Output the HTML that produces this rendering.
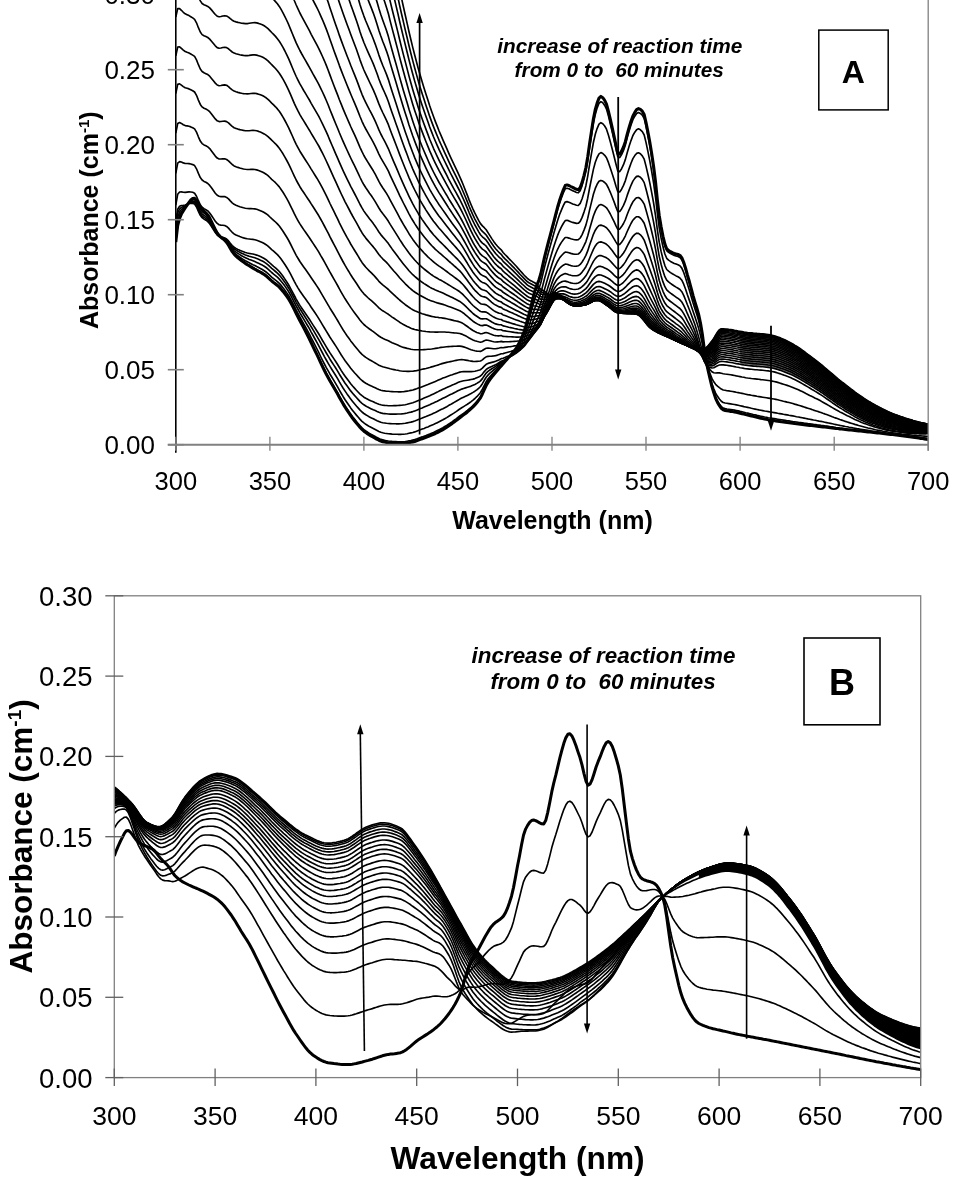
<!DOCTYPE html><html><head><meta charset="utf-8"><style>html,body{margin:0;padding:0;background:#fff;}svg{display:block;will-change:transform;}text{font-family:"Liberation Sans",sans-serif;}</style></head><body>
<svg width="966" height="1186" viewBox="0 0 966 1186">
<rect width="966" height="1186" fill="#fff"/>
<defs><clipPath id="ca"><rect x="175.8" y="-20" width="752.4000000000001" height="464.7"/></clipPath>
<clipPath id="cb"><rect x="114.3" y="595.8" width="806.4" height="481.79999999999995"/></clipPath></defs>
<g clip-path="url(#ca)"><polygon points="740.1,331.3 742.0,331.6 743.9,332.0 745.7,332.2 747.6,332.5 749.5,332.7 751.4,332.9 753.3,333.1 755.1,333.2 757.0,333.4 758.9,333.5 760.8,333.7 762.7,333.9 764.6,334.1 766.4,334.3 768.3,334.5 770.2,334.8 772.1,335.2 774.0,335.7 775.8,336.2 777.7,336.9 779.6,337.6 781.5,338.4 783.4,339.2 785.2,340.1 787.1,341.0 789.0,341.9 790.9,342.9 792.8,343.9 794.6,345.1 796.5,346.3 798.4,347.5 800.3,348.8 802.2,350.1 804.1,351.5 805.9,352.9 807.8,354.3 809.7,355.7 811.6,357.1 813.5,358.6 815.3,360.0 817.2,361.4 819.1,362.9 821.0,364.4 822.9,366.0 824.7,367.6 826.6,369.2 828.5,370.8 830.4,372.4 832.3,374.0 834.2,375.6 836.0,377.2 837.9,378.8 839.8,380.3 841.7,381.8 843.6,383.2 845.4,384.7 847.3,386.2 849.2,387.6 851.1,389.1 853.0,390.5 854.8,391.9 856.7,393.3 858.6,394.7 860.5,396.0 862.4,397.3 864.2,398.5 866.1,399.7 868.0,400.9 869.9,402.0 871.8,403.1 873.7,404.2 875.5,405.2 877.4,406.2 879.3,407.3 881.2,408.2 883.1,409.2 884.9,410.1 886.8,411.0 888.7,411.9 890.6,412.7 892.5,413.5 894.3,414.2 896.2,414.9 898.1,415.6 900.0,416.2 901.9,416.9 903.7,417.5 905.6,418.2 907.5,418.8 909.4,419.4 911.3,419.9 913.2,420.5 915.0,421.0 916.9,421.5 918.8,422.0 920.7,422.5 922.6,422.9 924.4,423.3 926.3,423.7 928.2,424.0 928.2,431.6 926.3,431.7 924.4,431.8 922.6,431.9 920.7,431.9 918.8,431.9 916.9,431.8 915.0,431.8 913.2,431.7 911.3,431.6 909.4,431.4 907.5,431.2 905.6,431.1 903.7,430.9 901.9,430.6 900.0,430.4 898.1,430.1 896.2,429.8 894.3,429.5 892.5,429.2 890.6,428.8 888.7,428.4 886.8,427.9 884.9,427.4 883.1,426.9 881.2,426.3 879.3,425.7 877.4,425.0 875.5,424.3 873.7,423.6 871.8,422.9 869.9,422.2 868.0,421.4 866.1,420.6 864.2,419.7 862.4,418.8 860.5,417.9 858.6,416.8 856.7,415.8 854.8,414.7 853.0,413.6 851.1,412.5 849.2,411.3 847.3,410.2 845.4,409.0 843.6,407.8 841.7,406.6 839.8,405.4 837.9,404.2 836.0,402.9 834.2,401.5 832.3,400.2 830.4,398.8 828.5,397.5 826.6,396.1 824.7,394.8 822.9,393.4 821.0,392.2 819.1,390.9 817.2,389.7 815.3,388.5 813.5,387.4 811.6,386.2 809.7,385.1 807.8,383.9 805.9,382.7 804.1,381.6 802.2,380.5 800.3,379.4 798.4,378.3 796.5,377.3 794.6,376.3 792.8,375.3 790.9,374.5 789.0,373.7 787.1,372.9 785.2,372.2 783.4,371.5 781.5,370.8 779.6,370.1 777.7,369.5 775.8,368.9 774.0,368.4 772.1,368.0 770.2,367.7 768.3,367.4 766.4,367.2 764.6,367.0 762.7,366.8 760.8,366.7 758.9,366.5 757.0,366.4 755.1,366.2 753.3,366.1 751.4,365.9 749.5,365.7 747.6,365.5 745.7,365.2 743.9,365.0 742.0,364.6 740.1,364.3" fill="#000" fill-opacity="0.55"/><polyline points="175.8,242.2 177.7,225.6 179.6,218.4 181.4,214.1 183.3,210.9 185.2,208.0 187.1,205.1 189.0,202.3 190.8,200.0 192.7,198.5 194.6,198.2 196.5,200.2 198.4,203.8 200.3,207.4 202.1,209.6 204.0,211.2 205.9,212.8 207.8,214.9 209.7,217.9 211.5,221.6 213.4,225.6 215.3,229.5 217.2,232.9 219.1,235.4 220.9,237.2 222.8,238.7 224.7,240.3 226.6,242.4 228.5,245.3 230.3,248.5 232.2,251.7 234.1,254.2 236.0,256.1 237.9,257.8 239.8,259.3 241.6,260.7 243.5,262.1 245.4,263.4 247.3,264.7 249.2,265.8 251.0,267.0 252.9,268.1 254.8,269.2 256.7,270.3 258.6,271.3 260.4,272.3 262.3,273.4 264.2,274.6 266.1,275.9 268.0,277.6 269.9,279.3 271.7,281.0 273.6,282.6 275.5,284.0 277.4,285.5 279.3,287.2 281.1,289.2 283.0,291.4 284.9,293.8 286.8,296.4 288.7,299.2 290.5,302.3 292.4,305.9 294.3,309.7 296.2,313.5 298.1,317.2 299.9,320.8 301.8,324.3 303.7,327.9 305.6,331.5 307.5,335.2 309.4,339.0 311.2,342.9 313.1,346.8 315.0,350.8 316.9,354.7 318.8,358.7 320.6,362.7 322.5,366.6 324.4,370.5 326.3,374.2 328.2,377.7 330.0,381.0 331.9,384.2 333.8,387.4 335.7,390.7 337.6,394.1 339.4,397.5 341.3,400.8 343.2,404.1 345.1,407.2 347.0,410.1 348.9,413.0 350.7,415.7 352.6,418.3 354.5,420.7 356.4,423.1 358.3,425.4 360.1,427.5 362.0,429.5 363.9,431.2 365.8,432.6 367.7,433.9 369.5,435.1 371.4,436.2 373.3,437.2 375.2,438.3 377.1,439.3 378.9,440.3 380.8,441.1 382.7,441.7 384.6,442.1 386.5,442.5 388.4,442.8 390.2,443.0 392.1,443.2 394.0,443.3 395.9,443.5 397.8,443.6 399.6,443.6 401.5,443.6 403.4,443.6 405.3,443.4 407.2,443.1 409.0,442.8 410.9,442.4 412.8,442.0 414.7,441.5 416.6,440.8 418.4,440.1 420.3,439.4 422.2,438.8 424.1,438.1 426.0,437.4 427.9,436.7 429.7,435.9 431.6,435.1 433.5,434.3 435.4,433.5 437.3,432.6 439.1,431.6 441.0,430.7 442.9,429.6 444.8,428.5 446.7,427.3 448.5,426.0 450.4,424.7 452.3,423.4 454.2,422.0 456.1,420.6 457.9,419.2 459.8,417.8 461.7,416.3 463.6,414.9 465.5,413.5 467.4,412.0 469.2,410.4 471.1,408.7 473.0,406.9 474.9,404.9 476.8,402.8 478.6,400.4 480.5,397.8 482.4,394.0 484.3,389.7 486.2,385.6 488.0,382.5 489.9,379.7 491.8,377.1 493.7,374.7 495.6,372.5 497.5,370.3 499.3,368.1 501.2,366.0 503.1,363.8 505.0,361.5 506.9,359.4 508.7,357.3 510.6,355.3 512.5,353.1 514.4,350.7 516.3,348.1 518.1,345.0 520.0,341.2 521.9,337.0 523.8,332.2 525.7,326.5 527.5,319.7 529.4,312.7 531.3,305.1 533.2,297.1 535.1,289.9 537.0,284.7 538.8,280.2 540.7,274.0 542.6,265.6 544.5,257.2 546.4,249.7 548.2,242.6 550.1,235.6 552.0,228.5 553.9,221.3 555.8,214.0 557.6,207.0 559.5,200.6 561.4,195.0 563.3,189.8 565.2,185.5 567.0,184.9 568.9,185.5 570.8,186.5 572.7,187.4 574.6,188.4 576.5,189.3 578.3,189.7 580.2,187.5 582.1,182.3 584.0,175.3 585.9,167.6 587.7,156.9 589.6,143.5 591.5,131.1 593.4,118.8 595.3,109.4 597.1,103.1 599.0,98.1 600.9,96.4 602.8,97.7 604.7,100.3 606.5,104.2 608.4,111.2 610.3,119.2 612.2,127.6 614.1,136.3 616.0,145.4 617.8,153.3 619.7,154.1 621.6,151.1 623.5,146.9 625.4,141.4 627.2,134.2 629.1,127.4 631.0,121.3 632.9,115.9 634.8,112.4 636.6,109.6 638.5,108.6 640.4,109.4 642.3,111.2 644.2,114.5 646.0,122.4 647.9,131.9 649.8,142.0 651.7,153.6 653.6,166.3 655.5,181.5 657.3,199.1 659.2,215.2 661.1,226.6 663.0,236.3 664.9,244.1 666.7,248.7 668.6,250.5 670.5,251.7 672.4,252.7 674.3,253.4 676.1,254.0 678.0,254.5 679.9,255.3 681.8,257.6 683.7,262.2 685.6,268.2 687.4,274.9 689.3,281.3 691.2,288.3 693.1,295.6 695.0,302.1 696.8,308.0 698.7,314.6 700.6,323.5 702.5,335.1 704.4,349.6 706.2,361.8 708.1,370.3 710.0,378.6 711.9,386.6 713.8,392.9 715.6,398.3 717.5,402.4 719.4,405.7 721.3,408.4 723.2,409.9 725.1,410.5 726.9,410.8 728.8,411.1 730.7,411.4 732.6,411.6 734.5,412.0 736.3,412.4 738.2,412.8 740.1,413.2 742.0,413.7 743.9,414.1 745.7,414.6 747.6,415.0 749.5,415.5 751.4,416.0 753.3,416.4 755.1,416.9 757.0,417.3 758.9,417.7 760.8,418.2 762.7,418.6 764.6,419.0 766.4,419.3 768.3,419.7 770.2,420.0 772.1,420.3 774.0,420.6 775.8,420.9 777.7,421.2 779.6,421.5 781.5,421.8 783.4,422.0 785.2,422.3 787.1,422.6 789.0,422.8 790.9,423.1 792.8,423.3 794.6,423.6 796.5,423.8 798.4,424.0 800.3,424.3 802.2,424.5 804.1,424.7 805.9,424.9 807.8,425.2 809.7,425.4 811.6,425.6 813.5,425.8 815.3,426.0 817.2,426.2 819.1,426.5 821.0,426.7 822.9,426.9 824.7,427.1 826.6,427.3 828.5,427.5 830.4,427.8 832.3,428.0 834.2,428.2 836.0,428.4 837.9,428.6 839.8,428.9 841.7,429.1 843.6,429.3 845.4,429.5 847.3,429.7 849.2,429.9 851.1,430.1 853.0,430.3 854.8,430.5 856.7,430.7 858.6,430.9 860.5,431.1 862.4,431.3 864.2,431.5 866.1,431.7 868.0,431.9 869.9,432.1 871.8,432.3 873.7,432.5 875.5,432.7 877.4,432.9 879.3,433.1 881.2,433.3 883.1,433.5 884.9,433.7 886.8,433.9 888.7,434.2 890.6,434.4 892.5,434.6 894.3,434.8 896.2,435.1 898.1,435.3 900.0,435.5 901.9,435.8 903.7,436.0 905.6,436.3 907.5,436.5 909.4,436.8 911.3,437.0 913.2,437.3 915.0,437.6 916.9,437.8 918.8,438.1 920.7,438.4 922.6,438.6 924.4,438.9 926.3,439.2 928.2,439.4" fill="none" stroke="#000" stroke-width="3.0" stroke-linejoin="round"/>
<polyline points="175.8,241.2 177.7,224.8 179.6,217.8 181.4,213.6 183.3,210.6 185.2,207.9 187.1,205.0 189.0,202.4 190.8,200.2 192.7,198.7 194.6,198.5 196.5,200.5 198.4,204.2 200.3,207.8 202.1,210.0 204.0,211.6 205.9,213.1 207.8,215.2 209.7,218.2 211.5,221.8 213.4,225.8 215.3,229.6 217.2,233.0 219.1,235.5 220.9,237.2 222.8,238.6 224.7,240.2 226.6,242.2 228.5,245.1 230.3,248.3 232.2,251.4 234.1,253.9 236.0,255.7 237.9,257.4 239.8,258.9 241.6,260.3 243.5,261.6 245.4,262.9 247.3,264.1 249.2,265.2 251.0,266.3 252.9,267.4 254.8,268.5 256.7,269.5 258.6,270.6 260.4,271.6 262.3,272.6 264.2,273.8 266.1,275.1 268.0,276.8 269.9,278.5 271.7,280.3 273.6,281.8 275.5,283.2 277.4,284.7 279.3,286.4 281.1,288.4 283.0,290.7 284.9,293.1 286.8,295.7 288.7,298.5 290.5,301.7 292.4,305.2 294.3,309.0 296.2,312.8 298.1,316.5 299.9,320.0 301.8,323.6 303.7,327.1 305.6,330.7 307.5,334.3 309.4,338.1 311.2,341.9 313.1,345.8 315.0,349.7 316.9,353.6 318.8,357.5 320.6,361.4 322.5,365.4 324.4,369.2 326.3,372.9 328.2,376.3 330.0,379.6 331.9,382.9 333.8,386.1 335.7,389.3 337.6,392.6 339.4,396.0 341.3,399.4 343.2,402.6 345.1,405.7 347.0,408.6 348.9,411.4 350.7,414.1 352.6,416.7 354.5,419.1 356.4,421.5 358.3,423.8 360.1,425.9 362.0,427.9 363.9,429.6 365.8,431.0 367.7,432.3 369.5,433.4 371.4,434.5 373.3,435.5 375.2,436.5 377.1,437.6 378.9,438.5 380.8,439.4 382.7,439.9 384.6,440.4 386.5,440.7 388.4,441.0 390.2,441.2 392.1,441.4 394.0,441.5 395.9,441.6 397.8,441.7 399.6,441.8 401.5,441.8 403.4,441.7 405.3,441.5 407.2,441.2 409.0,440.9 410.9,440.6 412.8,440.1 414.7,439.6 416.6,438.9 418.4,438.2 420.3,437.5 422.2,436.9 424.1,436.2 426.0,435.5 427.9,434.7 429.7,434.0 431.6,433.2 433.5,432.4 435.4,431.5 437.3,430.6 439.1,429.7 441.0,428.7 442.9,427.7 444.8,426.5 446.7,425.4 448.5,424.1 450.4,422.9 452.3,421.6 454.2,420.2 456.1,418.8 457.9,417.4 459.8,416.0 461.7,414.7 463.6,413.3 465.5,411.9 467.4,410.4 469.2,408.9 471.1,407.3 473.0,405.5 474.9,403.6 476.8,401.6 478.6,399.3 480.5,396.7 482.4,393.1 484.3,388.8 486.2,384.9 488.0,381.8 489.9,379.1 491.8,376.6 493.7,374.3 495.6,372.1 497.5,370.0 499.3,367.9 501.2,365.8 503.1,363.6 505.0,361.4 506.9,359.3 508.7,357.3 510.6,355.3 512.5,353.2 514.4,350.9 516.3,348.3 518.1,345.3 520.0,341.7 521.9,337.5 523.8,332.8 525.7,327.2 527.5,320.7 529.4,313.8 531.3,306.4 533.2,298.6 535.1,291.5 537.0,286.4 538.8,281.9 540.7,275.8 542.6,267.5 544.5,259.2 546.4,251.8 548.2,244.7 550.1,237.7 552.0,230.8 553.9,223.6 555.8,216.5 557.6,209.7 559.5,203.5 561.4,198.0 563.3,193.0 565.2,188.8 567.0,188.2 568.9,188.8 570.8,189.8 572.7,190.7 574.6,191.6 576.5,192.5 578.3,192.8 580.2,190.6 582.1,185.6 584.0,178.8 585.9,171.2 587.7,160.8 589.6,147.6 591.5,135.5 593.4,123.5 595.3,114.4 597.1,108.1 599.0,103.3 600.9,101.6 602.8,102.8 604.7,105.4 606.5,109.1 608.4,115.9 610.3,123.7 612.2,131.8 614.1,140.2 616.0,149.1 617.8,156.8 619.7,157.6 621.6,154.6 623.5,150.4 625.4,144.9 627.2,137.8 629.1,131.1 631.0,125.1 632.9,119.7 634.8,116.2 636.6,113.5 638.5,112.5 640.4,113.4 642.3,115.2 644.2,118.5 646.0,126.3 647.9,135.8 649.8,145.7 651.7,157.1 653.6,169.6 655.5,184.5 657.3,201.8 659.2,217.6 661.1,228.9 663.0,238.4 664.9,246.1 666.7,250.6 668.6,252.4 670.5,253.6 672.4,254.6 674.3,255.4 676.1,256.0 678.0,256.5 679.9,257.4 681.8,259.6 683.7,264.2 685.6,270.2 687.4,276.7 689.3,283.0 691.2,289.9 693.1,297.1 695.0,303.5 696.8,309.4 698.7,315.9 700.6,324.7 702.5,336.1 704.4,350.1 706.2,362.0 708.1,370.1 710.0,378.1 711.9,385.8 713.8,391.9 715.6,397.0 717.5,400.8 719.4,404.0 721.3,406.6 723.2,408.0 725.1,408.6 726.9,409.0 728.8,409.2 730.7,409.5 732.6,409.8 734.5,410.1 736.3,410.5 738.2,410.9 740.1,411.4 742.0,411.8 743.9,412.2 745.7,412.7 747.6,413.1 749.5,413.6 751.4,414.0 753.3,414.5 755.1,414.9 757.0,415.4 758.9,415.8 760.8,416.2 762.7,416.6 764.6,417.0 766.4,417.3 768.3,417.7 770.2,418.0 772.1,418.3 774.0,418.6 775.8,418.9 777.7,419.2 779.6,419.5 781.5,419.8 783.4,420.1 785.2,420.4 787.1,420.7 789.0,420.9 790.9,421.2 792.8,421.5 794.6,421.7 796.5,422.0 798.4,422.3 800.3,422.5 802.2,422.8 804.1,423.1 805.9,423.3 807.8,423.6 809.7,423.8 811.6,424.1 813.5,424.4 815.3,424.6 817.2,424.9 819.1,425.1 821.0,425.4 822.9,425.6 824.7,425.9 826.6,426.1 828.5,426.4 830.4,426.7 832.3,426.9 834.2,427.2 836.0,427.5 837.9,427.7 839.8,428.0 841.7,428.2 843.6,428.5 845.4,428.7 847.3,429.0 849.2,429.2 851.1,429.5 853.0,429.7 854.8,429.9 856.7,430.2 858.6,430.4 860.5,430.6 862.4,430.8 864.2,431.1 866.1,431.3 868.0,431.5 869.9,431.7 871.8,432.0 873.7,432.2 875.5,432.4 877.4,432.6 879.3,432.8 881.2,433.1 883.1,433.3 884.9,433.5 886.8,433.7 888.7,434.0 890.6,434.2 892.5,434.4 894.3,434.7 896.2,434.9 898.1,435.1 900.0,435.4 901.9,435.6 903.7,435.9 905.6,436.1 907.5,436.4 909.4,436.6 911.3,436.9 913.2,437.1 915.0,437.4 916.9,437.6 918.8,437.9 920.7,438.1 922.6,438.4 924.4,438.6 926.3,438.9 928.2,439.2" fill="none" stroke="#000" stroke-width="1.65" stroke-linejoin="round"/>
<polyline points="175.8,237.1 177.7,221.6 179.6,215.5 181.4,212.0 183.3,209.5 185.2,207.3 187.1,204.9 189.0,202.6 190.8,200.8 192.7,199.7 194.6,199.6 196.5,201.8 198.4,205.7 200.3,209.3 202.1,211.6 204.0,213.1 205.9,214.6 207.8,216.5 209.7,219.3 211.5,222.8 213.4,226.6 215.3,230.2 217.2,233.4 219.1,235.7 220.9,237.2 222.8,238.4 224.7,239.7 226.6,241.6 228.5,244.2 230.3,247.2 232.2,250.2 234.1,252.5 236.0,254.2 237.9,255.8 239.8,257.1 241.6,258.4 243.5,259.6 245.4,260.8 247.3,261.8 249.2,262.8 251.0,263.7 252.9,264.7 254.8,265.6 256.7,266.6 258.6,267.5 260.4,268.5 262.3,269.5 264.2,270.7 266.1,272.0 268.0,273.6 269.9,275.4 271.7,277.1 273.6,278.6 275.5,280.1 277.4,281.6 279.3,283.4 281.1,285.4 283.0,287.7 284.9,290.2 286.8,292.9 288.7,295.7 290.5,298.9 292.4,302.5 294.3,306.2 296.2,310.0 298.1,313.6 299.9,317.0 301.8,320.4 303.7,323.8 305.6,327.2 307.5,330.6 309.4,334.2 311.2,337.8 313.1,341.5 315.0,345.2 316.9,348.9 318.8,352.7 320.6,356.5 322.5,360.3 324.4,364.0 326.3,367.6 328.2,370.9 330.0,374.2 331.9,377.3 333.8,380.4 335.7,383.6 337.6,386.9 339.4,390.2 341.3,393.5 343.2,396.7 345.1,399.7 347.0,402.5 348.9,405.3 350.7,407.9 352.6,410.4 354.5,412.8 356.4,415.1 358.3,417.3 360.1,419.4 362.0,421.3 363.9,422.9 365.8,424.3 367.7,425.5 369.5,426.6 371.4,427.6 373.3,428.6 375.2,429.6 377.1,430.6 378.9,431.5 380.8,432.3 382.7,432.8 384.6,433.2 386.5,433.5 388.4,433.8 390.2,433.9 392.1,434.1 394.0,434.2 395.9,434.2 397.8,434.3 399.6,434.3 401.5,434.3 403.4,434.2 405.3,434.0 407.2,433.7 409.0,433.3 410.9,432.9 412.8,432.5 414.7,431.9 416.6,431.2 418.4,430.5 420.3,429.8 422.2,429.1 424.1,428.4 426.0,427.6 427.9,426.9 429.7,426.1 431.6,425.3 433.5,424.5 435.4,423.6 437.3,422.7 439.1,421.8 441.0,420.8 442.9,419.8 444.8,418.7 446.7,417.6 448.5,416.5 450.4,415.3 452.3,414.1 454.2,412.9 456.1,411.6 457.9,410.3 459.8,409.0 461.7,407.8 463.6,406.6 465.5,405.4 467.4,404.2 469.2,403.0 471.1,401.6 473.0,400.1 474.9,398.5 476.8,396.7 478.6,394.7 480.5,392.5 482.4,389.2 484.3,385.3 486.2,381.7 488.0,379.0 489.9,376.7 491.8,374.5 493.7,372.5 495.6,370.6 497.5,368.7 499.3,366.8 501.2,364.9 503.1,363.0 505.0,361.0 506.9,359.1 508.7,357.4 510.6,355.6 512.5,353.7 514.4,351.6 516.3,349.3 518.1,346.6 520.0,343.3 521.9,339.6 523.8,335.4 525.7,330.4 527.5,324.5 529.4,318.3 531.3,311.6 533.2,304.5 535.1,298.1 537.0,293.3 538.8,289.0 540.7,283.2 542.6,275.3 544.5,267.3 546.4,260.2 548.2,253.3 550.1,246.5 552.0,239.8 553.9,233.0 555.8,226.5 557.6,220.4 559.5,214.8 561.4,210.1 563.3,205.7 565.2,202.0 567.0,201.6 568.9,202.2 570.8,203.1 572.7,203.9 574.6,204.6 576.5,205.3 578.3,205.5 580.2,203.4 582.1,198.8 584.0,192.6 585.9,185.7 587.7,176.3 589.6,164.4 591.5,153.4 593.4,142.5 595.3,134.2 597.1,128.6 599.0,124.2 600.9,122.7 602.8,123.8 604.7,126.0 606.5,129.2 608.4,135.0 610.3,141.8 612.2,149.0 614.1,156.5 616.0,164.3 617.8,171.1 619.7,171.6 621.6,168.7 623.5,164.7 625.4,159.4 627.2,152.7 629.1,146.3 631.0,140.6 632.9,135.5 634.8,132.2 636.6,129.7 638.5,128.8 640.4,129.8 642.3,131.7 644.2,135.0 646.0,142.4 647.9,151.4 649.8,160.8 651.7,171.5 653.6,183.2 655.5,197.0 657.3,213.0 659.2,227.6 661.1,238.0 663.0,246.8 664.9,254.0 666.7,258.3 668.6,260.1 670.5,261.4 672.4,262.4 674.3,263.4 676.1,264.1 678.0,264.8 679.9,265.8 681.8,268.1 683.7,272.4 685.6,278.0 687.4,284.1 689.3,290.0 691.2,296.4 693.1,303.1 695.0,309.1 696.8,314.6 698.7,320.7 700.6,328.7 702.5,339.1 704.4,351.8 706.2,362.4 708.1,369.7 710.0,376.7 711.9,383.5 713.8,388.8 715.6,393.1 717.5,396.3 719.4,399.0 721.3,401.2 723.2,402.5 725.1,403.0 726.9,403.3 728.8,403.6 730.7,403.9 732.6,404.2 734.5,404.5 736.3,404.9 738.2,405.3 740.1,405.7 742.0,406.1 743.9,406.6 745.7,407.0 747.6,407.4 749.5,407.8 751.4,408.3 753.3,408.7 755.1,409.1 757.0,409.5 758.9,409.9 760.8,410.2 762.7,410.6 764.6,411.0 766.4,411.3 768.3,411.6 770.2,412.0 772.1,412.3 774.0,412.6 775.8,412.9 777.7,413.3 779.6,413.6 781.5,413.9 783.4,414.3 785.2,414.6 787.1,414.9 789.0,415.3 790.9,415.6 792.8,415.9 794.6,416.3 796.5,416.7 798.4,417.0 800.3,417.4 802.2,417.7 804.1,418.1 805.9,418.5 807.8,418.9 809.7,419.2 811.6,419.6 813.5,420.0 815.3,420.3 817.2,420.7 819.1,421.1 821.0,421.4 822.9,421.8 824.7,422.2 826.6,422.6 828.5,423.0 830.4,423.4 832.3,423.8 834.2,424.2 836.0,424.6 837.9,425.0 839.8,425.4 841.7,425.7 843.6,426.1 845.4,426.5 847.3,426.8 849.2,427.2 851.1,427.5 853.0,427.9 854.8,428.2 856.7,428.6 858.6,428.9 860.5,429.2 862.4,429.5 864.2,429.8 866.1,430.1 868.0,430.4 869.9,430.7 871.8,431.0 873.7,431.3 875.5,431.6 877.4,431.8 879.3,432.1 881.2,432.4 883.1,432.6 884.9,432.9 886.8,433.2 888.7,433.4 890.6,433.7 892.5,433.9 894.3,434.2 896.2,434.4 898.1,434.6 900.0,434.9 901.9,435.1 903.7,435.3 905.6,435.6 907.5,435.8 909.4,436.1 911.3,436.3 913.2,436.5 915.0,436.8 916.9,437.0 918.8,437.2 920.7,437.4 922.6,437.6 924.4,437.9 926.3,438.1 928.2,438.3" fill="none" stroke="#000" stroke-width="1.65" stroke-linejoin="round"/>
<polyline points="175.8,231.3 177.7,217.1 179.6,212.1 181.4,209.6 183.3,208.0 185.2,206.5 187.1,204.7 189.0,203.0 190.8,201.7 192.7,201.1 194.6,201.2 196.5,203.7 198.4,207.7 200.3,211.5 202.1,213.8 204.0,215.3 205.9,216.7 207.8,218.4 209.7,221.0 211.5,224.2 213.4,227.7 215.3,231.1 217.2,234.0 219.1,236.0 220.9,237.2 222.8,238.0 224.7,239.1 226.6,240.6 228.5,243.0 230.3,245.8 232.2,248.5 234.1,250.6 236.0,252.1 237.9,253.4 239.8,254.6 241.6,255.7 243.5,256.8 245.4,257.7 247.3,258.6 249.2,259.4 251.0,260.1 252.9,260.8 254.8,261.6 256.7,262.4 258.6,263.3 260.4,264.2 262.3,265.1 264.2,266.2 266.1,267.5 268.0,269.1 269.9,270.8 271.7,272.5 273.6,274.1 275.5,275.6 277.4,277.2 279.3,279.1 281.1,281.2 283.0,283.6 284.9,286.1 286.8,288.9 288.7,291.8 290.5,295.0 292.4,298.6 294.3,302.3 296.2,306.0 298.1,309.5 299.9,312.8 301.8,316.0 303.7,319.1 305.6,322.3 307.5,325.5 309.4,328.7 311.2,332.1 313.1,335.5 315.0,339.0 316.9,342.4 318.8,345.9 320.6,349.4 322.5,353.0 324.4,356.6 326.3,360.0 328.2,363.3 330.0,366.4 331.9,369.5 333.8,372.5 335.7,375.5 337.6,378.7 339.4,381.9 341.3,385.1 343.2,388.2 345.1,391.1 347.0,393.9 348.9,396.5 350.7,399.1 352.6,401.5 354.5,403.8 356.4,406.0 358.3,408.1 360.1,410.1 362.0,412.0 363.9,413.5 365.8,414.8 367.7,415.9 369.5,417.0 371.4,417.9 373.3,418.8 375.2,419.8 377.1,420.7 378.9,421.5 380.8,422.3 382.7,422.7 384.6,423.0 386.5,423.3 388.4,423.5 390.2,423.6 392.1,423.7 394.0,423.7 395.9,423.8 397.8,423.8 399.6,423.8 401.5,423.7 403.4,423.5 405.3,423.3 407.2,422.9 409.0,422.5 410.9,422.1 412.8,421.6 414.7,421.0 416.6,420.3 418.4,419.5 420.3,418.8 422.2,418.1 424.1,417.3 426.0,416.6 427.9,415.8 429.7,415.0 431.6,414.2 433.5,413.3 435.4,412.5 437.3,411.5 439.1,410.6 441.0,409.6 442.9,408.7 444.8,407.7 446.7,406.7 448.5,405.6 450.4,404.6 452.3,403.5 454.2,402.4 456.1,401.3 457.9,400.2 459.8,399.1 461.7,398.1 463.6,397.2 465.5,396.3 467.4,395.4 469.2,394.5 471.1,393.5 473.0,392.4 474.9,391.2 476.8,389.8 478.6,388.3 480.5,386.5 482.4,383.7 484.3,380.3 486.2,377.2 488.0,375.1 489.9,373.2 491.8,371.6 493.7,370.0 495.6,368.4 497.5,366.9 499.3,365.2 501.2,363.6 503.1,362.1 505.0,360.5 506.9,358.9 508.7,357.4 510.6,355.9 512.5,354.3 514.4,352.6 516.3,350.7 518.1,348.4 520.0,345.7 521.9,342.6 523.8,339.1 525.7,334.9 527.5,329.9 529.4,324.7 531.3,319.1 533.2,313.0 535.1,307.5 537.0,303.1 538.8,299.1 540.7,293.6 542.6,286.3 544.5,278.7 546.4,272.0 548.2,265.4 550.1,258.9 552.0,252.5 553.9,246.3 555.8,240.6 557.6,235.4 559.5,230.8 561.4,226.9 563.3,223.5 565.2,220.6 567.0,220.3 568.9,220.9 570.8,221.7 572.7,222.4 574.6,222.9 576.5,223.4 578.3,223.3 580.2,221.4 582.1,217.4 584.0,212.1 585.9,206.2 587.7,198.2 589.6,188.0 591.5,178.7 593.4,169.4 595.3,162.3 597.1,157.5 599.0,153.9 600.9,152.6 602.8,153.5 604.7,155.3 606.5,157.7 608.4,162.4 610.3,167.9 612.2,173.7 614.1,179.8 616.0,186.3 617.8,191.8 619.7,192.0 621.6,189.2 623.5,185.4 625.4,180.6 627.2,174.4 629.1,168.6 631.0,163.3 632.9,158.6 634.8,155.6 636.6,153.4 638.5,152.8 640.4,153.8 642.3,155.9 644.2,159.2 646.0,166.1 647.9,174.3 649.8,182.9 651.7,192.6 653.6,203.0 655.5,215.3 657.3,229.3 659.2,242.2 661.1,251.4 663.0,259.2 664.9,265.6 666.7,269.5 668.6,271.2 670.5,272.6 672.4,273.8 674.3,274.9 676.1,275.9 678.0,276.8 679.9,278.0 681.8,280.2 683.7,284.2 685.6,289.3 687.4,294.8 689.3,300.1 691.2,305.7 693.1,311.6 695.0,317.1 696.8,322.6 698.7,328.6 700.6,336.1 702.5,344.9 704.4,355.1 706.2,363.3 708.1,368.7 710.0,373.6 711.9,378.4 713.8,381.8 715.6,384.3 717.5,386.1 719.4,387.7 721.3,389.1 723.2,390.0 725.1,390.3 726.9,390.7 728.8,390.9 730.7,391.2 732.6,391.5 734.5,391.9 736.3,392.3 738.2,392.6 740.1,393.0 742.0,393.4 743.9,393.8 745.7,394.2 747.6,394.6 749.5,394.9 751.4,395.3 753.3,395.6 755.1,395.9 757.0,396.3 758.9,396.6 760.8,396.9 762.7,397.2 764.6,397.5 766.4,397.8 768.3,398.1 770.2,398.4 772.1,398.7 774.0,399.0 775.8,399.4 777.7,399.8 779.6,400.3 781.5,400.7 783.4,401.2 785.2,401.6 787.1,402.1 789.0,402.5 790.9,403.0 792.8,403.5 794.6,404.1 796.5,404.6 798.4,405.2 800.3,405.8 802.2,406.4 804.1,407.0 805.9,407.6 807.8,408.2 809.7,408.8 811.6,409.4 813.5,410.1 815.3,410.7 817.2,411.3 819.1,411.9 821.0,412.6 822.9,413.3 824.7,413.9 826.6,414.6 828.5,415.3 830.4,416.0 832.3,416.8 834.2,417.5 836.0,418.1 837.9,418.8 839.8,419.5 841.7,420.1 843.6,420.7 845.4,421.4 847.3,422.0 849.2,422.6 851.1,423.2 853.0,423.8 854.8,424.4 856.7,424.9 858.6,425.5 860.5,426.0 862.4,426.5 864.2,427.0 866.1,427.5 868.0,428.0 869.9,428.4 871.8,428.8 873.7,429.2 875.5,429.7 877.4,430.1 879.3,430.4 881.2,430.8 883.1,431.2 884.9,431.5 886.8,431.8 888.7,432.2 890.6,432.5 892.5,432.7 894.3,433.0 896.2,433.3 898.1,433.5 900.0,433.7 901.9,434.0 903.7,434.2 905.6,434.4 907.5,434.6 909.4,434.8 911.3,435.0 913.2,435.2 915.0,435.4 916.9,435.6 918.8,435.7 920.7,435.8 922.6,436.0 924.4,436.1 926.3,436.2 928.2,436.3" fill="none" stroke="#000" stroke-width="1.65" stroke-linejoin="round"/>
<polyline points="175.8,225.9 177.7,213.0 179.6,209.0 181.4,207.4 183.3,206.6 185.2,205.7 187.1,204.5 189.0,203.3 190.8,202.6 192.7,202.3 194.6,202.7 196.5,205.4 198.4,209.6 200.3,213.6 202.1,215.9 204.0,217.3 205.9,218.6 207.8,220.1 209.7,222.5 211.5,225.5 213.4,228.7 215.3,231.9 217.2,234.6 219.1,236.2 220.9,237.1 222.8,237.7 224.7,238.5 226.6,239.8 228.5,241.9 230.3,244.4 232.2,246.9 234.1,248.8 236.0,250.1 237.9,251.3 239.8,252.3 241.6,253.3 243.5,254.1 245.4,254.9 247.3,255.6 249.2,256.2 251.0,256.7 252.9,257.2 254.8,257.8 256.7,258.5 258.6,259.3 260.4,260.2 262.3,261.1 264.2,262.1 266.1,263.4 268.0,264.9 269.9,266.7 271.7,268.3 273.6,269.9 275.5,271.5 277.4,273.1 279.3,275.1 281.1,277.3 283.0,279.7 284.9,282.4 286.8,285.2 288.7,288.2 290.5,291.4 292.4,295.0 294.3,298.7 296.2,302.3 298.1,305.7 299.9,308.8 301.8,311.8 303.7,314.8 305.6,317.7 307.5,320.7 309.4,323.7 311.2,326.8 313.1,329.9 315.0,333.1 316.9,336.3 318.8,339.6 320.6,342.9 322.5,346.3 324.4,349.7 326.3,353.0 328.2,356.2 330.0,359.2 331.9,362.2 333.8,365.1 335.7,368.0 337.6,371.1 339.4,374.2 341.3,377.3 343.2,380.3 345.1,383.2 347.0,385.8 348.9,388.4 350.7,390.9 352.6,393.2 354.5,395.4 356.4,397.5 358.3,399.6 360.1,401.6 362.0,403.3 363.9,404.8 365.8,406.0 367.7,407.1 369.5,408.0 371.4,408.9 373.3,409.8 375.2,410.6 377.1,411.5 378.9,412.3 380.8,412.9 382.7,413.4 384.6,413.6 386.5,413.8 388.4,414.0 390.2,414.1 392.1,414.1 394.0,414.1 395.9,414.1 397.8,414.0 399.6,414.0 401.5,413.9 403.4,413.7 405.3,413.4 407.2,413.0 409.0,412.5 410.9,412.1 412.8,411.6 414.7,410.9 416.6,410.2 418.4,409.4 420.3,408.6 422.2,407.9 424.1,407.1 426.0,406.3 427.9,405.5 429.7,404.7 431.6,403.8 433.5,403.0 435.4,402.1 437.3,401.2 439.1,400.2 441.0,399.3 442.9,398.3 444.8,397.4 446.7,396.5 448.5,395.6 450.4,394.6 452.3,393.7 454.2,392.7 456.1,391.8 457.9,390.8 459.8,389.9 461.7,389.1 463.6,388.5 465.5,387.9 467.4,387.3 469.2,386.7 471.1,386.1 473.0,385.3 474.9,384.5 476.8,383.4 478.6,382.3 480.5,380.9 482.4,378.6 484.3,375.7 486.2,373.1 488.0,371.4 489.9,370.0 491.8,368.8 493.7,367.6 495.6,366.4 497.5,365.2 499.3,363.8 501.2,362.4 503.1,361.3 505.0,360.0 506.9,358.7 508.7,357.5 510.6,356.2 512.5,355.0 514.4,353.5 516.3,352.0 518.1,350.1 520.0,347.9 521.9,345.3 523.8,342.5 525.7,339.0 527.5,335.0 529.4,330.7 531.3,325.9 533.2,320.9 535.1,316.1 537.0,312.1 538.8,308.4 540.7,303.3 542.6,296.4 544.5,289.4 546.4,283.0 548.2,276.7 550.1,270.4 552.0,264.3 553.9,258.5 555.8,253.5 557.6,249.3 559.5,245.5 561.4,242.4 563.3,239.7 565.2,237.5 567.0,237.5 568.9,238.1 570.8,238.8 572.7,239.3 574.6,239.7 576.5,239.9 578.3,239.7 580.2,238.0 582.1,234.6 584.0,230.1 585.9,225.1 587.7,218.4 589.6,209.9 591.5,202.1 593.4,194.3 595.3,188.4 597.1,184.3 599.0,181.3 600.9,180.4 602.8,181.1 604.7,182.5 606.5,184.4 608.4,188.0 610.3,192.3 612.2,197.0 614.1,201.9 616.0,207.1 617.8,211.6 619.7,211.5 621.6,208.9 623.5,205.4 625.4,200.9 627.2,195.4 629.1,190.1 631.0,185.3 632.9,181.1 634.8,178.4 636.6,176.4 638.5,176.1 640.4,177.2 642.3,179.4 644.2,182.6 646.0,189.0 647.9,196.5 649.8,204.3 651.7,212.9 653.6,222.1 655.5,232.8 657.3,245.1 659.2,256.2 661.1,264.3 663.0,271.1 664.9,276.7 666.7,280.2 668.6,281.9 670.5,283.4 672.4,284.7 674.3,286.0 676.1,287.1 678.0,288.2 679.9,289.5 681.8,291.7 683.7,295.4 685.6,300.0 687.4,304.8 689.3,309.5 691.2,314.5 693.1,319.6 695.0,324.8 696.8,330.7 698.7,337.2 700.6,344.4 702.5,351.9 704.4,359.3 706.2,364.5 708.1,367.4 710.0,369.6 711.9,371.7 713.8,372.8 715.6,373.0 717.5,372.9 719.4,372.9 721.3,373.3 723.2,373.7 725.1,374.0 726.9,374.2 728.8,374.5 730.7,374.8 732.6,375.1 734.5,375.5 736.3,375.9 738.2,376.2 740.1,376.6 742.0,377.0 743.9,377.3 745.7,377.7 747.6,378.0 749.5,378.2 751.4,378.5 753.3,378.7 755.1,378.9 757.0,379.1 758.9,379.3 760.8,379.6 762.7,379.8 764.6,380.0 766.4,380.2 768.3,380.5 770.2,380.8 772.1,381.1 774.0,381.5 775.8,381.9 777.7,382.4 779.6,383.0 781.5,383.6 783.4,384.2 785.2,384.8 787.1,385.4 789.0,386.0 790.9,386.7 792.8,387.4 794.6,388.2 796.5,389.0 798.4,389.8 800.3,390.7 802.2,391.6 804.1,392.5 805.9,393.5 807.8,394.4 809.7,395.4 811.6,396.3 813.5,397.2 815.3,398.2 817.2,399.1 819.1,400.1 821.0,401.1 822.9,402.2 824.7,403.2 826.6,404.3 828.5,405.4 830.4,406.5 832.3,407.6 834.2,408.7 836.0,409.8 837.9,410.8 839.8,411.9 841.7,412.8 843.6,413.8 845.4,414.7 847.3,415.7 849.2,416.6 851.1,417.6 853.0,418.5 854.8,419.4 856.7,420.2 858.6,421.1 860.5,421.9 862.4,422.7 864.2,423.4 866.1,424.1 868.0,424.8 869.9,425.4 871.8,426.0 873.7,426.6 875.5,427.2 877.4,427.7 879.3,428.3 881.2,428.8 883.1,429.3 884.9,429.7 886.8,430.1 888.7,430.5 890.6,430.9 892.5,431.2 894.3,431.5 896.2,431.8 898.1,432.0 900.0,432.3 901.9,432.5 903.7,432.7 905.6,432.9 907.5,433.1 909.4,433.2 911.3,433.4 913.2,433.5 915.0,433.6 916.9,433.7 918.8,433.8 920.7,433.8 922.6,433.8 924.4,433.8 926.3,433.8 928.2,433.7" fill="none" stroke="#000" stroke-width="1.65" stroke-linejoin="round"/>
<polyline points="175.8,221.2 177.7,209.3 179.6,206.3 181.4,205.5 183.3,205.3 185.2,205.0 187.1,204.3 189.0,203.6 190.8,203.3 192.7,203.4 194.6,204.1 196.5,207.0 198.4,211.3 200.3,215.3 202.1,217.7 204.0,219.1 205.9,220.2 207.8,221.6 209.7,223.8 211.5,226.6 213.4,229.6 215.3,232.6 217.2,235.0 219.1,236.5 220.9,237.1 222.8,237.4 224.7,238.0 226.6,239.0 228.5,240.9 230.3,243.2 232.2,245.5 234.1,247.2 236.0,248.4 237.9,249.4 239.8,250.3 241.6,251.1 243.5,251.8 245.4,252.5 247.3,253.0 249.2,253.4 251.0,253.7 252.9,254.0 254.8,254.5 256.7,255.1 258.6,255.8 260.4,256.6 262.3,257.5 264.2,258.5 266.1,259.7 268.0,261.3 269.9,263.0 271.7,264.7 273.6,266.3 275.5,267.8 277.4,269.6 279.3,271.5 281.1,273.8 283.0,276.3 284.9,279.1 286.8,282.0 288.7,285.0 290.5,288.3 292.4,291.9 294.3,295.5 296.2,299.1 298.1,302.4 299.9,305.4 301.8,308.2 303.7,311.0 305.6,313.7 307.5,316.5 309.4,319.3 311.2,322.1 313.1,325.1 315.0,328.0 316.9,331.0 318.8,334.0 320.6,337.2 322.5,340.5 324.4,343.7 326.3,346.9 328.2,350.0 330.0,352.9 331.9,355.8 333.8,358.6 335.7,361.5 337.6,364.5 339.4,367.5 341.3,370.6 343.2,373.5 345.1,376.2 347.0,378.8 348.9,381.3 350.7,383.7 352.6,386.0 354.5,388.1 356.4,390.2 358.3,392.2 360.1,394.1 362.0,395.7 363.9,397.2 365.8,398.3 367.7,399.3 369.5,400.2 371.4,401.1 373.3,401.8 375.2,402.7 377.1,403.5 378.9,404.2 380.8,404.8 382.7,405.2 384.6,405.4 386.5,405.5 388.4,405.7 390.2,405.7 392.1,405.7 394.0,405.6 395.9,405.6 397.8,405.5 399.6,405.4 401.5,405.3 403.4,405.0 405.3,404.7 407.2,404.3 409.0,403.8 410.9,403.3 412.8,402.8 414.7,402.1 416.6,401.3 418.4,400.5 420.3,399.7 422.2,398.9 424.1,398.1 426.0,397.3 427.9,396.5 429.7,395.7 431.6,394.8 433.5,393.9 435.4,393.0 437.3,392.1 439.1,391.1 441.0,390.2 442.9,389.3 444.8,388.4 446.7,387.6 448.5,386.7 450.4,385.9 452.3,385.1 454.2,384.3 456.1,383.4 457.9,382.6 459.8,381.8 461.7,381.3 463.6,380.8 465.5,380.5 467.4,380.2 469.2,379.9 471.1,379.5 473.0,379.1 474.9,378.6 476.8,377.8 478.6,377.0 480.5,376.0 482.4,374.1 484.3,371.6 486.2,369.5 488.0,368.2 489.9,367.3 491.8,366.4 493.7,365.6 495.6,364.7 497.5,363.7 499.3,362.5 501.2,361.3 503.1,360.6 505.0,359.5 506.9,358.5 508.7,357.5 510.6,356.5 512.5,355.5 514.4,354.4 516.3,353.1 518.1,351.6 520.0,349.8 521.9,347.7 523.8,345.4 525.7,342.7 527.5,339.4 529.4,335.8 531.3,332.0 533.2,327.8 535.1,323.7 537.0,320.1 538.8,316.5 540.7,311.8 542.6,305.3 544.5,298.7 546.4,292.6 548.2,286.5 550.1,280.4 552.0,274.6 553.9,269.2 555.8,264.8 557.6,261.2 559.5,258.1 561.4,255.7 563.3,253.7 565.2,252.1 567.0,252.2 568.9,252.8 570.8,253.4 572.7,253.9 574.6,254.2 576.5,254.2 578.3,254.0 580.2,252.4 582.1,249.5 584.0,245.7 585.9,241.6 587.7,236.0 589.6,229.0 591.5,222.5 593.4,216.0 595.3,211.1 597.1,207.7 599.0,205.3 600.9,204.6 602.8,205.3 604.7,206.4 606.5,207.8 608.4,210.6 610.3,214.0 612.2,217.8 614.1,221.7 616.0,225.9 617.8,229.3 619.7,229.1 621.6,226.6 623.5,223.5 625.4,219.5 627.2,214.5 629.1,209.8 631.0,205.5 632.9,201.8 634.8,199.4 636.6,197.7 638.5,197.5 640.4,198.8 642.3,201.0 644.2,204.1 646.0,210.0 647.9,216.9 649.8,223.9 651.7,231.5 653.6,239.6 655.5,248.9 657.3,259.4 659.2,269.0 661.1,275.9 663.0,281.9 664.9,286.7 666.7,289.9 668.6,291.6 670.5,293.1 672.4,294.5 674.3,295.9 676.1,297.2 678.0,298.4 679.9,299.9 681.8,302.0 683.7,305.4 685.6,309.4 687.4,313.7 689.3,317.8 691.2,322.2 693.1,326.6 695.0,331.4 696.8,337.0 698.7,343.3 700.6,349.9 702.5,356.2 704.4,361.7 706.2,365.2 708.1,366.6 710.0,367.4 711.9,368.0 713.8,367.8 715.6,366.8 717.5,365.7 719.4,365.0 721.3,364.8 723.2,364.9 725.1,365.1 726.9,365.3 728.8,365.6 730.7,365.9 732.6,366.2 734.5,366.6 736.3,367.0 738.2,367.3 740.1,367.7 742.0,368.0 743.9,368.4 745.7,368.7 747.6,368.9 749.5,369.1 751.4,369.3 753.3,369.5 755.1,369.7 757.0,369.8 758.9,370.0 760.8,370.1 762.7,370.3 764.6,370.5 766.4,370.7 768.3,370.9 770.2,371.2 772.1,371.5 774.0,371.9 775.8,372.4 777.7,373.0 779.6,373.6 781.5,374.3 783.4,374.9 785.2,375.6 787.1,376.3 789.0,377.0 790.9,377.8 792.8,378.7 794.6,379.6 796.5,380.5 798.4,381.5 800.3,382.5 802.2,383.6 804.1,384.7 805.9,385.8 807.8,386.9 809.7,388.0 811.6,389.2 813.5,390.3 815.3,391.4 817.2,392.5 819.1,393.7 821.0,394.9 822.9,396.1 824.7,397.4 826.6,398.7 828.5,400.0 830.4,401.3 832.3,402.7 834.2,404.0 836.0,405.2 837.9,406.5 839.8,407.7 841.7,408.9 843.6,410.0 845.4,411.2 847.3,412.3 849.2,413.4 851.1,414.5 853.0,415.6 854.8,416.7 856.7,417.7 858.6,418.7 860.5,419.7 862.4,420.6 864.2,421.5 866.1,422.3 868.0,423.1 869.9,423.8 871.8,424.5 873.7,425.2 875.5,425.8 877.4,426.5 879.3,427.1 881.2,427.7 883.1,428.2 884.9,428.7 886.8,429.2 888.7,429.7 890.6,430.0 892.5,430.4 894.3,430.7 896.2,431.0 898.1,431.2 900.0,431.5 901.9,431.7 903.7,431.9 905.6,432.1 907.5,432.2 909.4,432.4 911.3,432.5 913.2,432.6 915.0,432.7 916.9,432.7 918.8,432.7 920.7,432.7 922.6,432.6 924.4,432.6 926.3,432.5 928.2,432.3" fill="none" stroke="#000" stroke-width="1.65" stroke-linejoin="round"/>
<polyline points="175.8,205.2 177.7,194.2 179.6,192.0 181.4,191.9 183.3,192.2 185.2,192.4 187.1,192.1 189.0,191.9 190.8,192.0 192.7,192.3 194.6,193.2 196.5,196.2 198.4,200.7 200.3,204.8 202.1,207.2 204.0,208.6 205.9,209.7 207.8,210.9 209.7,213.0 211.5,215.5 213.4,218.4 215.3,221.2 217.2,223.4 219.1,224.7 220.9,225.1 222.8,225.2 224.7,225.5 226.6,226.4 228.5,228.1 230.3,230.2 232.2,232.3 234.1,233.9 236.0,234.9 237.9,235.8 239.8,236.6 241.6,237.3 243.5,237.9 245.4,238.4 247.3,238.8 249.2,239.0 251.0,239.2 252.9,239.4 254.8,239.7 256.7,240.2 258.6,240.9 260.4,241.7 262.3,242.5 264.2,243.5 266.1,244.7 268.0,246.2 269.9,247.9 271.7,249.6 273.6,251.2 275.5,252.9 277.4,254.6 279.3,256.7 281.1,259.1 283.0,261.7 284.9,264.5 286.8,267.5 288.7,270.6 290.5,273.9 292.4,277.6 294.3,281.3 296.2,284.8 298.1,288.1 299.9,291.0 301.8,293.8 303.7,296.5 305.6,299.1 307.5,301.7 309.4,304.4 311.2,307.2 313.1,310.0 315.0,312.8 316.9,315.6 318.8,318.6 320.6,321.6 322.5,324.8 324.4,328.0 326.3,331.2 328.2,334.3 330.0,337.2 331.9,340.1 333.8,343.0 335.7,345.9 337.6,348.9 339.4,351.9 341.3,355.0 343.2,357.9 345.1,360.7 347.0,363.3 348.9,365.8 350.7,368.2 352.6,370.5 354.5,372.7 356.4,374.8 358.3,376.9 360.1,378.8 362.0,380.5 363.9,382.0 365.8,383.2 367.7,384.3 369.5,385.2 371.4,386.1 373.3,386.9 375.2,387.8 377.1,388.7 378.9,389.5 380.8,390.2 382.7,390.6 384.6,390.9 386.5,391.2 388.4,391.3 390.2,391.5 392.1,391.6 394.0,391.7 395.9,391.7 397.8,391.8 399.6,391.8 401.5,391.8 403.4,391.7 405.3,391.4 407.2,391.1 409.0,390.8 410.9,390.4 412.8,390.0 414.7,389.4 416.6,388.8 418.4,388.1 420.3,387.4 422.2,386.7 424.1,386.0 426.0,385.3 427.9,384.6 429.7,383.8 431.6,383.0 433.5,382.2 435.4,381.4 437.3,380.6 439.1,379.7 441.0,378.9 442.9,378.1 444.8,377.4 446.7,376.7 448.5,376.0 450.4,375.3 452.3,374.7 454.2,374.0 456.1,373.4 457.9,372.7 459.8,372.1 461.7,371.8 463.6,371.6 465.5,371.6 467.4,371.6 469.2,371.6 471.1,371.6 473.0,371.5 474.9,371.2 476.8,370.8 478.6,370.3 480.5,369.7 482.4,368.1 484.3,366.1 486.2,364.3 488.0,363.4 489.9,362.9 491.8,362.4 493.7,361.9 495.6,361.3 497.5,360.5 499.3,359.7 501.2,358.6 503.1,358.3 505.0,357.4 506.9,356.6 508.7,355.9 510.6,355.1 512.5,354.4 514.4,353.5 516.3,352.5 518.1,351.3 520.0,350.0 521.9,348.4 523.8,346.6 525.7,344.4 527.5,341.8 529.4,338.9 531.3,335.8 533.2,332.4 535.1,328.9 537.0,325.6 538.8,322.4 540.7,318.0 542.6,312.0 544.5,305.8 546.4,300.0 548.2,294.3 550.1,288.5 552.0,282.9 553.9,277.9 555.8,274.0 557.6,271.0 559.5,268.5 561.4,266.6 563.3,265.2 565.2,264.1 567.0,264.3 568.9,264.9 570.8,265.6 572.7,266.0 574.6,266.2 576.5,266.1 578.3,265.8 580.2,264.4 582.1,262.0 584.0,258.8 585.9,255.4 587.7,250.9 589.6,245.1 591.5,239.7 593.4,234.3 595.3,230.2 597.1,227.5 599.0,225.5 600.9,225.1 602.8,225.7 604.7,226.6 606.5,227.8 608.4,230.0 610.3,232.6 612.2,235.6 614.1,238.8 616.0,242.1 617.8,244.8 619.7,244.4 621.6,242.2 623.5,239.4 625.4,235.8 627.2,231.5 629.1,227.3 631.0,223.5 632.9,220.2 634.8,218.1 636.6,216.7 638.5,216.7 640.4,218.0 642.3,220.2 644.2,223.3 646.0,228.7 647.9,235.0 649.8,241.3 651.7,248.0 653.6,255.0 655.5,263.1 657.3,272.1 659.2,280.3 661.1,286.2 663.0,291.3 664.9,295.5 666.7,298.3 668.6,300.0 670.5,301.5 672.4,302.9 674.3,304.3 676.1,305.7 678.0,307.1 679.9,308.5 681.8,310.6 683.7,313.6 685.6,317.2 687.4,320.9 689.3,324.5 691.2,328.2 693.1,332.0 695.0,336.1 696.8,340.8 698.7,346.1 700.6,351.7 702.5,356.9 704.4,361.4 706.2,364.2 708.1,365.2 710.0,365.6 711.9,365.9 713.8,365.4 715.6,364.0 717.5,362.7 719.4,361.8 721.3,361.4 723.2,361.5 725.1,361.7 726.9,361.9 728.8,362.2 730.7,362.5 732.6,362.8 734.5,363.2 736.3,363.6 738.2,363.9 740.1,364.3 742.0,364.6 743.9,365.0 745.7,365.2 747.6,365.5 749.5,365.7 751.4,365.9 753.3,366.1 755.1,366.2 757.0,366.4 758.9,366.5 760.8,366.7 762.7,366.8 764.6,367.0 766.4,367.2 768.3,367.4 770.2,367.7 772.1,368.0 774.0,368.4 775.8,368.9 777.7,369.5 779.6,370.1 781.5,370.8 783.4,371.5 785.2,372.2 787.1,372.9 789.0,373.7 790.9,374.5 792.8,375.3 794.6,376.3 796.5,377.3 798.4,378.3 800.3,379.4 802.2,380.5 804.1,381.6 805.9,382.7 807.8,383.9 809.7,385.1 811.6,386.2 813.5,387.4 815.3,388.5 817.2,389.7 819.1,390.9 821.0,392.2 822.9,393.4 824.7,394.8 826.6,396.1 828.5,397.5 830.4,398.8 832.3,400.2 834.2,401.5 836.0,402.9 837.9,404.2 839.8,405.4 841.7,406.6 843.6,407.8 845.4,409.0 847.3,410.2 849.2,411.3 851.1,412.5 853.0,413.6 854.8,414.7 856.7,415.8 858.6,416.8 860.5,417.9 862.4,418.8 864.2,419.7 866.1,420.6 868.0,421.4 869.9,422.2 871.8,422.9 873.7,423.6 875.5,424.3 877.4,425.0 879.3,425.7 881.2,426.3 883.1,426.9 884.9,427.4 886.8,427.9 888.7,428.4 890.6,428.8 892.5,429.2 894.3,429.5 896.2,429.8 898.1,430.1 900.0,430.4 901.9,430.6 903.7,430.9 905.6,431.1 907.5,431.2 909.4,431.4 911.3,431.6 913.2,431.7 915.0,431.8 916.9,431.8 918.8,431.9 920.7,431.9 922.6,431.9 924.4,431.8 926.3,431.7 928.2,431.6" fill="none" stroke="#000" stroke-width="1.65" stroke-linejoin="round"/>
<polyline points="175.8,173.4 177.7,163.1 179.6,161.6 181.4,162.0 183.3,162.9 185.2,163.5 187.1,163.5 189.0,163.6 190.8,164.0 192.7,164.6 194.6,165.6 196.5,168.8 198.4,173.4 200.3,177.6 202.1,180.0 204.0,181.4 205.9,182.3 207.8,183.5 209.7,185.4 211.5,187.8 213.4,190.5 215.3,193.2 217.2,195.3 219.1,196.3 220.9,196.6 222.8,196.5 224.7,196.6 226.6,197.4 228.5,198.9 230.3,200.9 232.2,202.8 234.1,204.3 236.0,205.2 237.9,206.0 239.8,206.7 241.6,207.2 243.5,207.8 245.4,208.2 247.3,208.5 249.2,208.6 251.0,208.6 252.9,208.7 254.8,208.9 256.7,209.3 258.6,210.0 260.4,210.7 262.3,211.5 264.2,212.5 266.1,213.7 268.0,215.2 269.9,217.0 271.7,218.7 273.6,220.3 275.5,222.0 277.4,223.9 279.3,226.0 281.1,228.5 283.0,231.2 284.9,234.2 286.8,237.3 288.7,240.5 290.5,244.0 292.4,247.8 294.3,251.6 296.2,255.3 298.1,258.5 299.9,261.5 301.8,264.3 303.7,267.0 305.6,269.6 307.5,272.3 309.4,275.0 311.2,277.7 313.1,280.5 315.0,283.3 316.9,286.1 318.8,289.0 320.6,292.1 322.5,295.3 324.4,298.6 326.3,301.9 328.2,305.1 330.0,308.2 331.9,311.2 333.8,314.3 335.7,317.4 337.6,320.5 339.4,323.7 341.3,326.9 343.2,330.0 345.1,332.9 347.0,335.7 348.9,338.3 350.7,340.9 352.6,343.3 354.5,345.7 356.4,348.0 358.3,350.2 360.1,352.4 362.0,354.3 363.9,356.0 365.8,357.4 367.7,358.6 369.5,359.7 371.4,360.8 373.3,361.9 375.2,363.0 377.1,364.1 378.9,365.2 380.8,366.1 382.7,366.8 384.6,367.3 386.5,367.8 388.4,368.3 390.2,368.8 392.1,369.2 394.0,369.6 395.9,370.0 397.8,370.3 399.6,370.7 401.5,371.0 403.4,371.2 405.3,371.3 407.2,371.4 409.0,371.4 410.9,371.3 412.8,371.2 414.7,370.9 416.6,370.6 418.4,370.2 420.3,369.8 422.2,369.3 424.1,368.9 426.0,368.5 427.9,368.0 429.7,367.5 431.6,366.9 433.5,366.4 435.4,365.8 437.3,365.2 439.1,364.6 441.0,363.9 442.9,363.4 444.8,362.9 446.7,362.4 448.5,362.0 450.4,361.6 452.3,361.2 454.2,360.8 456.1,360.4 457.9,360.0 459.8,359.7 461.7,359.6 463.6,359.8 465.5,360.1 467.4,360.4 469.2,360.8 471.1,361.1 473.0,361.4 474.9,361.5 476.8,361.4 478.6,361.3 480.5,361.0 482.4,359.9 484.3,358.2 486.2,356.8 488.0,356.4 489.9,356.2 491.8,356.1 493.7,355.9 495.6,355.6 497.5,355.1 499.3,354.4 501.2,353.7 503.1,353.6 505.0,353.0 506.9,352.5 508.7,352.0 510.6,351.5 512.5,350.9 514.4,350.3 516.3,349.7 518.1,348.8 520.0,347.8 521.9,346.7 523.8,345.4 525.7,343.7 527.5,341.7 529.4,339.5 531.3,337.0 533.2,334.2 535.1,331.3 537.0,328.5 538.8,325.6 540.7,321.6 542.6,316.2 544.5,310.4 546.4,305.2 548.2,299.9 550.1,294.4 552.0,289.1 553.9,284.5 555.8,281.1 557.6,278.6 559.5,276.6 561.4,275.2 563.3,274.3 565.2,273.6 567.0,274.0 568.9,274.7 570.8,275.3 572.7,275.7 574.6,275.8 576.5,275.7 578.3,275.4 580.2,274.2 582.1,272.1 584.0,269.5 585.9,266.7 587.7,263.0 589.6,258.2 591.5,253.7 593.4,249.3 595.3,245.9 597.1,243.6 599.0,242.2 600.9,241.9 602.8,242.5 604.7,243.3 606.5,244.3 608.4,246.0 610.3,248.2 612.2,250.6 614.1,253.2 616.0,255.9 617.8,257.9 619.7,257.5 621.6,255.5 623.5,253.0 625.4,249.9 627.2,246.1 629.1,242.5 631.0,239.2 632.9,236.3 634.8,234.4 636.6,233.2 638.5,233.4 640.4,234.8 642.3,237.0 644.2,240.1 646.0,245.0 647.9,250.7 649.8,256.4 651.7,262.3 653.6,268.4 655.5,275.3 657.3,283.0 659.2,289.9 661.1,295.0 663.0,299.4 664.9,303.1 666.7,305.6 668.6,307.2 670.5,308.6 672.4,310.1 674.3,311.5 676.1,312.9 678.0,314.3 679.9,315.8 681.8,317.7 683.7,320.4 685.6,323.6 687.4,326.8 689.3,329.9 691.2,333.1 693.1,336.3 695.0,339.8 696.8,343.8 698.7,348.2 700.6,352.8 702.5,357.1 704.4,360.8 706.2,363.1 708.1,363.9 710.0,364.1 711.9,364.1 713.8,363.4 715.6,361.9 717.5,360.5 719.4,359.4 721.3,359.0 723.2,359.1 725.1,359.3 726.9,359.5 728.8,359.7 730.7,360.1 732.6,360.4 734.5,360.7 736.3,361.1 738.2,361.5 740.1,361.8 742.0,362.2 743.9,362.5 745.7,362.8 747.6,363.0 749.5,363.2 751.4,363.4 753.3,363.6 755.1,363.7 757.0,363.9 758.9,364.0 760.8,364.2 762.7,364.3 764.6,364.5 766.4,364.7 768.3,365.0 770.2,365.2 772.1,365.5 774.0,366.0 775.8,366.5 777.7,367.1 779.6,367.7 781.5,368.4 783.4,369.1 785.2,369.8 787.1,370.5 789.0,371.3 790.9,372.1 792.8,373.0 794.6,373.9 796.5,374.9 798.4,376.0 800.3,377.1 802.2,378.2 804.1,379.3 805.9,380.5 807.8,381.7 809.7,382.9 811.6,384.1 813.5,385.2 815.3,386.4 817.2,387.6 819.1,388.8 821.0,390.1 822.9,391.4 824.7,392.8 826.6,394.1 828.5,395.5 830.4,396.9 832.3,398.3 834.2,399.6 836.0,401.0 837.9,402.3 839.8,403.6 841.7,404.8 843.6,406.0 845.4,407.2 847.3,408.4 849.2,409.6 851.1,410.8 853.0,412.0 854.8,413.1 856.7,414.2 858.6,415.3 860.5,416.3 862.4,417.3 864.2,418.2 866.1,419.1 868.0,419.9 869.9,420.7 871.8,421.5 873.7,422.3 875.5,423.0 877.4,423.7 879.3,424.4 881.2,425.0 883.1,425.6 884.9,426.2 886.8,426.7 888.7,427.2 890.6,427.7 892.5,428.1 894.3,428.5 896.2,428.8 898.1,429.1 900.0,429.4 901.9,429.7 903.7,429.9 905.6,430.1 907.5,430.4 909.4,430.6 911.3,430.7 913.2,430.9 915.0,431.0 916.9,431.1 918.8,431.2 920.7,431.2 922.6,431.2 924.4,431.2 926.3,431.1 928.2,431.0" fill="none" stroke="#000" stroke-width="1.65" stroke-linejoin="round"/>
<polyline points="175.8,133.2 177.7,123.6 179.6,122.6 181.4,123.4 183.3,124.7 185.2,125.6 187.1,125.9 189.0,126.3 190.8,126.9 192.7,127.7 194.6,128.9 196.5,132.1 198.4,136.8 200.3,141.1 202.1,143.6 204.0,144.9 205.9,145.8 207.8,146.9 209.7,148.6 211.5,151.0 213.4,153.5 215.3,156.1 217.2,158.1 219.1,159.0 220.9,159.0 222.8,158.8 224.7,158.8 226.6,159.5 228.5,160.9 230.3,162.7 232.2,164.5 234.1,165.9 236.0,166.7 237.9,167.4 239.8,168.0 241.6,168.5 243.5,169.0 245.4,169.3 247.3,169.5 249.2,169.5 251.0,169.4 252.9,169.4 254.8,169.5 256.7,169.9 258.6,170.5 260.4,171.2 262.3,172.0 264.2,173.0 266.1,174.2 268.0,175.7 269.9,177.5 271.7,179.3 273.6,181.0 275.5,182.7 277.4,184.7 279.3,186.9 281.1,189.5 283.0,192.3 284.9,195.4 286.8,198.7 288.7,202.1 290.5,205.8 292.4,209.7 294.3,213.7 296.2,217.4 298.1,220.8 299.9,223.9 301.8,226.8 303.7,229.6 305.6,232.3 307.5,235.0 309.4,237.7 311.2,240.5 313.1,243.4 315.0,246.2 316.9,249.1 318.8,252.1 320.6,255.3 322.5,258.5 324.4,261.9 326.3,265.4 328.2,268.8 330.0,272.2 331.9,275.5 333.8,278.8 335.7,282.1 337.6,285.5 339.4,288.9 341.3,292.3 343.2,295.6 345.1,298.8 347.0,301.7 348.9,304.6 350.7,307.4 352.6,310.1 354.5,312.7 356.4,315.2 358.3,317.8 360.1,320.2 362.0,322.5 363.9,324.5 365.8,326.1 367.7,327.6 369.5,329.0 371.4,330.3 373.3,331.7 375.2,333.1 377.1,334.6 378.9,336.0 380.8,337.3 382.7,338.3 384.6,339.2 386.5,340.0 388.4,340.8 390.2,341.8 392.1,342.7 394.0,343.5 395.9,344.3 397.8,345.1 399.6,345.9 401.5,346.7 403.4,347.4 405.3,347.9 407.2,348.4 409.0,348.8 410.9,349.2 412.8,349.5 414.7,349.7 416.6,349.7 418.4,349.7 420.3,349.7 422.2,349.7 424.1,349.6 426.0,349.5 427.9,349.3 429.7,349.2 431.6,349.0 433.5,348.7 435.4,348.4 437.3,348.1 439.1,347.8 441.0,347.4 442.9,347.2 444.8,347.0 446.7,346.8 448.5,346.6 450.4,346.5 452.3,346.4 454.2,346.3 456.1,346.2 457.9,346.1 459.8,346.1 461.7,346.4 463.6,346.9 465.5,347.5 467.4,348.2 469.2,349.0 471.1,349.7 473.0,350.3 474.9,350.8 476.8,351.1 478.6,351.2 480.5,351.4 482.4,350.5 484.3,349.2 486.2,348.3 488.0,348.1 489.9,348.3 491.8,348.5 493.7,348.7 495.6,348.7 497.5,348.4 499.3,348.0 501.2,347.5 503.1,347.7 505.0,347.4 506.9,347.1 508.7,346.8 510.6,346.6 512.5,346.3 514.4,345.9 516.3,345.5 518.1,345.0 520.0,344.4 521.9,343.6 523.8,342.7 525.7,341.6 527.5,340.1 529.4,338.4 531.3,336.4 533.2,334.3 535.1,331.9 537.0,329.4 538.8,326.9 540.7,323.4 542.6,318.5 544.5,313.3 546.4,308.6 548.2,303.8 550.1,298.7 552.0,293.7 553.9,289.4 555.8,286.5 557.6,284.5 559.5,282.9 561.4,281.9 563.3,281.3 565.2,281.1 567.0,281.6 568.9,282.3 570.8,282.9 572.7,283.3 574.6,283.5 576.5,283.4 578.3,283.0 580.2,282.0 582.1,280.2 584.0,278.1 585.9,275.8 587.7,272.7 589.6,268.8 591.5,265.0 593.4,261.4 595.3,258.6 597.1,256.7 599.0,255.6 600.9,255.5 602.8,256.2 604.7,256.9 606.5,257.8 608.4,259.2 610.3,261.0 612.2,263.1 614.1,265.2 616.0,267.3 617.8,268.9 619.7,268.5 621.6,266.8 623.5,264.6 625.4,261.9 627.2,258.6 629.1,255.5 631.0,252.6 632.9,250.1 634.8,248.4 636.6,247.5 638.5,247.8 640.4,249.2 642.3,251.5 644.2,254.4 646.0,259.0 647.9,264.2 649.8,269.3 651.7,274.5 653.6,279.8 655.5,285.7 657.3,292.2 659.2,298.2 661.1,302.5 663.0,306.3 664.9,309.4 666.7,311.7 668.6,313.2 670.5,314.6 672.4,316.0 674.3,317.5 676.1,318.9 678.0,320.3 679.9,321.8 681.8,323.6 683.7,326.0 685.6,328.8 687.4,331.6 689.3,334.3 691.2,337.1 693.1,339.8 695.0,342.7 696.8,346.0 698.7,349.6 700.6,353.4 702.5,356.9 704.4,360.1 706.2,362.1 708.1,362.6 710.0,362.6 711.9,362.5 713.8,361.6 715.6,360.0 717.5,358.4 719.4,357.2 721.3,356.8 723.2,356.9 725.1,357.1 726.9,357.3 728.8,357.6 730.7,357.9 732.6,358.2 734.5,358.5 736.3,358.9 738.2,359.3 740.1,359.6 742.0,360.0 743.9,360.3 745.7,360.6 747.6,360.8 749.5,361.0 751.4,361.2 753.3,361.4 755.1,361.5 757.0,361.7 758.9,361.8 760.8,362.0 762.7,362.1 764.6,362.3 766.4,362.5 768.3,362.8 770.2,363.0 772.1,363.3 774.0,363.8 775.8,364.3 777.7,364.9 779.6,365.5 781.5,366.2 783.4,366.9 785.2,367.6 787.1,368.4 789.0,369.1 790.9,370.0 792.8,370.9 794.6,371.8 796.5,372.9 798.4,373.9 800.3,375.0 802.2,376.2 804.1,377.3 805.9,378.5 807.8,379.7 809.7,380.9 811.6,382.1 813.5,383.3 815.3,384.5 817.2,385.7 819.1,386.9 821.0,388.2 822.9,389.6 824.7,390.9 826.6,392.3 828.5,393.7 830.4,395.1 832.3,396.5 834.2,397.9 836.0,399.3 837.9,400.6 839.8,401.9 841.7,403.2 843.6,404.4 845.4,405.6 847.3,406.8 849.2,408.0 851.1,409.2 853.0,410.4 854.8,411.6 856.7,412.7 858.6,413.8 860.5,414.8 862.4,415.8 864.2,416.8 866.1,417.7 868.0,418.6 869.9,419.4 871.8,420.2 873.7,420.9 875.5,421.7 877.4,422.4 879.3,423.1 881.2,423.8 883.1,424.4 884.9,425.0 886.8,425.6 888.7,426.1 890.6,426.6 892.5,427.0 894.3,427.4 896.2,427.8 898.1,428.1 900.0,428.4 901.9,428.7 903.7,429.0 905.6,429.3 907.5,429.5 909.4,429.7 911.3,429.9 913.2,430.1 915.0,430.3 916.9,430.4 918.8,430.5 920.7,430.6 922.6,430.6 924.4,430.6 926.3,430.6 928.2,430.5" fill="none" stroke="#000" stroke-width="1.65" stroke-linejoin="round"/>
<polyline points="175.8,93.6 177.7,84.4 179.6,83.8 181.4,85.1 183.3,86.6 185.2,87.8 187.1,88.3 189.0,88.9 190.8,89.8 192.7,90.7 194.6,92.0 196.5,95.3 198.4,100.1 200.3,104.4 202.1,106.9 204.0,108.2 205.9,109.0 207.8,110.1 209.7,111.7 211.5,114.0 213.4,116.4 215.3,118.9 217.2,120.8 219.1,121.6 220.9,121.5 222.8,121.2 224.7,121.1 226.6,121.6 228.5,122.9 230.3,124.7 232.2,126.4 234.1,127.7 236.0,128.4 237.9,129.1 239.8,129.6 241.6,130.0 243.5,130.4 245.4,130.7 247.3,130.8 249.2,130.7 251.0,130.5 252.9,130.4 254.8,130.5 256.7,130.8 258.6,131.4 260.4,132.1 262.3,132.9 264.2,133.9 266.1,135.1 268.0,136.6 269.9,138.4 271.7,140.2 273.6,142.0 275.5,143.8 277.4,145.9 279.3,148.2 281.1,150.9 283.0,153.8 284.9,157.1 286.8,160.5 288.7,164.1 290.5,167.9 292.4,172.0 294.3,176.1 296.2,180.0 298.1,183.5 299.9,186.7 301.8,189.7 303.7,192.5 305.6,195.4 307.5,198.2 309.4,201.0 311.2,203.9 313.1,206.8 315.0,209.8 316.9,212.7 318.8,215.8 320.6,219.0 322.5,222.4 324.4,226.0 326.3,229.6 328.2,233.2 330.0,236.9 331.9,240.5 333.8,244.1 335.7,247.7 337.6,251.3 339.4,254.9 341.3,258.5 343.2,262.0 345.1,265.4 347.0,268.6 348.9,271.7 350.7,274.8 352.6,277.7 354.5,280.5 356.4,283.3 358.3,286.2 360.1,289.0 362.0,291.5 363.9,293.8 365.8,295.7 367.7,297.5 369.5,299.1 371.4,300.7 373.3,302.4 375.2,304.1 377.1,306.0 378.9,307.8 380.8,309.4 382.7,310.8 384.6,311.9 386.5,313.1 388.4,314.3 390.2,315.7 392.1,317.1 394.0,318.3 395.9,319.6 397.8,320.9 399.6,322.2 401.5,323.4 403.4,324.5 405.3,325.5 407.2,326.5 409.0,327.3 410.9,328.2 412.8,328.9 414.7,329.5 416.6,329.9 418.4,330.3 420.3,330.6 422.2,331.0 424.1,331.2 426.0,331.5 427.9,331.7 429.7,331.9 431.6,332.0 433.5,332.0 435.4,332.1 437.3,332.1 439.1,332.0 441.0,332.0 442.9,332.0 444.8,332.0 446.7,332.2 448.5,332.3 450.4,332.5 452.3,332.7 454.2,332.9 456.1,333.0 457.9,333.2 459.8,333.5 461.7,334.1 463.6,334.9 465.5,335.8 467.4,336.9 469.2,338.0 471.1,339.0 473.0,339.9 474.9,340.7 476.8,341.3 478.6,341.8 480.5,342.2 482.4,341.7 484.3,340.8 486.2,340.1 488.0,340.3 489.9,340.8 491.8,341.3 493.7,341.7 495.6,342.0 497.5,341.9 499.3,341.8 501.2,341.4 503.1,341.9 505.0,341.8 506.9,341.7 508.7,341.7 510.6,341.6 512.5,341.5 514.4,341.4 516.3,341.3 518.1,341.0 520.0,340.7 521.9,340.3 523.8,339.7 525.7,339.0 527.5,338.0 529.4,336.8 531.3,335.2 533.2,333.6 535.1,331.6 537.0,329.5 538.8,327.3 540.7,324.3 542.6,319.9 544.5,315.2 546.4,310.9 548.2,306.6 550.1,301.8 552.0,297.2 553.9,293.2 555.8,290.6 557.6,288.9 559.5,287.7 561.4,287.0 563.3,286.8 565.2,286.8 567.0,287.4 568.9,288.2 570.8,288.9 572.7,289.3 574.6,289.5 576.5,289.3 578.3,289.0 580.2,288.1 582.1,286.6 584.0,284.8 585.9,282.9 587.7,280.4 589.6,277.2 591.5,274.0 593.4,271.0 595.3,268.6 597.1,267.2 599.0,266.3 600.9,266.4 602.8,267.1 604.7,267.9 606.5,268.7 608.4,269.9 610.3,271.4 612.2,273.2 614.1,275.1 616.0,276.8 617.8,278.0 619.7,277.6 621.6,276.2 623.5,274.3 625.4,271.9 627.2,269.2 629.1,266.5 631.0,264.0 632.9,261.8 634.8,260.4 636.6,259.7 638.5,260.0 640.4,261.5 642.3,263.8 644.2,266.7 646.0,270.9 647.9,275.6 649.8,280.2 651.7,284.8 653.6,289.4 655.5,294.5 657.3,300.0 659.2,305.1 661.1,308.8 663.0,312.0 664.9,314.8 666.7,316.8 668.6,318.2 670.5,319.6 672.4,321.0 674.3,322.4 676.1,323.8 678.0,325.2 679.9,326.7 681.8,328.4 683.7,330.6 685.6,333.0 687.4,335.5 689.3,337.8 691.2,340.2 693.1,342.5 695.0,345.0 696.8,347.7 698.7,350.7 700.6,353.8 702.5,356.7 704.4,359.4 706.2,361.0 708.1,361.4 710.0,361.1 711.9,360.9 713.8,359.9 715.6,358.1 717.5,356.4 719.4,355.2 721.3,354.7 723.2,354.8 725.1,354.9 726.9,355.2 728.8,355.4 730.7,355.7 732.6,356.0 734.5,356.4 736.3,356.8 738.2,357.1 740.1,357.5 742.0,357.8 743.9,358.1 745.7,358.4 747.6,358.7 749.5,358.9 751.4,359.1 753.3,359.2 755.1,359.4 757.0,359.5 758.9,359.7 760.8,359.8 762.7,360.0 764.6,360.2 766.4,360.4 768.3,360.6 770.2,360.9 772.1,361.2 774.0,361.6 775.8,362.1 777.7,362.7 779.6,363.4 781.5,364.1 783.4,364.8 785.2,365.5 787.1,366.3 789.0,367.1 790.9,367.9 792.8,368.8 794.6,369.8 796.5,370.8 798.4,371.9 800.3,373.0 802.2,374.2 804.1,375.4 805.9,376.6 807.8,377.8 809.7,379.0 811.6,380.2 813.5,381.4 815.3,382.6 817.2,383.8 819.1,385.1 821.0,386.4 822.9,387.8 824.7,389.1 826.6,390.5 828.5,392.0 830.4,393.4 832.3,394.8 834.2,396.2 836.0,397.6 837.9,398.9 839.8,400.3 841.7,401.5 843.6,402.8 845.4,404.0 847.3,405.2 849.2,406.5 851.1,407.7 853.0,408.9 854.8,410.1 856.7,411.2 858.6,412.3 860.5,413.4 862.4,414.4 864.2,415.4 866.1,416.3 868.0,417.2 869.9,418.0 871.8,418.9 873.7,419.7 875.5,420.4 877.4,421.2 879.3,421.9 881.2,422.6 883.1,423.2 884.9,423.9 886.8,424.5 888.7,425.0 890.6,425.5 892.5,426.0 894.3,426.4 896.2,426.8 898.1,427.1 900.0,427.5 901.9,427.8 903.7,428.1 905.6,428.4 907.5,428.7 909.4,429.0 911.3,429.2 913.2,429.4 915.0,429.6 916.9,429.7 918.8,429.9 920.7,429.9 922.6,430.0 924.4,430.1 926.3,430.1 928.2,430.0" fill="none" stroke="#000" stroke-width="1.65" stroke-linejoin="round"/>
<polyline points="175.8,55.8 177.7,47.1 179.6,46.8 181.4,48.4 183.3,50.1 185.2,51.5 187.1,52.3 189.0,53.0 190.8,54.0 192.7,55.1 194.6,56.4 196.5,59.9 198.4,64.7 200.3,69.0 202.1,71.5 204.0,72.8 205.9,73.7 207.8,74.6 209.7,76.2 211.5,78.4 213.4,80.8 215.3,83.1 217.2,85.0 219.1,85.7 220.9,85.5 222.8,85.1 224.7,84.9 226.6,85.3 228.5,86.6 230.3,88.3 232.2,89.9 234.1,91.1 236.0,91.8 237.9,92.4 239.8,92.9 241.6,93.3 243.5,93.6 245.4,93.8 247.3,93.9 249.2,93.7 251.0,93.5 252.9,93.3 254.8,93.3 256.7,93.6 258.6,94.2 260.4,94.8 262.3,95.6 264.2,96.6 266.1,97.8 268.0,99.4 269.9,101.2 271.7,103.1 273.6,104.9 275.5,106.8 277.4,108.9 279.3,111.3 281.1,114.0 283.0,117.1 284.9,120.5 286.8,124.1 288.7,127.8 290.5,131.8 292.4,136.0 294.3,140.3 296.2,144.3 298.1,147.9 299.9,151.2 301.8,154.3 303.7,157.3 305.6,160.2 307.5,163.1 309.4,166.1 311.2,169.1 313.1,172.1 315.0,175.2 316.9,178.2 318.8,181.4 320.6,184.7 322.5,188.2 324.4,191.9 326.3,195.7 328.2,199.6 330.0,203.5 331.9,207.3 333.8,211.2 335.7,215.1 337.6,218.9 339.4,222.8 341.3,226.6 343.2,230.3 345.1,233.9 347.0,237.4 348.9,240.7 350.7,244.0 352.6,247.1 354.5,250.2 356.4,253.3 358.3,256.4 360.1,259.5 362.0,262.4 363.9,264.9 365.8,267.2 367.7,269.2 369.5,271.1 371.4,272.9 373.3,274.8 375.2,276.9 377.1,279.1 378.9,281.3 380.8,283.2 382.7,284.9 384.6,286.4 386.5,287.9 388.4,289.5 390.2,291.4 392.1,293.1 394.0,294.8 395.9,296.6 397.8,298.3 399.6,300.0 401.5,301.6 403.4,303.2 405.3,304.7 407.2,306.0 409.0,307.3 410.9,308.6 412.8,309.7 414.7,310.7 416.6,311.5 418.4,312.3 420.3,313.0 422.2,313.7 424.1,314.3 426.0,314.9 427.9,315.4 429.7,315.9 431.6,316.4 433.5,316.7 435.4,317.1 437.3,317.3 439.1,317.6 441.0,317.8 442.9,318.1 444.8,318.4 446.7,318.8 448.5,319.2 450.4,319.6 452.3,320.1 454.2,320.6 456.1,321.0 457.9,321.4 459.8,322.0 461.7,322.8 463.6,323.9 465.5,325.2 467.4,326.5 469.2,327.9 471.1,329.2 473.0,330.5 474.9,331.5 476.8,332.4 478.6,333.1 480.5,333.8 482.4,333.6 484.3,332.9 486.2,332.5 488.0,333.0 489.9,333.8 491.8,334.5 493.7,335.2 495.6,335.6 497.5,335.8 499.3,335.8 501.2,335.6 503.1,336.4 505.0,336.5 506.9,336.6 508.7,336.7 510.6,336.8 512.5,336.9 514.4,337.0 516.3,337.1 518.1,337.1 520.0,337.0 521.9,336.9 523.8,336.6 525.7,336.3 527.5,335.6 529.4,334.8 531.3,333.6 533.2,332.3 535.1,330.7 537.0,328.9 538.8,327.1 540.7,324.5 542.6,320.5 544.5,316.2 546.4,312.4 548.2,308.5 550.1,304.1 552.0,299.7 553.9,296.0 555.8,293.6 557.6,292.3 559.5,291.3 561.4,290.9 563.3,290.9 565.2,291.2 567.0,291.9 568.9,292.7 570.8,293.5 572.7,293.9 574.6,294.1 576.5,294.0 578.3,293.6 580.2,292.9 582.1,291.6 584.0,290.1 585.9,288.6 587.7,286.5 589.6,283.8 591.5,281.1 593.4,278.6 595.3,276.6 597.1,275.4 599.0,274.8 600.9,275.0 602.8,275.7 604.7,276.5 606.5,277.4 608.4,278.5 610.3,279.8 612.2,281.4 614.1,283.1 616.0,284.5 617.8,285.5 619.7,285.1 621.6,283.9 623.5,282.3 625.4,280.3 627.2,278.0 629.1,275.7 631.0,273.5 632.9,271.7 634.8,270.5 636.6,269.9 638.5,270.4 640.4,271.9 642.3,274.1 644.2,277.0 646.0,280.9 647.9,285.2 649.8,289.4 651.7,293.5 653.6,297.5 655.5,301.8 657.3,306.5 659.2,310.8 661.1,314.0 663.0,316.8 664.9,319.2 666.7,321.0 668.6,322.3 670.5,323.7 672.4,325.0 674.3,326.5 676.1,327.8 678.0,329.2 679.9,330.6 681.8,332.2 683.7,334.2 685.6,336.3 687.4,338.5 689.3,340.5 691.2,342.5 693.1,344.5 695.0,346.6 696.8,348.9 698.7,351.4 700.6,354.0 702.5,356.4 704.4,358.6 706.2,360.0 708.1,360.1 710.0,359.7 711.9,359.3 713.8,358.2 715.6,356.3 717.5,354.5 719.4,353.1 721.3,352.6 723.2,352.7 725.1,352.9 726.9,353.1 728.8,353.3 730.7,353.6 732.6,353.9 734.5,354.3 736.3,354.7 738.2,355.0 740.1,355.4 742.0,355.7 743.9,356.0 745.7,356.3 747.6,356.6 749.5,356.8 751.4,357.0 753.3,357.1 755.1,357.3 757.0,357.4 758.9,357.6 760.8,357.7 762.7,357.9 764.6,358.1 766.4,358.3 768.3,358.5 770.2,358.8 772.1,359.1 774.0,359.5 775.8,360.1 777.7,360.7 779.6,361.3 781.5,362.0 783.4,362.7 785.2,363.5 787.1,364.2 789.0,365.0 790.9,365.9 792.8,366.8 794.6,367.8 796.5,368.8 798.4,369.9 800.3,371.1 802.2,372.2 804.1,373.4 805.9,374.6 807.8,375.9 809.7,377.1 811.6,378.3 813.5,379.6 815.3,380.8 817.2,382.0 819.1,383.3 821.0,384.6 822.9,386.0 824.7,387.4 826.6,388.8 828.5,390.2 830.4,391.7 832.3,393.1 834.2,394.5 836.0,395.9 837.9,397.3 839.8,398.6 841.7,399.9 843.6,401.2 845.4,402.4 847.3,403.7 849.2,404.9 851.1,406.2 853.0,407.4 854.8,408.6 856.7,409.7 858.6,410.9 860.5,412.0 862.4,413.0 864.2,414.0 866.1,415.0 868.0,415.9 869.9,416.7 871.8,417.6 873.7,418.4 875.5,419.2 877.4,420.0 879.3,420.7 881.2,421.4 883.1,422.1 884.9,422.8 886.8,423.4 888.7,423.9 890.6,424.5 892.5,425.0 894.3,425.4 896.2,425.8 898.1,426.2 900.0,426.6 901.9,426.9 903.7,427.3 905.6,427.6 907.5,427.9 909.4,428.2 911.3,428.4 913.2,428.7 915.0,428.9 916.9,429.1 918.8,429.2 920.7,429.3 922.6,429.4 924.4,429.5 926.3,429.5 928.2,429.5" fill="none" stroke="#000" stroke-width="1.65" stroke-linejoin="round"/>
<polyline points="175.8,17.0 177.7,8.5 179.6,8.6 181.4,10.3 183.3,12.3 185.2,13.8 187.1,14.7 189.0,15.6 190.8,16.7 192.7,17.9 194.6,19.3 196.5,22.8 198.4,27.7 200.3,32.0 202.1,34.6 204.0,35.8 205.9,36.6 207.8,37.5 209.7,39.1 211.5,41.2 213.4,43.5 215.3,45.8 217.2,47.6 219.1,48.2 220.9,48.0 222.8,47.5 224.7,47.3 226.6,47.6 228.5,48.8 230.3,50.4 232.2,52.0 234.1,53.1 236.0,53.8 237.9,54.3 239.8,54.8 241.6,55.1 243.5,55.4 245.4,55.6 247.3,55.6 249.2,55.4 251.0,55.1 252.9,54.9 254.8,54.9 256.7,55.1 258.6,55.7 260.4,56.3 262.3,57.1 264.2,58.1 266.1,59.3 268.0,60.9 269.9,62.8 271.7,64.7 273.6,66.6 275.5,68.5 277.4,70.7 279.3,73.2 281.1,76.0 283.0,79.2 284.9,82.7 286.8,86.4 288.7,90.3 290.5,94.4 292.4,98.9 294.3,103.3 296.2,107.4 298.1,111.2 299.9,114.6 301.8,117.8 303.7,120.9 305.6,124.0 307.5,127.1 309.4,130.2 311.2,133.3 313.1,136.5 315.0,139.6 316.9,142.8 318.8,146.0 320.6,149.5 322.5,153.2 324.4,157.0 326.3,161.0 328.2,165.1 330.0,169.2 331.9,173.4 333.8,177.6 335.7,181.7 337.6,185.8 339.4,189.9 341.3,194.0 343.2,197.9 345.1,201.8 347.0,205.4 348.9,209.0 350.7,212.5 352.6,216.0 354.5,219.3 356.4,222.7 358.3,226.1 360.1,229.5 362.0,232.7 363.9,235.6 365.8,238.1 367.7,240.4 369.5,242.5 371.4,244.7 373.3,246.9 375.2,249.3 377.1,251.9 378.9,254.4 380.8,256.8 382.7,258.8 384.6,260.6 386.5,262.4 388.4,264.5 390.2,266.7 392.1,269.0 394.0,271.2 395.9,273.3 397.8,275.5 399.6,277.7 401.5,279.8 403.4,281.8 405.3,283.8 407.2,285.6 409.0,287.3 410.9,289.0 412.8,290.6 414.7,292.0 416.6,293.2 418.4,294.4 420.3,295.5 422.2,296.5 424.1,297.5 426.0,298.5 427.9,299.4 429.7,300.2 431.6,300.9 433.5,301.6 435.4,302.3 437.3,302.9 439.1,303.4 441.0,303.9 442.9,304.4 444.8,305.0 446.7,305.7 448.5,306.4 450.4,307.1 452.3,307.8 454.2,308.5 456.1,309.2 457.9,309.9 459.8,310.7 461.7,311.9 463.6,313.2 465.5,314.8 467.4,316.4 469.2,318.0 471.1,319.6 473.0,321.2 474.9,322.5 476.8,323.6 478.6,324.6 480.5,325.5 482.4,325.6 484.3,325.1 486.2,325.0 488.0,325.7 489.9,326.7 491.8,327.7 493.7,328.6 495.6,329.2 497.5,329.6 499.3,329.8 501.2,329.7 503.1,330.7 505.0,330.9 506.9,331.2 508.7,331.5 510.6,331.8 512.5,332.1 514.4,332.4 516.3,332.6 518.1,332.9 520.0,333.0 521.9,333.1 523.8,333.2 525.7,333.1 527.5,332.8 529.4,332.2 531.3,331.4 533.2,330.4 535.1,329.1 537.0,327.6 538.8,326.1 540.7,323.9 542.6,320.3 544.5,316.5 546.4,313.1 548.2,309.5 550.1,305.5 552.0,301.4 553.9,297.9 555.8,295.8 557.6,294.7 559.5,293.9 561.4,293.7 563.3,293.9 565.2,294.4 567.0,295.3 568.9,296.2 570.8,296.9 572.7,297.4 574.6,297.6 576.5,297.5 578.3,297.2 580.2,296.5 582.1,295.5 584.0,294.2 585.9,292.9 587.7,291.1 589.6,288.9 591.5,286.6 593.4,284.4 595.3,282.8 597.1,281.8 599.0,281.4 600.9,281.7 602.8,282.5 604.7,283.3 606.5,284.2 608.4,285.2 610.3,286.5 612.2,288.0 614.1,289.5 616.0,290.8 617.8,291.6 619.7,291.3 621.6,290.2 623.5,288.9 625.4,287.2 627.2,285.2 629.1,283.3 631.0,281.5 632.9,280.0 634.8,279.0 636.6,278.5 638.5,279.1 640.4,280.6 642.3,282.8 644.2,285.6 646.0,289.3 647.9,293.2 649.8,297.0 651.7,300.7 653.6,304.1 655.5,307.9 657.3,311.9 659.2,315.5 661.1,318.3 663.0,320.7 664.9,322.8 666.7,324.4 668.6,325.7 670.5,327.0 672.4,328.3 674.3,329.7 676.1,331.0 678.0,332.4 679.9,333.7 681.8,335.3 683.7,337.0 685.6,338.9 687.4,340.8 689.3,342.5 691.2,344.3 693.1,346.0 695.0,347.8 696.8,349.7 698.7,351.8 700.6,353.9 702.5,355.9 704.4,357.9 706.2,358.9 708.1,358.9 710.0,358.3 711.9,357.7 713.8,356.5 715.6,354.5 717.5,352.6 719.4,351.1 721.3,350.6 723.2,350.7 725.1,350.8 726.9,351.0 728.8,351.3 730.7,351.6 732.6,351.9 734.5,352.2 736.3,352.6 738.2,353.0 740.1,353.3 742.0,353.7 743.9,354.0 745.7,354.3 747.6,354.5 749.5,354.7 751.4,354.9 753.3,355.1 755.1,355.2 757.0,355.4 758.9,355.5 760.8,355.7 762.7,355.8 764.6,356.0 766.4,356.2 768.3,356.5 770.2,356.7 772.1,357.1 774.0,357.5 775.8,358.0 777.7,358.6 779.6,359.3 781.5,360.0 783.4,360.7 785.2,361.5 787.1,362.2 789.0,363.0 790.9,363.9 792.8,364.9 794.6,365.9 796.5,366.9 798.4,368.0 800.3,369.2 802.2,370.3 804.1,371.5 805.9,372.8 807.8,374.0 809.7,375.3 811.6,376.5 813.5,377.8 815.3,379.0 817.2,380.3 819.1,381.6 821.0,382.9 822.9,384.3 824.7,385.7 826.6,387.1 828.5,388.6 830.4,390.0 832.3,391.5 834.2,392.9 836.0,394.3 837.9,395.7 839.8,397.1 841.7,398.4 843.6,399.6 845.4,400.9 847.3,402.2 849.2,403.5 851.1,404.7 853.0,405.9 854.8,407.2 856.7,408.3 858.6,409.5 860.5,410.6 862.4,411.7 864.2,412.7 866.1,413.7 868.0,414.6 869.9,415.5 871.8,416.3 873.7,417.2 875.5,418.0 877.4,418.8 879.3,419.6 881.2,420.3 883.1,421.0 884.9,421.7 886.8,422.3 888.7,422.9 890.6,423.5 892.5,424.0 894.3,424.4 896.2,424.9 898.1,425.3 900.0,425.7 901.9,426.1 903.7,426.4 905.6,426.8 907.5,427.1 909.4,427.4 911.3,427.7 913.2,428.0 915.0,428.2 916.9,428.4 918.8,428.6 920.7,428.7 922.6,428.9 924.4,429.0 926.3,429.0 928.2,429.1" fill="none" stroke="#000" stroke-width="1.65" stroke-linejoin="round"/>
<polyline points="175.8,-15.5 177.7,-23.8 179.6,-23.5 181.4,-21.6 183.3,-19.5 185.2,-17.8 187.1,-16.8 189.0,-15.8 190.8,-14.6 192.7,-13.3 194.6,-11.9 196.5,-8.4 198.4,-3.5 200.3,0.9 202.1,3.5 204.0,4.7 205.9,5.5 207.8,6.4 209.7,7.9 211.5,9.9 213.4,12.2 215.3,14.5 217.2,16.2 219.1,16.8 220.9,16.5 222.8,16.0 224.7,15.7 226.6,16.0 228.5,17.1 230.3,18.7 232.2,20.2 234.1,21.3 236.0,21.9 237.9,22.4 239.8,22.8 241.6,23.2 243.5,23.4 245.4,23.6 247.3,23.6 249.2,23.3 251.0,23.0 252.9,22.7 254.8,22.6 256.7,22.9 258.6,23.4 260.4,24.1 262.3,24.8 264.2,25.8 266.1,27.1 268.0,28.7 269.9,30.6 271.7,32.5 273.6,34.4 275.5,36.4 277.4,38.7 279.3,41.2 281.1,44.1 283.0,47.4 284.9,51.0 286.8,54.9 288.7,58.9 290.5,63.1 292.4,67.7 294.3,72.2 296.2,76.5 298.1,80.4 299.9,83.9 301.8,87.2 303.7,90.5 305.6,93.6 307.5,96.8 309.4,100.0 311.2,103.3 313.1,106.6 315.0,109.8 316.9,113.1 318.8,116.4 320.6,120.0 322.5,123.8 324.4,127.8 326.3,131.9 328.2,136.2 330.0,140.6 331.9,145.0 333.8,149.4 335.7,153.8 337.6,158.1 339.4,162.4 341.3,166.7 343.2,170.8 345.1,174.9 347.0,178.8 348.9,182.6 350.7,186.3 352.6,189.9 354.5,193.5 356.4,197.1 358.3,200.8 360.1,204.5 362.0,207.9 363.9,211.1 365.8,213.8 367.7,216.3 369.5,218.7 371.4,221.1 373.3,223.6 375.2,226.3 377.1,229.1 378.9,232.0 380.8,234.6 382.7,236.9 384.6,239.0 386.5,241.2 388.4,243.6 390.2,246.2 392.1,248.9 394.0,251.4 395.9,254.0 397.8,256.5 399.6,259.1 401.5,261.6 403.4,264.0 405.3,266.3 407.2,268.5 409.0,270.7 410.9,272.7 412.8,274.7 414.7,276.4 416.6,278.0 418.4,279.5 420.3,280.9 422.2,282.3 424.1,283.6 426.0,284.8 427.9,286.0 429.7,287.1 431.6,288.2 433.5,289.1 435.4,290.0 437.3,290.8 439.1,291.6 441.0,292.3 442.9,293.1 444.8,294.0 446.7,294.9 448.5,295.8 450.4,296.7 452.3,297.6 454.2,298.6 456.1,299.5 457.9,300.4 459.8,301.4 461.7,302.8 463.6,304.4 465.5,306.1 467.4,308.0 469.2,309.9 471.1,311.7 473.0,313.5 474.9,315.0 476.8,316.3 478.6,317.5 480.5,318.7 482.4,318.9 484.3,318.7 486.2,318.7 488.0,319.6 489.9,320.8 491.8,322.0 493.7,323.0 495.6,323.9 497.5,324.4 499.3,324.7 501.2,324.8 503.1,325.9 505.0,326.3 506.9,326.7 508.7,327.2 510.6,327.6 512.5,328.0 514.4,328.5 516.3,328.9 518.1,329.3 520.0,329.6 521.9,329.9 523.8,330.2 525.7,330.3 527.5,330.3 529.4,329.9 531.3,329.4 533.2,328.7 535.1,327.7 537.0,326.4 538.8,325.2 540.7,323.2 542.6,320.0 544.5,316.5 546.4,313.5 548.2,310.3 550.1,306.5 552.0,302.6 553.9,299.3 555.8,297.4 557.6,296.5 559.5,295.9 561.4,295.8 563.3,296.2 565.2,296.9 567.0,297.8 568.9,298.7 570.8,299.5 572.7,300.0 574.6,300.3 576.5,300.2 578.3,299.9 580.2,299.3 582.1,298.4 584.0,297.4 585.9,296.3 587.7,294.8 589.6,292.8 591.5,290.9 593.4,289.0 595.3,287.6 597.1,286.7 599.0,286.5 600.9,286.9 602.8,287.7 604.7,288.7 606.5,289.6 608.4,290.5 610.3,291.7 612.2,293.2 614.1,294.6 616.0,295.8 617.8,296.4 619.7,296.2 621.6,295.4 623.5,294.3 625.4,292.9 627.2,291.3 629.1,289.6 631.0,288.1 632.9,286.8 634.8,286.0 636.6,285.7 638.5,286.3 640.4,287.8 642.3,290.0 644.2,292.7 646.0,296.2 647.9,299.8 649.8,303.3 651.7,306.6 653.6,309.6 655.5,312.9 657.3,316.3 659.2,319.4 661.1,321.8 663.0,323.9 664.9,325.7 666.7,327.2 668.6,328.4 670.5,329.7 672.4,331.0 674.3,332.3 676.1,333.6 678.0,334.9 679.9,336.2 681.8,337.6 683.7,339.2 685.6,340.9 687.4,342.5 689.3,344.1 691.2,345.6 693.1,347.1 695.0,348.6 696.8,350.3 698.7,352.0 700.6,353.8 702.5,355.5 704.4,357.1 706.2,358.0 708.1,357.7 710.0,357.0 711.9,356.2 713.8,354.9 715.6,352.8 717.5,350.7 719.4,349.2 721.3,348.6 723.2,348.7 725.1,348.8 726.9,349.0 728.8,349.3 730.7,349.6 732.6,349.9 734.5,350.3 736.3,350.6 738.2,351.0 740.1,351.3 742.0,351.7 743.9,352.0 745.7,352.3 747.6,352.5 749.5,352.7 751.4,352.9 753.3,353.1 755.1,353.2 757.0,353.4 758.9,353.5 760.8,353.7 762.7,353.8 764.6,354.0 766.4,354.2 768.3,354.5 770.2,354.7 772.1,355.1 774.0,355.5 775.8,356.0 777.7,356.6 779.6,357.3 781.5,358.0 783.4,358.8 785.2,359.5 787.1,360.3 789.0,361.1 790.9,362.0 792.8,363.0 794.6,364.0 796.5,365.0 798.4,366.1 800.3,367.3 802.2,368.5 804.1,369.7 805.9,371.0 807.8,372.2 809.7,373.5 811.6,374.8 813.5,376.0 815.3,377.3 817.2,378.5 819.1,379.9 821.0,381.2 822.9,382.6 824.7,384.0 826.6,385.5 828.5,387.0 830.4,388.4 832.3,389.9 834.2,391.3 836.0,392.8 837.9,394.2 839.8,395.5 841.7,396.9 843.6,398.1 845.4,399.4 847.3,400.7 849.2,402.0 851.1,403.3 853.0,404.5 854.8,405.8 856.7,407.0 858.6,408.1 860.5,409.3 862.4,410.4 864.2,411.4 866.1,412.4 868.0,413.3 869.9,414.2 871.8,415.1 873.7,416.0 875.5,416.8 877.4,417.6 879.3,418.4 881.2,419.2 883.1,419.9 884.9,420.6 886.8,421.3 888.7,421.9 890.6,422.5 892.5,423.0 894.3,423.5 896.2,424.0 898.1,424.4 900.0,424.8 901.9,425.2 903.7,425.6 905.6,426.0 907.5,426.3 909.4,426.7 911.3,427.0 913.2,427.3 915.0,427.5 916.9,427.8 918.8,428.0 920.7,428.2 922.6,428.3 924.4,428.4 926.3,428.5 928.2,428.6" fill="none" stroke="#000" stroke-width="1.65" stroke-linejoin="round"/>
<polyline points="175.8,-50.8 177.7,-58.9 179.6,-58.5 181.4,-56.4 183.3,-54.2 185.2,-52.4 187.1,-51.3 189.0,-50.3 190.8,-49.0 192.7,-47.6 194.6,-46.2 196.5,-42.6 198.4,-37.7 200.3,-33.3 202.1,-30.7 204.0,-29.5 205.9,-28.7 207.8,-27.9 209.7,-26.4 211.5,-24.4 213.4,-22.1 215.3,-19.9 217.2,-18.2 219.1,-17.7 220.9,-18.0 222.8,-18.6 224.7,-18.9 226.6,-18.7 228.5,-17.6 230.3,-16.0 232.2,-14.5 234.1,-13.5 236.0,-12.9 237.9,-12.4 239.8,-12.0 241.6,-11.7 243.5,-11.5 245.4,-11.3 247.3,-11.4 249.2,-11.7 251.0,-12.0 252.9,-12.3 254.8,-12.4 256.7,-12.2 258.6,-11.7 260.4,-11.0 262.3,-10.3 264.2,-9.3 266.1,-8.0 268.0,-6.3 269.9,-4.4 271.7,-2.5 273.6,-0.5 275.5,1.6 277.4,3.8 279.3,6.4 281.1,9.4 283.0,12.8 284.9,16.6 286.8,20.5 288.7,24.7 290.5,29.1 292.4,33.8 294.3,38.4 296.2,42.9 298.1,46.8 299.9,50.5 301.8,54.0 303.7,57.3 305.6,60.7 307.5,64.0 309.4,67.4 311.2,70.7 313.1,74.2 315.0,77.5 316.9,80.9 318.8,84.4 320.6,88.1 322.5,92.0 324.4,96.2 326.3,100.5 328.2,105.0 330.0,109.7 331.9,114.4 333.8,119.1 335.7,123.7 337.6,128.2 339.4,132.8 341.3,137.3 343.2,141.7 345.1,145.9 347.0,150.0 348.9,154.1 350.7,158.0 352.6,161.9 354.5,165.7 356.4,169.6 358.3,173.6 360.1,177.5 362.0,181.3 363.9,184.8 365.8,187.8 367.7,190.5 369.5,193.2 371.4,195.8 373.3,198.6 375.2,201.6 377.1,204.8 378.9,208.0 380.8,211.0 382.7,213.6 384.6,216.0 386.5,218.5 388.4,221.3 390.2,224.4 392.1,227.4 394.0,230.4 395.9,233.4 397.8,236.4 399.6,239.4 401.5,242.3 403.4,245.2 405.3,247.9 407.2,250.5 409.0,253.0 410.9,255.5 412.8,257.8 414.7,260.0 416.6,262.0 418.4,263.8 420.3,265.6 422.2,267.3 424.1,269.0 426.0,270.5 427.9,272.0 429.7,273.4 431.6,274.8 433.5,276.1 435.4,277.2 437.3,278.3 439.1,279.4 441.0,280.3 442.9,281.4 444.8,282.5 446.7,283.6 448.5,284.8 450.4,285.9 452.3,287.1 454.2,288.3 456.1,289.4 457.9,290.5 459.8,291.8 461.7,293.4 463.6,295.2 465.5,297.2 467.4,299.3 469.2,301.4 471.1,303.5 473.0,305.5 474.9,307.2 476.8,308.7 478.6,310.1 480.5,311.5 482.4,311.9 484.3,311.9 486.2,312.1 488.0,313.2 489.9,314.6 491.8,315.9 493.7,317.1 495.6,318.1 497.5,318.8 499.3,319.2 501.2,319.5 503.1,320.7 505.0,321.3 506.9,321.9 508.7,322.4 510.6,323.0 512.5,323.6 514.4,324.1 516.3,324.7 518.1,325.2 520.0,325.8 521.9,326.2 523.8,326.7 525.7,327.1 527.5,327.2 529.4,327.1 531.3,326.7 533.2,326.3 535.1,325.5 537.0,324.5 538.8,323.5 540.7,321.9 542.6,319.1 544.5,315.9 546.4,313.2 548.2,310.4 550.1,306.9 552.0,303.2 553.9,300.1 555.8,298.4 557.6,297.7 559.5,297.2 561.4,297.3 563.3,297.8 565.2,298.6 567.0,299.6 568.9,300.6 570.8,301.4 572.7,302.0 574.6,302.2 576.5,302.1 578.3,301.9 580.2,301.4 582.1,300.6 584.0,299.7 585.9,298.8 587.7,297.5 589.6,295.8 591.5,294.1 593.4,292.4 595.3,291.2 597.1,290.5 599.0,290.4 600.9,290.9 602.8,291.8 604.7,292.7 606.5,293.7 608.4,294.7 610.3,295.9 612.2,297.3 614.1,298.7 616.0,299.8 617.8,300.3 619.7,300.2 621.6,299.5 623.5,298.6 625.4,297.5 627.2,296.1 629.1,294.8 631.0,293.6 632.9,292.5 634.8,291.8 636.6,291.6 638.5,292.2 640.4,293.8 642.3,295.9 644.2,298.6 646.0,301.8 647.9,305.3 649.8,308.5 651.7,311.4 653.6,314.1 655.5,316.9 657.3,319.9 659.2,322.5 661.1,324.6 663.0,326.4 664.9,328.0 666.7,329.4 668.6,330.6 670.5,331.8 672.4,333.0 674.3,334.3 676.1,335.6 678.0,336.9 679.9,338.1 681.8,339.4 683.7,340.9 685.6,342.4 687.4,343.8 689.3,345.2 691.2,346.5 693.1,347.8 695.0,349.2 696.8,350.6 698.7,352.0 700.6,353.5 702.5,354.9 704.4,356.3 706.2,357.0 708.1,356.6 710.0,355.7 711.9,354.8 713.8,353.3 715.6,351.1 717.5,348.9 719.4,347.3 721.3,346.7 723.2,346.8 725.1,346.9 726.9,347.1 728.8,347.4 730.7,347.7 732.6,348.0 734.5,348.3 736.3,348.7 738.2,349.0 740.1,349.4 742.0,349.7 743.9,350.0 745.7,350.3 747.6,350.6 749.5,350.8 751.4,351.0 753.3,351.1 755.1,351.3 757.0,351.4 758.9,351.6 760.8,351.7 762.7,351.9 764.6,352.1 766.4,352.3 768.3,352.5 770.2,352.8 772.1,353.1 774.0,353.6 775.8,354.1 777.7,354.7 779.6,355.4 781.5,356.1 783.4,356.9 785.2,357.6 787.1,358.4 789.0,359.2 790.9,360.1 792.8,361.1 794.6,362.1 796.5,363.2 798.4,364.3 800.3,365.5 802.2,366.7 804.1,367.9 805.9,369.2 807.8,370.5 809.7,371.8 811.6,373.0 813.5,374.3 815.3,375.6 817.2,376.9 819.1,378.2 821.0,379.6 822.9,381.0 824.7,382.4 826.6,383.9 828.5,385.4 830.4,386.9 832.3,388.3 834.2,389.8 836.0,391.2 837.9,392.7 839.8,394.0 841.7,395.4 843.6,396.7 845.4,398.0 847.3,399.3 849.2,400.6 851.1,401.9 853.0,403.2 854.8,404.4 856.7,405.6 858.6,406.8 860.5,408.0 862.4,409.1 864.2,410.1 866.1,411.2 868.0,412.1 869.9,413.0 871.8,413.9 873.7,414.8 875.5,415.7 877.4,416.5 879.3,417.3 881.2,418.1 883.1,418.9 884.9,419.6 886.8,420.3 888.7,420.9 890.6,421.5 892.5,422.1 894.3,422.6 896.2,423.1 898.1,423.5 900.0,424.0 901.9,424.4 903.7,424.8 905.6,425.2 907.5,425.6 909.4,426.0 911.3,426.3 913.2,426.6 915.0,426.9 916.9,427.2 918.8,427.4 920.7,427.6 922.6,427.8 924.4,427.9 926.3,428.1 928.2,428.1" fill="none" stroke="#000" stroke-width="1.65" stroke-linejoin="round"/>
<polyline points="175.8,-90.4 177.7,-98.4 179.6,-97.9 181.4,-95.7 183.3,-93.4 185.2,-91.5 187.1,-90.4 189.0,-89.2 190.8,-87.9 192.7,-86.5 194.6,-85.0 196.5,-81.4 198.4,-76.5 200.3,-72.0 202.1,-69.5 204.0,-68.2 205.9,-67.5 207.8,-66.7 209.7,-65.2 211.5,-63.2 213.4,-61.0 215.3,-58.8 217.2,-57.2 219.1,-56.6 220.9,-57.0 222.8,-57.6 224.7,-58.0 226.6,-57.8 228.5,-56.7 230.3,-55.2 232.2,-53.7 234.1,-52.7 236.0,-52.1 237.9,-51.6 239.8,-51.3 241.6,-51.0 243.5,-50.8 245.4,-50.6 247.3,-50.7 249.2,-51.0 251.0,-51.4 252.9,-51.8 254.8,-51.8 256.7,-51.6 258.6,-51.1 260.4,-50.5 262.3,-49.7 264.2,-48.7 266.1,-47.4 268.0,-45.7 269.9,-43.8 271.7,-41.8 273.6,-39.8 275.5,-37.6 277.4,-35.3 279.3,-32.6 281.1,-29.5 283.0,-26.0 284.9,-22.2 286.8,-18.1 288.7,-13.8 290.5,-9.2 292.4,-4.4 294.3,0.5 296.2,5.0 298.1,9.2 299.9,13.0 301.8,16.6 303.7,20.2 305.6,23.7 307.5,27.2 309.4,30.7 311.2,34.3 313.1,37.8 315.0,41.4 316.9,44.9 318.8,48.6 320.6,52.4 322.5,56.5 324.4,60.8 326.3,65.4 328.2,70.2 330.0,75.1 331.9,80.2 333.8,85.2 335.7,90.1 337.6,94.9 339.4,99.7 341.3,104.4 343.2,109.1 345.1,113.6 347.0,118.0 348.9,122.3 350.7,126.5 352.6,130.6 354.5,134.7 356.4,138.9 358.3,143.3 360.1,147.6 362.0,151.7 363.9,155.5 365.8,158.8 367.7,161.9 369.5,164.8 371.4,167.8 373.3,170.8 375.2,174.2 377.1,177.8 378.9,181.4 380.8,184.8 382.7,187.8 384.6,190.5 386.5,193.4 388.4,196.6 390.2,200.1 392.1,203.7 394.0,207.2 395.9,210.6 397.8,214.1 399.6,217.6 401.5,221.0 403.4,224.3 405.3,227.5 407.2,230.6 409.0,233.7 410.9,236.6 412.8,239.4 414.7,242.0 416.6,244.4 418.4,246.7 420.3,248.8 422.2,250.9 424.1,253.0 426.0,254.9 427.9,256.8 429.7,258.5 431.6,260.2 433.5,261.8 435.4,263.4 437.3,264.8 439.1,266.1 441.0,267.4 442.9,268.7 444.8,270.1 446.7,271.5 448.5,272.9 450.4,274.3 452.3,275.7 454.2,277.1 456.1,278.5 457.9,279.9 459.8,281.4 461.7,283.3 463.6,285.3 465.5,287.6 467.4,289.9 469.2,292.3 471.1,294.6 473.0,296.8 474.9,298.8 476.8,300.5 478.6,302.1 480.5,303.7 482.4,304.3 484.3,304.4 486.2,304.9 488.0,306.1 489.9,307.7 491.8,309.2 493.7,310.6 495.6,311.7 497.5,312.6 499.3,313.2 501.2,313.5 503.1,314.9 505.0,315.6 506.9,316.3 508.7,317.0 510.6,317.7 512.5,318.4 514.4,319.2 516.3,319.9 518.1,320.6 520.0,321.3 521.9,321.9 523.8,322.6 525.7,323.1 527.5,323.5 529.4,323.6 531.3,323.4 533.2,323.2 535.1,322.6 537.0,321.8 538.8,321.2 540.7,319.9 542.6,317.4 544.5,314.6 546.4,312.3 548.2,309.9 550.1,306.7 552.0,303.3 553.9,300.3 555.8,298.8 557.6,298.3 559.5,298.0 561.4,298.2 563.3,298.8 565.2,299.7 567.0,300.8 568.9,301.8 570.8,302.7 572.7,303.3 574.6,303.6 576.5,303.5 578.3,303.3 580.2,302.9 582.1,302.2 584.0,301.4 585.9,300.6 587.7,299.5 589.6,298.0 591.5,296.5 593.4,295.0 595.3,293.9 597.1,293.3 599.0,293.3 600.9,293.9 602.8,294.8 604.7,295.8 606.5,296.8 608.4,297.8 610.3,299.0 612.2,300.5 614.1,301.9 616.0,302.9 617.8,303.4 619.7,303.3 621.6,302.8 623.5,302.1 625.4,301.2 627.2,300.1 629.1,299.0 631.0,298.0 632.9,297.1 634.8,296.6 636.6,296.4 638.5,297.1 640.4,298.6 642.3,300.8 644.2,303.3 646.0,306.4 647.9,309.6 649.8,312.6 651.7,315.3 653.6,317.7 655.5,320.2 657.3,322.7 659.2,325.0 661.1,326.8 663.0,328.5 664.9,329.9 666.7,331.1 668.6,332.3 670.5,333.4 672.4,334.6 674.3,335.9 676.1,337.1 678.0,338.3 679.9,339.5 681.8,340.8 683.7,342.1 685.6,343.4 687.4,344.7 689.3,345.9 691.2,347.1 693.1,348.3 695.0,349.4 696.8,350.6 698.7,351.9 700.6,353.2 702.5,354.4 704.4,355.5 706.2,356.0 708.1,355.5 710.0,354.4 711.9,353.3 713.8,351.7 715.6,349.4 717.5,347.2 719.4,345.5 721.3,344.8 723.2,344.9 725.1,345.0 726.9,345.2 728.8,345.5 730.7,345.8 732.6,346.1 734.5,346.4 736.3,346.8 738.2,347.1 740.1,347.5 742.0,347.8 743.9,348.1 745.7,348.4 747.6,348.7 749.5,348.9 751.4,349.1 753.3,349.2 755.1,349.4 757.0,349.5 758.9,349.7 760.8,349.8 762.7,350.0 764.6,350.2 766.4,350.4 768.3,350.6 770.2,350.9 772.1,351.2 774.0,351.7 775.8,352.2 777.7,352.8 779.6,353.5 781.5,354.3 783.4,355.0 785.2,355.8 787.1,356.6 789.0,357.4 790.9,358.3 792.8,359.3 794.6,360.3 796.5,361.4 798.4,362.6 800.3,363.7 802.2,365.0 804.1,366.2 805.9,367.5 807.8,368.8 809.7,370.1 811.6,371.4 813.5,372.7 815.3,373.9 817.2,375.2 819.1,376.6 821.0,378.0 822.9,379.4 824.7,380.9 826.6,382.3 828.5,383.8 830.4,385.3 832.3,386.8 834.2,388.3 836.0,389.8 837.9,391.2 839.8,392.6 841.7,393.9 843.6,395.3 845.4,396.6 847.3,397.9 849.2,399.2 851.1,400.5 853.0,401.8 854.8,403.1 856.7,404.3 858.6,405.5 860.5,406.7 862.4,407.8 864.2,408.9 866.1,410.0 868.0,410.9 869.9,411.9 871.8,412.8 873.7,413.7 875.5,414.6 877.4,415.4 879.3,416.3 881.2,417.1 883.1,417.8 884.9,418.6 886.8,419.3 888.7,419.9 890.6,420.6 892.5,421.2 894.3,421.7 896.2,422.2 898.1,422.7 900.0,423.2 901.9,423.6 903.7,424.1 905.6,424.5 907.5,424.9 909.4,425.3 911.3,425.6 913.2,426.0 915.0,426.3 916.9,426.6 918.8,426.8 920.7,427.1 922.6,427.3 924.4,427.4 926.3,427.6 928.2,427.7" fill="none" stroke="#000" stroke-width="1.65" stroke-linejoin="round"/>
<polyline points="175.8,-131.4 177.7,-139.2 179.6,-138.6 181.4,-136.4 183.3,-134.0 185.2,-132.1 187.1,-130.9 189.0,-129.7 190.8,-128.3 192.7,-126.9 194.6,-125.4 196.5,-121.8 198.4,-116.8 200.3,-112.3 202.1,-109.8 204.0,-108.6 205.9,-107.8 207.8,-107.0 209.7,-105.6 211.5,-103.6 213.4,-101.4 215.3,-99.2 217.2,-97.6 219.1,-97.1 220.9,-97.5 222.8,-98.1 224.7,-98.6 226.6,-98.3 228.5,-97.3 230.3,-95.8 232.2,-94.3 234.1,-93.3 236.0,-92.8 237.9,-92.3 239.8,-92.0 241.6,-91.7 243.5,-91.5 245.4,-91.4 247.3,-91.5 249.2,-91.8 251.0,-92.2 252.9,-92.6 254.8,-92.7 256.7,-92.5 258.6,-92.0 260.4,-91.3 262.3,-90.6 264.2,-89.6 266.1,-88.3 268.0,-86.5 269.9,-84.5 271.7,-82.5 273.6,-80.4 275.5,-78.2 277.4,-75.8 279.3,-73.1 281.1,-69.9 283.0,-66.3 284.9,-62.3 286.8,-58.1 288.7,-53.6 290.5,-48.9 292.4,-43.9 294.3,-38.9 296.2,-34.1 298.1,-29.8 299.9,-25.9 301.8,-22.1 303.7,-18.3 305.6,-14.6 307.5,-11.0 309.4,-7.2 311.2,-3.5 313.1,0.3 315.0,4.0 316.9,7.7 318.8,11.5 320.6,15.6 322.5,19.8 324.4,24.4 326.3,29.1 328.2,34.2 330.0,39.5 331.9,44.8 333.8,50.2 335.7,55.4 337.6,60.5 339.4,65.6 341.3,70.6 343.2,75.5 345.1,80.3 347.0,85.0 348.9,89.6 350.7,94.0 352.6,98.5 354.5,102.9 356.4,107.4 358.3,112.1 360.1,116.8 362.0,121.3 363.9,125.4 365.8,129.0 367.7,132.4 369.5,135.6 371.4,138.9 373.3,142.3 375.2,146.1 377.1,150.1 378.9,154.1 380.8,157.9 382.7,161.2 384.6,164.4 386.5,167.6 388.4,171.2 390.2,175.3 392.1,179.4 394.0,183.3 395.9,187.3 397.8,191.3 399.6,195.3 401.5,199.2 403.4,203.0 405.3,206.7 407.2,210.3 409.0,213.8 410.9,217.3 412.8,220.5 414.7,223.6 416.6,226.5 418.4,229.2 420.3,231.8 422.2,234.3 424.1,236.7 426.0,239.0 427.9,241.3 429.7,243.4 431.6,245.5 433.5,247.4 435.4,249.3 437.3,251.0 439.1,252.6 441.0,254.2 442.9,255.8 444.8,257.5 446.7,259.2 448.5,260.9 450.4,262.5 452.3,264.2 454.2,265.9 456.1,267.5 457.9,269.2 459.8,270.9 461.7,273.0 463.6,275.4 465.5,277.9 467.4,280.5 469.2,283.1 471.1,285.6 473.0,288.1 474.9,290.3 476.8,292.2 478.6,294.0 480.5,295.7 482.4,296.5 484.3,296.9 486.2,297.5 488.0,298.9 489.9,300.6 491.8,302.3 493.7,303.9 495.6,305.1 497.5,306.1 499.3,306.9 501.2,307.4 503.1,308.9 505.0,309.8 506.9,310.6 508.7,311.4 510.6,312.3 512.5,313.1 514.4,314.0 516.3,314.8 518.1,315.7 520.0,316.6 521.9,317.4 523.8,318.2 525.7,318.9 527.5,319.5 529.4,319.8 531.3,319.7 533.2,319.7 535.1,319.3 537.0,318.7 538.8,318.4 540.7,317.5 542.6,315.4 544.5,313.0 546.4,311.0 548.2,309.0 550.1,306.2 552.0,303.0 553.9,300.2 555.8,298.9 557.6,298.6 559.5,298.4 561.4,298.7 563.3,299.4 565.2,300.4 567.0,301.6 568.9,302.7 570.8,303.6 572.7,304.2 574.6,304.5 576.5,304.5 578.3,304.3 580.2,303.9 582.1,303.4 584.0,302.7 585.9,302.0 587.7,301.0 589.6,299.6 591.5,298.2 593.4,296.9 595.3,295.9 597.1,295.4 599.0,295.5 600.9,296.1 602.8,297.1 604.7,298.1 606.5,299.2 608.4,300.2 610.3,301.4 612.2,302.9 614.1,304.3 616.0,305.3 617.8,305.8 619.7,305.7 621.6,305.4 623.5,304.8 625.4,304.1 627.2,303.2 629.1,302.3 631.0,301.5 632.9,300.8 634.8,300.4 636.6,300.3 638.5,301.0 640.4,302.6 642.3,304.7 644.2,307.2 646.0,310.2 647.9,313.2 649.8,316.0 651.7,318.4 653.6,320.6 655.5,322.8 657.3,325.0 659.2,327.0 661.1,328.6 663.0,330.1 664.9,331.4 666.7,332.5 668.6,333.6 670.5,334.7 672.4,335.9 674.3,337.1 676.1,338.3 678.0,339.4 679.9,340.6 681.8,341.7 683.7,342.9 685.6,344.1 687.4,345.3 689.3,346.4 691.2,347.5 693.1,348.5 695.0,349.5 696.8,350.6 698.7,351.6 700.6,352.7 702.5,353.8 704.4,354.8 706.2,355.1 708.1,354.4 710.0,353.2 711.9,351.9 713.8,350.2 715.6,347.8 717.5,345.4 719.4,343.7 721.3,343.0 723.2,343.1 725.1,343.2 726.9,343.4 728.8,343.7 730.7,343.9 732.6,344.3 734.5,344.6 736.3,344.9 738.2,345.3 740.1,345.6 742.0,346.0 743.9,346.3 745.7,346.6 747.6,346.8 749.5,347.0 751.4,347.2 753.3,347.4 755.1,347.5 757.0,347.7 758.9,347.8 760.8,348.0 762.7,348.2 764.6,348.3 766.4,348.6 768.3,348.8 770.2,349.1 772.1,349.4 774.0,349.9 775.8,350.4 777.7,351.0 779.6,351.7 781.5,352.5 783.4,353.2 785.2,354.0 787.1,354.8 789.0,355.6 790.9,356.6 792.8,357.5 794.6,358.6 796.5,359.7 798.4,360.8 800.3,362.0 802.2,363.3 804.1,364.5 805.9,365.8 807.8,367.1 809.7,368.4 811.6,369.7 813.5,371.0 815.3,372.3 817.2,373.7 819.1,375.0 821.0,376.4 822.9,377.9 824.7,379.3 826.6,380.8 828.5,382.3 830.4,383.9 832.3,385.4 834.2,386.9 836.0,388.3 837.9,389.8 839.8,391.2 841.7,392.6 843.6,393.9 845.4,395.2 847.3,396.6 849.2,397.9 851.1,399.2 853.0,400.5 854.8,401.8 856.7,403.1 858.6,404.3 860.5,405.5 862.4,406.6 864.2,407.7 866.1,408.8 868.0,409.8 869.9,410.7 871.8,411.7 873.7,412.6 875.5,413.5 877.4,414.4 879.3,415.2 881.2,416.1 883.1,416.9 884.9,417.6 886.8,418.3 888.7,419.0 890.6,419.7 892.5,420.3 894.3,420.8 896.2,421.4 898.1,421.9 900.0,422.4 901.9,422.8 903.7,423.3 905.6,423.8 907.5,424.2 909.4,424.6 911.3,425.0 913.2,425.3 915.0,425.7 916.9,426.0 918.8,426.3 920.7,426.5 922.6,426.8 924.4,427.0 926.3,427.1 928.2,427.3" fill="none" stroke="#000" stroke-width="1.65" stroke-linejoin="round"/>
<polyline points="175.8,-167.8 177.7,-175.5 179.6,-174.8 181.4,-172.5 183.3,-170.1 185.2,-168.2 187.1,-166.9 189.0,-165.7 190.8,-164.2 192.7,-162.8 194.6,-161.3 196.5,-157.6 198.4,-152.7 200.3,-148.2 202.1,-145.7 204.0,-144.4 205.9,-143.7 207.8,-142.9 209.7,-141.5 211.5,-139.5 213.4,-137.3 215.3,-135.2 217.2,-133.6 219.1,-133.1 220.9,-133.5 222.8,-134.2 224.7,-134.6 226.6,-134.4 228.5,-133.4 230.3,-131.9 232.2,-130.4 234.1,-129.5 236.0,-128.9 237.9,-128.5 239.8,-128.1 241.6,-127.9 243.5,-127.7 245.4,-127.6 247.3,-127.7 249.2,-128.0 251.0,-128.5 252.9,-128.8 254.8,-128.9 256.7,-128.7 258.6,-128.2 260.4,-127.6 262.3,-126.8 264.2,-125.8 266.1,-124.5 268.0,-122.7 269.9,-120.7 271.7,-118.6 273.6,-116.5 275.5,-114.2 277.4,-111.8 279.3,-109.0 281.1,-105.7 283.0,-102.0 284.9,-98.0 286.8,-93.6 288.7,-89.0 290.5,-84.1 292.4,-79.0 294.3,-73.8 296.2,-68.9 298.1,-64.5 299.9,-60.4 301.8,-56.4 303.7,-52.5 305.6,-48.6 307.5,-44.8 309.4,-40.9 311.2,-36.9 313.1,-33.0 315.0,-29.1 316.9,-25.3 318.8,-21.3 320.6,-17.1 322.5,-12.7 324.4,-8.0 326.3,-3.0 328.2,2.3 330.0,7.9 331.9,13.5 333.8,19.2 335.7,24.7 337.6,30.0 339.4,35.4 341.3,40.6 343.2,45.8 345.1,50.8 347.0,55.7 348.9,60.5 350.7,65.3 352.6,70.0 354.5,74.6 356.4,79.4 358.3,84.4 360.1,89.4 362.0,94.3 363.9,98.7 365.8,102.6 367.7,106.3 369.5,109.8 371.4,113.3 373.3,117.1 375.2,121.1 377.1,125.5 378.9,129.9 380.8,134.0 382.7,137.7 384.6,141.2 386.5,144.8 388.4,148.8 390.2,153.3 392.1,157.9 394.0,162.3 395.9,166.7 397.8,171.1 399.6,175.5 401.5,179.9 403.4,184.2 405.3,188.4 407.2,192.4 409.0,196.3 410.9,200.2 412.8,203.9 414.7,207.4 416.6,210.6 418.4,213.7 420.3,216.7 422.2,219.6 424.1,222.3 426.0,225.0 427.9,227.6 429.7,230.1 431.6,232.4 433.5,234.7 435.4,236.8 437.3,238.9 439.1,240.8 441.0,242.6 442.9,244.5 444.8,246.4 446.7,248.3 448.5,250.3 450.4,252.2 452.3,254.1 454.2,256.0 456.1,257.9 457.9,259.7 459.8,261.7 461.7,264.0 463.6,266.6 465.5,269.3 467.4,272.1 469.2,275.0 471.1,277.7 473.0,280.4 474.9,282.8 476.8,284.9 478.6,286.8 480.5,288.7 482.4,289.7 484.3,290.2 486.2,290.9 488.0,292.5 489.9,294.4 491.8,296.2 493.7,297.9 495.6,299.3 497.5,300.4 499.3,301.3 501.2,301.9 503.1,303.6 505.0,304.6 506.9,305.5 508.7,306.5 510.6,307.4 512.5,308.4 514.4,309.4 516.3,310.4 518.1,311.3 520.0,312.3 521.9,313.3 523.8,314.3 525.7,315.1 527.5,315.9 529.4,316.3 531.3,316.4 533.2,316.5 535.1,316.3 537.0,315.9 538.8,315.9 540.7,315.3 542.6,313.5 544.5,311.4 546.4,309.8 548.2,308.1 550.1,305.5 552.0,302.6 553.9,300.0 555.8,298.8 557.6,298.6 559.5,298.6 561.4,299.0 563.3,299.8 565.2,300.9 567.0,302.1 568.9,303.3 570.8,304.2 572.7,304.9 574.6,305.2 576.5,305.2 578.3,305.0 580.2,304.7 582.1,304.2 584.0,303.6 585.9,302.9 587.7,302.1 589.6,300.8 591.5,299.5 593.4,298.3 595.3,297.4 597.1,297.0 599.0,297.1 600.9,297.8 602.8,298.7 604.7,299.9 606.5,301.0 608.4,302.0 610.3,303.3 612.2,304.8 614.1,306.2 616.0,307.2 617.8,307.6 619.7,307.7 621.6,307.4 623.5,307.0 625.4,306.4 627.2,305.7 629.1,305.1 631.0,304.4 632.9,303.8 634.8,303.5 636.6,303.5 638.5,304.2 640.4,305.8 642.3,307.9 644.2,310.3 646.0,313.2 647.9,316.1 649.8,318.7 651.7,321.0 653.6,322.9 655.5,324.9 657.3,326.8 659.2,328.6 661.1,330.0 663.0,331.3 664.9,332.5 666.7,333.6 668.6,334.6 670.5,335.7 672.4,336.8 674.3,338.0 676.1,339.1 678.0,340.2 679.9,341.3 681.8,342.4 683.7,343.6 685.6,344.6 687.4,345.7 689.3,346.7 691.2,347.7 693.1,348.6 695.0,349.5 696.8,350.4 698.7,351.3 700.6,352.3 702.5,353.2 704.4,354.0 706.2,354.2 708.1,353.3 710.0,352.0 711.9,350.6 713.8,348.8 715.6,346.2 717.5,343.8 719.4,342.0 721.3,341.2 723.2,341.3 725.1,341.5 726.9,341.7 728.8,341.9 730.7,342.2 732.6,342.5 734.5,342.8 736.3,343.2 738.2,343.5 740.1,343.9 742.0,344.2 743.9,344.5 745.7,344.8 747.6,345.1 749.5,345.3 751.4,345.4 753.3,345.6 755.1,345.8 757.0,345.9 758.9,346.1 760.8,346.2 762.7,346.4 764.6,346.6 766.4,346.8 768.3,347.0 770.2,347.3 772.1,347.7 774.0,348.1 775.8,348.7 777.7,349.3 779.6,350.0 781.5,350.7 783.4,351.5 785.2,352.3 787.1,353.1 789.0,353.9 790.9,354.9 792.8,355.9 794.6,356.9 796.5,358.0 798.4,359.2 800.3,360.4 802.2,361.6 804.1,362.9 805.9,364.2 807.8,365.5 809.7,366.9 811.6,368.2 813.5,369.5 815.3,370.8 817.2,372.1 819.1,373.5 821.0,374.9 822.9,376.4 824.7,377.9 826.6,379.4 828.5,380.9 830.4,382.4 832.3,384.0 834.2,385.5 836.0,387.0 837.9,388.4 839.8,389.8 841.7,391.2 843.6,392.6 845.4,393.9 847.3,395.3 849.2,396.6 851.1,398.0 853.0,399.3 854.8,400.6 856.7,401.9 858.6,403.1 860.5,404.3 862.4,405.5 864.2,406.6 866.1,407.7 868.0,408.7 869.9,409.7 871.8,410.6 873.7,411.6 875.5,412.5 877.4,413.4 879.3,414.2 881.2,415.1 883.1,415.9 884.9,416.7 886.8,417.4 888.7,418.1 890.6,418.8 892.5,419.4 894.3,420.0 896.2,420.6 898.1,421.1 900.0,421.6 901.9,422.1 903.7,422.6 905.6,423.1 907.5,423.5 909.4,423.9 911.3,424.3 913.2,424.7 915.0,425.1 916.9,425.4 918.8,425.7 920.7,426.0 922.6,426.3 924.4,426.5 926.3,426.7 928.2,426.9" fill="none" stroke="#000" stroke-width="1.65" stroke-linejoin="round"/>
<polyline points="175.8,-207.0 177.7,-214.7 179.6,-214.0 181.4,-211.6 183.3,-209.2 185.2,-207.2 187.1,-205.9 189.0,-204.6 190.8,-203.2 192.7,-201.7 194.6,-200.2 196.5,-196.6 198.4,-191.6 200.3,-187.1 202.1,-184.6 204.0,-183.3 205.9,-182.6 207.8,-181.8 209.7,-180.4 211.5,-178.5 213.4,-176.3 215.3,-174.1 217.2,-172.5 219.1,-172.1 220.9,-172.5 222.8,-173.2 224.7,-173.6 226.6,-173.4 228.5,-172.4 230.3,-171.0 232.2,-169.5 234.1,-168.5 236.0,-168.0 237.9,-167.6 239.8,-167.2 241.6,-167.0 243.5,-166.8 245.4,-166.7 247.3,-166.8 249.2,-167.2 251.0,-167.6 252.9,-168.0 254.8,-168.1 256.7,-167.9 258.6,-167.4 260.4,-166.8 262.3,-166.0 264.2,-165.0 266.1,-163.6 268.0,-161.9 269.9,-159.8 271.7,-157.6 273.6,-155.5 275.5,-153.2 277.4,-150.6 279.3,-147.8 281.1,-144.5 283.0,-140.7 284.9,-136.5 286.8,-132.0 288.7,-127.2 290.5,-122.2 292.4,-116.9 294.3,-111.6 296.2,-106.5 298.1,-101.9 299.9,-97.6 301.8,-93.5 303.7,-89.4 305.6,-85.4 307.5,-81.3 309.4,-77.2 311.2,-73.1 313.1,-69.0 315.0,-64.9 316.9,-60.9 318.8,-56.8 320.6,-52.4 322.5,-47.8 324.4,-42.9 326.3,-37.7 328.2,-32.1 330.0,-26.2 331.9,-20.2 333.8,-14.3 335.7,-8.5 337.6,-2.8 339.4,2.8 341.3,8.3 343.2,13.7 345.1,19.0 347.0,24.2 348.9,29.3 350.7,34.3 352.6,39.3 354.5,44.2 356.4,49.3 358.3,54.7 360.1,60.1 362.0,65.2 363.9,70.0 365.8,74.2 367.7,78.2 369.5,82.0 371.4,85.8 373.3,89.9 375.2,94.3 377.1,99.1 378.9,103.9 380.8,108.4 382.7,112.5 384.6,116.3 386.5,120.3 388.4,124.7 390.2,129.7 392.1,134.8 394.0,139.6 395.9,144.5 397.8,149.5 399.6,154.4 401.5,159.3 403.4,164.0 405.3,168.7 407.2,173.2 409.0,177.6 410.9,181.9 412.8,186.1 414.7,190.0 416.6,193.7 418.4,197.2 420.3,200.6 422.2,203.8 424.1,207.0 426.0,210.1 427.9,213.0 429.7,215.8 431.6,218.6 433.5,221.2 435.4,223.6 437.3,226.0 439.1,228.2 441.0,230.3 442.9,232.5 444.8,234.7 446.7,236.9 448.5,239.0 450.4,241.2 452.3,243.4 454.2,245.5 456.1,247.6 457.9,249.7 459.8,251.9 461.7,254.5 463.6,257.3 465.5,260.3 467.4,263.3 469.2,266.4 471.1,269.3 473.0,272.2 474.9,274.8 476.8,277.0 478.6,279.2 480.5,281.3 482.4,282.4 484.3,283.1 486.2,284.0 488.0,285.7 489.9,287.7 491.8,289.7 493.7,291.5 495.6,293.1 497.5,294.3 499.3,295.3 501.2,296.1 503.1,297.8 505.0,298.9 506.9,300.0 508.7,301.1 510.6,302.1 512.5,303.2 514.4,304.3 516.3,305.5 518.1,306.6 520.0,307.7 521.9,308.8 523.8,309.9 525.7,311.0 527.5,311.8 529.4,312.4 531.3,312.6 533.2,312.9 535.1,312.8 537.0,312.7 538.8,312.9 540.7,312.6 542.6,311.2 544.5,309.4 546.4,308.2 548.2,306.8 550.1,304.6 552.0,301.9 553.9,299.5 555.8,298.5 557.6,298.4 559.5,298.5 561.4,299.0 563.3,299.9 565.2,301.1 567.0,302.4 568.9,303.6 570.8,304.6 572.7,305.3 574.6,305.6 576.5,305.6 578.3,305.5 580.2,305.2 582.1,304.7 584.0,304.2 585.9,303.6 587.7,302.8 589.6,301.7 591.5,300.5 593.4,299.3 595.3,298.5 597.1,298.1 599.0,298.3 600.9,299.0 602.8,300.0 604.7,301.1 606.5,302.3 608.4,303.4 610.3,304.7 612.2,306.2 614.1,307.6 616.0,308.6 617.8,309.0 619.7,309.1 621.6,309.0 623.5,308.7 625.4,308.3 627.2,307.7 629.1,307.2 631.0,306.7 632.9,306.2 634.8,306.0 636.6,306.0 638.5,306.8 640.4,308.3 642.3,310.4 644.2,312.8 646.0,315.6 647.9,318.3 649.8,320.8 651.7,322.9 653.6,324.7 655.5,326.5 657.3,328.2 659.2,329.8 661.1,331.1 663.0,332.3 664.9,333.4 666.7,334.4 668.6,335.4 670.5,336.5 672.4,337.6 674.3,338.7 676.1,339.7 678.0,340.8 679.9,341.9 681.8,342.9 683.7,343.9 685.6,344.9 687.4,345.9 689.3,346.8 691.2,347.7 693.1,348.5 695.0,349.3 696.8,350.1 698.7,351.0 700.6,351.8 702.5,352.6 704.4,353.3 706.2,353.3 708.1,352.3 710.0,350.8 711.9,349.3 713.8,347.4 715.6,344.7 717.5,342.2 719.4,340.3 721.3,339.6 723.2,339.6 725.1,339.8 726.9,340.0 728.8,340.2 730.7,340.5 732.6,340.8 734.5,341.1 736.3,341.5 738.2,341.8 740.1,342.2 742.0,342.5 743.9,342.8 745.7,343.1 747.6,343.3 749.5,343.6 751.4,343.7 753.3,343.9 755.1,344.1 757.0,344.2 758.9,344.4 760.8,344.5 762.7,344.7 764.6,344.9 766.4,345.1 768.3,345.3 770.2,345.6 772.1,346.0 774.0,346.4 775.8,347.0 777.7,347.6 779.6,348.3 781.5,349.0 783.4,349.8 785.2,350.6 787.1,351.4 789.0,352.3 790.9,353.2 792.8,354.2 794.6,355.3 796.5,356.4 798.4,357.6 800.3,358.8 802.2,360.1 804.1,361.4 805.9,362.7 807.8,364.0 809.7,365.3 811.6,366.7 813.5,368.0 815.3,369.3 817.2,370.7 819.1,372.1 821.0,373.5 822.9,375.0 824.7,376.5 826.6,378.0 828.5,379.5 830.4,381.1 832.3,382.6 834.2,384.1 836.0,385.6 837.9,387.1 839.8,388.5 841.7,389.9 843.6,391.3 845.4,392.7 847.3,394.0 849.2,395.4 851.1,396.8 853.0,398.1 854.8,399.4 856.7,400.7 858.6,401.9 860.5,403.2 862.4,404.3 864.2,405.5 866.1,406.6 868.0,407.6 869.9,408.6 871.8,409.6 873.7,410.5 875.5,411.5 877.4,412.4 879.3,413.3 881.2,414.1 883.1,415.0 884.9,415.8 886.8,416.5 888.7,417.3 890.6,418.0 892.5,418.6 894.3,419.2 896.2,419.8 898.1,420.3 900.0,420.9 901.9,421.4 903.7,421.9 905.6,422.4 907.5,422.9 909.4,423.3 911.3,423.7 913.2,424.2 915.0,424.5 916.9,424.9 918.8,425.2 920.7,425.5 922.6,425.8 924.4,426.1 926.3,426.3 928.2,426.5" fill="none" stroke="#000" stroke-width="1.65" stroke-linejoin="round"/>
<polyline points="175.8,-244.7 177.7,-252.4 179.6,-251.6 181.4,-249.2 183.3,-246.7 185.2,-244.7 187.1,-243.4 189.0,-242.1 190.8,-240.7 192.7,-239.2 194.6,-237.6 196.5,-234.0 198.4,-229.0 200.3,-224.5 202.1,-222.0 204.0,-220.7 205.9,-220.0 207.8,-219.3 209.7,-217.8 211.5,-215.9 213.4,-213.8 215.3,-211.6 217.2,-210.0 219.1,-209.6 220.9,-210.0 222.8,-210.7 224.7,-211.1 226.6,-211.0 228.5,-210.0 230.3,-208.5 232.2,-207.1 234.1,-206.1 236.0,-205.6 237.9,-205.2 239.8,-204.8 241.6,-204.6 243.5,-204.4 245.4,-204.3 247.3,-204.4 249.2,-204.8 251.0,-205.2 252.9,-205.6 254.8,-205.8 256.7,-205.6 258.6,-205.1 260.4,-204.4 262.3,-203.7 264.2,-202.6 266.1,-201.3 268.0,-199.4 269.9,-197.3 271.7,-195.1 273.6,-192.9 275.5,-190.6 277.4,-188.0 279.3,-185.1 281.1,-181.7 283.0,-177.8 284.9,-173.5 286.8,-168.8 288.7,-164.0 290.5,-158.8 292.4,-153.3 294.3,-147.8 296.2,-142.6 298.1,-137.9 299.9,-133.4 301.8,-129.1 303.7,-124.9 305.6,-120.6 307.5,-116.4 309.4,-112.1 311.2,-107.8 313.1,-103.5 315.0,-99.3 316.9,-95.1 318.8,-90.8 320.6,-86.3 322.5,-81.5 324.4,-76.4 326.3,-70.9 328.2,-65.1 330.0,-58.9 331.9,-52.6 333.8,-46.3 335.7,-40.2 337.6,-34.3 339.4,-28.5 341.3,-22.7 343.2,-17.0 345.1,-11.5 347.0,-6.0 348.9,-0.7 350.7,4.6 352.6,9.8 354.5,15.1 356.4,20.5 358.3,26.2 360.1,31.9 362.0,37.4 363.9,42.5 365.8,47.0 367.7,51.3 369.5,55.3 371.4,59.5 373.3,63.9 375.2,68.7 377.1,73.8 378.9,79.0 380.8,83.9 382.7,88.3 384.6,92.5 386.5,96.8 388.4,101.7 390.2,107.2 392.1,112.7 394.0,118.0 395.9,123.4 397.8,128.8 399.6,134.1 401.5,139.5 403.4,144.8 405.3,149.9 407.2,154.8 409.0,159.7 410.9,164.5 412.8,169.1 414.7,173.4 416.6,177.5 418.4,181.5 420.3,185.2 422.2,188.8 424.1,192.4 426.0,195.8 427.9,199.1 429.7,202.3 431.6,205.3 433.5,208.2 435.4,211.0 437.3,213.7 439.1,216.2 441.0,218.6 442.9,221.0 444.8,223.5 446.7,225.9 448.5,228.3 450.4,230.8 452.3,233.2 454.2,235.5 456.1,237.9 457.9,240.2 459.8,242.6 461.7,245.4 463.6,248.4 465.5,251.6 467.4,254.9 469.2,258.2 471.1,261.3 473.0,264.4 474.9,267.2 476.8,269.6 478.6,271.9 480.5,274.2 482.4,275.4 484.3,276.2 486.2,277.3 488.0,279.2 489.9,281.3 491.8,283.4 493.7,285.4 495.6,287.1 497.5,288.4 499.3,289.5 501.2,290.4 503.1,292.3 505.0,293.5 506.9,294.7 508.7,295.9 510.6,297.1 512.5,298.3 514.4,299.5 516.3,300.7 518.1,302.0 520.0,303.2 521.9,304.5 523.8,305.7 525.7,306.9 527.5,307.9 529.4,308.5 531.3,308.9 533.2,309.3 535.1,309.4 537.0,309.4 538.8,309.9 540.7,310.0 542.6,308.8 544.5,307.4 546.4,306.5 548.2,305.5 550.1,303.6 552.0,301.1 553.9,298.9 555.8,298.0 557.6,298.1 559.5,298.3 561.4,298.8 563.3,299.9 565.2,301.1 567.0,302.5 568.9,303.7 570.8,304.8 572.7,305.5 574.6,305.8 576.5,305.9 578.3,305.8 580.2,305.5 582.1,305.1 584.0,304.6 585.9,304.1 587.7,303.3 589.6,302.3 591.5,301.1 593.4,300.0 595.3,299.2 597.1,298.9 599.0,299.1 600.9,299.8 602.8,300.9 604.7,302.0 606.5,303.2 608.4,304.4 610.3,305.7 612.2,307.2 614.1,308.7 616.0,309.7 617.8,310.1 619.7,310.3 621.6,310.2 623.5,310.0 625.4,309.7 627.2,309.3 629.1,308.9 631.0,308.5 632.9,308.1 634.8,308.0 636.6,308.1 638.5,308.9 640.4,310.4 642.3,312.4 644.2,314.8 646.0,317.5 647.9,320.2 649.8,322.5 651.7,324.5 653.6,326.2 655.5,327.8 657.3,329.3 659.2,330.8 661.1,332.0 663.0,333.1 664.9,334.1 666.7,335.1 668.6,336.0 670.5,337.0 672.4,338.1 674.3,339.1 676.1,340.2 678.0,341.2 679.9,342.2 681.8,343.2 683.7,344.2 685.6,345.1 687.4,346.0 689.3,346.8 691.2,347.6 693.1,348.4 695.0,349.1 696.8,349.8 698.7,350.6 700.6,351.3 702.5,352.0 704.4,352.6 706.2,352.5 708.1,351.4 710.0,349.7 711.9,348.1 713.8,346.0 715.6,343.3 717.5,340.7 719.4,338.7 721.3,337.9 723.2,338.0 725.1,338.1 726.9,338.3 728.8,338.6 730.7,338.9 732.6,339.2 734.5,339.5 736.3,339.8 738.2,340.2 740.1,340.5 742.0,340.9 743.9,341.2 745.7,341.5 747.6,341.7 749.5,341.9 751.4,342.1 753.3,342.3 755.1,342.4 757.0,342.6 758.9,342.7 760.8,342.9 762.7,343.1 764.6,343.3 766.4,343.5 768.3,343.7 770.2,344.0 772.1,344.3 774.0,344.8 775.8,345.3 777.7,346.0 779.6,346.7 781.5,347.4 783.4,348.2 785.2,349.0 787.1,349.9 789.0,350.7 790.9,351.7 792.8,352.7 794.6,353.8 796.5,354.9 798.4,356.1 800.3,357.3 802.2,358.6 804.1,359.9 805.9,361.2 807.8,362.5 809.7,363.9 811.6,365.2 813.5,366.6 815.3,367.9 817.2,369.3 819.1,370.7 821.0,372.1 822.9,373.6 824.7,375.1 826.6,376.7 828.5,378.2 830.4,379.8 832.3,381.3 834.2,382.8 836.0,384.4 837.9,385.8 839.8,387.3 841.7,388.7 843.6,390.1 845.4,391.5 847.3,392.8 849.2,394.2 851.1,395.6 853.0,396.9 854.8,398.3 856.7,399.6 858.6,400.8 860.5,402.1 862.4,403.3 864.2,404.4 866.1,405.5 868.0,406.6 869.9,407.6 871.8,408.6 873.7,409.6 875.5,410.5 877.4,411.5 879.3,412.4 881.2,413.3 883.1,414.1 884.9,414.9 886.8,415.7 888.7,416.5 890.6,417.2 892.5,417.8 894.3,418.5 896.2,419.0 898.1,419.6 900.0,420.2 901.9,420.7 903.7,421.2 905.6,421.7 907.5,422.2 909.4,422.7 911.3,423.2 913.2,423.6 915.0,424.0 916.9,424.4 918.8,424.7 920.7,425.1 922.6,425.4 924.4,425.6 926.3,425.9 928.2,426.1" fill="none" stroke="#000" stroke-width="1.65" stroke-linejoin="round"/>
<polyline points="175.8,-280.9 177.7,-288.5 179.6,-287.7 181.4,-285.3 183.3,-282.8 185.2,-280.7 187.1,-279.4 189.0,-278.1 190.8,-276.6 192.7,-275.1 194.6,-273.6 196.5,-269.9 198.4,-265.0 200.3,-260.5 202.1,-257.9 204.0,-256.7 205.9,-256.0 207.8,-255.2 209.7,-253.8 211.5,-251.9 213.4,-249.7 215.3,-247.6 217.2,-246.0 219.1,-245.6 220.9,-246.0 222.8,-246.7 224.7,-247.2 226.6,-247.0 228.5,-246.0 230.3,-244.6 232.2,-243.1 234.1,-242.2 236.0,-241.6 237.9,-241.2 239.8,-240.9 241.6,-240.6 243.5,-240.5 245.4,-240.4 247.3,-240.5 249.2,-240.9 251.0,-241.3 252.9,-241.7 254.8,-241.9 256.7,-241.7 258.6,-241.2 260.4,-240.6 262.3,-239.8 264.2,-238.7 266.1,-237.3 268.0,-235.5 269.9,-233.3 271.7,-231.1 273.6,-228.8 275.5,-226.4 277.4,-223.8 279.3,-220.8 281.1,-217.3 283.0,-213.4 284.9,-208.9 286.8,-204.2 288.7,-199.2 290.5,-193.9 292.4,-188.2 294.3,-182.6 296.2,-177.2 298.1,-172.3 299.9,-167.8 301.8,-163.3 303.7,-158.9 305.6,-154.4 307.5,-150.0 309.4,-145.5 311.2,-141.1 313.1,-136.6 315.0,-132.2 316.9,-127.9 318.8,-123.4 320.6,-118.7 322.5,-113.7 324.4,-108.4 326.3,-102.8 328.2,-96.7 330.0,-90.3 331.9,-83.7 333.8,-77.1 335.7,-70.7 337.6,-64.5 339.4,-58.4 341.3,-52.4 343.2,-46.5 345.1,-40.7 347.0,-35.0 348.9,-29.4 350.7,-23.8 352.6,-18.3 354.5,-12.8 356.4,-7.1 358.3,-1.2 360.1,4.9 362.0,10.7 363.9,16.1 365.8,21.0 367.7,25.5 369.5,29.9 371.4,34.3 373.3,39.0 375.2,44.1 377.1,49.6 378.9,55.1 380.8,60.4 382.7,65.2 384.6,69.7 386.5,74.4 388.4,79.6 390.2,85.5 392.1,91.5 394.0,97.3 395.9,103.1 397.8,109.0 399.6,114.8 401.5,120.6 403.4,126.3 405.3,131.9 407.2,137.3 409.0,142.6 410.9,147.8 412.8,152.8 414.7,157.6 416.6,162.1 418.4,166.4 420.3,170.5 422.2,174.5 424.1,178.4 426.0,182.2 427.9,185.8 429.7,189.3 431.6,192.7 433.5,195.9 435.4,199.0 437.3,201.9 439.1,204.7 441.0,207.4 442.9,210.1 444.8,212.8 446.7,215.5 448.5,218.1 450.4,220.8 452.3,223.4 454.2,226.0 456.1,228.6 457.9,231.1 459.8,233.8 461.7,236.8 463.6,240.0 465.5,243.4 467.4,246.9 469.2,250.3 471.1,253.7 473.0,256.9 474.9,259.9 476.8,262.5 478.6,265.0 480.5,267.4 482.4,268.8 484.3,269.7 486.2,270.9 488.0,273.0 489.9,275.2 491.8,277.4 493.7,279.5 495.6,281.3 497.5,282.8 499.3,284.0 501.2,285.0 503.1,287.0 505.0,288.3 506.9,289.6 508.7,290.9 510.6,292.2 512.5,293.5 514.4,294.8 516.3,296.2 518.1,297.6 520.0,298.9 521.9,300.3 523.8,301.6 525.7,302.9 527.5,304.1 529.4,304.8 531.3,305.3 533.2,305.8 535.1,306.0 537.0,306.3 538.8,307.0 540.7,307.4 542.6,306.5 544.5,305.4 546.4,304.9 548.2,304.2 550.1,302.6 552.0,300.3 553.9,298.2 555.8,297.5 557.6,297.7 559.5,298.0 561.4,298.6 563.3,299.7 565.2,301.1 567.0,302.5 568.9,303.8 570.8,304.8 572.7,305.6 574.6,306.0 576.5,306.0 578.3,305.9 580.2,305.7 582.1,305.3 584.0,304.8 585.9,304.4 587.7,303.7 589.6,302.6 591.5,301.5 593.4,300.5 595.3,299.8 597.1,299.5 599.0,299.7 600.9,300.4 602.8,301.5 604.7,302.7 606.5,303.9 608.4,305.1 610.3,306.4 612.2,308.0 614.1,309.5 616.0,310.5 617.8,310.9 619.7,311.1 621.6,311.1 623.5,311.0 625.4,310.8 627.2,310.5 629.1,310.2 631.0,309.9 632.9,309.7 634.8,309.6 636.6,309.7 638.5,310.5 640.4,312.0 642.3,314.0 644.2,316.4 646.0,319.0 647.9,321.6 649.8,323.9 651.7,325.8 653.6,327.3 655.5,328.8 657.3,330.2 659.2,331.5 661.1,332.6 663.0,333.7 664.9,334.6 666.7,335.5 668.6,336.5 670.5,337.5 672.4,338.5 674.3,339.5 676.1,340.5 678.0,341.5 679.9,342.4 681.8,343.4 683.7,344.3 685.6,345.1 687.4,345.9 689.3,346.7 691.2,347.5 693.1,348.1 695.0,348.8 696.8,349.5 698.7,350.1 700.6,350.8 702.5,351.4 704.4,351.9 706.2,351.7 708.1,350.4 710.0,348.6 711.9,346.9 713.8,344.7 715.6,342.0 717.5,339.2 719.4,337.2 721.3,336.4 723.2,336.5 725.1,336.6 726.9,336.8 728.8,337.0 730.7,337.3 732.6,337.6 734.5,337.9 736.3,338.3 738.2,338.6 740.1,339.0 742.0,339.3 743.9,339.6 745.7,339.9 747.6,340.2 749.5,340.4 751.4,340.6 753.3,340.7 755.1,340.9 757.0,341.0 758.9,341.2 760.8,341.3 762.7,341.5 764.6,341.7 766.4,341.9 768.3,342.2 770.2,342.4 772.1,342.8 774.0,343.2 775.8,343.8 777.7,344.5 779.6,345.2 781.5,345.9 783.4,346.7 785.2,347.5 787.1,348.4 789.0,349.2 790.9,350.2 792.8,351.2 794.6,352.3 796.5,353.4 798.4,354.6 800.3,355.9 802.2,357.2 804.1,358.5 805.9,359.8 807.8,361.1 809.7,362.5 811.6,363.9 813.5,365.2 815.3,366.6 817.2,367.9 819.1,369.4 821.0,370.8 822.9,372.3 824.7,373.8 826.6,375.4 828.5,376.9 830.4,378.5 832.3,380.1 834.2,381.6 836.0,383.2 837.9,384.6 839.8,386.1 841.7,387.5 843.6,388.9 845.4,390.3 847.3,391.7 849.2,393.1 851.1,394.5 853.0,395.8 854.8,397.2 856.7,398.5 858.6,399.8 860.5,401.1 862.4,402.3 864.2,403.4 866.1,404.6 868.0,405.6 869.9,406.6 871.8,407.7 873.7,408.7 875.5,409.6 877.4,410.6 879.3,411.5 881.2,412.4 883.1,413.3 884.9,414.1 886.8,414.9 888.7,415.7 890.6,416.4 892.5,417.1 894.3,417.7 896.2,418.3 898.1,418.9 900.0,419.5 901.9,420.1 903.7,420.6 905.6,421.1 907.5,421.7 909.4,422.1 911.3,422.6 913.2,423.1 915.0,423.5 916.9,423.9 918.8,424.3 920.7,424.6 922.6,425.0 924.4,425.2 926.3,425.5 928.2,425.7" fill="none" stroke="#000" stroke-width="1.65" stroke-linejoin="round"/>
<polyline points="175.8,-318.5 177.7,-326.1 179.6,-325.2 181.4,-322.8 183.3,-320.3 185.2,-318.3 187.1,-316.9 189.0,-315.6 190.8,-314.1 192.7,-312.6 194.6,-311.1 196.5,-307.4 198.4,-302.4 200.3,-297.9 202.1,-295.4 204.0,-294.1 205.9,-293.4 207.8,-292.7 209.7,-291.3 211.5,-289.4 213.4,-287.2 215.3,-285.1 217.2,-283.5 219.1,-283.1 220.9,-283.5 222.8,-284.2 224.7,-284.7 226.6,-284.5 228.5,-283.5 230.3,-282.1 232.2,-280.7 234.1,-279.7 236.0,-279.2 237.9,-278.8 239.8,-278.4 241.6,-278.2 243.5,-278.0 245.4,-277.9 247.3,-278.1 249.2,-278.5 251.0,-278.9 252.9,-279.3 254.8,-279.4 256.7,-279.3 258.6,-278.7 260.4,-278.1 262.3,-277.4 264.2,-276.3 266.1,-274.9 268.0,-273.0 269.9,-270.8 271.7,-268.5 273.6,-266.2 275.5,-263.7 277.4,-261.1 279.3,-258.0 281.1,-254.5 283.0,-250.4 284.9,-245.9 286.8,-241.0 288.7,-235.9 290.5,-230.4 292.4,-224.6 294.3,-218.8 296.2,-213.3 298.1,-208.2 299.9,-203.5 301.8,-198.8 303.7,-194.2 305.6,-189.6 307.5,-185.0 309.4,-180.3 311.2,-175.7 313.1,-171.0 315.0,-166.4 316.9,-161.9 318.8,-157.3 320.6,-152.4 322.5,-147.3 324.4,-141.8 326.3,-136.0 328.2,-129.6 330.0,-122.9 331.9,-115.9 333.8,-109.0 335.7,-102.3 337.6,-95.9 339.4,-89.5 341.3,-83.3 343.2,-77.1 345.1,-71.0 347.0,-65.0 348.9,-59.2 350.7,-53.4 352.6,-47.6 354.5,-41.8 356.4,-35.8 358.3,-29.5 360.1,-23.1 362.0,-17.0 363.9,-11.2 365.8,-6.1 367.7,-1.3 369.5,3.4 371.4,8.1 373.3,13.1 375.2,18.6 377.1,24.4 378.9,30.4 380.8,36.0 382.7,41.2 384.6,46.0 386.5,51.1 388.4,56.7 390.2,63.1 392.1,69.6 394.0,75.8 395.9,82.1 397.8,88.4 399.6,94.7 401.5,101.0 403.4,107.2 405.3,113.2 407.2,119.1 409.0,124.9 410.9,130.5 412.8,136.0 414.7,141.1 416.6,146.1 418.4,150.8 420.3,155.3 422.2,159.7 424.1,163.9 426.0,168.1 427.9,172.1 429.7,175.9 431.6,179.6 433.5,183.2 435.4,186.6 437.3,189.8 439.1,192.9 441.0,195.8 442.9,198.8 444.8,201.8 446.7,204.7 448.5,207.6 450.4,210.5 452.3,213.4 454.2,216.2 456.1,219.0 457.9,221.7 459.8,224.6 461.7,227.8 463.6,231.3 465.5,234.9 467.4,238.6 469.2,242.3 471.1,245.9 473.0,249.3 474.9,252.4 476.8,255.2 478.6,257.8 480.5,260.4 482.4,261.9 484.3,263.0 486.2,264.3 488.0,266.5 489.9,268.9 491.8,271.2 493.7,273.4 495.6,275.4 497.5,277.0 499.3,278.3 501.2,279.4 503.1,281.5 505.0,282.9 506.9,284.3 508.7,285.7 510.6,287.1 512.5,288.5 514.4,290.0 516.3,291.5 518.1,292.9 520.0,294.4 521.9,295.9 523.8,297.4 525.7,298.8 527.5,300.1 529.4,300.9 531.3,301.5 533.2,302.1 535.1,302.4 537.0,302.9 538.8,303.9 540.7,304.6 542.6,304.0 544.5,303.2 546.4,303.0 548.2,302.7 550.1,301.4 552.0,299.3 553.9,297.4 555.8,296.8 557.6,297.2 559.5,297.5 561.4,298.3 563.3,299.5 565.2,300.9 567.0,302.3 568.9,303.7 570.8,304.8 572.7,305.5 574.6,306.0 576.5,306.1 578.3,306.0 580.2,305.8 582.1,305.4 584.0,305.0 585.9,304.5 587.7,303.8 589.6,302.9 591.5,301.8 593.4,300.8 595.3,300.1 597.1,299.8 599.0,300.1 600.9,300.8 602.8,301.9 604.7,303.1 606.5,304.4 608.4,305.6 610.3,306.9 612.2,308.5 614.1,310.1 616.0,311.1 617.8,311.5 619.7,311.7 621.6,311.8 623.5,311.8 625.4,311.6 627.2,311.5 629.1,311.2 631.0,311.0 632.9,310.8 634.8,310.8 636.6,310.9 638.5,311.8 640.4,313.3 642.3,315.3 644.2,317.6 646.0,320.2 647.9,322.7 649.8,324.9 651.7,326.7 653.6,328.2 655.5,329.5 657.3,330.8 659.2,332.0 661.1,333.1 663.0,334.1 664.9,335.0 666.7,335.9 668.6,336.8 670.5,337.7 672.4,338.7 674.3,339.7 676.1,340.7 678.0,341.6 679.9,342.5 681.8,343.4 683.7,344.3 685.6,345.1 687.4,345.8 689.3,346.6 691.2,347.2 693.1,347.9 695.0,348.5 696.8,349.1 698.7,349.7 700.6,350.3 702.5,350.8 704.4,351.3 706.2,350.9 708.1,349.5 710.0,347.6 711.9,345.8 713.8,343.5 715.6,340.7 717.5,337.9 719.4,335.8 721.3,334.9 723.2,335.0 725.1,335.1 726.9,335.3 728.8,335.6 730.7,335.8 732.6,336.1 734.5,336.5 736.3,336.8 738.2,337.2 740.1,337.5 742.0,337.8 743.9,338.2 745.7,338.4 747.6,338.7 749.5,338.9 751.4,339.1 753.3,339.2 755.1,339.4 757.0,339.6 758.9,339.7 760.8,339.9 762.7,340.0 764.6,340.2 766.4,340.4 768.3,340.7 770.2,341.0 772.1,341.3 774.0,341.8 775.8,342.4 777.7,343.0 779.6,343.7 781.5,344.5 783.4,345.3 785.2,346.1 787.1,346.9 789.0,347.8 790.9,348.8 792.8,349.8 794.6,350.9 796.5,352.1 798.4,353.3 800.3,354.5 802.2,355.8 804.1,357.1 805.9,358.5 807.8,359.8 809.7,361.2 811.6,362.6 813.5,363.9 815.3,365.3 817.2,366.7 819.1,368.1 821.0,369.6 822.9,371.1 824.7,372.6 826.6,374.2 828.5,375.8 830.4,377.3 832.3,378.9 834.2,380.5 836.0,382.0 837.9,383.5 839.8,385.0 841.7,386.4 843.6,387.8 845.4,389.2 847.3,390.6 849.2,392.0 851.1,393.4 853.0,394.8 854.8,396.2 856.7,397.5 858.6,398.8 860.5,400.1 862.4,401.3 864.2,402.5 866.1,403.6 868.0,404.7 869.9,405.7 871.8,406.8 873.7,407.8 875.5,408.8 877.4,409.7 879.3,410.7 881.2,411.6 883.1,412.5 884.9,413.3 886.8,414.2 888.7,414.9 890.6,415.7 892.5,416.4 894.3,417.0 896.2,417.7 898.1,418.3 900.0,418.9 901.9,419.5 903.7,420.0 905.6,420.6 907.5,421.1 909.4,421.6 911.3,422.1 913.2,422.6 915.0,423.0 916.9,423.4 918.8,423.8 920.7,424.2 922.6,424.6 924.4,424.9 926.3,425.2 928.2,425.4" fill="none" stroke="#000" stroke-width="1.65" stroke-linejoin="round"/>
<polyline points="175.8,-351.6 177.7,-359.1 179.6,-358.3 181.4,-355.8 183.3,-353.3 185.2,-351.3 187.1,-349.9 189.0,-348.6 190.8,-347.1 192.7,-345.6 194.6,-344.0 196.5,-340.4 198.4,-335.4 200.3,-330.9 202.1,-328.4 204.0,-327.1 205.9,-326.4 207.8,-325.6 209.7,-324.2 211.5,-322.3 213.4,-320.2 215.3,-318.1 217.2,-316.5 219.1,-316.1 220.9,-316.5 222.8,-317.2 224.7,-317.7 226.6,-317.5 228.5,-316.5 230.3,-315.1 232.2,-313.7 234.1,-312.7 236.0,-312.2 237.9,-311.8 239.8,-311.5 241.6,-311.2 243.5,-311.1 245.4,-311.0 247.3,-311.1 249.2,-311.5 251.0,-312.0 252.9,-312.3 254.8,-312.5 256.7,-312.3 258.6,-311.8 260.4,-311.2 262.3,-310.4 264.2,-309.3 266.1,-307.9 268.0,-306.0 269.9,-303.8 271.7,-301.4 273.6,-299.1 275.5,-296.6 277.4,-293.8 279.3,-290.7 281.1,-287.2 283.0,-283.0 284.9,-278.4 286.8,-273.4 288.7,-268.1 290.5,-262.5 292.4,-256.6 294.3,-250.7 296.2,-245.0 298.1,-239.8 299.9,-234.9 301.8,-230.1 303.7,-225.3 305.6,-220.6 307.5,-215.8 309.4,-211.0 311.2,-206.1 313.1,-201.3 315.0,-196.6 316.9,-191.9 318.8,-187.1 320.6,-182.1 322.5,-176.8 324.4,-171.1 326.3,-165.1 328.2,-158.5 330.0,-151.5 331.9,-144.3 333.8,-137.1 335.7,-130.2 337.6,-123.5 339.4,-116.9 341.3,-110.4 343.2,-104.0 345.1,-97.7 347.0,-91.5 348.9,-85.4 350.7,-79.4 352.6,-73.4 354.5,-67.3 356.4,-61.1 358.3,-54.5 360.1,-47.8 362.0,-41.3 363.9,-35.3 365.8,-29.9 367.7,-24.8 369.5,-19.9 371.4,-14.9 373.3,-9.7 375.2,-3.9 377.1,2.3 378.9,8.6 380.8,14.6 382.7,20.0 384.6,25.2 386.5,30.6 388.4,36.6 390.2,43.4 392.1,50.3 394.0,56.9 395.9,63.6 397.8,70.4 399.6,77.1 401.5,83.8 403.4,90.4 405.3,96.8 407.2,103.1 409.0,109.3 410.9,115.3 412.8,121.2 414.7,126.7 416.6,132.0 418.4,137.1 420.3,142.0 422.2,146.7 424.1,151.3 426.0,155.7 427.9,160.0 429.7,164.2 431.6,168.2 433.5,172.0 435.4,175.7 437.3,179.2 439.1,182.5 441.0,185.7 442.9,188.9 444.8,192.1 446.7,195.2 448.5,198.4 450.4,201.5 452.3,204.5 454.2,207.6 456.1,210.5 457.9,213.5 459.8,216.6 461.7,220.0 463.6,223.6 465.5,227.5 467.4,231.3 469.2,235.2 471.1,238.9 473.0,242.5 474.9,245.8 476.8,248.8 478.6,251.5 480.5,254.2 482.4,255.9 484.3,257.1 486.2,258.5 488.0,260.8 489.9,263.3 491.8,265.8 493.7,268.1 495.6,270.1 497.5,271.8 499.3,273.3 501.2,274.4 503.1,276.7 505.0,278.2 506.9,279.7 508.7,281.2 510.6,282.7 512.5,284.2 514.4,285.7 516.3,287.3 518.1,288.9 520.0,290.5 521.9,292.1 523.8,293.6 525.7,295.1 527.5,296.5 529.4,297.5 531.3,298.1 533.2,298.8 535.1,299.3 537.0,299.9 538.8,301.2 540.7,302.1 542.6,301.8 544.5,301.3 546.4,301.4 548.2,301.3 550.1,300.3 552.0,298.4 553.9,296.7 555.8,296.2 557.6,296.7 559.5,297.1 561.4,298.0 563.3,299.2 565.2,300.7 567.0,302.2 568.9,303.6 570.8,304.7 572.7,305.5 574.6,305.9 576.5,306.0 578.3,306.0 580.2,305.8 582.1,305.4 584.0,305.0 585.9,304.6 587.7,304.0 589.6,303.0 591.5,302.0 593.4,301.0 595.3,300.3 597.1,300.1 599.0,300.3 600.9,301.1 602.8,302.2 604.7,303.4 606.5,304.7 608.4,305.9 610.3,307.3 612.2,308.9 614.1,310.5 616.0,311.5 617.8,312.0 619.7,312.2 621.6,312.3 623.5,312.3 625.4,312.3 627.2,312.2 629.1,312.0 631.0,311.9 632.9,311.8 634.8,311.8 636.6,311.9 638.5,312.8 640.4,314.3 642.3,316.3 644.2,318.6 646.0,321.1 647.9,323.6 649.8,325.7 651.7,327.4 653.6,328.8 655.5,330.1 657.3,331.3 659.2,332.5 661.1,333.5 663.0,334.4 664.9,335.3 666.7,336.2 668.6,337.0 670.5,337.9 672.4,338.9 674.3,339.8 676.1,340.8 678.0,341.7 679.9,342.6 681.8,343.4 683.7,344.2 685.6,345.0 687.4,345.7 689.3,346.4 691.2,347.0 693.1,347.6 695.0,348.2 696.8,348.7 698.7,349.3 700.6,349.8 702.5,350.3 704.4,350.7 706.2,350.2 708.1,348.7 710.0,346.7 711.9,344.7 713.8,342.4 715.6,339.5 717.5,336.6 719.4,334.4 721.3,333.6 723.2,333.6 725.1,333.8 726.9,334.0 728.8,334.2 730.7,334.5 732.6,334.8 734.5,335.1 736.3,335.4 738.2,335.8 740.1,336.1 742.0,336.5 743.9,336.8 745.7,337.1 747.6,337.3 749.5,337.5 751.4,337.7 753.3,337.9 755.1,338.0 757.0,338.2 758.9,338.3 760.8,338.5 762.7,338.7 764.6,338.9 766.4,339.1 768.3,339.3 770.2,339.6 772.1,340.0 774.0,340.4 775.8,341.0 777.7,341.6 779.6,342.4 781.5,343.1 783.4,343.9 785.2,344.8 787.1,345.6 789.0,346.5 790.9,347.5 792.8,348.5 794.6,349.6 796.5,350.8 798.4,352.0 800.3,353.2 802.2,354.5 804.1,355.9 805.9,357.2 807.8,358.6 809.7,360.0 811.6,361.4 813.5,362.7 815.3,364.1 817.2,365.5 819.1,366.9 821.0,368.4 822.9,369.9 824.7,371.5 826.6,373.1 828.5,374.6 830.4,376.2 832.3,377.8 834.2,379.4 836.0,380.9 837.9,382.5 839.8,383.9 841.7,385.4 843.6,386.8 845.4,388.2 847.3,389.6 849.2,391.1 851.1,392.5 853.0,393.9 854.8,395.2 856.7,396.6 858.6,397.9 860.5,399.2 862.4,400.4 864.2,401.6 866.1,402.8 868.0,403.8 869.9,404.9 871.8,405.9 873.7,407.0 875.5,408.0 877.4,409.0 879.3,409.9 881.2,410.8 883.1,411.7 884.9,412.6 886.8,413.4 888.7,414.2 890.6,415.0 892.5,415.7 894.3,416.4 896.2,417.0 898.1,417.7 900.0,418.3 901.9,418.9 903.7,419.5 905.6,420.0 907.5,420.6 909.4,421.1 911.3,421.6 913.2,422.1 915.0,422.6 916.9,423.0 918.8,423.4 920.7,423.8 922.6,424.2 924.4,424.5 926.3,424.8 928.2,425.1" fill="none" stroke="#000" stroke-width="1.65" stroke-linejoin="round"/>
<polyline points="175.8,-389.1 177.7,-396.7 179.6,-395.8 181.4,-393.4 183.3,-390.8 185.2,-388.8 187.1,-387.4 189.0,-386.1 190.8,-384.6 192.7,-383.1 194.6,-381.5 196.5,-377.9 198.4,-372.9 200.3,-368.4 202.1,-365.8 204.0,-364.6 205.9,-363.9 207.8,-363.1 209.7,-361.7 211.5,-359.8 213.4,-357.7 215.3,-355.5 217.2,-354.0 219.1,-353.6 220.9,-354.0 222.8,-354.7 224.7,-355.2 226.6,-355.0 228.5,-354.1 230.3,-352.6 232.2,-351.2 234.1,-350.2 236.0,-349.7 237.9,-349.3 239.8,-349.0 241.6,-348.8 243.5,-348.6 245.4,-348.5 247.3,-348.7 249.2,-349.0 251.0,-349.5 252.9,-349.9 254.8,-350.0 256.7,-349.9 258.6,-349.4 260.4,-348.7 262.3,-348.0 264.2,-346.9 266.1,-345.4 268.0,-343.5 269.9,-341.2 271.7,-338.8 273.6,-336.4 275.5,-333.9 277.4,-331.1 279.3,-327.9 281.1,-324.2 283.0,-320.0 284.9,-315.3 286.8,-310.1 288.7,-304.7 290.5,-299.0 292.4,-292.9 294.3,-286.8 296.2,-281.0 298.1,-275.7 299.9,-270.6 301.8,-265.6 303.7,-260.7 305.6,-255.7 307.5,-250.7 309.4,-245.7 311.2,-240.7 313.1,-235.7 315.0,-230.8 316.9,-225.9 318.8,-221.0 320.6,-215.8 322.5,-210.3 324.4,-204.4 326.3,-198.2 328.2,-191.4 330.0,-184.0 331.9,-176.5 333.8,-169.0 335.7,-161.7 337.6,-154.8 339.4,-148.0 341.3,-141.2 343.2,-134.5 345.1,-128.0 347.0,-121.5 348.9,-115.2 350.7,-108.9 352.6,-102.6 354.5,-96.3 356.4,-89.7 358.3,-82.8 360.1,-75.7 362.0,-68.9 363.9,-62.6 365.8,-56.9 367.7,-51.5 369.5,-46.3 371.4,-41.0 373.3,-35.4 375.2,-29.3 377.1,-22.7 378.9,-16.1 380.8,-9.7 382.7,-3.9 384.6,1.6 386.5,7.4 388.4,13.8 390.2,21.1 392.1,28.4 394.0,35.5 395.9,42.7 397.8,49.9 399.6,57.1 401.5,64.3 403.4,71.3 405.3,78.2 407.2,85.0 409.0,91.6 410.9,98.1 412.8,104.4 414.7,110.4 416.6,116.1 418.4,121.6 420.3,126.9 422.2,131.9 424.1,136.9 426.0,141.7 427.9,146.4 429.7,150.9 431.6,155.2 433.5,159.4 435.4,163.3 437.3,167.1 439.1,170.7 441.0,174.2 442.9,177.7 444.8,181.1 446.7,184.6 448.5,187.9 450.4,191.3 452.3,194.6 454.2,197.8 456.1,201.0 457.9,204.2 459.8,207.5 461.7,211.1 463.6,215.0 465.5,219.0 467.4,223.1 469.2,227.2 471.1,231.1 473.0,234.9 474.9,238.4 476.8,241.5 478.6,244.4 480.5,247.2 482.4,249.1 484.3,250.4 486.2,252.0 488.0,254.4 489.9,257.0 491.8,259.6 493.7,262.0 495.6,264.2 497.5,266.0 499.3,267.5 501.2,268.8 503.1,271.2 505.0,272.8 506.9,274.4 508.7,276.0 510.6,277.6 512.5,279.2 514.4,280.8 516.3,282.5 518.1,284.2 520.0,285.9 521.9,287.7 523.8,289.3 525.7,291.0 527.5,292.4 529.4,293.5 531.3,294.2 533.2,295.0 535.1,295.6 537.0,296.4 538.8,298.0 540.7,299.2 542.6,299.2 544.5,299.0 546.4,299.5 548.2,299.7 550.1,299.0 552.0,297.3 553.9,295.7 555.8,295.5 557.6,296.0 559.5,296.6 561.4,297.5 563.3,298.9 565.2,300.4 567.0,302.0 568.9,303.4 570.8,304.5 572.7,305.3 574.6,305.8 576.5,305.9 578.3,305.9 580.2,305.7 582.1,305.4 584.0,305.0 585.9,304.6 587.7,304.0 589.6,303.1 591.5,302.0 593.4,301.1 595.3,300.4 597.1,300.2 599.0,300.5 600.9,301.2 602.8,302.3 604.7,303.6 606.5,304.9 608.4,306.1 610.3,307.5 612.2,309.2 614.1,310.7 616.0,311.8 617.8,312.3 619.7,312.5 621.6,312.7 623.5,312.7 625.4,312.7 627.2,312.7 629.1,312.6 631.0,312.5 632.9,312.5 634.8,312.5 636.6,312.7 638.5,313.5 640.4,315.0 642.3,317.0 644.2,319.4 646.0,321.8 647.9,324.2 649.8,326.3 651.7,328.0 653.6,329.3 655.5,330.5 657.3,331.7 659.2,332.8 661.1,333.7 663.0,334.6 664.9,335.5 666.7,336.3 668.6,337.2 670.5,338.1 672.4,339.0 674.3,339.9 676.1,340.8 678.0,341.7 679.9,342.5 681.8,343.3 683.7,344.1 685.6,344.8 687.4,345.5 689.3,346.2 691.2,346.8 693.1,347.3 695.0,347.8 696.8,348.4 698.7,348.9 700.6,349.4 702.5,349.8 704.4,350.1 706.2,349.6 708.1,348.0 710.0,345.8 711.9,343.7 713.8,341.3 715.6,338.3 717.5,335.4 719.4,333.2 721.3,332.3 723.2,332.4 725.1,332.5 726.9,332.7 728.8,332.9 730.7,333.2 732.6,333.5 734.5,333.8 736.3,334.2 738.2,334.5 740.1,334.9 742.0,335.2 743.9,335.5 745.7,335.8 747.6,336.0 749.5,336.2 751.4,336.4 753.3,336.6 755.1,336.8 757.0,336.9 758.9,337.1 760.8,337.2 762.7,337.4 764.6,337.6 766.4,337.8 768.3,338.0 770.2,338.3 772.1,338.7 774.0,339.2 775.8,339.7 777.7,340.4 779.6,341.1 781.5,341.9 783.4,342.7 785.2,343.5 787.1,344.4 789.0,345.3 790.9,346.2 792.8,347.3 794.6,348.4 796.5,349.6 798.4,350.8 800.3,352.1 802.2,353.4 804.1,354.7 805.9,356.1 807.8,357.5 809.7,358.8 811.6,360.2 813.5,361.6 815.3,363.0 817.2,364.4 819.1,365.9 821.0,367.4 822.9,368.9 824.7,370.4 826.6,372.0 828.5,373.6 830.4,375.2 832.3,376.8 834.2,378.4 836.0,379.9 837.9,381.5 839.8,383.0 841.7,384.4 843.6,385.9 845.4,387.3 847.3,388.7 849.2,390.1 851.1,391.6 853.0,393.0 854.8,394.3 856.7,395.7 858.6,397.0 860.5,398.3 862.4,399.6 864.2,400.8 866.1,401.9 868.0,403.1 869.9,404.1 871.8,405.2 873.7,406.2 875.5,407.2 877.4,408.2 879.3,409.2 881.2,410.1 883.1,411.1 884.9,411.9 886.8,412.8 888.7,413.6 890.6,414.4 892.5,415.1 894.3,415.8 896.2,416.5 898.1,417.1 900.0,417.7 901.9,418.3 903.7,418.9 905.6,419.5 907.5,420.1 909.4,420.6 911.3,421.2 913.2,421.7 915.0,422.2 916.9,422.6 918.8,423.1 920.7,423.5 922.6,423.8 924.4,424.2 926.3,424.5 928.2,424.8" fill="none" stroke="#000" stroke-width="1.65" stroke-linejoin="round"/>
<polyline points="175.8,-422.2 177.7,-429.7 179.6,-428.9 181.4,-426.4 183.3,-423.8 185.2,-421.8 187.1,-420.4 189.0,-419.1 190.8,-417.6 192.7,-416.1 194.6,-414.5 196.5,-410.8 198.4,-405.9 200.3,-401.4 202.1,-398.8 204.0,-397.6 205.9,-396.9 207.8,-396.1 209.7,-394.7 211.5,-392.8 213.4,-390.7 215.3,-388.5 217.2,-387.0 219.1,-386.6 220.9,-387.0 222.8,-387.7 224.7,-388.2 226.6,-388.0 228.5,-387.1 230.3,-385.6 232.2,-384.2 234.1,-383.3 236.0,-382.7 237.9,-382.3 239.8,-382.0 241.6,-381.8 243.5,-381.6 245.4,-381.5 247.3,-381.7 249.2,-382.1 251.0,-382.5 252.9,-382.9 254.8,-383.1 256.7,-382.9 258.6,-382.4 260.4,-381.8 262.3,-381.0 264.2,-379.9 266.1,-378.4 268.0,-376.4 269.9,-374.1 271.7,-371.7 273.6,-369.3 275.5,-366.7 277.4,-363.8 279.3,-360.6 281.1,-356.9 283.0,-352.6 284.9,-347.7 286.8,-342.5 288.7,-337.0 290.5,-331.1 292.4,-324.9 294.3,-318.6 296.2,-312.7 298.1,-307.2 299.9,-302.0 301.8,-296.9 303.7,-291.8 305.6,-286.6 307.5,-281.5 309.4,-276.3 311.2,-271.1 313.1,-265.9 315.0,-260.9 316.9,-255.9 318.8,-250.8 320.6,-245.4 322.5,-239.8 324.4,-233.7 326.3,-227.3 328.2,-220.2 330.0,-212.6 331.9,-204.8 333.8,-197.0 335.7,-189.5 337.6,-182.3 339.4,-175.3 341.3,-168.3 343.2,-161.4 345.1,-154.6 347.0,-147.9 348.9,-141.3 350.7,-134.8 352.6,-128.3 354.5,-121.7 356.4,-114.9 358.3,-107.7 360.1,-100.3 362.0,-93.2 363.9,-86.6 365.8,-80.6 367.7,-75.0 369.5,-69.5 371.4,-64.0 373.3,-58.1 375.2,-51.7 377.1,-44.8 378.9,-37.8 380.8,-31.1 382.7,-24.9 384.6,-19.1 386.5,-13.0 388.4,-6.3 390.2,1.4 392.1,9.2 394.0,16.7 395.9,24.3 397.8,31.9 399.6,39.5 401.5,47.1 403.4,54.6 405.3,61.9 407.2,69.1 409.0,76.1 410.9,83.0 412.8,89.7 414.7,96.0 416.6,102.1 418.4,108.0 420.3,113.6 422.2,119.0 424.1,124.3 426.0,129.4 427.9,134.4 429.7,139.2 431.6,143.8 433.5,148.3 435.4,152.5 437.3,156.6 439.1,160.4 441.0,164.2 442.9,167.9 444.8,171.5 446.7,175.2 448.5,178.8 450.4,182.3 452.3,185.8 454.2,189.3 456.1,192.7 457.9,196.0 459.8,199.5 461.7,203.4 463.6,207.4 465.5,211.6 467.4,215.9 469.2,220.2 471.1,224.3 473.0,228.2 474.9,231.8 476.8,235.1 478.6,238.2 480.5,241.1 482.4,243.1 484.3,244.5 486.2,246.2 488.0,248.7 489.9,251.5 491.8,254.1 493.7,256.7 495.6,258.9 497.5,260.9 499.3,262.5 501.2,263.9 503.1,266.3 505.0,268.0 506.9,269.7 508.7,271.4 510.6,273.1 512.5,274.8 514.4,276.6 516.3,278.3 518.1,280.1 520.0,282.0 521.9,283.8 523.8,285.5 525.7,287.3 527.5,288.8 529.4,290.0 531.3,290.8 533.2,291.7 535.1,292.4 537.0,293.4 538.8,295.2 540.7,296.7 542.6,296.9 544.5,297.0 546.4,297.7 548.2,298.3 550.1,297.8 552.0,296.4 553.9,294.9 555.8,294.8 557.6,295.5 559.5,296.1 561.4,297.1 563.3,298.5 565.2,300.1 567.0,301.7 568.9,303.2 570.8,304.4 572.7,305.2 574.6,305.7 576.5,305.8 578.3,305.8 580.2,305.6 582.1,305.3 584.0,305.0 585.9,304.6 587.7,304.0 589.6,303.1 591.5,302.1 593.4,301.1 595.3,300.5 597.1,300.2 599.0,300.5 600.9,301.3 602.8,302.4 604.7,303.7 606.5,305.0 608.4,306.3 610.3,307.7 612.2,309.4 614.1,310.9 616.0,312.0 617.8,312.5 619.7,312.8 621.6,312.9 623.5,313.0 625.4,313.1 627.2,313.1 629.1,313.1 631.0,313.0 632.9,313.0 634.8,313.1 636.6,313.3 638.5,314.1 640.4,315.6 642.3,317.6 644.2,319.9 646.0,322.4 647.9,324.7 649.8,326.8 651.7,328.4 653.6,329.7 655.5,330.9 657.3,332.0 659.2,333.0 661.1,333.9 663.0,334.8 664.9,335.6 666.7,336.4 668.6,337.3 670.5,338.1 672.4,339.0 674.3,339.9 676.1,340.8 678.0,341.6 679.9,342.5 681.8,343.2 683.7,344.0 685.6,344.7 687.4,345.3 689.3,345.9 691.2,346.5 693.1,347.0 695.0,347.5 696.8,348.0 698.7,348.5 700.6,349.0 702.5,349.3 704.4,349.6 706.2,349.0 708.1,347.3 710.0,345.0 711.9,342.9 713.8,340.4 715.6,337.3 717.5,334.3 719.4,332.1 721.3,331.2 723.2,331.2 725.1,331.3 726.9,331.5 728.8,331.8 730.7,332.0 732.6,332.3 734.5,332.7 736.3,333.0 738.2,333.4 740.1,333.7 742.0,334.0 743.9,334.3 745.7,334.6 747.6,334.9 749.5,335.1 751.4,335.3 753.3,335.4 755.1,335.6 757.0,335.8 758.9,335.9 760.8,336.1 762.7,336.2 764.6,336.4 766.4,336.6 768.3,336.9 770.2,337.2 772.1,337.5 774.0,338.0 775.8,338.6 777.7,339.2 779.6,340.0 781.5,340.7 783.4,341.6 785.2,342.4 787.1,343.3 789.0,344.2 790.9,345.1 792.8,346.2 794.6,347.3 796.5,348.5 798.4,349.7 800.3,351.0 802.2,352.3 804.1,353.7 805.9,355.0 807.8,356.4 809.7,357.8 811.6,359.2 813.5,360.6 815.3,362.0 817.2,363.4 819.1,364.9 821.0,366.4 822.9,367.9 824.7,369.5 826.6,371.1 828.5,372.7 830.4,374.3 832.3,375.9 834.2,377.5 836.0,379.1 837.9,380.6 839.8,382.1 841.7,383.6 843.6,385.0 845.4,386.4 847.3,387.9 849.2,389.3 851.1,390.7 853.0,392.2 854.8,393.5 856.7,394.9 858.6,396.3 860.5,397.6 862.4,398.8 864.2,400.0 866.1,401.2 868.0,402.3 869.9,403.4 871.8,404.5 873.7,405.5 875.5,406.6 877.4,407.6 879.3,408.6 881.2,409.5 883.1,410.4 884.9,411.3 886.8,412.2 888.7,413.0 890.6,413.8 892.5,414.6 894.3,415.3 896.2,415.9 898.1,416.6 900.0,417.2 901.9,417.9 903.7,418.5 905.6,419.1 907.5,419.7 909.4,420.2 911.3,420.8 913.2,421.3 915.0,421.8 916.9,422.3 918.8,422.7 920.7,423.1 922.6,423.5 924.4,423.9 926.3,424.2 928.2,424.5" fill="none" stroke="#000" stroke-width="1.65" stroke-linejoin="round"/>
<polyline points="175.8,-456.7 177.7,-464.2 179.6,-463.4 181.4,-460.9 183.3,-458.4 185.2,-456.3 187.1,-454.9 189.0,-453.6 190.8,-452.1 192.7,-450.6 194.6,-449.0 196.5,-445.3 198.4,-440.3 200.3,-435.9 202.1,-433.3 204.0,-432.1 205.9,-431.4 207.8,-430.6 209.7,-429.2 211.5,-427.3 213.4,-425.2 215.3,-423.0 217.2,-421.5 219.1,-421.1 220.9,-421.5 222.8,-422.2 224.7,-422.7 226.6,-422.5 228.5,-421.6 230.3,-420.1 232.2,-418.7 234.1,-417.8 236.0,-417.3 237.9,-416.9 239.8,-416.5 241.6,-416.3 243.5,-416.1 245.4,-416.1 247.3,-416.2 249.2,-416.6 251.0,-417.1 252.9,-417.4 254.8,-417.6 256.7,-417.4 258.6,-416.9 260.4,-416.3 262.3,-415.5 264.2,-414.4 266.1,-412.9 268.0,-410.9 269.9,-408.6 271.7,-406.1 273.6,-403.6 275.5,-401.0 277.4,-398.0 279.3,-394.8 281.1,-391.0 283.0,-386.6 284.9,-381.7 286.8,-376.3 288.7,-370.7 290.5,-364.6 292.4,-358.3 294.3,-351.9 296.2,-345.8 298.1,-340.2 299.9,-334.8 301.8,-329.6 303.7,-324.3 305.6,-319.0 307.5,-313.6 309.4,-308.2 311.2,-302.9 313.1,-297.5 315.0,-292.3 316.9,-287.1 318.8,-281.9 320.6,-276.4 322.5,-270.6 324.4,-264.3 326.3,-257.7 328.2,-250.4 330.0,-242.5 331.9,-234.4 333.8,-226.3 335.7,-218.6 337.6,-211.1 339.4,-203.8 341.3,-196.6 343.2,-189.5 345.1,-182.4 347.0,-175.5 348.9,-168.7 350.7,-161.9 352.6,-155.1 354.5,-148.3 356.4,-141.2 358.3,-133.7 360.1,-126.0 362.0,-118.6 363.9,-111.6 365.8,-105.4 367.7,-99.5 369.5,-93.8 371.4,-88.0 373.3,-81.8 375.2,-75.0 377.1,-67.8 378.9,-60.4 380.8,-53.4 382.7,-46.9 384.6,-40.8 386.5,-34.4 388.4,-27.2 390.2,-19.1 392.1,-10.8 394.0,-2.9 395.9,5.1 397.8,13.1 399.6,21.2 401.5,29.2 403.4,37.1 405.3,44.9 407.2,52.5 409.0,59.9 410.9,67.2 412.8,74.3 414.7,81.1 416.6,87.5 418.4,93.8 420.3,99.7 422.2,105.5 424.1,111.1 426.0,116.6 427.9,121.8 429.7,127.0 431.6,131.9 433.5,136.7 435.4,141.2 437.3,145.6 439.1,149.7 441.0,153.7 442.9,157.6 444.8,161.5 446.7,165.4 448.5,169.2 450.4,173.0 452.3,176.7 454.2,180.4 456.1,184.0 457.9,187.5 459.8,191.2 461.7,195.3 463.6,199.5 465.5,203.9 467.4,208.4 469.2,212.8 471.1,217.1 473.0,221.2 474.9,225.0 476.8,228.4 478.6,231.6 480.5,234.7 482.4,236.8 484.3,238.4 486.2,240.2 488.0,242.8 489.9,245.7 491.8,248.5 493.7,251.1 495.6,253.5 497.5,255.5 499.3,257.3 501.2,258.8 503.1,261.3 505.0,263.1 506.9,264.9 508.7,266.6 510.6,268.4 512.5,270.2 514.4,272.1 516.3,274.0 518.1,275.9 520.0,277.8 521.9,279.7 523.8,281.6 525.7,283.4 527.5,285.1 529.4,286.3 531.3,287.2 533.2,288.2 535.1,289.0 537.0,290.2 538.8,292.2 540.7,294.0 542.6,294.5 544.5,294.8 546.4,295.9 548.2,296.8 550.1,296.6 552.0,295.3 553.9,294.0 555.8,294.0 557.6,294.8 559.5,295.6 561.4,296.7 563.3,298.1 565.2,299.8 567.0,301.4 568.9,303.0 570.8,304.2 572.7,305.0 574.6,305.5 576.5,305.7 578.3,305.7 580.2,305.5 582.1,305.2 584.0,304.9 585.9,304.5 587.7,303.9 589.6,303.0 591.5,302.0 593.4,301.1 595.3,300.5 597.1,300.2 599.0,300.5 600.9,301.3 602.8,302.4 604.7,303.7 606.5,305.1 608.4,306.3 610.3,307.8 612.2,309.4 614.1,311.0 616.0,312.1 617.8,312.6 619.7,312.9 621.6,313.1 623.5,313.2 625.4,313.3 627.2,313.4 629.1,313.4 631.0,313.4 632.9,313.4 634.8,313.5 636.6,313.7 638.5,314.6 640.4,316.1 642.3,318.1 644.2,320.3 646.0,322.8 647.9,325.1 649.8,327.1 651.7,328.7 653.6,330.0 655.5,331.1 657.3,332.2 659.2,333.1 661.1,334.0 663.0,334.9 664.9,335.7 666.7,336.5 668.6,337.3 670.5,338.2 672.4,339.0 674.3,339.9 676.1,340.8 678.0,341.6 679.9,342.4 681.8,343.1 683.7,343.8 685.6,344.5 687.4,345.1 689.3,345.7 691.2,346.3 693.1,346.8 695.0,347.2 696.8,347.7 698.7,348.2 700.6,348.6 702.5,348.9 704.4,349.1 706.2,348.4 708.1,346.6 710.0,344.3 711.9,342.1 713.8,339.5 715.6,336.4 717.5,333.4 719.4,331.1 721.3,330.2 723.2,330.2 725.1,330.3 726.9,330.5 728.8,330.7 730.7,331.0 732.6,331.3 734.5,331.6 736.3,332.0 738.2,332.3 740.1,332.7 742.0,333.0 743.9,333.3 745.7,333.6 747.6,333.9 749.5,334.1 751.4,334.2 753.3,334.4 755.1,334.6 757.0,334.7 758.9,334.9 760.8,335.0 762.7,335.2 764.6,335.4 766.4,335.6 768.3,335.9 770.2,336.2 772.1,336.5 774.0,337.0 775.8,337.6 777.7,338.2 779.6,339.0 781.5,339.7 783.4,340.6 785.2,341.4 787.1,342.3 789.0,343.2 790.9,344.2 792.8,345.2 794.6,346.3 796.5,347.5 798.4,348.8 800.3,350.1 802.2,351.4 804.1,352.7 805.9,354.1 807.8,355.5 809.7,356.9 811.6,358.3 813.5,359.7 815.3,361.1 817.2,362.5 819.1,364.0 821.0,365.5 822.9,367.1 824.7,368.7 826.6,370.3 828.5,371.9 830.4,373.5 832.3,375.1 834.2,376.7 836.0,378.3 837.9,379.8 839.8,381.3 841.7,382.8 843.6,384.2 845.4,385.7 847.3,387.1 849.2,388.6 851.1,390.0 853.0,391.4 854.8,392.8 856.7,394.2 858.6,395.6 860.5,396.9 862.4,398.2 864.2,399.4 866.1,400.6 868.0,401.7 869.9,402.8 871.8,403.9 873.7,404.9 875.5,406.0 877.4,407.0 879.3,408.0 881.2,409.0 883.1,409.9 884.9,410.8 886.8,411.7 888.7,412.5 890.6,413.3 892.5,414.1 894.3,414.8 896.2,415.5 898.1,416.2 900.0,416.8 901.9,417.5 903.7,418.1 905.6,418.7 907.5,419.3 909.4,419.9 911.3,420.4 913.2,420.9 915.0,421.5 916.9,421.9 918.8,422.4 920.7,422.8 922.6,423.3 924.4,423.6 926.3,424.0 928.2,424.3" fill="none" stroke="#000" stroke-width="1.65" stroke-linejoin="round"/>
<polyline points="175.8,-486.7 177.7,-494.3 179.6,-493.4 181.4,-490.9 183.3,-488.4 185.2,-486.3 187.1,-484.9 189.0,-483.6 190.8,-482.1 192.7,-480.6 194.6,-479.0 196.5,-475.3 198.4,-470.3 200.3,-465.8 202.1,-463.3 204.0,-462.1 205.9,-461.4 207.8,-460.6 209.7,-459.2 211.5,-457.3 213.4,-455.2 215.3,-453.0 217.2,-451.5 219.1,-451.0 220.9,-451.5 222.8,-452.2 224.7,-452.7 226.6,-452.5 228.5,-451.6 230.3,-450.2 232.2,-448.7 234.1,-447.8 236.0,-447.3 237.9,-446.9 239.8,-446.5 241.6,-446.3 243.5,-446.1 245.4,-446.1 247.3,-446.2 249.2,-446.6 251.0,-447.1 252.9,-447.4 254.8,-447.6 256.7,-447.4 258.6,-446.9 260.4,-446.3 262.3,-445.5 264.2,-444.4 266.1,-442.9 268.0,-440.8 269.9,-438.5 271.7,-436.0 273.6,-433.5 275.5,-430.8 277.4,-427.8 279.3,-424.5 281.1,-420.7 283.0,-416.2 284.9,-411.1 286.8,-405.7 288.7,-399.9 290.5,-393.8 292.4,-387.3 294.3,-380.8 296.2,-374.6 298.1,-368.8 299.9,-363.4 301.8,-357.9 303.7,-352.5 305.6,-347.1 307.5,-341.6 309.4,-336.0 311.2,-330.5 313.1,-325.0 315.0,-319.6 316.9,-314.3 318.8,-309.0 320.6,-303.3 322.5,-297.3 324.4,-290.9 326.3,-284.1 328.2,-276.6 330.0,-268.5 331.9,-260.1 333.8,-251.8 335.7,-243.8 337.6,-236.1 339.4,-228.6 341.3,-221.2 343.2,-213.9 345.1,-206.6 347.0,-199.5 348.9,-192.4 350.7,-185.4 352.6,-178.5 354.5,-171.4 356.4,-164.0 358.3,-156.3 360.1,-148.3 362.0,-140.6 363.9,-133.4 365.8,-126.9 367.7,-120.8 369.5,-114.9 371.4,-108.8 373.3,-102.4 375.2,-95.3 377.1,-87.8 378.9,-80.1 380.8,-72.8 382.7,-66.0 384.6,-59.6 386.5,-52.9 388.4,-45.4 390.2,-36.9 392.1,-28.3 394.0,-20.0 395.9,-11.6 397.8,-3.2 399.6,5.3 401.5,13.7 403.4,21.9 405.3,30.1 407.2,38.0 409.0,45.8 410.9,53.5 412.8,60.9 414.7,68.0 416.6,74.9 418.4,81.4 420.3,87.7 422.2,93.7 424.1,99.6 426.0,105.4 427.9,111.0 429.7,116.4 431.6,121.6 433.5,126.6 435.4,131.4 437.3,136.0 439.1,140.3 441.0,144.5 442.9,148.7 444.8,152.8 446.7,156.9 448.5,160.9 450.4,164.9 452.3,168.8 454.2,172.6 456.1,176.4 457.9,180.1 459.8,184.0 461.7,188.2 463.6,192.7 465.5,197.2 467.4,201.9 469.2,206.5 471.1,210.9 473.0,215.2 474.9,219.1 476.8,222.6 478.6,226.0 480.5,229.2 482.4,231.4 484.3,233.1 486.2,235.0 488.0,237.7 489.9,240.6 491.8,243.5 493.7,246.3 495.6,248.7 497.5,250.8 499.3,252.7 501.2,254.3 503.1,256.9 505.0,258.8 506.9,260.6 508.7,262.5 510.6,264.4 512.5,266.3 514.4,268.2 516.3,270.2 518.1,272.1 520.0,274.2 521.9,276.2 523.8,278.1 525.7,280.1 527.5,281.8 529.4,283.1 531.3,284.1 533.2,285.1 535.1,286.0 537.0,287.3 538.8,289.6 540.7,291.6 542.6,292.4 544.5,293.0 546.4,294.3 548.2,295.5 550.1,295.5 552.0,294.4 553.9,293.3 555.8,293.4 557.6,294.3 559.5,295.1 561.4,296.3 563.3,297.8 565.2,299.5 567.0,301.2 568.9,302.7 570.8,304.0 572.7,304.8 574.6,305.3 576.5,305.5 578.3,305.5 580.2,305.4 582.1,305.1 584.0,304.8 585.9,304.4 587.7,303.8 589.6,302.9 591.5,302.0 593.4,301.1 595.3,300.4 597.1,300.2 599.0,300.5 600.9,301.3 602.8,302.4 604.7,303.7 606.5,305.1 608.4,306.4 610.3,307.8 612.2,309.5 614.1,311.1 616.0,312.2 617.8,312.7 619.7,313.0 621.6,313.2 623.5,313.4 625.4,313.5 627.2,313.6 629.1,313.7 631.0,313.7 632.9,313.7 634.8,313.8 636.6,314.1 638.5,314.9 640.4,316.4 642.3,318.4 644.2,320.7 646.0,323.1 647.9,325.4 649.8,327.4 651.7,328.9 653.6,330.2 655.5,331.3 657.3,332.3 659.2,333.2 661.1,334.1 663.0,334.9 664.9,335.7 666.7,336.5 668.6,337.3 670.5,338.2 672.4,339.0 674.3,339.9 676.1,340.7 678.0,341.5 679.9,342.3 681.8,343.0 683.7,343.7 685.6,344.3 687.4,344.9 689.3,345.5 691.2,346.1 693.1,346.5 695.0,347.0 696.8,347.4 698.7,347.9 700.6,348.3 702.5,348.6 704.4,348.7 706.2,348.0 708.1,346.1 710.0,343.7 711.9,341.4 713.8,338.8 715.6,335.7 717.5,332.6 719.4,330.2 721.3,329.3 723.2,329.4 725.1,329.5 726.9,329.7 728.8,329.9 730.7,330.2 732.6,330.5 734.5,330.8 736.3,331.2 738.2,331.5 740.1,331.8 742.0,332.2 743.9,332.5 745.7,332.8 747.6,333.0 749.5,333.2 751.4,333.4 753.3,333.6 755.1,333.7 757.0,333.9 758.9,334.1 760.8,334.2 762.7,334.4 764.6,334.6 766.4,334.8 768.3,335.1 770.2,335.3 772.1,335.7 774.0,336.2 775.8,336.8 777.7,337.4 779.6,338.1 781.5,338.9 783.4,339.8 785.2,340.6 787.1,341.5 789.0,342.4 790.9,343.4 792.8,344.4 794.6,345.6 796.5,346.8 798.4,348.0 800.3,349.3 802.2,350.6 804.1,352.0 805.9,353.4 807.8,354.8 809.7,356.2 811.6,357.6 813.5,359.0 815.3,360.4 817.2,361.8 819.1,363.3 821.0,364.8 822.9,366.4 824.7,368.0 826.6,369.6 828.5,371.2 830.4,372.8 832.3,374.4 834.2,376.0 836.0,377.6 837.9,379.2 839.8,380.7 841.7,382.2 843.6,383.6 845.4,385.1 847.3,386.5 849.2,388.0 851.1,389.4 853.0,390.9 854.8,392.3 856.7,393.7 858.6,395.0 860.5,396.3 862.4,397.6 864.2,398.9 866.1,400.1 868.0,401.2 869.9,402.3 871.8,403.4 873.7,404.5 875.5,405.5 877.4,406.5 879.3,407.5 881.2,408.5 883.1,409.5 884.9,410.4 886.8,411.3 888.7,412.1 890.6,412.9 892.5,413.7 894.3,414.4 896.2,415.1 898.1,415.8 900.0,416.5 901.9,417.1 903.7,417.7 905.6,418.4 907.5,419.0 909.4,419.6 911.3,420.1 913.2,420.7 915.0,421.2 916.9,421.7 918.8,422.2 920.7,422.6 922.6,423.0 924.4,423.4 926.3,423.8 928.2,424.1" fill="none" stroke="#000" stroke-width="1.65" stroke-linejoin="round"/>
<polyline points="175.8,-516.8 177.7,-524.3 179.6,-523.4 181.4,-520.9 183.3,-518.4 185.2,-516.3 187.1,-514.9 189.0,-513.6 190.8,-512.1 192.7,-510.6 194.6,-509.0 196.5,-505.3 198.4,-500.3 200.3,-495.8 202.1,-493.3 204.0,-492.0 205.9,-491.4 207.8,-490.6 209.7,-489.2 211.5,-487.3 213.4,-485.2 215.3,-483.0 217.2,-481.5 219.1,-481.0 220.9,-481.5 222.8,-482.2 224.7,-482.7 226.6,-482.5 228.5,-481.6 230.3,-480.2 232.2,-478.7 234.1,-477.8 236.0,-477.3 237.9,-476.9 239.8,-476.6 241.6,-476.3 243.5,-476.2 245.4,-476.1 247.3,-476.2 249.2,-476.6 251.0,-477.1 252.9,-477.5 254.8,-477.6 256.7,-477.5 258.6,-476.9 260.4,-476.3 262.3,-475.5 264.2,-474.4 266.1,-472.8 268.0,-470.8 269.9,-468.4 271.7,-465.9 273.6,-463.3 275.5,-460.6 277.4,-457.6 279.3,-454.2 281.1,-450.3 283.0,-445.8 284.9,-440.6 286.8,-435.1 288.7,-429.2 290.5,-423.0 292.4,-416.4 294.3,-409.7 296.2,-403.4 298.1,-397.5 299.9,-391.9 301.8,-386.3 303.7,-380.8 305.6,-375.1 307.5,-369.5 309.4,-363.8 311.2,-358.1 313.1,-352.5 315.0,-346.9 316.9,-341.5 318.8,-336.0 320.6,-330.2 322.5,-324.1 324.4,-317.5 326.3,-310.5 328.2,-302.8 330.0,-294.5 331.9,-285.9 333.8,-277.3 335.7,-269.0 337.6,-261.1 339.4,-253.4 341.3,-245.8 343.2,-238.2 345.1,-230.8 347.0,-223.4 348.9,-216.2 350.7,-209.0 352.6,-201.8 354.5,-194.5 356.4,-186.9 358.3,-178.9 360.1,-170.7 362.0,-162.7 363.9,-155.2 365.8,-148.5 367.7,-142.1 369.5,-136.0 371.4,-129.7 373.3,-123.0 375.2,-115.6 377.1,-107.8 378.9,-99.8 380.8,-92.1 382.7,-85.1 384.6,-78.4 386.5,-71.4 388.4,-63.6 390.2,-54.7 392.1,-45.7 394.0,-37.0 395.9,-28.3 397.8,-19.5 399.6,-10.7 401.5,-1.9 403.4,6.8 405.3,15.3 407.2,23.6 409.0,31.8 410.9,39.8 412.8,47.6 414.7,55.0 416.6,62.2 418.4,69.1 420.3,75.6 422.2,82.0 424.1,88.2 426.0,94.3 427.9,100.1 429.7,105.8 431.6,111.3 433.5,116.5 435.4,121.6 437.3,126.4 439.1,131.0 441.0,135.4 442.9,139.8 444.8,144.1 446.7,148.4 448.5,152.6 450.4,156.8 452.3,160.8 454.2,164.9 456.1,168.8 457.9,172.7 459.8,176.8 461.7,181.2 463.6,185.8 465.5,190.6 467.4,195.4 469.2,200.1 471.1,204.7 473.0,209.1 474.9,213.2 476.8,216.9 478.6,220.3 480.5,223.6 482.4,225.9 484.3,227.7 486.2,229.8 488.0,232.6 489.9,235.6 491.8,238.6 493.7,241.4 495.6,244.0 497.5,246.2 499.3,248.1 501.2,249.8 503.1,252.5 505.0,254.5 506.9,256.4 508.7,258.4 510.6,260.3 512.5,262.3 514.4,264.3 516.3,266.3 518.1,268.4 520.0,270.5 521.9,272.6 523.8,274.7 525.7,276.7 527.5,278.5 529.4,279.9 531.3,280.9 533.2,282.0 535.1,283.0 537.0,284.5 538.8,287.0 540.7,289.2 542.6,290.3 544.5,291.1 546.4,292.7 548.2,294.1 550.1,294.4 552.0,293.5 553.9,292.5 555.8,292.7 557.6,293.7 559.5,294.6 561.4,295.8 563.3,297.4 565.2,299.2 567.0,300.9 568.9,302.5 570.8,303.8 572.7,304.6 574.6,305.2 576.5,305.4 578.3,305.4 580.2,305.2 582.1,305.0 584.0,304.7 585.9,304.3 587.7,303.7 589.6,302.9 591.5,301.9 593.4,301.0 595.3,300.4 597.1,300.1 599.0,300.5 600.9,301.3 602.8,302.4 604.7,303.7 606.5,305.1 608.4,306.3 610.3,307.8 612.2,309.5 614.1,311.1 616.0,312.2 617.8,312.7 619.7,313.0 621.6,313.3 623.5,313.5 625.4,313.6 627.2,313.7 629.1,313.8 631.0,313.9 632.9,313.9 634.8,314.1 636.6,314.3 638.5,315.2 640.4,316.7 642.3,318.6 644.2,320.9 646.0,323.3 647.9,325.6 649.8,327.6 651.7,329.1 653.6,330.3 655.5,331.4 657.3,332.4 659.2,333.3 661.1,334.1 663.0,335.0 664.9,335.8 666.7,336.5 668.6,337.3 670.5,338.2 672.4,339.0 674.3,339.8 676.1,340.7 678.0,341.5 679.9,342.2 681.8,342.9 683.7,343.6 685.6,344.2 687.4,344.8 689.3,345.4 691.2,345.9 693.1,346.4 695.0,346.8 696.8,347.2 698.7,347.7 700.6,348.1 702.5,348.3 704.4,348.4 706.2,347.7 708.1,345.8 710.0,343.4 711.9,341.0 713.8,338.4 715.6,335.2 717.5,332.1 719.4,329.7 721.3,328.8 723.2,328.8 725.1,329.0 726.9,329.1 728.8,329.4 730.7,329.6 732.6,329.9 734.5,330.3 736.3,330.6 738.2,331.0 740.1,331.3 742.0,331.6 743.9,332.0 745.7,332.2 747.6,332.5 749.5,332.7 751.4,332.9 753.3,333.1 755.1,333.2 757.0,333.4 758.9,333.5 760.8,333.7 762.7,333.9 764.6,334.1 766.4,334.3 768.3,334.5 770.2,334.8 772.1,335.2 774.0,335.7 775.8,336.2 777.7,336.9 779.6,337.6 781.5,338.4 783.4,339.2 785.2,340.1 787.1,341.0 789.0,341.9 790.9,342.9 792.8,343.9 794.6,345.1 796.5,346.3 798.4,347.5 800.3,348.8 802.2,350.1 804.1,351.5 805.9,352.9 807.8,354.3 809.7,355.7 811.6,357.1 813.5,358.6 815.3,360.0 817.2,361.4 819.1,362.9 821.0,364.4 822.9,366.0 824.7,367.6 826.6,369.2 828.5,370.8 830.4,372.4 832.3,374.0 834.2,375.6 836.0,377.2 837.9,378.8 839.8,380.3 841.7,381.8 843.6,383.2 845.4,384.7 847.3,386.2 849.2,387.6 851.1,389.1 853.0,390.5 854.8,391.9 856.7,393.3 858.6,394.7 860.5,396.0 862.4,397.3 864.2,398.5 866.1,399.7 868.0,400.9 869.9,402.0 871.8,403.1 873.7,404.2 875.5,405.2 877.4,406.2 879.3,407.3 881.2,408.2 883.1,409.2 884.9,410.1 886.8,411.0 888.7,411.9 890.6,412.7 892.5,413.5 894.3,414.2 896.2,414.9 898.1,415.6 900.0,416.2 901.9,416.9 903.7,417.5 905.6,418.2 907.5,418.8 909.4,419.4 911.3,419.9 913.2,420.5 915.0,421.0 916.9,421.5 918.8,422.0 920.7,422.5 922.6,422.9 924.4,423.3 926.3,423.7 928.2,424.0" fill="none" stroke="#000" stroke-width="1.65" stroke-linejoin="round"/></g>
<line x1="175.8" y1="0" x2="175.8" y2="452.7" stroke="#000" stroke-width="1.6"/>
<line x1="167.8" y1="444.7" x2="928.2" y2="444.7" stroke="#808080" stroke-width="2"/>
<line x1="928.2" y1="0" x2="928.2" y2="450.7" stroke="#808080" stroke-width="1.3"/>
<line x1="167.8" y1="444.7" x2="183.8" y2="444.7" stroke="#808080" stroke-width="1.6"/>
<text x="155" y="454.2" font-size="26" text-anchor="end">0.00</text>
<line x1="167.8" y1="369.7" x2="183.8" y2="369.7" stroke="#808080" stroke-width="1.6"/>
<text x="155" y="379.2" font-size="26" text-anchor="end">0.05</text>
<line x1="167.8" y1="294.7" x2="183.8" y2="294.7" stroke="#808080" stroke-width="1.6"/>
<text x="155" y="304.2" font-size="26" text-anchor="end">0.10</text>
<line x1="167.8" y1="219.7" x2="183.8" y2="219.7" stroke="#808080" stroke-width="1.6"/>
<text x="155" y="229.2" font-size="26" text-anchor="end">0.15</text>
<line x1="167.8" y1="144.7" x2="183.8" y2="144.7" stroke="#808080" stroke-width="1.6"/>
<text x="155" y="154.2" font-size="26" text-anchor="end">0.20</text>
<line x1="167.8" y1="69.7" x2="183.8" y2="69.7" stroke="#808080" stroke-width="1.6"/>
<text x="155" y="79.2" font-size="26" text-anchor="end">0.25</text>
<line x1="167.8" y1="-5.3" x2="183.8" y2="-5.3" stroke="#808080" stroke-width="1.6"/>
<text x="155" y="4.2" font-size="26" text-anchor="end">0.30</text>
<line x1="175.8" y1="436.7" x2="175.8" y2="450.7" stroke="#808080" stroke-width="1.3"/>
<text x="175.8" y="490" font-size="25.5" text-anchor="middle">300</text>
<line x1="269.9" y1="436.7" x2="269.9" y2="450.7" stroke="#808080" stroke-width="1.3"/>
<text x="269.9" y="490" font-size="25.5" text-anchor="middle">350</text>
<line x1="363.9" y1="436.7" x2="363.9" y2="450.7" stroke="#808080" stroke-width="1.3"/>
<text x="363.9" y="490" font-size="25.5" text-anchor="middle">400</text>
<line x1="457.9" y1="436.7" x2="457.9" y2="450.7" stroke="#808080" stroke-width="1.3"/>
<text x="457.9" y="490" font-size="25.5" text-anchor="middle">450</text>
<line x1="552.0" y1="436.7" x2="552.0" y2="450.7" stroke="#808080" stroke-width="1.3"/>
<text x="552.0" y="490" font-size="25.5" text-anchor="middle">500</text>
<line x1="646.0" y1="436.7" x2="646.0" y2="450.7" stroke="#808080" stroke-width="1.3"/>
<text x="646.0" y="490" font-size="25.5" text-anchor="middle">550</text>
<line x1="740.1" y1="436.7" x2="740.1" y2="450.7" stroke="#808080" stroke-width="1.3"/>
<text x="740.1" y="490" font-size="25.5" text-anchor="middle">600</text>
<line x1="834.2" y1="436.7" x2="834.2" y2="450.7" stroke="#808080" stroke-width="1.3"/>
<text x="834.2" y="490" font-size="25.5" text-anchor="middle">650</text>
<line x1="928.2" y1="436.7" x2="928.2" y2="450.7" stroke="#808080" stroke-width="1.3"/>
<text x="928.2" y="490" font-size="25.5" text-anchor="middle">700</text>
<text x="552.5" y="529.3" font-size="25" font-weight="bold" text-anchor="middle">Wavelength (nm)</text>
<text transform="translate(97.5,329) rotate(-90)" font-size="25" font-weight="bold">Absorbance (cm<tspan dy="-9" font-size="15">-1</tspan><tspan dy="9">)</tspan></text>
<text x="619.8" y="52.6" font-size="20.8" font-weight="bold" font-style="italic" text-anchor="middle">increase of reaction time</text>
<text x="619.2" y="76.5" font-size="20.8" font-weight="bold" font-style="italic" text-anchor="middle" xml:space="preserve">from 0 to  60 minutes</text>
<rect x="818.8" y="30.1" width="69.4" height="79.8" fill="none" stroke="#000" stroke-width="1.5"/>
<text x="853.3" y="83" font-size="32" font-weight="bold" text-anchor="middle">A</text>
<line x1="419.6" y1="434.4" x2="419.6" y2="22" stroke="#000" stroke-width="1.7"/><polygon points="416.40000000000003,23 422.8,23 419.6,13" fill="#000"/>
<line x1="618.2" y1="97" x2="618.2" y2="370.5" stroke="#000" stroke-width="1.8"/><polygon points="615.0,369.5 621.4000000000001,369.5 618.2,379.5" fill="#000"/>
<line x1="771" y1="325.8" x2="771" y2="421.7" stroke="#000" stroke-width="1.8"/><polygon points="767.8,420.7 774.2,420.7 771,430.7" fill="#000"/>
<g clip-path="url(#cb)"><polygon points="698.9,871.7 701.0,870.8 703.0,869.9 705.0,869.1 707.0,868.4 709.0,867.7 711.0,867.0 713.1,866.3 715.1,865.6 717.1,865.0 719.1,864.4 721.1,863.9 723.1,863.5 725.1,863.2 727.2,863.1 729.2,863.1 731.2,863.1 733.2,863.3 735.2,863.5 737.2,863.7 739.3,864.0 741.3,864.3 743.3,864.7 745.3,865.1 747.3,865.5 749.3,865.9 751.4,866.5 753.4,867.3 755.4,868.1 757.4,869.1 759.4,870.2 761.4,871.3 763.5,872.5 765.5,873.8 767.5,875.2 769.5,876.6 771.5,878.2 773.5,880.0 775.5,881.9 777.6,884.0 779.6,886.2 781.6,888.6 783.6,891.0 785.6,893.5 787.6,896.1 789.7,898.6 791.7,901.2 793.7,903.8 795.7,906.5 797.7,909.3 799.7,912.2 801.8,915.2 803.8,918.3 805.8,921.4 807.8,924.6 809.8,927.8 811.8,931.1 813.9,934.4 815.9,937.8 817.9,941.5 819.9,945.2 821.9,949.0 823.9,952.7 825.9,956.4 828.0,960.0 830.0,963.4 832.0,966.6 834.0,969.5 836.0,972.3 838.0,975.1 840.1,977.8 842.1,980.4 844.1,983.0 846.1,985.5 848.1,987.8 850.1,990.1 852.2,992.3 854.2,994.3 856.2,996.3 858.2,998.1 860.2,999.9 862.2,1001.6 864.3,1003.2 866.3,1004.8 868.3,1006.4 870.3,1007.9 872.3,1009.3 874.3,1010.6 876.3,1011.9 878.4,1013.1 880.4,1014.2 882.4,1015.2 884.4,1016.1 886.4,1017.0 888.4,1017.9 890.5,1018.8 892.5,1019.7 894.5,1020.5 896.5,1021.3 898.5,1022.1 900.5,1022.9 902.6,1023.6 904.6,1024.3 906.6,1024.9 908.6,1025.5 910.6,1026.1 912.6,1026.6 914.7,1027.0 916.7,1027.4 918.7,1027.7 920.7,1028.0 920.7,1048.5 918.7,1048.0 916.7,1047.4 914.7,1046.7 912.6,1046.0 910.6,1045.2 908.6,1044.4 906.6,1043.5 904.6,1042.6 902.6,1041.7 900.5,1040.7 898.5,1039.7 896.5,1038.7 894.5,1037.6 892.5,1036.5 890.5,1035.4 888.4,1034.3 886.4,1033.2 884.4,1032.1 882.4,1030.9 880.4,1029.7 878.4,1028.5 876.3,1027.1 874.3,1025.7 872.3,1024.2 870.3,1022.6 868.3,1021.0 866.3,1019.3 864.3,1017.5 862.2,1015.8 860.2,1013.9 858.2,1012.0 856.2,1010.1 854.2,1008.0 852.2,1005.8 850.1,1003.6 848.1,1001.2 846.1,998.7 844.1,996.2 842.1,993.5 840.1,990.8 838.0,988.0 836.0,985.2 834.0,982.3 832.0,979.3 830.0,976.1 828.0,972.6 825.9,969.0 823.9,965.2 821.9,961.4 819.9,957.5 817.9,953.8 815.9,950.1 813.9,946.5 811.8,943.2 809.8,939.8 807.8,936.5 805.8,933.2 803.8,930.0 801.8,926.8 799.7,923.7 797.7,920.7 795.7,917.8 793.7,915.0 791.7,912.2 789.7,909.5 787.6,906.9 785.6,904.2 783.6,901.6 781.6,899.1 779.6,896.6 777.6,894.3 775.5,892.1 773.5,890.0 771.5,888.1 769.5,886.4 767.5,884.9 765.5,883.5 763.5,882.1 761.4,880.8 759.4,879.5 757.4,878.4 755.4,877.3 753.4,876.4 751.4,875.6 749.3,874.9 747.3,874.4 745.3,873.9 743.3,873.4 741.3,873.0 739.3,872.6 737.2,872.2 735.2,871.9 733.2,871.6 731.2,871.4 729.2,871.3 727.2,871.2 725.1,871.2 723.1,871.4 721.1,871.7 719.1,872.1 717.1,872.6 715.1,873.2 713.1,873.7 711.0,874.3 709.0,874.9 707.0,875.4 705.0,876.0 703.0,876.7 701.0,877.4 698.9,878.1" fill="#000" fill-opacity="1"/><polyline points="114.3,856.0 116.3,850.6 118.3,845.8 120.3,841.5 122.4,837.3 124.4,833.3 126.4,830.7 128.4,830.5 130.4,832.1 132.4,834.6 134.5,837.6 136.5,840.3 138.5,842.3 140.5,843.6 142.5,844.6 144.5,845.5 146.6,846.3 148.6,847.1 150.6,848.1 152.6,849.3 154.6,851.0 156.6,853.4 158.7,856.1 160.7,858.5 162.7,860.6 164.7,862.5 166.7,864.4 168.7,866.8 170.7,869.7 172.8,872.8 174.8,875.5 176.8,877.4 178.8,879.1 180.8,880.6 182.8,881.9 184.9,883.0 186.9,884.0 188.9,885.0 190.9,885.9 192.9,886.8 194.9,887.7 197.0,888.5 199.0,889.4 201.0,890.3 203.0,891.2 205.0,892.2 207.0,893.2 209.1,894.3 211.1,895.4 213.1,896.5 215.1,897.8 217.1,899.2 219.1,900.8 221.1,902.6 223.2,904.8 225.2,907.1 227.2,909.6 229.2,912.3 231.2,915.0 233.2,918.1 235.3,921.3 237.3,924.7 239.3,928.1 241.3,931.5 243.3,934.6 245.3,937.7 247.4,940.9 249.4,944.3 251.4,947.9 253.4,951.8 255.4,955.8 257.4,959.9 259.5,964.1 261.5,968.3 263.5,972.4 265.5,976.5 267.5,980.6 269.5,984.6 271.5,988.7 273.6,992.8 275.6,996.9 277.6,1000.9 279.6,1004.8 281.6,1008.5 283.6,1012.3 285.7,1016.1 287.7,1019.8 289.7,1023.5 291.7,1027.0 293.7,1030.4 295.7,1033.5 297.8,1036.5 299.8,1039.5 301.8,1042.4 303.8,1045.2 305.8,1047.8 307.8,1050.2 309.9,1052.4 311.9,1054.2 313.9,1055.7 315.9,1057.1 317.9,1058.4 319.9,1059.6 321.9,1060.6 324.0,1061.5 326.0,1062.2 328.0,1062.7 330.0,1063.0 332.0,1063.3 334.0,1063.6 336.1,1063.8 338.1,1064.1 340.1,1064.3 342.1,1064.4 344.1,1064.5 346.1,1064.6 348.2,1064.6 350.2,1064.5 352.2,1064.3 354.2,1063.9 356.2,1063.5 358.2,1063.0 360.3,1062.5 362.3,1062.0 364.3,1061.4 366.3,1060.9 368.3,1060.4 370.3,1059.8 372.3,1059.2 374.4,1058.5 376.4,1057.8 378.4,1057.1 380.4,1056.5 382.4,1055.8 384.4,1055.3 386.5,1054.8 388.5,1054.4 390.5,1054.1 392.5,1053.9 394.5,1053.7 396.5,1053.4 398.6,1053.1 400.6,1052.7 402.6,1051.9 404.6,1050.7 406.6,1049.4 408.6,1047.8 410.7,1046.1 412.7,1044.4 414.7,1042.7 416.7,1041.0 418.7,1039.6 420.7,1038.2 422.7,1036.9 424.8,1035.6 426.8,1034.4 428.8,1033.1 430.8,1031.7 432.8,1030.3 434.8,1028.7 436.9,1027.0 438.9,1025.2 440.9,1023.2 442.9,1021.0 444.9,1018.7 446.9,1016.2 449.0,1013.5 451.0,1010.6 453.0,1007.6 455.0,1004.2 457.0,1000.5 459.0,996.3 461.1,991.6 463.1,985.2 465.1,978.0 467.1,971.3 469.1,966.1 471.1,961.9 473.1,958.3 475.2,954.9 477.2,951.4 479.2,947.8 481.2,944.0 483.2,940.2 485.2,936.5 487.3,932.9 489.3,929.6 491.3,926.7 493.3,924.4 495.3,922.6 497.3,921.2 499.4,919.8 501.4,918.2 503.4,916.1 505.4,912.9 507.4,908.4 509.4,902.7 511.5,896.2 513.5,887.6 515.5,877.1 517.5,866.1 519.5,856.0 521.5,845.1 523.5,835.2 525.6,829.1 527.6,825.4 529.6,822.4 531.6,820.5 533.6,820.0 535.6,820.6 537.7,821.7 539.7,822.9 541.7,823.8 543.7,824.1 545.7,820.6 547.7,812.6 549.8,802.3 551.8,791.7 553.8,782.9 555.8,775.2 557.8,766.7 559.8,758.2 561.9,750.2 563.9,743.1 565.9,737.6 567.9,734.3 569.9,733.7 571.9,735.9 573.9,740.2 576.0,745.8 578.0,751.9 580.0,757.6 582.0,764.9 584.0,773.6 586.0,781.2 588.1,785.2 590.1,784.0 592.1,779.6 594.1,773.5 596.1,767.0 598.1,761.7 600.2,756.7 602.2,751.3 604.2,746.4 606.2,742.8 608.2,741.5 610.2,742.8 612.3,746.6 614.3,752.1 616.3,758.7 618.3,765.9 620.3,775.0 622.3,789.0 624.3,805.7 626.4,823.0 628.4,838.9 630.4,851.2 632.4,858.6 634.4,864.7 636.4,869.9 638.5,874.2 640.5,877.3 642.5,879.0 644.5,880.0 646.5,880.7 648.5,881.3 650.6,881.8 652.6,882.5 654.6,883.6 656.6,885.4 658.6,888.3 660.6,892.1 662.7,896.8 664.7,904.8 666.7,917.1 668.7,931.5 670.7,945.8 672.7,957.8 674.7,967.4 676.8,976.7 678.8,985.3 680.8,992.8 682.8,998.7 684.8,1003.3 686.8,1007.4 688.9,1011.2 690.9,1014.7 692.9,1017.6 694.9,1020.1 696.9,1022.1 698.9,1023.5 701.0,1024.5 703.0,1025.4 705.0,1026.2 707.0,1026.9 709.0,1027.6 711.0,1028.1 713.1,1028.7 715.1,1029.1 717.1,1029.6 719.1,1030.0 721.1,1030.5 723.1,1031.0 725.1,1031.4 727.2,1031.9 729.2,1032.4 731.2,1032.9 733.2,1033.3 735.2,1033.8 737.2,1034.2 739.3,1034.6 741.3,1035.0 743.3,1035.4 745.3,1035.8 747.3,1036.2 749.3,1036.6 751.4,1036.9 753.4,1037.3 755.4,1037.7 757.4,1038.1 759.4,1038.4 761.4,1038.8 763.5,1039.2 765.5,1039.5 767.5,1039.9 769.5,1040.3 771.5,1040.7 773.5,1041.1 775.5,1041.5 777.6,1041.9 779.6,1042.3 781.6,1042.7 783.6,1043.1 785.6,1043.5 787.6,1043.9 789.7,1044.3 791.7,1044.7 793.7,1045.1 795.7,1045.5 797.7,1045.9 799.7,1046.3 801.8,1046.7 803.8,1047.1 805.8,1047.5 807.8,1047.9 809.8,1048.3 811.8,1048.7 813.9,1049.1 815.9,1049.5 817.9,1049.9 819.9,1050.3 821.9,1050.7 823.9,1051.1 825.9,1051.5 828.0,1051.9 830.0,1052.3 832.0,1052.7 834.0,1053.1 836.0,1053.5 838.0,1053.9 840.1,1054.3 842.1,1054.7 844.1,1055.1 846.1,1055.6 848.1,1056.0 850.1,1056.4 852.2,1056.8 854.2,1057.2 856.2,1057.6 858.2,1058.0 860.2,1058.5 862.2,1058.9 864.3,1059.3 866.3,1059.7 868.3,1060.1 870.3,1060.5 872.3,1060.9 874.3,1061.3 876.3,1061.7 878.4,1062.0 880.4,1062.4 882.4,1062.8 884.4,1063.2 886.4,1063.5 888.4,1063.9 890.5,1064.3 892.5,1064.7 894.5,1065.0 896.5,1065.4 898.5,1065.7 900.5,1066.1 902.6,1066.5 904.6,1066.8 906.6,1067.2 908.6,1067.5 910.6,1067.9 912.6,1068.2 914.7,1068.6 916.7,1068.9 918.7,1069.2 920.7,1069.6" fill="none" stroke="#000" stroke-width="3.0" stroke-linejoin="round"/>
<polyline points="114.3,828.2 116.3,824.8 118.3,822.1 120.3,820.2 122.4,818.6 124.4,817.2 126.4,817.1 128.4,819.4 130.4,823.7 132.4,829.2 134.5,835.2 136.5,840.9 138.5,845.6 140.5,849.3 142.5,852.8 144.5,856.2 146.6,859.3 148.6,862.3 150.6,865.2 152.6,868.0 154.6,870.8 156.6,873.9 158.7,876.8 160.7,878.9 162.7,880.1 164.7,880.6 166.7,880.8 168.7,880.9 170.7,881.3 172.8,881.6 174.8,881.3 176.8,880.4 178.8,879.3 180.8,878.2 182.8,877.1 184.9,876.0 186.9,874.8 188.9,873.4 190.9,872.1 192.9,870.8 194.9,869.6 197.0,868.5 199.0,867.7 201.0,867.2 203.0,867.1 205.0,867.5 207.0,868.1 209.1,868.7 211.1,869.3 213.1,870.1 215.1,871.0 217.1,872.1 219.1,873.3 221.1,874.8 223.2,876.5 225.2,878.5 227.2,880.6 229.2,882.8 231.2,885.1 233.2,887.6 235.3,890.3 237.3,893.2 239.3,896.1 241.3,899.0 243.3,901.8 245.3,904.6 247.4,907.5 249.4,910.5 251.4,913.7 253.4,917.1 255.4,920.7 257.4,924.3 259.5,927.9 261.5,931.6 263.5,935.3 265.5,938.9 267.5,942.5 269.5,946.1 271.5,949.7 273.6,953.4 275.6,956.9 277.6,960.5 279.6,963.9 281.6,967.2 283.6,970.6 285.7,973.9 287.7,977.2 289.7,980.4 291.7,983.5 293.7,986.5 295.7,989.3 297.8,992.0 299.8,994.6 301.8,997.1 303.8,999.6 305.8,1001.9 307.8,1004.0 309.9,1005.9 311.9,1007.5 313.9,1008.9 315.9,1010.2 317.9,1011.4 319.9,1012.5 321.9,1013.5 324.0,1014.2 326.0,1014.9 328.0,1015.2 330.0,1015.5 332.0,1015.7 334.0,1015.9 336.1,1016.0 338.1,1016.1 340.1,1016.1 342.1,1016.1 344.1,1016.1 346.1,1016.0 348.2,1015.8 350.2,1015.5 352.2,1015.0 354.2,1014.4 356.2,1013.8 358.2,1013.1 360.3,1012.4 362.3,1011.7 364.3,1011.0 366.3,1010.4 368.3,1009.8 370.3,1009.2 372.3,1008.6 374.4,1007.9 376.4,1007.3 378.4,1006.6 380.4,1006.0 382.4,1005.5 384.4,1005.0 386.5,1004.7 388.5,1004.5 390.5,1004.4 392.5,1004.4 394.5,1004.3 396.5,1004.3 398.6,1004.3 400.6,1004.1 402.6,1003.8 404.6,1003.3 406.6,1002.8 408.6,1002.1 410.7,1001.4 412.7,1000.7 414.7,1000.0 416.7,999.3 418.7,998.8 420.7,998.4 422.7,998.0 424.8,997.7 426.8,997.4 428.8,997.1 430.8,996.7 432.8,996.3 434.8,996.1 436.9,996.1 438.9,996.2 440.9,996.5 442.9,996.7 444.9,996.8 446.9,996.7 449.0,996.2 451.0,995.6 453.0,994.8 455.0,993.8 457.0,992.4 459.0,990.6 461.1,988.0 463.1,984.1 465.1,979.5 467.1,975.2 469.1,972.0 471.1,969.6 473.1,967.5 475.2,965.6 477.2,963.6 479.2,961.3 481.2,958.9 483.2,956.5 485.2,954.1 487.3,951.9 489.3,949.8 491.3,948.0 493.3,946.6 495.3,945.6 497.3,944.9 499.4,944.2 501.4,943.4 503.4,942.1 505.4,940.0 507.4,936.8 509.4,932.7 511.5,927.9 513.5,921.4 515.5,913.4 517.5,905.2 519.5,897.5 521.5,889.3 523.5,881.8 525.6,877.2 527.6,874.5 529.6,872.2 531.6,870.8 533.6,870.4 535.6,870.8 537.7,871.5 539.7,872.4 541.7,873.0 543.7,873.1 545.7,870.2 547.7,863.9 549.8,855.9 551.8,847.6 553.8,840.7 555.8,834.6 557.8,828.0 559.8,821.3 561.9,814.9 563.9,809.3 565.9,804.8 567.9,802.0 569.9,801.2 571.9,802.5 573.9,805.4 576.0,809.3 578.0,813.5 580.0,817.5 582.0,822.7 584.0,828.9 586.0,834.3 588.1,836.9 590.1,835.7 592.1,832.0 594.1,826.9 596.1,821.6 598.1,817.1 600.2,812.9 602.2,808.3 604.2,804.1 606.2,800.9 608.2,799.4 610.2,799.8 612.3,802.0 614.3,805.5 616.3,809.7 618.3,814.3 620.3,820.4 622.3,830.1 624.3,841.9 626.4,854.2 628.4,865.4 630.4,873.9 632.4,878.8 634.4,882.7 636.4,885.9 638.5,888.5 640.5,890.1 642.5,890.7 644.5,890.8 646.5,890.6 648.5,890.2 650.6,889.8 652.6,889.5 654.6,889.5 656.6,890.0 658.6,891.4 660.6,893.7 662.7,896.8 664.7,902.4 666.7,911.3 668.7,921.9 670.7,932.3 672.7,941.1 674.7,948.0 676.8,954.7 678.8,960.9 680.8,966.3 682.8,970.5 684.8,973.7 686.8,976.6 688.9,979.2 690.9,981.5 692.9,983.5 694.9,985.2 696.9,986.4 698.9,987.3 701.0,987.9 703.0,988.4 705.0,988.8 707.0,989.2 709.0,989.5 711.0,989.8 713.1,990.1 715.1,990.3 717.1,990.5 719.1,990.7 721.1,990.9 723.1,991.2 725.1,991.5 727.2,991.9 729.2,992.2 731.2,992.6 733.2,993.0 735.2,993.4 737.2,993.8 739.3,994.2 741.3,994.6 743.3,995.0 745.3,995.4 747.3,995.8 749.3,996.2 751.4,996.7 753.4,997.2 755.4,997.7 757.4,998.2 759.4,998.8 761.4,999.4 763.5,1000.0 765.5,1000.6 767.5,1001.2 769.5,1001.9 771.5,1002.6 773.5,1003.3 775.5,1004.1 777.6,1005.0 779.6,1005.8 781.6,1006.8 783.6,1007.7 785.6,1008.6 787.6,1009.6 789.7,1010.5 791.7,1011.5 793.7,1012.5 795.7,1013.4 797.7,1014.5 799.7,1015.5 801.8,1016.6 803.8,1017.7 805.8,1018.8 807.8,1019.9 809.8,1021.0 811.8,1022.1 813.9,1023.2 815.9,1024.4 817.9,1025.6 819.9,1026.9 821.9,1028.1 823.9,1029.4 825.9,1030.6 828.0,1031.8 830.0,1032.9 832.0,1034.0 834.0,1035.1 836.0,1036.1 838.0,1037.1 840.1,1038.1 842.1,1039.1 844.1,1040.1 846.1,1041.0 848.1,1041.9 850.1,1042.8 852.2,1043.7 854.2,1044.5 856.2,1045.4 858.2,1046.1 860.2,1046.9 862.2,1047.7 864.3,1048.4 866.3,1049.1 868.3,1049.9 870.3,1050.6 872.3,1051.2 874.3,1051.9 876.3,1052.5 878.4,1053.2 880.4,1053.7 882.4,1054.3 884.4,1054.9 886.4,1055.4 888.4,1056.0 890.5,1056.5 892.5,1057.1 894.5,1057.6 896.5,1058.1 898.5,1058.6 900.5,1059.1 902.6,1059.6 904.6,1060.1 906.6,1060.6 908.6,1061.1 910.6,1061.5 912.6,1062.0 914.7,1062.4 916.7,1062.8 918.7,1063.2 920.7,1063.6" fill="none" stroke="#000" stroke-width="1.65" stroke-linejoin="round"/>
<polyline points="114.3,813.4 116.3,811.4 118.3,810.1 120.3,809.5 122.4,809.1 124.4,809.1 126.4,810.0 128.4,812.9 130.4,817.6 132.4,823.4 134.5,829.6 136.5,835.6 138.5,840.7 140.5,845.0 142.5,849.1 144.5,852.9 146.6,856.5 148.6,859.7 150.6,862.7 152.6,865.6 154.6,868.4 156.6,871.2 158.7,873.7 160.7,875.3 162.7,875.9 164.7,875.7 166.7,875.1 168.7,874.3 170.7,873.6 172.8,872.6 174.8,871.1 176.8,869.0 178.8,866.8 180.8,864.5 182.8,862.4 184.9,860.3 186.9,858.2 188.9,856.1 190.9,853.9 192.9,851.9 194.9,849.9 197.0,848.2 199.0,846.7 201.0,845.7 203.0,845.2 205.0,845.1 207.0,845.2 209.1,845.4 211.1,845.7 213.1,846.1 215.1,846.7 217.1,847.4 219.1,848.3 221.1,849.5 223.2,850.9 225.2,852.5 227.2,854.2 229.2,856.0 231.2,857.9 233.2,860.0 235.3,862.2 237.3,864.6 239.3,867.1 241.3,869.6 243.3,872.1 245.3,874.6 247.4,877.1 249.4,879.9 251.4,882.7 253.4,885.7 255.4,888.8 257.4,891.9 259.5,895.1 261.5,898.3 263.5,901.5 265.5,904.7 267.5,907.9 269.5,911.1 271.5,914.3 273.6,917.5 275.6,920.7 277.6,923.8 279.6,926.8 281.6,929.7 283.6,932.7 285.7,935.6 287.7,938.5 289.7,941.3 291.7,944.1 293.7,946.7 295.7,949.2 297.8,951.6 299.8,953.9 301.8,956.1 303.8,958.2 305.8,960.2 307.8,962.0 309.9,963.7 311.9,965.2 313.9,966.4 315.9,967.6 317.9,968.8 319.9,969.8 321.9,970.6 324.0,971.4 326.0,971.9 328.0,972.2 330.0,972.4 332.0,972.5 334.0,972.6 336.1,972.6 338.1,972.5 340.1,972.4 342.1,972.3 344.1,972.2 346.1,971.9 348.2,971.5 350.2,971.0 352.2,970.3 354.2,969.5 356.2,968.7 358.2,967.8 360.3,966.9 362.3,966.0 364.3,965.2 366.3,964.5 368.3,963.9 370.3,963.3 372.3,962.7 374.4,962.0 376.4,961.4 378.4,960.8 380.4,960.2 382.4,959.8 384.4,959.5 386.5,959.3 388.5,959.2 390.5,959.3 392.5,959.4 394.5,959.6 396.5,959.7 398.6,959.9 400.6,960.0 402.6,960.2 404.6,960.3 406.6,960.5 408.6,960.7 410.7,960.9 412.7,961.1 414.7,961.2 416.7,961.4 418.7,961.7 420.7,962.2 422.7,962.7 424.8,963.3 426.8,963.8 428.8,964.4 430.8,965.0 432.8,965.6 434.8,966.3 436.9,967.4 438.9,968.8 440.9,970.6 442.9,972.6 444.9,974.9 446.9,977.1 449.0,979.1 451.0,981.0 453.0,983.2 455.0,985.6 457.0,987.7 459.0,989.3 461.1,990.0 463.1,989.5 465.1,988.5 467.1,987.5 469.1,987.1 471.1,987.1 473.1,987.2 475.2,987.2 477.2,987.0 479.2,986.6 481.2,986.1 483.2,985.6 485.2,985.0 487.3,984.5 489.3,984.0 491.3,983.7 493.3,983.5 495.3,983.7 497.3,983.9 499.4,984.2 501.4,984.4 503.4,984.3 505.4,983.6 507.4,982.2 509.4,980.2 511.5,977.7 513.5,974.1 515.5,969.7 517.5,965.1 519.5,960.9 521.5,956.3 523.5,952.1 525.6,949.6 527.6,948.1 529.6,946.8 531.6,946.0 533.6,945.8 535.6,946.0 537.7,946.3 539.7,946.6 541.7,946.7 543.7,946.4 545.7,944.4 547.7,940.5 549.8,935.6 551.8,930.5 553.8,926.1 555.8,922.3 557.8,918.1 559.8,913.9 561.9,909.7 563.9,906.0 565.9,902.9 567.9,900.6 569.9,899.5 571.9,899.5 573.9,900.5 576.0,901.9 578.0,903.6 580.0,905.1 582.0,907.3 584.0,910.1 586.0,912.5 588.1,913.2 590.1,911.8 592.1,908.9 594.1,905.3 596.1,901.5 598.1,898.2 600.2,894.9 602.2,891.5 604.2,888.2 606.2,885.5 608.2,883.6 610.2,882.7 612.3,882.6 614.3,883.1 616.3,883.9 618.3,884.7 620.3,886.4 622.3,890.0 624.3,894.8 626.4,900.0 628.4,904.5 630.4,907.6 632.4,908.8 634.4,909.5 636.4,909.9 638.5,909.8 640.5,909.3 642.5,908.3 644.5,906.8 646.5,905.3 648.5,903.5 650.6,901.6 652.6,899.7 654.6,897.9 656.6,896.6 658.6,896.0 660.6,896.0 662.7,896.8 664.7,899.2 666.7,903.5 668.7,908.7 670.7,913.9 672.7,918.1 674.7,921.4 676.8,924.5 678.8,927.4 680.8,929.8 682.8,931.7 684.8,933.0 686.8,934.1 688.9,935.2 690.9,936.0 692.9,936.7 694.9,937.2 696.9,937.6 698.9,937.7 701.0,937.6 703.0,937.6 705.0,937.5 707.0,937.5 709.0,937.4 711.0,937.3 713.1,937.2 715.1,937.0 717.1,936.9 719.1,936.8 721.1,936.8 723.1,936.8 725.1,936.9 727.2,937.0 729.2,937.3 731.2,937.6 733.2,937.9 735.2,938.2 737.2,938.6 739.3,939.0 741.3,939.4 743.3,939.8 745.3,940.2 747.3,940.7 749.3,941.2 751.4,941.7 753.4,942.3 755.4,943.0 757.4,943.8 759.4,944.7 761.4,945.5 763.5,946.5 765.5,947.4 767.5,948.4 769.5,949.5 771.5,950.7 773.5,951.9 775.5,953.3 777.6,954.8 779.6,956.3 781.6,958.0 783.6,959.6 785.6,961.3 787.6,963.1 789.7,964.8 791.7,966.6 793.7,968.3 795.7,970.2 797.7,972.1 799.7,974.0 801.8,976.0 803.8,978.1 805.8,980.1 807.8,982.3 809.8,984.4 811.8,986.5 813.9,988.7 815.9,990.9 817.9,993.3 819.9,995.7 821.9,998.1 823.9,1000.5 825.9,1002.9 828.0,1005.2 830.0,1007.5 832.0,1009.5 834.0,1011.5 836.0,1013.4 838.0,1015.2 840.1,1017.0 842.1,1018.8 844.1,1020.6 846.1,1022.2 848.1,1023.9 850.1,1025.4 852.2,1027.0 854.2,1028.4 856.2,1029.8 858.2,1031.1 860.2,1032.4 862.2,1033.7 864.3,1034.9 866.3,1036.1 868.3,1037.3 870.3,1038.4 872.3,1039.5 874.3,1040.5 876.3,1041.5 878.4,1042.5 880.4,1043.4 882.4,1044.3 884.4,1045.1 886.4,1045.9 888.4,1046.8 890.5,1047.6 892.5,1048.4 894.5,1049.2 896.5,1049.9 898.5,1050.7 900.5,1051.5 902.6,1052.2 904.6,1052.9 906.6,1053.6 908.6,1054.2 910.6,1054.9 912.6,1055.5 914.7,1056.1 916.7,1056.6 918.7,1057.1 920.7,1057.6" fill="none" stroke="#000" stroke-width="1.65" stroke-linejoin="round"/>
<polyline points="114.3,808.6 116.3,807.2 118.3,806.4 120.3,806.2 122.4,806.2 124.4,806.6 126.4,807.8 128.4,810.7 130.4,815.2 132.4,820.6 134.5,826.5 136.5,832.2 138.5,837.1 140.5,841.3 142.5,845.4 144.5,849.1 146.6,852.5 148.6,855.5 150.6,858.4 152.6,861.1 154.6,863.7 156.6,866.2 158.7,868.4 160.7,869.7 162.7,870.1 164.7,869.7 166.7,868.8 168.7,867.8 170.7,866.8 172.8,865.6 174.8,863.8 176.8,861.4 178.8,858.8 180.8,856.3 182.8,853.9 184.9,851.6 186.9,849.3 188.9,847.1 190.9,844.8 192.9,842.6 194.9,840.5 197.0,838.6 199.0,837.1 201.0,835.9 203.0,835.3 205.0,835.0 207.0,835.0 209.1,835.0 211.1,835.1 213.1,835.4 215.1,835.8 217.1,836.3 219.1,837.1 221.1,838.1 223.2,839.4 225.2,840.8 227.2,842.3 229.2,844.0 231.2,845.7 233.2,847.6 235.3,849.6 237.3,851.8 239.3,854.1 241.3,856.4 243.3,858.7 245.3,861.1 247.4,863.5 249.4,866.1 251.4,868.8 253.4,871.6 255.4,874.5 257.4,877.4 259.5,880.4 261.5,883.4 263.5,886.4 265.5,889.4 267.5,892.4 269.5,895.4 271.5,898.4 273.6,901.4 275.6,904.4 277.6,907.3 279.6,910.2 281.6,912.9 283.6,915.7 285.7,918.4 287.7,921.1 289.7,923.8 291.7,926.4 293.7,928.8 295.7,931.2 297.8,933.4 299.8,935.6 301.8,937.7 303.8,939.6 305.8,941.4 307.8,943.2 309.9,944.7 311.9,946.1 313.9,947.4 315.9,948.5 317.9,949.6 319.9,950.6 321.9,951.4 324.0,952.1 326.0,952.6 328.0,952.9 330.0,953.0 332.0,953.1 334.0,953.1 336.1,953.1 338.1,953.0 340.1,952.8 342.1,952.6 344.1,952.4 346.1,952.1 348.2,951.6 350.2,951.0 352.2,950.2 354.2,949.4 356.2,948.4 358.2,947.5 360.3,946.5 362.3,945.6 364.3,944.7 366.3,944.0 368.3,943.3 370.3,942.7 372.3,942.1 374.4,941.4 376.4,940.8 378.4,940.2 380.4,939.7 382.4,939.3 384.4,939.0 386.5,938.9 388.5,938.9 390.5,939.0 392.5,939.2 394.5,939.4 396.5,939.7 398.6,940.0 400.6,940.3 402.6,940.6 404.6,941.0 406.6,941.5 408.6,942.1 410.7,942.7 412.7,943.3 414.7,943.8 416.7,944.4 418.7,945.1 420.7,945.9 422.7,946.8 424.8,947.8 426.8,948.8 428.8,949.8 430.8,950.8 432.8,951.7 434.8,952.5 436.9,953.1 438.9,953.8 440.9,954.9 442.9,956.6 444.9,959.1 446.9,962.0 449.0,965.2 451.0,968.7 453.0,973.1 455.0,978.2 457.0,983.4 459.0,988.2 461.1,991.9 463.1,994.7 465.1,997.0 467.1,999.1 469.1,1001.2 471.1,1003.4 473.1,1005.3 475.2,1007.1 477.2,1008.6 479.2,1010.0 481.2,1011.2 483.2,1012.4 485.2,1013.5 487.3,1014.5 489.3,1015.5 491.3,1016.4 493.3,1017.4 495.3,1018.6 497.3,1019.8 499.4,1020.9 501.4,1022.0 503.4,1022.9 505.4,1023.5 507.4,1023.8 509.4,1023.7 511.5,1023.3 513.5,1022.3 515.5,1021.1 517.5,1019.9 519.5,1018.8 521.5,1017.5 523.5,1016.4 525.6,1015.7 527.6,1015.3 529.6,1015.0 531.6,1014.8 533.6,1014.7 535.6,1014.7 537.7,1014.6 539.7,1014.4 541.7,1014.0 543.7,1013.4 545.7,1012.3 547.7,1010.5 549.8,1008.3 551.8,1006.1 553.8,1004.1 555.8,1002.2 557.8,1000.2 559.8,998.2 561.9,996.2 563.9,994.2 565.9,992.2 567.9,990.5 569.9,989.1 571.9,988.0 573.9,987.1 576.0,986.4 578.0,985.7 580.0,984.9 582.0,984.4 584.0,984.2 586.0,983.7 588.1,982.8 590.1,981.2 592.1,979.1 594.1,976.8 596.1,974.4 598.1,972.1 600.2,969.8 602.2,967.3 604.2,964.9 606.2,962.5 608.2,960.4 610.2,958.3 612.3,956.1 614.3,953.9 616.3,951.5 618.3,948.9 620.3,946.5 622.3,944.6 624.3,943.1 626.4,941.7 628.4,940.2 630.4,938.3 632.4,936.1 634.4,933.9 636.4,931.7 638.5,929.4 640.5,926.9 642.5,924.3 644.5,921.5 646.5,918.7 648.5,915.7 650.6,912.4 652.6,909.0 654.6,905.7 656.6,902.6 658.6,900.1 660.6,898.1 662.7,896.8 664.7,896.3 666.7,896.3 668.7,896.7 670.7,897.1 672.7,897.2 674.7,897.1 676.8,897.0 678.8,896.9 680.8,896.7 682.8,896.5 684.8,896.0 686.8,895.6 688.9,895.2 690.9,894.7 692.9,894.2 694.9,893.7 696.9,893.1 698.9,892.5 701.0,892.0 703.0,891.4 705.0,890.9 707.0,890.4 709.0,890.0 711.0,889.6 713.1,889.1 715.1,888.7 717.1,888.2 719.1,887.8 721.1,887.5 723.1,887.3 725.1,887.2 727.2,887.2 729.2,887.3 731.2,887.5 733.2,887.8 735.2,888.1 737.2,888.4 739.3,888.8 741.3,889.2 743.3,889.6 745.3,890.1 747.3,890.6 749.3,891.1 751.4,891.7 753.4,892.5 755.4,893.4 757.4,894.4 759.4,895.5 761.4,896.6 763.5,897.9 765.5,899.1 767.5,900.5 769.5,901.9 771.5,903.5 773.5,905.2 775.5,907.2 777.6,909.2 779.6,911.4 781.6,913.6 783.6,916.0 785.6,918.4 787.6,920.8 789.7,923.3 791.7,925.8 793.7,928.3 795.7,930.9 797.7,933.5 799.7,936.3 801.8,939.2 803.8,942.1 805.8,945.1 807.8,948.1 809.8,951.2 811.8,954.2 813.9,957.3 815.9,960.6 817.9,963.9 819.9,967.4 821.9,970.9 823.9,974.4 825.9,977.8 828.0,981.2 830.0,984.4 832.0,987.3 834.0,990.1 836.0,992.8 838.0,995.4 840.1,997.9 842.1,1000.4 844.1,1002.9 846.1,1005.2 848.1,1007.5 850.1,1009.7 852.2,1011.8 854.2,1013.8 856.2,1015.7 858.2,1017.6 860.2,1019.3 862.2,1021.0 864.3,1022.7 866.3,1024.3 868.3,1025.9 870.3,1027.4 872.3,1028.9 874.3,1030.3 876.3,1031.6 878.4,1032.9 880.4,1034.1 882.4,1035.3 884.4,1036.3 886.4,1037.4 888.4,1038.5 890.5,1039.5 892.5,1040.6 894.5,1041.6 896.5,1042.6 898.5,1043.6 900.5,1044.6 902.6,1045.5 904.6,1046.4 906.6,1047.3 908.6,1048.1 910.6,1048.9 912.6,1049.7 914.7,1050.4 916.7,1051.0 918.7,1051.7 920.7,1052.2" fill="none" stroke="#000" stroke-width="1.65" stroke-linejoin="round"/>
<polyline points="114.3,806.1 116.3,805.1 118.3,804.6 120.3,804.6 122.4,804.9 124.4,805.4 126.4,806.6 128.4,809.3 130.4,813.3 132.4,818.1 134.5,823.3 136.5,828.5 138.5,833.0 140.5,836.9 142.5,840.6 144.5,844.1 146.6,847.1 148.6,849.7 150.6,852.2 152.6,854.6 154.6,856.8 156.6,859.0 158.7,860.8 160.7,861.9 162.7,862.1 164.7,861.6 166.7,860.7 168.7,859.6 170.7,858.5 172.8,857.2 174.8,855.4 176.8,853.0 178.8,850.4 180.8,847.7 182.8,845.3 184.9,842.9 186.9,840.7 188.9,838.5 190.9,836.3 192.9,834.1 194.9,832.1 197.0,830.3 199.0,828.8 201.0,827.6 203.0,826.9 205.0,826.5 207.0,826.4 209.1,826.2 211.1,826.2 213.1,826.3 215.1,826.6 217.1,827.0 219.1,827.7 221.1,828.6 223.2,829.7 225.2,831.0 227.2,832.4 229.2,833.9 231.2,835.4 233.2,837.1 235.3,839.0 237.3,841.0 239.3,843.1 241.3,845.3 243.3,847.5 245.3,849.8 247.4,852.1 249.4,854.5 251.4,857.1 253.4,859.8 255.4,862.5 257.4,865.2 259.5,868.0 261.5,870.8 263.5,873.6 265.5,876.5 267.5,879.3 269.5,882.2 271.5,885.1 273.6,887.9 275.6,890.7 277.6,893.5 279.6,896.2 281.6,898.8 283.6,901.3 285.7,903.9 287.7,906.5 289.7,909.0 291.7,911.5 293.7,913.8 295.7,916.1 297.8,918.2 299.8,920.2 301.8,922.2 303.8,924.0 305.8,925.7 307.8,927.3 309.9,928.8 311.9,930.2 313.9,931.4 315.9,932.5 317.9,933.5 319.9,934.5 321.9,935.3 324.0,935.9 326.0,936.4 328.0,936.6 330.0,936.8 332.0,936.8 334.0,936.8 336.1,936.7 338.1,936.5 340.1,936.3 342.1,936.1 344.1,935.8 346.1,935.5 348.2,934.9 350.2,934.2 352.2,933.4 354.2,932.4 356.2,931.4 358.2,930.4 360.3,929.3 362.3,928.3 364.3,927.4 366.3,926.7 368.3,926.0 370.3,925.4 372.3,924.7 374.4,924.1 376.4,923.4 378.4,922.9 380.4,922.4 382.4,922.0 384.4,921.8 386.5,921.7 388.5,921.8 390.5,921.9 392.5,922.2 394.5,922.5 396.5,922.9 398.6,923.3 400.6,923.6 402.6,924.1 404.6,924.8 406.6,925.6 408.6,926.4 410.7,927.4 412.7,928.3 414.7,929.2 416.7,930.1 418.7,931.1 420.7,932.3 422.7,933.5 424.8,934.8 426.8,936.1 428.8,937.5 430.8,938.8 432.8,940.1 434.8,941.2 436.9,942.0 438.9,942.8 440.9,944.1 442.9,946.0 444.9,948.7 446.9,952.0 449.0,955.5 451.0,959.6 453.0,964.6 455.0,970.3 457.0,976.3 459.0,981.8 461.1,986.4 463.1,990.1 465.1,993.5 467.1,996.5 469.1,999.5 471.1,1002.3 473.1,1005.0 475.2,1007.3 477.2,1009.4 479.2,1011.3 481.2,1013.1 483.2,1014.9 485.2,1016.5 487.3,1018.1 489.3,1019.6 491.3,1021.0 493.3,1022.4 495.3,1023.9 497.3,1025.3 499.4,1026.8 501.4,1028.2 503.4,1029.5 505.4,1030.5 507.4,1031.3 509.4,1031.9 511.5,1032.1 513.5,1032.0 515.5,1031.9 517.5,1031.7 519.5,1031.5 521.5,1031.3 523.5,1031.2 525.6,1031.1 527.6,1031.1 529.6,1031.0 531.6,1031.0 533.6,1031.0 535.6,1030.9 537.7,1030.7 539.7,1030.3 541.7,1029.8 543.7,1029.2 545.7,1028.3 547.7,1027.2 549.8,1026.0 551.8,1024.7 553.8,1023.5 555.8,1022.3 557.8,1021.1 559.8,1019.8 561.9,1018.4 563.9,1017.0 565.9,1015.5 567.9,1014.0 569.9,1012.5 571.9,1011.1 573.9,1009.7 576.0,1008.3 578.0,1006.9 580.0,1005.5 582.0,1004.2 584.0,1003.0 586.0,1001.7 588.1,1000.3 590.1,998.7 592.1,996.9 594.1,995.0 596.1,993.1 598.1,991.1 600.2,989.1 602.2,987.1 604.2,984.9 606.2,982.8 608.2,980.6 610.2,978.2 612.3,975.5 614.3,972.5 616.3,969.3 618.3,965.9 620.3,962.4 622.3,959.0 624.3,955.6 626.4,952.3 628.4,949.1 630.4,945.9 632.4,942.8 634.4,939.8 636.4,936.9 638.5,934.0 640.5,931.0 642.5,928.0 644.5,925.0 646.5,921.9 648.5,918.6 650.6,915.0 652.6,911.3 654.6,907.7 656.6,904.3 658.6,901.2 660.6,898.7 662.7,896.8 664.7,895.3 666.7,894.1 668.7,892.9 670.7,891.8 672.7,890.6 674.7,889.4 676.8,888.3 678.8,887.2 680.8,886.2 682.8,885.2 684.8,884.3 686.8,883.3 688.9,882.4 690.9,881.5 692.9,880.6 694.9,879.8 696.9,878.9 698.9,878.1 701.0,877.4 703.0,876.7 705.0,876.0 707.0,875.4 709.0,874.9 711.0,874.3 713.1,873.7 715.1,873.2 717.1,872.6 719.1,872.1 721.1,871.7 723.1,871.4 725.1,871.2 727.2,871.2 729.2,871.3 731.2,871.4 733.2,871.6 735.2,871.9 737.2,872.2 739.3,872.6 741.3,873.0 743.3,873.4 745.3,873.9 747.3,874.4 749.3,874.9 751.4,875.6 753.4,876.4 755.4,877.3 757.4,878.4 759.4,879.5 761.4,880.8 763.5,882.1 765.5,883.5 767.5,884.9 769.5,886.4 771.5,888.1 773.5,890.0 775.5,892.1 777.6,894.3 779.6,896.6 781.6,899.1 783.6,901.6 785.6,904.2 787.6,906.9 789.7,909.5 791.7,912.2 793.7,915.0 795.7,917.8 797.7,920.7 799.7,923.7 801.8,926.8 803.8,930.0 805.8,933.2 807.8,936.5 809.8,939.8 811.8,943.2 813.9,946.5 815.9,950.1 817.9,953.8 819.9,957.5 821.9,961.4 823.9,965.2 825.9,969.0 828.0,972.6 830.0,976.1 832.0,979.3 834.0,982.3 836.0,985.2 838.0,988.0 840.1,990.8 842.1,993.5 844.1,996.2 846.1,998.7 848.1,1001.2 850.1,1003.6 852.2,1005.8 854.2,1008.0 856.2,1010.1 858.2,1012.0 860.2,1013.9 862.2,1015.8 864.3,1017.5 866.3,1019.3 868.3,1021.0 870.3,1022.6 872.3,1024.2 874.3,1025.7 876.3,1027.1 878.4,1028.5 880.4,1029.7 882.4,1030.9 884.4,1032.1 886.4,1033.2 888.4,1034.3 890.5,1035.4 892.5,1036.5 894.5,1037.6 896.5,1038.7 898.5,1039.7 900.5,1040.7 902.6,1041.7 904.6,1042.6 906.6,1043.5 908.6,1044.4 910.6,1045.2 912.6,1046.0 914.7,1046.7 916.7,1047.4 918.7,1048.0 920.7,1048.5" fill="none" stroke="#000" stroke-width="1.65" stroke-linejoin="round"/>
<polyline points="114.3,804.3 116.3,803.7 118.3,803.5 120.3,803.7 122.4,804.1 124.4,804.7 126.4,805.9 128.4,808.3 130.4,811.8 132.4,815.9 134.5,820.6 136.5,825.2 138.5,829.2 140.5,832.8 142.5,836.2 144.5,839.3 146.6,841.9 148.6,844.2 150.6,846.3 152.6,848.3 154.6,850.2 156.6,852.0 158.7,853.5 160.7,854.4 162.7,854.5 164.7,853.9 166.7,853.0 168.7,851.9 170.7,850.8 172.8,849.6 174.8,847.7 176.8,845.3 178.8,842.7 180.8,840.1 182.8,837.6 184.9,835.3 186.9,833.1 188.9,831.0 190.9,828.9 192.9,826.9 194.9,825.0 197.0,823.2 199.0,821.8 201.0,820.6 203.0,819.9 205.0,819.5 207.0,819.1 209.1,818.9 211.1,818.8 213.1,818.7 215.1,818.9 217.1,819.2 219.1,819.8 221.1,820.6 223.2,821.6 225.2,822.7 227.2,824.0 229.2,825.4 231.2,826.8 233.2,828.4 235.3,830.1 237.3,831.9 239.3,833.9 241.3,836.0 243.3,838.1 245.3,840.3 247.4,842.5 249.4,844.8 251.4,847.3 253.4,849.8 255.4,852.4 257.4,855.0 259.5,857.6 261.5,860.3 263.5,863.0 265.5,865.7 267.5,868.4 269.5,871.1 271.5,873.9 273.6,876.6 275.6,879.3 277.6,881.9 279.6,884.4 281.6,886.9 283.6,889.4 285.7,891.8 287.7,894.3 289.7,896.7 291.7,899.0 293.7,901.2 295.7,903.4 297.8,905.4 299.8,907.3 301.8,909.2 303.8,910.9 305.8,912.5 307.8,914.0 309.9,915.5 311.9,916.8 313.9,917.9 315.9,919.0 317.9,920.0 319.9,920.9 321.9,921.7 324.0,922.3 326.0,922.8 328.0,923.0 330.0,923.1 332.0,923.1 334.0,923.1 336.1,922.9 338.1,922.7 340.1,922.5 342.1,922.2 344.1,921.9 346.1,921.5 348.2,920.9 350.2,920.1 352.2,919.2 354.2,918.2 356.2,917.1 358.2,916.0 360.3,914.9 362.3,913.9 364.3,913.0 366.3,912.2 368.3,911.5 370.3,910.9 372.3,910.2 374.4,909.5 376.4,908.9 378.4,908.4 380.4,907.9 382.4,907.6 384.4,907.4 386.5,907.3 388.5,907.4 390.5,907.7 392.5,908.0 394.5,908.4 396.5,908.8 398.6,909.2 400.6,909.7 402.6,910.3 404.6,911.2 406.6,912.2 408.6,913.3 410.7,914.6 412.7,915.8 414.7,917.0 416.7,918.1 418.7,919.4 420.7,920.8 422.7,922.3 424.8,923.9 426.8,925.5 428.8,927.1 430.8,928.7 432.8,930.4 434.8,931.8 436.9,933.0 438.9,934.2 440.9,935.8 442.9,938.0 444.9,940.9 446.9,944.4 449.0,948.0 451.0,952.1 453.0,957.2 455.0,962.9 457.0,968.8 459.0,974.3 461.1,978.9 463.1,982.8 465.1,986.5 467.1,989.8 469.1,993.0 471.1,996.1 473.1,998.9 475.2,1001.5 477.2,1003.8 479.2,1005.9 481.2,1007.9 483.2,1009.8 485.2,1011.6 487.3,1013.4 489.3,1015.0 491.3,1016.5 493.3,1018.1 495.3,1019.7 497.3,1021.3 499.4,1022.8 501.4,1024.3 503.4,1025.7 505.4,1026.9 507.4,1027.9 509.4,1028.6 511.5,1029.1 513.5,1029.2 515.5,1029.3 517.5,1029.4 519.5,1029.5 521.5,1029.6 523.5,1029.7 525.6,1029.8 527.6,1029.8 529.6,1029.9 531.6,1029.9 533.6,1029.9 535.6,1029.8 537.7,1029.6 539.7,1029.2 541.7,1028.6 543.7,1028.0 545.7,1027.3 547.7,1026.4 549.8,1025.4 551.8,1024.5 553.8,1023.5 555.8,1022.5 557.8,1021.5 559.8,1020.5 561.9,1019.4 563.9,1018.1 565.9,1016.8 567.9,1015.4 569.9,1013.9 571.9,1012.5 573.9,1011.0 576.0,1009.4 578.0,1007.9 580.0,1006.4 582.0,1004.9 584.0,1003.5 586.0,1002.0 588.1,1000.5 590.1,998.9 592.1,997.2 594.1,995.5 596.1,993.7 598.1,991.9 600.2,990.1 602.2,988.1 604.2,986.1 606.2,984.0 608.2,981.9 610.2,979.5 612.3,976.8 614.3,973.8 616.3,970.5 618.3,967.1 620.3,963.5 622.3,959.9 624.3,956.3 626.4,952.7 628.4,949.2 630.4,945.9 632.4,942.7 634.4,939.6 636.4,936.6 638.5,933.7 640.5,930.7 642.5,927.7 644.5,924.7 646.5,921.7 648.5,918.4 650.6,915.0 652.6,911.4 654.6,907.9 656.6,904.5 658.6,901.4 660.6,898.8 662.7,896.8 664.7,895.1 666.7,893.5 668.7,891.9 670.7,890.4 672.7,888.9 674.7,887.4 676.8,886.0 678.8,884.7 680.8,883.4 682.8,882.2 684.8,881.1 686.8,880.0 688.9,879.0 690.9,878.0 692.9,877.0 694.9,876.0 696.9,875.1 698.9,874.2 701.0,873.4 703.0,872.6 705.0,871.9 707.0,871.3 709.0,870.7 711.0,870.1 713.1,869.5 715.1,868.9 717.1,868.3 719.1,867.8 721.1,867.4 723.1,867.0 725.1,866.8 727.2,866.7 729.2,866.8 731.2,866.9 733.2,867.2 735.2,867.4 737.2,867.7 739.3,868.1 741.3,868.5 743.3,868.9 745.3,869.4 747.3,869.8 749.3,870.4 751.4,871.0 753.4,871.8 755.4,872.8 757.4,873.8 759.4,875.0 761.4,876.2 763.5,877.6 765.5,878.9 767.5,880.4 769.5,881.9 771.5,883.6 773.5,885.5 775.5,887.6 777.6,889.9 779.6,892.2 781.6,894.7 783.6,897.3 785.6,899.9 787.6,902.6 789.7,905.3 791.7,908.1 793.7,910.8 795.7,913.7 797.7,916.6 799.7,919.7 801.8,922.8 803.8,926.1 805.8,929.4 807.8,932.7 809.8,936.1 811.8,939.5 813.9,942.9 815.9,946.5 817.9,950.2 819.9,954.1 821.9,958.0 823.9,961.9 825.9,965.7 828.0,969.4 830.0,972.9 832.0,976.2 834.0,979.3 836.0,982.2 838.0,985.1 840.1,987.9 842.1,990.7 844.1,993.3 846.1,995.9 848.1,998.4 850.1,1000.8 852.2,1003.2 854.2,1005.3 856.2,1007.4 858.2,1009.4 860.2,1011.3 862.2,1013.2 864.3,1015.0 866.3,1016.7 868.3,1018.4 870.3,1020.1 872.3,1021.6 874.3,1023.1 876.3,1024.6 878.4,1025.9 880.4,1027.2 882.4,1028.4 884.4,1029.5 886.4,1030.6 888.4,1031.8 890.5,1032.9 892.5,1033.9 894.5,1035.0 896.5,1036.0 898.5,1037.1 900.5,1038.1 902.6,1039.0 904.6,1039.9 906.6,1040.8 908.6,1041.7 910.6,1042.5 912.6,1043.2 914.7,1043.9 916.7,1044.6 918.7,1045.1 920.7,1045.7" fill="none" stroke="#000" stroke-width="1.65" stroke-linejoin="round"/>
<polyline points="114.3,803.7 116.3,803.2 118.3,803.2 120.3,803.5 122.4,803.9 124.4,804.5 126.4,805.6 128.4,807.7 130.4,810.7 132.4,814.3 134.5,818.2 136.5,822.3 138.5,825.9 140.5,829.2 142.5,832.2 144.5,834.9 146.6,837.1 148.6,839.0 150.6,840.7 152.6,842.4 154.6,843.9 156.6,845.5 158.7,846.7 160.7,847.5 162.7,847.4 164.7,846.9 166.7,845.9 168.7,844.9 170.7,843.9 172.8,842.7 174.8,841.0 176.8,838.7 178.8,836.2 180.8,833.6 182.8,831.2 184.9,828.9 186.9,826.9 188.9,824.9 190.9,823.0 192.9,821.1 194.9,819.3 197.0,817.7 199.0,816.4 201.0,815.3 203.0,814.6 205.0,814.1 207.0,813.7 209.1,813.3 211.1,813.1 213.1,813.0 215.1,813.0 217.1,813.3 219.1,813.8 221.1,814.5 223.2,815.4 225.2,816.5 227.2,817.7 229.2,819.0 231.2,820.3 233.2,821.8 235.3,823.3 237.3,825.1 239.3,827.0 241.3,828.9 243.3,831.0 245.3,833.0 247.4,835.2 249.4,837.5 251.4,839.8 253.4,842.3 255.4,844.8 257.4,847.2 259.5,849.7 261.5,852.3 263.5,854.9 265.5,857.5 267.5,860.1 269.5,862.7 271.5,865.4 273.6,868.0 275.6,870.6 277.6,873.1 279.6,875.6 281.6,877.9 283.6,880.3 285.7,882.6 287.7,885.0 289.7,887.3 291.7,889.5 293.7,891.7 295.7,893.7 297.8,895.7 299.8,897.5 301.8,899.3 303.8,901.0 305.8,902.5 307.8,904.0 309.9,905.4 311.9,906.6 313.9,907.7 315.9,908.8 317.9,909.8 319.9,910.7 321.9,911.5 324.0,912.1 326.0,912.5 328.0,912.7 330.0,912.8 332.0,912.8 334.0,912.7 336.1,912.5 338.1,912.3 340.1,912.0 342.1,911.7 344.1,911.4 346.1,910.9 348.2,910.3 350.2,909.5 352.2,908.5 354.2,907.4 356.2,906.3 358.2,905.2 360.3,904.0 362.3,903.0 364.3,902.0 366.3,901.2 368.3,900.5 370.3,899.9 372.3,899.2 374.4,898.5 376.4,897.9 378.4,897.4 380.4,896.9 382.4,896.6 384.4,896.5 386.5,896.5 388.5,896.6 390.5,896.8 392.5,897.2 394.5,897.6 396.5,898.1 398.6,898.6 400.6,899.1 402.6,899.9 404.6,900.9 406.6,902.1 408.6,903.4 410.7,904.8 412.7,906.3 414.7,907.7 416.7,909.1 418.7,910.6 420.7,912.2 422.7,913.9 424.8,915.7 426.8,917.5 428.8,919.3 430.8,921.1 432.8,923.0 434.8,924.7 436.9,926.1 438.9,927.6 440.9,929.3 442.9,931.7 444.9,934.6 446.9,938.1 449.0,941.7 451.0,945.8 453.0,950.7 455.0,956.2 457.0,961.8 459.0,967.2 461.1,971.7 463.1,975.6 465.1,979.3 467.1,982.8 469.1,986.1 471.1,989.2 473.1,992.2 475.2,994.8 477.2,997.2 479.2,999.4 481.2,1001.5 483.2,1003.4 485.2,1005.4 487.3,1007.2 489.3,1008.9 491.3,1010.5 493.3,1012.1 495.3,1013.7 497.3,1015.4 499.4,1017.0 501.4,1018.5 503.4,1020.0 505.4,1021.2 507.4,1022.3 509.4,1023.1 511.5,1023.6 513.5,1023.8 515.5,1024.0 517.5,1024.2 519.5,1024.4 521.5,1024.5 523.5,1024.7 525.6,1024.8 527.6,1024.9 529.6,1024.9 531.6,1025.0 533.6,1025.0 535.6,1024.9 537.7,1024.6 539.7,1024.3 541.7,1023.8 543.7,1023.2 545.7,1022.5 547.7,1021.7 549.8,1020.9 551.8,1020.0 553.8,1019.1 555.8,1018.2 557.8,1017.3 559.8,1016.4 561.9,1015.4 563.9,1014.2 565.9,1013.0 567.9,1011.6 569.9,1010.2 571.9,1008.8 573.9,1007.3 576.0,1005.8 578.0,1004.3 580.0,1002.7 582.0,1001.2 584.0,999.8 586.0,998.3 588.1,996.8 590.1,995.2 592.1,993.6 594.1,992.0 596.1,990.3 598.1,988.5 600.2,986.7 602.2,984.8 604.2,982.9 606.2,980.9 608.2,978.8 610.2,976.6 612.3,973.9 614.3,971.0 616.3,967.9 618.3,964.6 620.3,961.2 622.3,957.7 624.3,954.2 626.4,950.7 628.4,947.4 630.4,944.1 632.4,941.0 634.4,938.1 636.4,935.2 638.5,932.3 640.5,929.4 642.5,926.5 644.5,923.7 646.5,920.7 648.5,917.6 650.6,914.3 652.6,910.9 654.6,907.6 656.6,904.3 658.6,901.4 660.6,898.8 662.7,896.8 664.7,895.0 666.7,893.3 668.7,891.6 670.7,890.0 672.7,888.4 674.7,886.8 676.8,885.3 678.8,883.9 680.8,882.6 682.8,881.4 684.8,880.2 686.8,879.1 688.9,878.0 690.9,876.9 692.9,875.9 694.9,874.9 696.9,873.9 698.9,873.0 701.0,872.2 703.0,871.4 705.0,870.7 707.0,870.0 709.0,869.4 711.0,868.8 713.1,868.2 715.1,867.5 717.1,867.0 719.1,866.4 721.1,866.0 723.1,865.6 725.1,865.4 727.2,865.3 729.2,865.4 731.2,865.5 733.2,865.7 735.2,865.9 737.2,866.2 739.3,866.6 741.3,867.0 743.3,867.4 745.3,867.8 747.3,868.3 749.3,868.8 751.4,869.5 753.4,870.3 755.4,871.2 757.4,872.3 759.4,873.4 761.4,874.7 763.5,876.0 765.5,877.4 767.5,878.8 769.5,880.3 771.5,882.0 773.5,883.9 775.5,886.0 777.6,888.2 779.6,890.6 781.6,893.1 783.6,895.6 785.6,898.3 787.6,901.0 789.7,903.7 791.7,906.4 793.7,909.1 795.7,912.0 797.7,914.9 799.7,918.0 801.8,921.1 803.8,924.4 805.8,927.6 807.8,931.0 809.8,934.4 811.8,937.8 813.9,941.2 815.9,944.8 817.9,948.5 819.9,952.4 821.9,956.3 823.9,960.2 825.9,964.0 828.0,967.7 830.0,971.2 832.0,974.5 834.0,977.6 836.0,980.5 838.0,983.4 840.1,986.2 842.1,989.0 844.1,991.6 846.1,994.2 848.1,996.7 850.1,999.1 852.2,1001.4 854.2,1003.6 856.2,1005.7 858.2,1007.7 860.2,1009.5 862.2,1011.4 864.3,1013.2 866.3,1014.9 868.3,1016.6 870.3,1018.2 872.3,1019.8 874.3,1021.3 876.3,1022.7 878.4,1024.0 880.4,1025.3 882.4,1026.5 884.4,1027.6 886.4,1028.7 888.4,1029.8 890.5,1030.8 892.5,1031.9 894.5,1032.9 896.5,1034.0 898.5,1035.0 900.5,1035.9 902.6,1036.9 904.6,1037.7 906.6,1038.6 908.6,1039.4 910.6,1040.2 912.6,1040.9 914.7,1041.6 916.7,1042.2 918.7,1042.7 920.7,1043.2" fill="none" stroke="#000" stroke-width="1.65" stroke-linejoin="round"/>
<polyline points="114.3,802.2 116.3,802.0 118.3,802.1 120.3,802.5 122.4,803.1 124.4,803.8 126.4,804.9 128.4,807.0 130.4,809.7 132.4,812.9 134.5,816.6 136.5,820.3 138.5,823.8 140.5,826.9 142.5,829.8 144.5,832.3 146.6,834.4 148.6,836.0 150.6,837.5 152.6,839.0 154.6,840.4 156.6,841.7 158.7,842.9 160.7,843.5 162.7,843.3 164.7,842.7 166.7,841.7 168.7,840.6 170.7,839.6 172.8,838.4 174.8,836.6 176.8,834.3 178.8,831.7 180.8,829.1 182.8,826.6 184.9,824.3 186.9,822.3 188.9,820.4 190.9,818.4 192.9,816.6 194.9,814.8 197.0,813.3 199.0,811.9 201.0,810.8 203.0,810.1 205.0,809.5 207.0,809.0 209.1,808.6 211.1,808.3 213.1,808.1 215.1,808.1 217.1,808.3 219.1,808.7 221.1,809.4 223.2,810.2 225.2,811.2 227.2,812.3 229.2,813.5 231.2,814.8 233.2,816.1 235.3,817.6 237.3,819.2 239.3,821.0 241.3,822.9 243.3,824.9 245.3,826.9 247.4,829.0 249.4,831.2 251.4,833.5 253.4,835.9 255.4,838.3 257.4,840.6 259.5,843.0 261.5,845.5 263.5,848.0 265.5,850.5 267.5,853.0 269.5,855.6 271.5,858.2 273.6,860.7 275.6,863.2 277.6,865.6 279.6,868.0 281.6,870.3 283.6,872.5 285.7,874.8 287.7,877.1 289.7,879.3 291.7,881.5 293.7,883.6 295.7,885.6 297.8,887.4 299.8,889.2 301.8,890.9 303.8,892.5 305.8,894.0 307.8,895.4 309.9,896.7 311.9,898.0 313.9,899.1 315.9,900.1 317.9,901.1 319.9,902.0 321.9,902.7 324.0,903.3 326.0,903.7 328.0,903.9 330.0,904.0 332.0,904.0 334.0,903.8 336.1,903.6 338.1,903.4 340.1,903.1 342.1,902.8 344.1,902.4 346.1,901.9 348.2,901.3 350.2,900.4 352.2,899.4 354.2,898.3 356.2,897.1 358.2,895.9 360.3,894.7 362.3,893.6 364.3,892.7 366.3,891.8 368.3,891.1 370.3,890.5 372.3,889.8 374.4,889.2 376.4,888.6 378.4,888.0 380.4,887.6 382.4,887.3 384.4,887.2 386.5,887.2 388.5,887.3 390.5,887.6 392.5,888.0 394.5,888.5 396.5,889.0 398.6,889.6 400.6,890.1 402.6,891.0 404.6,892.1 406.6,893.4 408.6,895.0 410.7,896.6 412.7,898.2 414.7,899.8 416.7,901.3 418.7,903.0 420.7,904.8 422.7,906.7 424.8,908.6 426.8,910.6 428.8,912.6 430.8,914.7 432.8,916.7 434.8,918.6 436.9,920.3 438.9,921.9 440.9,923.9 442.9,926.3 444.9,929.2 446.9,932.6 449.0,936.3 451.0,940.3 453.0,945.0 455.0,950.2 457.0,955.6 459.0,960.7 461.1,965.2 463.1,969.1 465.1,972.8 467.1,976.3 469.1,979.7 471.1,982.9 473.1,985.9 475.2,988.6 477.2,991.0 479.2,993.2 481.2,995.4 483.2,997.4 485.2,999.4 487.3,1001.3 489.3,1003.0 491.3,1004.6 493.3,1006.3 495.3,1008.0 497.3,1009.7 499.4,1011.3 501.4,1012.9 503.4,1014.4 505.4,1015.7 507.4,1016.8 509.4,1017.6 511.5,1018.2 513.5,1018.4 515.5,1018.6 517.5,1018.9 519.5,1019.1 521.5,1019.3 523.5,1019.4 525.6,1019.6 527.6,1019.7 529.6,1019.8 531.6,1019.8 533.6,1019.8 535.6,1019.7 537.7,1019.5 539.7,1019.1 541.7,1018.6 543.7,1018.1 545.7,1017.4 547.7,1016.7 549.8,1015.9 551.8,1015.1 553.8,1014.3 555.8,1013.5 557.8,1012.7 559.8,1011.8 561.9,1010.8 563.9,1009.7 565.9,1008.5 567.9,1007.3 569.9,1005.9 571.9,1004.5 573.9,1003.1 576.0,1001.6 578.0,1000.1 580.0,998.6 582.0,997.1 584.0,995.6 586.0,994.2 588.1,992.7 590.1,991.1 592.1,989.6 594.1,988.0 596.1,986.3 598.1,984.6 600.2,982.9 602.2,981.1 604.2,979.2 606.2,977.3 608.2,975.3 610.2,973.1 612.3,970.6 614.3,967.8 616.3,964.8 618.3,961.7 620.3,958.5 622.3,955.1 624.3,951.8 626.4,948.5 628.4,945.3 630.4,942.2 632.4,939.2 634.4,936.4 636.4,933.6 638.5,930.8 640.5,928.1 642.5,925.3 644.5,922.5 646.5,919.7 648.5,916.8 650.6,913.6 652.6,910.4 654.6,907.2 656.6,904.1 658.6,901.3 660.6,898.8 662.7,896.8 664.7,895.0 666.7,893.2 668.7,891.5 670.7,889.8 672.7,888.2 674.7,886.6 676.8,885.0 678.8,883.6 680.8,882.2 682.8,881.0 684.8,879.8 686.8,878.6 688.9,877.5 690.9,876.4 692.9,875.4 694.9,874.3 696.9,873.4 698.9,872.5 701.0,871.6 703.0,870.8 705.0,870.1 707.0,869.4 709.0,868.8 711.0,868.1 713.1,867.5 715.1,866.9 717.1,866.3 719.1,865.7 721.1,865.3 723.1,864.9 725.1,864.7 727.2,864.6 729.2,864.6 731.2,864.7 733.2,864.9 735.2,865.2 737.2,865.5 739.3,865.8 741.3,866.2 743.3,866.6 745.3,867.0 747.3,867.5 749.3,868.0 751.4,868.7 753.4,869.4 755.4,870.4 757.4,871.4 759.4,872.6 761.4,873.8 763.5,875.1 765.5,876.5 767.5,877.9 769.5,879.4 771.5,881.1 773.5,883.0 775.5,885.0 777.6,887.3 779.6,889.6 781.6,892.1 783.6,894.6 785.6,897.2 787.6,899.9 789.7,902.6 791.7,905.3 793.7,908.1 795.7,910.9 797.7,913.8 799.7,916.9 801.8,920.0 803.8,923.2 805.8,926.5 807.8,929.8 809.8,933.2 811.8,936.6 813.9,940.0 815.9,943.6 817.9,947.3 819.9,951.1 821.9,955.0 823.9,958.9 825.9,962.7 828.0,966.4 830.0,970.0 832.0,973.2 834.0,976.3 836.0,979.2 838.0,982.1 840.1,984.9 842.1,987.6 844.1,990.3 846.1,992.9 848.1,995.4 850.1,997.8 852.2,1000.0 854.2,1002.2 856.2,1004.3 858.2,1006.2 860.2,1008.1 862.2,1009.9 864.3,1011.7 866.3,1013.4 868.3,1015.1 870.3,1016.7 872.3,1018.3 874.3,1019.7 876.3,1021.1 878.4,1022.5 880.4,1023.7 882.4,1024.9 884.4,1025.9 886.4,1027.0 888.4,1028.1 890.5,1029.1 892.5,1030.2 894.5,1031.2 896.5,1032.2 898.5,1033.1 900.5,1034.1 902.6,1035.0 904.6,1035.8 906.6,1036.7 908.6,1037.5 910.6,1038.2 912.6,1038.9 914.7,1039.5 916.7,1040.1 918.7,1040.6 920.7,1041.1" fill="none" stroke="#000" stroke-width="1.65" stroke-linejoin="round"/>
<polyline points="114.3,801.1 116.3,801.1 118.3,801.4 120.3,801.9 122.4,802.5 124.4,803.3 126.4,804.5 128.4,806.4 130.4,808.9 132.4,811.8 134.5,815.1 136.5,818.5 138.5,821.8 140.5,824.8 142.5,827.5 144.5,829.8 146.6,831.7 148.6,833.1 150.6,834.5 152.6,835.8 154.6,837.0 156.6,838.2 158.7,839.2 160.7,839.6 162.7,839.4 164.7,838.7 166.7,837.7 168.7,836.6 170.7,835.6 172.8,834.4 174.8,832.6 176.8,830.2 178.8,827.7 180.8,825.1 182.8,822.6 184.9,820.3 186.9,818.2 188.9,816.3 190.9,814.5 192.9,812.7 194.9,810.9 197.0,809.4 199.0,808.1 201.0,807.0 203.0,806.2 205.0,805.6 207.0,805.1 209.1,804.6 211.1,804.2 213.1,803.9 215.1,803.9 217.1,804.0 219.1,804.4 221.1,805.0 223.2,805.8 225.2,806.7 227.2,807.7 229.2,808.9 231.2,810.0 233.2,811.3 235.3,812.7 237.3,814.3 239.3,816.0 241.3,817.8 243.3,819.7 245.3,821.7 247.4,823.8 249.4,825.9 251.4,828.1 253.4,830.4 255.4,832.7 257.4,835.0 259.5,837.3 261.5,839.7 263.5,842.2 265.5,844.6 267.5,847.1 269.5,849.5 271.5,852.0 273.6,854.5 275.6,856.9 277.6,859.3 279.6,861.6 281.6,863.8 283.6,866.0 285.7,868.2 287.7,870.4 289.7,872.5 291.7,874.6 293.7,876.7 295.7,878.6 297.8,880.4 299.8,882.2 301.8,883.8 303.8,885.4 305.8,886.8 307.8,888.1 309.9,889.4 311.9,890.6 313.9,891.7 315.9,892.8 317.9,893.7 319.9,894.6 321.9,895.3 324.0,895.9 326.0,896.3 328.0,896.5 330.0,896.5 332.0,896.5 334.0,896.3 336.1,896.1 338.1,895.8 340.1,895.5 342.1,895.2 344.1,894.8 346.1,894.3 348.2,893.6 350.2,892.7 352.2,891.6 354.2,890.5 356.2,889.3 358.2,888.1 360.3,886.9 362.3,885.7 364.3,884.7 366.3,883.9 368.3,883.2 370.3,882.5 372.3,881.9 374.4,881.2 376.4,880.6 378.4,880.1 380.4,879.7 382.4,879.4 384.4,879.3 386.5,879.3 388.5,879.5 390.5,879.8 392.5,880.2 394.5,880.7 396.5,881.3 398.6,881.9 400.6,882.5 402.6,883.4 404.6,884.6 406.6,886.1 408.6,887.8 410.7,889.5 412.7,891.3 414.7,893.1 416.7,894.8 418.7,896.6 420.7,898.5 422.7,900.6 424.8,902.7 426.8,904.8 428.8,907.0 430.8,909.2 432.8,911.4 434.8,913.5 436.9,915.3 438.9,917.1 440.9,919.2 442.9,921.6 444.9,924.6 446.9,927.9 449.0,931.5 451.0,935.4 453.0,939.9 455.0,944.9 457.0,950.1 459.0,955.0 461.1,959.3 463.1,963.2 465.1,966.9 467.1,970.4 469.1,973.8 471.1,977.0 473.1,980.1 475.2,982.8 477.2,985.3 479.2,987.6 481.2,989.7 483.2,991.8 485.2,993.8 487.3,995.7 489.3,997.5 491.3,999.1 493.3,1000.8 495.3,1002.5 497.3,1004.2 499.4,1005.9 501.4,1007.5 503.4,1009.0 505.4,1010.4 507.4,1011.5 509.4,1012.3 511.5,1012.9 513.5,1013.1 515.5,1013.4 517.5,1013.6 519.5,1013.8 521.5,1014.0 523.5,1014.2 525.6,1014.3 527.6,1014.4 529.6,1014.5 531.6,1014.5 533.6,1014.6 535.6,1014.5 537.7,1014.2 539.7,1013.9 541.7,1013.4 543.7,1012.9 545.7,1012.3 547.7,1011.6 549.8,1010.9 551.8,1010.1 553.8,1009.3 555.8,1008.5 557.8,1007.8 559.8,1006.9 561.9,1006.0 563.9,1004.9 565.9,1003.8 567.9,1002.5 569.9,1001.2 571.9,999.9 573.9,998.5 576.0,997.0 578.0,995.6 580.0,994.1 582.0,992.7 584.0,991.3 586.0,989.8 588.1,988.4 590.1,986.9 592.1,985.3 594.1,983.8 596.1,982.1 598.1,980.5 600.2,978.8 602.2,977.0 604.2,975.2 606.2,973.3 608.2,971.4 610.2,969.2 612.3,966.9 614.3,964.2 616.3,961.4 618.3,958.5 620.3,955.5 622.3,952.4 624.3,949.2 626.4,946.1 628.4,943.1 630.4,940.1 632.4,937.3 634.4,934.6 636.4,932.0 638.5,929.3 640.5,926.7 642.5,924.1 644.5,921.4 646.5,918.7 648.5,915.9 650.6,912.9 652.6,909.9 654.6,906.8 656.6,903.9 658.6,901.2 660.6,898.8 662.7,896.8 664.7,895.0 666.7,893.2 668.7,891.5 670.7,889.8 672.7,888.1 674.7,886.5 676.8,885.0 678.8,883.6 680.8,882.2 682.8,880.9 684.8,879.7 686.8,878.6 688.9,877.4 690.9,876.3 692.9,875.3 694.9,874.2 696.9,873.3 698.9,872.4 701.0,871.5 703.0,870.7 705.0,869.9 707.0,869.2 709.0,868.6 711.0,868.0 713.1,867.3 715.1,866.7 717.1,866.1 719.1,865.5 721.1,865.1 723.1,864.7 725.1,864.5 727.2,864.4 729.2,864.4 731.2,864.5 733.2,864.7 735.2,864.9 737.2,865.2 739.3,865.6 741.3,865.9 743.3,866.3 745.3,866.8 747.3,867.2 749.3,867.7 751.4,868.4 753.4,869.1 755.4,870.1 757.4,871.1 759.4,872.2 761.4,873.4 763.5,874.7 765.5,876.1 767.5,877.5 769.5,879.0 771.5,880.7 773.5,882.6 775.5,884.6 777.6,886.8 779.6,889.1 781.6,891.6 783.6,894.1 785.6,896.7 787.6,899.4 789.7,902.1 791.7,904.8 793.7,907.5 795.7,910.3 797.7,913.2 799.7,916.2 801.8,919.3 803.8,922.5 805.8,925.8 807.8,929.1 809.8,932.4 811.8,935.8 813.9,939.2 815.9,942.7 817.9,946.5 819.9,950.3 821.9,954.2 823.9,958.0 825.9,961.8 828.0,965.5 830.0,969.0 832.0,972.3 834.0,975.3 836.0,978.2 838.0,981.1 840.1,983.9 842.1,986.6 844.1,989.3 846.1,991.8 848.1,994.3 850.1,996.7 852.2,998.9 854.2,1001.1 856.2,1003.2 858.2,1005.1 860.2,1006.9 862.2,1008.7 864.3,1010.5 866.3,1012.2 868.3,1013.9 870.3,1015.5 872.3,1017.0 874.3,1018.4 876.3,1019.8 878.4,1021.1 880.4,1022.3 882.4,1023.5 884.4,1024.5 886.4,1025.6 888.4,1026.6 890.5,1027.7 892.5,1028.7 894.5,1029.7 896.5,1030.6 898.5,1031.6 900.5,1032.5 902.6,1033.4 904.6,1034.2 906.6,1035.0 908.6,1035.8 910.6,1036.5 912.6,1037.1 914.7,1037.8 916.7,1038.3 918.7,1038.8 920.7,1039.2" fill="none" stroke="#000" stroke-width="1.65" stroke-linejoin="round"/>
<polyline points="114.3,800.3 116.3,800.4 118.3,800.8 120.3,801.4 122.4,802.1 124.4,802.9 126.4,804.1 128.4,805.9 130.4,808.2 132.4,810.8 134.5,813.9 136.5,817.1 138.5,820.2 140.5,823.1 142.5,825.7 144.5,827.9 146.6,829.6 148.6,830.9 150.6,832.1 152.6,833.2 154.6,834.3 156.6,835.4 158.7,836.2 160.7,836.6 162.7,836.3 164.7,835.6 166.7,834.6 168.7,833.5 170.7,832.4 172.8,831.2 174.8,829.3 176.8,827.0 178.8,824.5 180.8,821.9 182.8,819.3 184.9,817.0 186.9,815.0 188.9,813.1 190.9,811.3 192.9,809.5 194.9,807.9 197.0,806.3 199.0,805.0 201.0,804.0 203.0,803.2 205.0,802.5 207.0,801.9 209.1,801.4 211.1,800.9 213.1,800.6 215.1,800.5 217.1,800.6 219.1,801.0 221.1,801.5 223.2,802.2 225.2,803.1 227.2,804.1 229.2,805.2 231.2,806.3 233.2,807.5 235.3,808.8 237.3,810.3 239.3,812.0 241.3,813.8 243.3,815.6 245.3,817.6 247.4,819.6 249.4,821.7 251.4,823.9 253.4,826.1 255.4,828.3 257.4,830.6 259.5,832.8 261.5,835.1 263.5,837.5 265.5,839.9 267.5,842.3 269.5,844.7 271.5,847.1 273.6,849.5 275.6,851.9 277.6,854.2 279.6,856.5 281.6,858.6 283.6,860.7 285.7,862.9 287.7,865.0 289.7,867.1 291.7,869.2 293.7,871.2 295.7,873.1 297.8,874.9 299.8,876.6 301.8,878.2 303.8,879.6 305.8,881.0 307.8,882.3 309.9,883.6 311.9,884.8 313.9,885.9 315.9,886.9 317.9,887.8 319.9,888.7 321.9,889.4 324.0,890.0 326.0,890.3 328.0,890.5 330.0,890.6 332.0,890.5 334.0,890.4 336.1,890.1 338.1,889.8 340.1,889.5 342.1,889.1 344.1,888.8 346.1,888.2 348.2,887.5 350.2,886.6 352.2,885.5 354.2,884.3 356.2,883.1 358.2,881.8 360.3,880.6 362.3,879.4 364.3,878.4 366.3,877.5 368.3,876.9 370.3,876.2 372.3,875.5 374.4,874.9 376.4,874.3 378.4,873.8 380.4,873.4 382.4,873.1 384.4,873.0 386.5,873.0 388.5,873.2 390.5,873.6 392.5,874.0 394.5,874.5 396.5,875.1 398.6,875.8 400.6,876.4 402.6,877.4 404.6,878.7 406.6,880.3 408.6,882.1 410.7,883.9 412.7,885.9 414.7,887.7 416.7,889.5 418.7,891.5 420.7,893.5 422.7,895.7 424.8,897.9 426.8,900.2 428.8,902.5 430.8,904.8 432.8,907.1 434.8,909.4 436.9,911.3 438.9,913.2 440.9,915.3 442.9,917.7 444.9,920.6 446.9,923.9 449.0,927.3 451.0,931.1 453.0,935.5 455.0,940.3 457.0,945.2 459.0,949.9 461.1,954.1 463.1,958.0 465.1,961.7 467.1,965.2 469.1,968.6 471.1,971.9 473.1,974.9 475.2,977.7 477.2,980.2 479.2,982.5 481.2,984.7 483.2,986.9 485.2,988.9 487.3,990.8 489.3,992.6 491.3,994.3 493.3,995.9 495.3,997.7 497.3,999.4 499.4,1001.2 501.4,1002.8 503.4,1004.3 505.4,1005.7 507.4,1006.8 509.4,1007.7 511.5,1008.2 513.5,1008.5 515.5,1008.7 517.5,1009.0 519.5,1009.2 521.5,1009.4 523.5,1009.5 525.6,1009.7 527.6,1009.8 529.6,1009.9 531.6,1009.9 533.6,1009.9 535.6,1009.8 537.7,1009.6 539.7,1009.3 541.7,1008.9 543.7,1008.3 545.7,1007.7 547.7,1007.1 549.8,1006.4 551.8,1005.7 553.8,1004.9 555.8,1004.2 557.8,1003.4 559.8,1002.6 561.9,1001.7 563.9,1000.7 565.9,999.6 567.9,998.4 569.9,997.1 571.9,995.8 573.9,994.4 576.0,993.0 578.0,991.6 580.0,990.2 582.0,988.8 584.0,987.4 586.0,986.0 588.1,984.6 590.1,983.1 592.1,981.6 594.1,980.1 596.1,978.5 598.1,976.8 600.2,975.2 602.2,973.4 604.2,971.6 606.2,969.8 608.2,967.9 610.2,965.9 612.3,963.6 614.3,961.1 616.3,958.5 618.3,955.7 620.3,952.8 622.3,949.9 624.3,947.0 626.4,944.0 628.4,941.1 630.4,938.4 632.4,935.7 634.4,933.1 636.4,930.6 638.5,928.0 640.5,925.5 642.5,922.9 644.5,920.4 646.5,917.8 648.5,915.1 650.6,912.3 652.6,909.4 654.6,906.5 656.6,903.7 658.6,901.1 660.6,898.7 662.7,896.8 664.7,895.0 666.7,893.2 668.7,891.5 670.7,889.8 672.7,888.1 674.7,886.5 676.8,885.0 678.8,883.5 680.8,882.2 682.8,880.9 684.8,879.7 686.8,878.5 688.9,877.4 690.9,876.3 692.9,875.2 694.9,874.2 696.9,873.2 698.9,872.3 701.0,871.4 703.0,870.6 705.0,869.8 707.0,869.1 709.0,868.5 711.0,867.8 713.1,867.2 715.1,866.5 717.1,865.9 719.1,865.4 721.1,864.9 723.1,864.5 725.1,864.3 727.2,864.2 729.2,864.2 731.2,864.3 733.2,864.5 735.2,864.7 737.2,865.0 739.3,865.3 741.3,865.7 743.3,866.1 745.3,866.5 747.3,867.0 749.3,867.4 751.4,868.1 753.4,868.9 755.4,869.8 757.4,870.8 759.4,871.9 761.4,873.1 763.5,874.4 765.5,875.8 767.5,877.1 769.5,878.6 771.5,880.3 773.5,882.2 775.5,884.2 777.6,886.4 779.6,888.7 781.6,891.1 783.6,893.7 785.6,896.2 787.6,898.9 789.7,901.6 791.7,904.2 793.7,906.9 795.7,909.7 797.7,912.6 799.7,915.6 801.8,918.7 803.8,921.9 805.8,925.1 807.8,928.4 809.8,931.8 811.8,935.1 813.9,938.5 815.9,942.0 817.9,945.7 819.9,949.6 821.9,953.4 823.9,957.3 825.9,961.1 828.0,964.7 830.0,968.2 832.0,971.5 834.0,974.5 836.0,977.4 838.0,980.2 840.1,983.0 842.1,985.7 844.1,988.3 846.1,990.9 848.1,993.3 850.1,995.7 852.2,998.0 854.2,1000.1 856.2,1002.1 858.2,1004.1 860.2,1005.9 862.2,1007.7 864.3,1009.4 866.3,1011.1 868.3,1012.8 870.3,1014.4 872.3,1015.9 874.3,1017.3 876.3,1018.7 878.4,1019.9 880.4,1021.1 882.4,1022.3 884.4,1023.3 886.4,1024.3 888.4,1025.4 890.5,1026.4 892.5,1027.4 894.5,1028.3 896.5,1029.3 898.5,1030.2 900.5,1031.1 902.6,1031.9 904.6,1032.8 906.6,1033.5 908.6,1034.3 910.6,1035.0 912.6,1035.6 914.7,1036.2 916.7,1036.7 918.7,1037.2 920.7,1037.6" fill="none" stroke="#000" stroke-width="1.65" stroke-linejoin="round"/>
<polyline points="114.3,799.1 116.3,799.4 118.3,799.9 120.3,800.6 122.4,801.4 124.4,802.3 126.4,803.5 128.4,805.3 130.4,807.5 132.4,810.0 134.5,812.9 136.5,816.0 138.5,818.9 140.5,821.7 142.5,824.2 144.5,826.4 146.6,828.0 148.6,829.2 150.6,830.3 152.6,831.4 154.6,832.4 156.6,833.3 158.7,834.0 160.7,834.3 162.7,834.0 164.7,833.2 166.7,832.2 168.7,831.0 170.7,829.9 172.8,828.6 174.8,826.7 176.8,824.4 178.8,821.8 180.8,819.1 182.8,816.5 184.9,814.1 186.9,812.1 188.9,810.2 190.9,808.4 192.9,806.6 194.9,804.9 197.0,803.4 199.0,802.0 201.0,801.0 203.0,800.2 205.0,799.4 207.0,798.8 209.1,798.2 211.1,797.7 213.1,797.3 215.1,797.2 217.1,797.2 219.1,797.5 221.1,798.0 223.2,798.7 225.2,799.5 227.2,800.5 229.2,801.5 231.2,802.6 233.2,803.7 235.3,805.0 237.3,806.4 239.3,808.0 241.3,809.7 243.3,811.5 245.3,813.4 247.4,815.4 249.4,817.5 251.4,819.6 253.4,821.8 255.4,824.0 257.4,826.1 259.5,828.3 261.5,830.6 263.5,832.9 265.5,835.2 267.5,837.5 269.5,839.9 271.5,842.3 273.6,844.6 275.6,846.9 277.6,849.2 279.6,851.3 281.6,853.4 283.6,855.5 285.7,857.6 287.7,859.7 289.7,861.8 291.7,863.8 293.7,865.7 295.7,867.5 297.8,869.3 299.8,870.9 301.8,872.5 303.8,873.9 305.8,875.3 307.8,876.6 309.9,877.8 311.9,879.0 313.9,880.0 315.9,881.0 317.9,882.0 319.9,882.8 321.9,883.5 324.0,884.1 326.0,884.4 328.0,884.6 330.0,884.6 332.0,884.6 334.0,884.4 336.1,884.1 338.1,883.8 340.1,883.5 342.1,883.1 344.1,882.7 346.1,882.2 348.2,881.4 350.2,880.4 352.2,879.3 354.2,878.1 356.2,876.9 358.2,875.6 360.3,874.3 362.3,873.2 364.3,872.1 366.3,871.2 368.3,870.5 370.3,869.9 372.3,869.2 374.4,868.6 376.4,868.0 378.4,867.5 380.4,867.1 382.4,866.8 384.4,866.7 386.5,866.8 388.5,867.0 390.5,867.4 392.5,867.8 394.5,868.4 396.5,869.0 398.6,869.7 400.6,870.3 402.6,871.4 404.6,872.8 406.6,874.5 408.6,876.3 410.7,878.4 412.7,880.4 414.7,882.4 416.7,884.3 418.7,886.4 420.7,888.6 422.7,890.8 424.8,893.2 426.8,895.6 428.8,898.0 430.8,900.4 432.8,902.9 434.8,905.3 436.9,907.3 438.9,909.4 440.9,911.6 442.9,914.1 444.9,917.0 446.9,920.2 449.0,923.6 451.0,927.3 453.0,931.6 455.0,936.2 457.0,940.9 459.0,945.4 461.1,949.5 463.1,953.4 465.1,957.1 467.1,960.6 469.1,964.1 471.1,967.3 473.1,970.4 475.2,973.2 477.2,975.7 479.2,978.1 481.2,980.3 483.2,982.5 485.2,984.5 487.3,986.4 489.3,988.3 491.3,990.0 493.3,991.7 495.3,993.4 497.3,995.2 499.4,997.0 501.4,998.6 503.4,1000.1 505.4,1001.5 507.4,1002.7 509.4,1003.5 511.5,1004.1 513.5,1004.4 515.5,1004.6 517.5,1004.9 519.5,1005.1 521.5,1005.3 523.5,1005.4 525.6,1005.6 527.6,1005.7 529.6,1005.8 531.6,1005.8 533.6,1005.8 535.6,1005.7 537.7,1005.5 539.7,1005.2 541.7,1004.8 543.7,1004.3 545.7,1003.7 547.7,1003.1 549.8,1002.5 551.8,1001.7 553.8,1001.0 555.8,1000.3 557.8,999.6 559.8,998.8 561.9,997.9 563.9,996.9 565.9,995.9 567.9,994.7 569.9,993.5 571.9,992.2 573.9,990.9 576.0,989.5 578.0,988.1 580.0,986.7 582.0,985.4 584.0,984.0 586.0,982.6 588.1,981.2 590.1,979.8 592.1,978.3 594.1,976.8 596.1,975.2 598.1,973.6 600.2,972.0 602.2,970.3 604.2,968.5 606.2,966.7 608.2,964.9 610.2,962.9 612.3,960.7 614.3,958.3 616.3,955.8 618.3,953.2 620.3,950.5 622.3,947.7 624.3,944.9 626.4,942.2 628.4,939.4 630.4,936.8 632.4,934.2 634.4,931.8 636.4,929.3 638.5,926.9 640.5,924.4 642.5,922.0 644.5,919.5 646.5,917.0 648.5,914.4 650.6,911.7 652.6,909.0 654.6,906.2 656.6,903.5 658.6,901.0 660.6,898.7 662.7,896.8 664.7,895.0 666.7,893.2 668.7,891.5 670.7,889.8 672.7,888.1 674.7,886.5 676.8,885.0 678.8,883.5 680.8,882.1 682.8,880.9 684.8,879.6 686.8,878.5 688.9,877.3 690.9,876.2 692.9,875.1 694.9,874.1 696.9,873.1 698.9,872.2 701.0,871.3 703.0,870.5 705.0,869.7 707.0,869.0 709.0,868.4 711.0,867.7 713.1,867.0 715.1,866.4 717.1,865.8 719.1,865.2 721.1,864.7 723.1,864.4 725.1,864.1 727.2,864.0 729.2,864.0 731.2,864.1 733.2,864.3 735.2,864.5 737.2,864.8 739.3,865.1 741.3,865.5 743.3,865.9 745.3,866.3 747.3,866.7 749.3,867.2 751.4,867.9 753.4,868.6 755.4,869.5 757.4,870.5 759.4,871.6 761.4,872.8 763.5,874.1 765.5,875.5 767.5,876.8 769.5,878.3 771.5,880.0 773.5,881.8 775.5,883.9 777.6,886.0 779.6,888.3 781.6,890.8 783.6,893.3 785.6,895.8 787.6,898.5 789.7,901.1 791.7,903.8 793.7,906.5 795.7,909.2 797.7,912.1 799.7,915.1 801.8,918.2 803.8,921.3 805.8,924.6 807.8,927.8 809.8,931.2 811.8,934.5 813.9,937.9 815.9,941.4 817.9,945.1 819.9,948.9 821.9,952.7 823.9,956.6 825.9,960.4 828.0,964.0 830.0,967.5 832.0,970.7 834.0,973.7 836.0,976.6 838.0,979.5 840.1,982.2 842.1,984.9 844.1,987.5 846.1,990.1 848.1,992.5 850.1,994.9 852.2,997.1 854.2,999.2 856.2,1001.3 858.2,1003.2 860.2,1005.0 862.2,1006.8 864.3,1008.5 866.3,1010.2 868.3,1011.8 870.3,1013.4 872.3,1014.9 874.3,1016.3 876.3,1017.6 878.4,1018.9 880.4,1020.1 882.4,1021.2 884.4,1022.2 886.4,1023.2 888.4,1024.2 890.5,1025.2 892.5,1026.2 894.5,1027.1 896.5,1028.1 898.5,1029.0 900.5,1029.8 902.6,1030.7 904.6,1031.5 906.6,1032.2 908.6,1032.9 910.6,1033.6 912.6,1034.2 914.7,1034.8 916.7,1035.3 918.7,1035.7 920.7,1036.1" fill="none" stroke="#000" stroke-width="1.65" stroke-linejoin="round"/>
<polyline points="114.3,797.6 116.3,798.1 118.3,798.7 120.3,799.6 122.4,800.5 124.4,801.5 126.4,802.8 128.4,804.6 130.4,806.7 132.4,809.1 134.5,811.9 136.5,814.9 138.5,817.9 140.5,820.6 142.5,823.1 144.5,825.2 146.6,826.8 148.6,828.0 150.6,829.0 152.6,830.0 154.6,830.9 156.6,831.8 158.7,832.4 160.7,832.7 162.7,832.3 164.7,831.4 166.7,830.3 168.7,829.0 170.7,827.9 172.8,826.5 174.8,824.5 176.8,822.0 178.8,819.3 180.8,816.6 182.8,813.9 184.9,811.5 186.9,809.4 188.9,807.4 190.9,805.5 192.9,803.7 194.9,802.0 197.0,800.4 199.0,799.1 201.0,798.0 203.0,797.1 205.0,796.3 207.0,795.6 209.1,795.0 211.1,794.4 213.1,794.0 215.1,793.8 217.1,793.8 219.1,794.1 221.1,794.5 223.2,795.2 225.2,795.9 227.2,796.8 229.2,797.8 231.2,798.8 233.2,799.9 235.3,801.1 237.3,802.5 239.3,804.0 241.3,805.7 243.3,807.4 245.3,809.3 247.4,811.2 249.4,813.2 251.4,815.3 253.4,817.4 255.4,819.6 257.4,821.7 259.5,823.8 261.5,826.0 263.5,828.2 265.5,830.5 267.5,832.8 269.5,835.1 271.5,837.4 273.6,839.7 275.6,841.9 277.6,844.1 279.6,846.2 281.6,848.3 283.6,850.3 285.7,852.3 287.7,854.4 289.7,856.4 291.7,858.3 293.7,860.2 295.7,862.0 297.8,863.7 299.8,865.3 301.8,866.9 303.8,868.2 305.8,869.5 307.8,870.8 309.9,872.0 311.9,873.1 313.9,874.2 315.9,875.2 317.9,876.1 319.9,876.9 321.9,877.6 324.0,878.1 326.0,878.5 328.0,878.7 330.0,878.7 332.0,878.6 334.0,878.4 336.1,878.2 338.1,877.8 340.1,877.5 342.1,877.1 344.1,876.7 346.1,876.1 348.2,875.3 350.2,874.3 352.2,873.2 354.2,871.9 356.2,870.6 358.2,869.3 360.3,868.1 362.3,866.9 364.3,865.8 366.3,864.9 368.3,864.2 370.3,863.6 372.3,862.9 374.4,862.2 376.4,861.6 378.4,861.1 380.4,860.7 382.4,860.5 384.4,860.4 386.5,860.5 388.5,860.8 390.5,861.1 392.5,861.6 394.5,862.2 396.5,862.9 398.6,863.5 400.6,864.3 402.6,865.4 404.6,866.8 406.6,868.6 408.6,870.6 410.7,872.8 412.7,874.9 414.7,877.0 416.7,879.1 418.7,881.3 420.7,883.6 422.7,886.0 424.8,888.4 426.8,890.9 428.8,893.5 430.8,896.0 432.8,898.7 434.8,901.2 436.9,903.5 438.9,905.7 440.9,908.0 442.9,910.7 444.9,913.6 446.9,916.8 449.0,920.3 451.0,924.0 453.0,928.1 455.0,932.5 457.0,937.1 459.0,941.5 461.1,945.5 463.1,949.3 465.1,953.0 467.1,956.6 469.1,960.0 471.1,963.3 473.1,966.4 475.2,969.3 477.2,971.8 479.2,974.2 481.2,976.5 483.2,978.6 485.2,980.7 487.3,982.6 489.3,984.4 491.3,986.2 493.3,987.9 495.3,989.7 497.3,991.5 499.4,993.2 501.4,994.9 503.4,996.5 505.4,997.8 507.4,999.0 509.4,999.9 511.5,1000.5 513.5,1000.8 515.5,1001.0 517.5,1001.2 519.5,1001.5 521.5,1001.7 523.5,1001.8 525.6,1002.0 527.6,1002.1 529.6,1002.2 531.6,1002.2 533.6,1002.2 535.6,1002.1 537.7,1001.9 539.7,1001.6 541.7,1001.2 543.7,1000.8 545.7,1000.2 547.7,999.6 549.8,999.0 551.8,998.3 553.8,997.6 555.8,996.9 557.8,996.2 559.8,995.5 561.9,994.6 563.9,993.6 565.9,992.6 567.9,991.5 569.9,990.3 571.9,989.0 573.9,987.7 576.0,986.4 578.0,985.0 580.0,983.7 582.0,982.3 584.0,981.0 586.0,979.7 588.1,978.3 590.1,976.8 592.1,975.4 594.1,973.9 596.1,972.3 598.1,970.8 600.2,969.1 602.2,967.5 604.2,965.8 606.2,964.0 608.2,962.2 610.2,960.3 612.3,958.2 614.3,955.9 616.3,953.5 618.3,951.0 620.3,948.4 622.3,945.8 624.3,943.2 626.4,940.5 628.4,937.9 630.4,935.4 632.4,932.9 634.4,930.6 636.4,928.2 638.5,925.8 640.5,923.5 642.5,921.1 644.5,918.7 646.5,916.3 648.5,913.8 650.6,911.2 652.6,908.6 654.6,905.9 656.6,903.4 658.6,900.9 660.6,898.7 662.7,896.8 664.7,895.0 666.7,893.2 668.7,891.5 670.7,889.8 672.7,888.1 674.7,886.5 676.8,885.0 678.8,883.5 680.8,882.1 682.8,880.8 684.8,879.6 686.8,878.4 688.9,877.3 690.9,876.2 692.9,875.1 694.9,874.0 696.9,873.0 698.9,872.1 701.0,871.2 703.0,870.4 705.0,869.6 707.0,868.9 709.0,868.3 711.0,867.6 713.1,866.9 715.1,866.3 717.1,865.7 719.1,865.1 721.1,864.6 723.1,864.2 725.1,864.0 727.2,863.8 729.2,863.9 731.2,864.0 733.2,864.1 735.2,864.4 737.2,864.6 739.3,865.0 741.3,865.3 743.3,865.7 745.3,866.1 747.3,866.5 749.3,867.0 751.4,867.6 753.4,868.4 755.4,869.3 757.4,870.3 759.4,871.4 761.4,872.6 763.5,873.9 765.5,875.2 767.5,876.6 769.5,878.0 771.5,879.7 773.5,881.5 775.5,883.6 777.6,885.7 779.6,888.0 781.6,890.4 783.6,892.9 785.6,895.5 787.6,898.1 789.7,900.7 791.7,903.4 793.7,906.0 795.7,908.8 797.7,911.7 799.7,914.6 801.8,917.7 803.8,920.9 805.8,924.1 807.8,927.3 809.8,930.6 811.8,934.0 813.9,937.3 815.9,940.8 817.9,944.5 819.9,948.3 821.9,952.1 823.9,956.0 825.9,959.7 828.0,963.4 830.0,966.8 832.0,970.1 834.0,973.1 836.0,975.9 838.0,978.8 840.1,981.5 842.1,984.2 844.1,986.8 846.1,989.3 848.1,991.8 850.1,994.1 852.2,996.3 854.2,998.5 856.2,1000.5 858.2,1002.4 860.2,1004.2 862.2,1006.0 864.3,1007.7 866.3,1009.3 868.3,1011.0 870.3,1012.5 872.3,1014.0 874.3,1015.4 876.3,1016.7 878.4,1018.0 880.4,1019.2 882.4,1020.2 884.4,1021.3 886.4,1022.3 888.4,1023.2 890.5,1024.2 892.5,1025.2 894.5,1026.1 896.5,1027.0 898.5,1027.9 900.5,1028.8 902.6,1029.6 904.6,1030.3 906.6,1031.1 908.6,1031.8 910.6,1032.4 912.6,1033.0 914.7,1033.6 916.7,1034.1 918.7,1034.5 920.7,1034.8" fill="none" stroke="#000" stroke-width="1.65" stroke-linejoin="round"/>
<polyline points="114.3,795.9 116.3,796.6 118.3,797.4 120.3,798.4 122.4,799.5 124.4,800.6 126.4,802.0 128.4,803.8 130.4,805.9 132.4,808.2 134.5,811.0 136.5,813.9 138.5,816.8 140.5,819.6 142.5,822.1 144.5,824.2 146.6,825.8 148.6,826.9 150.6,827.9 152.6,828.9 154.6,829.7 156.6,830.5 158.7,831.1 160.7,831.2 162.7,830.7 164.7,829.8 166.7,828.6 168.7,827.3 170.7,826.0 172.8,824.5 174.8,822.4 176.8,819.8 178.8,817.0 180.8,814.1 182.8,811.4 184.9,808.8 186.9,806.7 188.9,804.7 190.9,802.7 192.9,800.8 194.9,799.1 197.0,797.4 199.0,796.0 201.0,794.9 203.0,794.0 205.0,793.1 207.0,792.4 209.1,791.6 211.1,791.0 213.1,790.6 215.1,790.3 217.1,790.3 219.1,790.5 221.1,790.9 223.2,791.5 225.2,792.2 227.2,793.1 229.2,794.0 231.2,794.9 233.2,796.0 235.3,797.1 237.3,798.4 239.3,799.9 241.3,801.5 243.3,803.2 245.3,805.0 247.4,806.9 249.4,808.9 251.4,810.9 253.4,813.0 255.4,815.0 257.4,817.0 259.5,819.1 261.5,821.2 263.5,823.4 265.5,825.6 267.5,827.8 269.5,830.1 271.5,832.3 273.6,834.6 275.6,836.7 277.6,838.9 279.6,840.9 281.6,842.9 283.6,844.9 285.7,846.9 287.7,848.8 289.7,850.8 291.7,852.7 293.7,854.5 295.7,856.3 297.8,857.9 299.8,859.5 301.8,861.0 303.8,862.3 305.8,863.6 307.8,864.8 309.9,866.0 311.9,867.1 313.9,868.1 315.9,869.1 317.9,870.0 319.9,870.8 321.9,871.5 324.0,872.0 326.0,872.4 328.0,872.5 330.0,872.5 332.0,872.4 334.0,872.2 336.1,872.0 338.1,871.6 340.1,871.2 342.1,870.8 344.1,870.4 346.1,869.8 348.2,869.0 350.2,867.9 352.2,866.8 354.2,865.5 356.2,864.2 358.2,862.9 360.3,861.6 362.3,860.4 364.3,859.3 366.3,858.4 368.3,857.7 370.3,857.0 372.3,856.3 374.4,855.7 376.4,855.1 378.4,854.6 380.4,854.2 382.4,854.0 384.4,853.9 386.5,854.0 388.5,854.3 390.5,854.7 392.5,855.2 394.5,855.8 396.5,856.5 398.6,857.2 400.6,858.0 402.6,859.1 404.6,860.7 406.6,862.6 408.6,864.7 410.7,867.0 412.7,869.3 414.7,871.5 416.7,873.7 418.7,876.0 420.7,878.4 422.7,880.9 424.8,883.5 426.8,886.1 428.8,888.8 430.8,891.5 432.8,894.3 434.8,897.0 436.9,899.5 438.9,902.0 440.9,904.6 442.9,907.4 444.9,910.5 446.9,913.8 449.0,917.3 451.0,921.0 453.0,925.0 455.0,929.3 457.0,933.7 459.0,938.0 461.1,942.0 463.1,945.7 465.1,949.4 467.1,953.0 469.1,956.5 471.1,959.8 473.1,962.9 475.2,965.8 477.2,968.3 479.2,970.7 481.2,973.0 483.2,975.2 485.2,977.3 487.3,979.2 489.3,981.1 491.3,982.8 493.3,984.6 495.3,986.4 497.3,988.2 499.4,990.0 501.4,991.7 503.4,993.2 505.4,994.6 507.4,995.8 509.4,996.7 511.5,997.3 513.5,997.6 515.5,997.8 517.5,998.1 519.5,998.3 521.5,998.5 523.5,998.6 525.6,998.8 527.6,998.9 529.6,999.0 531.6,999.0 533.6,999.0 535.6,998.9 537.7,998.7 539.7,998.5 541.7,998.1 543.7,997.6 545.7,997.1 547.7,996.5 549.8,995.9 551.8,995.2 553.8,994.6 555.8,993.9 557.8,993.2 559.8,992.5 561.9,991.7 563.9,990.7 565.9,989.7 567.9,988.6 569.9,987.4 571.9,986.2 573.9,984.9 576.0,983.6 578.0,982.3 580.0,981.0 582.0,979.7 584.0,978.4 586.0,977.0 588.1,975.7 590.1,974.2 592.1,972.8 594.1,971.3 596.1,969.8 598.1,968.2 600.2,966.6 602.2,965.0 604.2,963.3 606.2,961.6 608.2,959.8 610.2,958.0 612.3,955.9 614.3,953.7 616.3,951.4 618.3,949.1 620.3,946.6 622.3,944.1 624.3,941.6 626.4,939.1 628.4,936.6 630.4,934.2 632.4,931.8 634.4,929.5 636.4,927.2 638.5,924.9 640.5,922.6 642.5,920.3 644.5,918.0 646.5,915.7 648.5,913.3 650.6,910.8 652.6,908.2 654.6,905.7 656.6,903.2 658.6,900.9 660.6,898.7 662.7,896.8 664.7,895.0 666.7,893.2 668.7,891.5 670.7,889.8 672.7,888.1 674.7,886.5 676.8,884.9 678.8,883.5 680.8,882.1 682.8,880.8 684.8,879.6 686.8,878.4 688.9,877.2 690.9,876.1 692.9,875.0 694.9,874.0 696.9,873.0 698.9,872.0 701.0,871.1 703.0,870.3 705.0,869.5 707.0,868.8 709.0,868.2 711.0,867.5 713.1,866.8 715.1,866.2 717.1,865.5 719.1,865.0 721.1,864.5 723.1,864.1 725.1,863.8 727.2,863.7 729.2,863.7 731.2,863.8 733.2,864.0 735.2,864.2 737.2,864.5 739.3,864.8 741.3,865.1 743.3,865.5 745.3,865.9 747.3,866.4 749.3,866.8 751.4,867.5 753.4,868.2 755.4,869.1 757.4,870.1 759.4,871.2 761.4,872.4 763.5,873.7 765.5,875.0 767.5,876.3 769.5,877.8 771.5,879.4 773.5,881.3 775.5,883.3 777.6,885.4 779.6,887.7 781.6,890.1 783.6,892.6 785.6,895.1 787.6,897.7 789.7,900.4 791.7,903.0 793.7,905.7 795.7,908.4 797.7,911.3 799.7,914.2 801.8,917.3 803.8,920.4 805.8,923.6 807.8,926.9 809.8,930.2 811.8,933.5 813.9,936.8 815.9,940.3 817.9,944.0 819.9,947.8 821.9,951.6 823.9,955.4 825.9,959.2 828.0,962.8 830.0,966.3 832.0,969.5 834.0,972.5 836.0,975.3 838.0,978.2 840.1,980.9 842.1,983.6 844.1,986.2 846.1,988.7 848.1,991.1 850.1,993.5 852.2,995.7 854.2,997.8 856.2,999.8 858.2,1001.7 860.2,1003.5 862.2,1005.2 864.3,1006.9 866.3,1008.6 868.3,1010.2 870.3,1011.7 872.3,1013.2 874.3,1014.6 876.3,1015.9 878.4,1017.2 880.4,1018.3 882.4,1019.4 884.4,1020.4 886.4,1021.4 888.4,1022.4 890.5,1023.3 892.5,1024.3 894.5,1025.2 896.5,1026.1 898.5,1026.9 900.5,1027.8 902.6,1028.6 904.6,1029.4 906.6,1030.1 908.6,1030.8 910.6,1031.4 912.6,1032.0 914.7,1032.5 916.7,1033.0 918.7,1033.4 920.7,1033.7" fill="none" stroke="#000" stroke-width="1.65" stroke-linejoin="round"/>
<polyline points="114.3,794.8 116.3,795.6 118.3,796.5 120.3,797.6 122.4,798.8 124.4,800.0 126.4,801.5 128.4,803.3 130.4,805.3 132.4,807.6 134.5,810.3 136.5,813.1 138.5,816.0 140.5,818.8 142.5,821.3 144.5,823.4 146.6,825.0 148.6,826.0 150.6,827.0 152.6,827.9 154.6,828.7 156.6,829.4 158.7,829.9 160.7,830.0 162.7,829.5 164.7,828.5 166.7,827.2 168.7,825.9 170.7,824.5 172.8,822.9 174.8,820.7 176.8,818.1 178.8,815.3 180.8,812.3 182.8,809.5 184.9,806.9 186.9,804.7 188.9,802.6 190.9,800.7 192.9,798.7 194.9,796.9 197.0,795.3 199.0,793.8 201.0,792.6 203.0,791.7 205.0,790.9 207.0,790.0 209.1,789.3 211.1,788.6 213.1,788.1 215.1,787.9 217.1,787.8 219.1,788.0 221.1,788.4 223.2,788.9 225.2,789.6 227.2,790.4 229.2,791.2 231.2,792.2 233.2,793.1 235.3,794.2 237.3,795.5 239.3,796.9 241.3,798.5 243.3,800.2 245.3,801.9 247.4,803.8 249.4,805.7 251.4,807.7 253.4,809.8 255.4,811.8 257.4,813.7 259.5,815.7 261.5,817.8 263.5,819.9 265.5,822.1 267.5,824.3 269.5,826.5 271.5,828.7 273.6,830.9 275.6,833.0 277.6,835.1 279.6,837.2 281.6,839.1 283.6,841.0 285.7,843.0 287.7,844.9 289.7,846.8 291.7,848.7 293.7,850.5 295.7,852.2 297.8,853.8 299.8,855.4 301.8,856.8 303.8,858.1 305.8,859.3 307.8,860.5 309.9,861.7 311.9,862.8 313.9,863.8 315.9,864.8 317.9,865.7 319.9,866.5 321.9,867.1 324.0,867.6 326.0,868.0 328.0,868.2 330.0,868.1 332.0,868.0 334.0,867.8 336.1,867.5 338.1,867.2 340.1,866.8 342.1,866.3 344.1,865.9 346.1,865.3 348.2,864.4 350.2,863.4 352.2,862.2 354.2,860.9 356.2,859.6 358.2,858.2 360.3,856.9 362.3,855.7 364.3,854.6 366.3,853.7 368.3,853.0 370.3,852.3 372.3,851.6 374.4,851.0 376.4,850.4 378.4,849.9 380.4,849.5 382.4,849.3 384.4,849.3 386.5,849.4 388.5,849.7 390.5,850.1 392.5,850.6 394.5,851.2 396.5,851.9 398.6,852.7 400.6,853.5 402.6,854.7 404.6,856.3 406.6,858.3 408.6,860.5 410.7,862.8 412.7,865.2 414.7,867.6 416.7,869.8 418.7,872.2 420.7,874.7 422.7,877.3 424.8,880.0 426.8,882.7 428.8,885.5 430.8,888.3 432.8,891.1 434.8,893.9 436.9,896.6 438.9,899.2 440.9,901.9 442.9,904.8 444.9,907.9 446.9,911.2 449.0,914.7 451.0,918.4 453.0,922.3 455.0,926.5 457.0,930.8 459.0,935.0 461.1,938.8 463.1,942.6 465.1,946.2 467.1,949.8 469.1,953.3 471.1,956.7 473.1,959.8 475.2,962.7 477.2,965.3 479.2,967.7 481.2,970.0 483.2,972.2 485.2,974.3 487.3,976.2 489.3,978.1 491.3,979.9 493.3,981.6 495.3,983.4 497.3,985.3 499.4,987.1 501.4,988.8 503.4,990.3 505.4,991.8 507.4,992.9 509.4,993.9 511.5,994.5 513.5,994.8 515.5,995.0 517.5,995.2 519.5,995.5 521.5,995.7 523.5,995.8 525.6,996.0 527.6,996.1 529.6,996.2 531.6,996.2 533.6,996.2 535.6,996.1 537.7,995.9 539.7,995.7 541.7,995.3 543.7,994.8 545.7,994.3 547.7,993.8 549.8,993.2 551.8,992.6 553.8,991.9 555.8,991.2 557.8,990.6 559.8,989.9 561.9,989.1 563.9,988.2 565.9,987.1 567.9,986.1 569.9,984.9 571.9,983.7 573.9,982.5 576.0,981.2 578.0,979.9 580.0,978.6 582.0,977.3 584.0,976.0 586.0,974.7 588.1,973.4 590.1,972.0 592.1,970.5 594.1,969.1 596.1,967.6 598.1,966.0 600.2,964.5 602.2,962.8 604.2,961.2 606.2,959.5 608.2,957.8 610.2,955.9 612.3,953.9 614.3,951.8 616.3,949.6 618.3,947.3 620.3,945.0 622.3,942.6 624.3,940.2 626.4,937.8 628.4,935.4 630.4,933.1 632.4,930.8 634.4,928.6 636.4,926.4 638.5,924.1 640.5,921.9 642.5,919.7 644.5,917.4 646.5,915.2 648.5,912.8 650.6,910.4 652.6,907.9 654.6,905.5 656.6,903.1 658.6,900.8 660.6,898.7 662.7,896.8 664.7,895.0 666.7,893.2 668.7,891.5 670.7,889.8 672.7,888.1 674.7,886.5 676.8,884.9 678.8,883.5 680.8,882.1 682.8,880.8 684.8,879.6 686.8,878.4 688.9,877.2 690.9,876.1 692.9,875.0 694.9,873.9 696.9,872.9 698.9,872.0 701.0,871.1 703.0,870.2 705.0,869.4 707.0,868.7 709.0,868.1 711.0,867.4 713.1,866.7 715.1,866.1 717.1,865.4 719.1,864.9 721.1,864.4 723.1,864.0 725.1,863.7 727.2,863.6 729.2,863.6 731.2,863.7 733.2,863.9 735.2,864.1 737.2,864.3 739.3,864.7 741.3,865.0 743.3,865.4 745.3,865.8 747.3,866.2 749.3,866.7 751.4,867.3 753.4,868.1 755.4,868.9 757.4,869.9 759.4,871.0 761.4,872.2 763.5,873.5 765.5,874.8 767.5,876.1 769.5,877.6 771.5,879.2 773.5,881.1 775.5,883.0 777.6,885.2 779.6,887.5 781.6,889.8 783.6,892.3 785.6,894.9 787.6,897.5 789.7,900.1 791.7,902.7 793.7,905.3 795.7,908.1 797.7,910.9 799.7,913.9 801.8,916.9 803.8,920.1 805.8,923.3 807.8,926.5 809.8,929.8 811.8,933.1 813.9,936.4 815.9,939.9 817.9,943.6 819.9,947.3 821.9,951.2 823.9,955.0 825.9,958.7 828.0,962.3 830.0,965.8 832.0,969.0 834.0,972.0 836.0,974.8 838.0,977.6 840.1,980.4 842.1,983.0 844.1,985.6 846.1,988.1 848.1,990.6 850.1,992.9 852.2,995.1 854.2,997.2 856.2,999.2 858.2,1001.1 860.2,1002.9 862.2,1004.6 864.3,1006.3 866.3,1008.0 868.3,1009.5 870.3,1011.1 872.3,1012.5 874.3,1013.9 876.3,1015.2 878.4,1016.5 880.4,1017.6 882.4,1018.7 884.4,1019.7 886.4,1020.6 888.4,1021.6 890.5,1022.5 892.5,1023.5 894.5,1024.4 896.5,1025.3 898.5,1026.1 900.5,1026.9 902.6,1027.7 904.6,1028.5 906.6,1029.2 908.6,1029.8 910.6,1030.5 912.6,1031.0 914.7,1031.5 916.7,1032.0 918.7,1032.4 920.7,1032.7" fill="none" stroke="#000" stroke-width="1.65" stroke-linejoin="round"/>
<polyline points="114.3,793.4 116.3,794.4 118.3,795.4 120.3,796.6 122.4,797.9 124.4,799.3 126.4,800.8 128.4,802.7 130.4,804.7 132.4,807.0 134.5,809.6 136.5,812.5 138.5,815.5 140.5,818.2 142.5,820.8 144.5,822.9 146.6,824.5 148.6,825.5 150.6,826.5 152.6,827.4 154.6,828.2 156.6,828.9 158.7,829.3 160.7,829.4 162.7,828.8 164.7,827.7 166.7,826.4 168.7,824.9 170.7,823.5 172.8,821.8 174.8,819.5 176.8,816.8 178.8,813.8 180.8,810.8 182.8,807.8 184.9,805.1 186.9,802.9 188.9,800.8 190.9,798.7 192.9,796.7 194.9,794.9 197.0,793.2 199.0,791.7 201.0,790.4 203.0,789.5 205.0,788.6 207.0,787.7 209.1,786.9 211.1,786.2 213.1,785.7 215.1,785.4 217.1,785.3 219.1,785.4 221.1,785.8 223.2,786.3 225.2,786.9 227.2,787.7 229.2,788.5 231.2,789.4 233.2,790.3 235.3,791.3 237.3,792.5 239.3,793.9 241.3,795.5 243.3,797.1 245.3,798.9 247.4,800.7 249.4,802.6 251.4,804.6 253.4,806.5 255.4,808.5 257.4,810.4 259.5,812.4 261.5,814.4 263.5,816.5 265.5,818.6 267.5,820.8 269.5,822.9 271.5,825.1 273.6,827.2 275.6,829.3 277.6,831.4 279.6,833.4 281.6,835.3 283.6,837.2 285.7,839.1 287.7,840.9 289.7,842.8 291.7,844.6 293.7,846.4 295.7,848.1 297.8,849.7 299.8,851.2 301.8,852.6 303.8,853.9 305.8,855.1 307.8,856.2 309.9,857.3 311.9,858.4 313.9,859.5 315.9,860.4 317.9,861.3 319.9,862.1 321.9,862.8 324.0,863.3 326.0,863.6 328.0,863.8 330.0,863.7 332.0,863.6 334.0,863.4 336.1,863.1 338.1,862.7 340.1,862.3 342.1,861.9 344.1,861.4 346.1,860.8 348.2,859.9 350.2,858.9 352.2,857.7 354.2,856.4 356.2,855.0 358.2,853.6 360.3,852.3 362.3,851.0 364.3,849.9 366.3,849.0 368.3,848.3 370.3,847.6 372.3,847.0 374.4,846.3 376.4,845.7 378.4,845.2 380.4,844.9 382.4,844.7 384.4,844.6 386.5,844.8 388.5,845.0 390.5,845.5 392.5,846.0 394.5,846.7 396.5,847.4 398.6,848.2 400.6,849.0 402.6,850.2 404.6,851.9 406.6,854.0 408.6,856.3 410.7,858.7 412.7,861.2 414.7,863.6 416.7,866.0 418.7,868.4 420.7,871.0 422.7,873.7 424.8,876.5 426.8,879.3 428.8,882.2 430.8,885.0 432.8,888.0 434.8,890.9 436.9,893.7 438.9,896.5 440.9,899.3 442.9,902.3 444.9,905.5 446.9,908.9 449.0,912.4 451.0,916.0 453.0,920.0 455.0,924.0 457.0,928.2 459.0,932.2 461.1,936.1 463.1,939.8 465.1,943.4 467.1,947.0 469.1,950.5 471.1,953.9 473.1,957.1 475.2,960.0 477.2,962.6 479.2,965.0 481.2,967.3 483.2,969.5 485.2,971.6 487.3,973.6 489.3,975.5 491.3,977.3 493.3,979.0 495.3,980.9 497.3,982.7 499.4,984.5 501.4,986.2 503.4,987.8 505.4,989.2 507.4,990.4 509.4,991.4 511.5,992.0 513.5,992.3 515.5,992.5 517.5,992.8 519.5,993.0 521.5,993.2 523.5,993.3 525.6,993.5 527.6,993.6 529.6,993.7 531.6,993.7 533.6,993.7 535.6,993.6 537.7,993.5 539.7,993.2 541.7,992.8 543.7,992.4 545.7,991.9 547.7,991.4 549.8,990.8 551.8,990.2 553.8,989.5 555.8,988.9 557.8,988.3 559.8,987.6 561.9,986.8 563.9,985.9 565.9,984.9 567.9,983.8 569.9,982.7 571.9,981.5 573.9,980.3 576.0,979.0 578.0,977.8 580.0,976.5 582.0,975.2 584.0,973.9 586.0,972.7 588.1,971.3 590.1,969.9 592.1,968.5 594.1,967.1 596.1,965.6 598.1,964.1 600.2,962.5 602.2,960.9 604.2,959.3 606.2,957.6 608.2,955.9 610.2,954.1 612.3,952.2 614.3,950.2 616.3,948.0 618.3,945.8 620.3,943.6 622.3,941.3 624.3,939.0 626.4,936.7 628.4,934.4 630.4,932.1 632.4,929.9 634.4,927.8 636.4,925.6 638.5,923.4 640.5,921.3 642.5,919.1 644.5,916.9 646.5,914.7 648.5,912.4 650.6,910.1 652.6,907.7 654.6,905.3 656.6,903.0 658.6,900.7 660.6,898.7 662.7,896.8 664.7,895.0 666.7,893.2 668.7,891.5 670.7,889.8 672.7,888.1 674.7,886.5 676.8,884.9 678.8,883.4 680.8,882.1 682.8,880.8 684.8,879.5 686.8,878.3 688.9,877.2 690.9,876.0 692.9,874.9 694.9,873.9 696.9,872.9 698.9,871.9 701.0,871.0 703.0,870.2 705.0,869.4 707.0,868.7 709.0,868.0 711.0,867.3 713.1,866.6 715.1,866.0 717.1,865.4 719.1,864.8 721.1,864.3 723.1,863.9 725.1,863.6 727.2,863.5 729.2,863.5 731.2,863.6 733.2,863.8 735.2,864.0 737.2,864.2 739.3,864.5 741.3,864.9 743.3,865.3 745.3,865.7 747.3,866.1 749.3,866.5 751.4,867.2 753.4,867.9 755.4,868.8 757.4,869.8 759.4,870.9 761.4,872.0 763.5,873.3 765.5,874.6 767.5,876.0 769.5,877.4 771.5,879.0 773.5,880.8 775.5,882.8 777.6,885.0 779.6,887.2 781.6,889.6 783.6,892.1 785.6,894.6 787.6,897.2 789.7,899.8 791.7,902.4 793.7,905.1 795.7,907.8 797.7,910.6 799.7,913.6 801.8,916.6 803.8,919.7 805.8,922.9 807.8,926.1 809.8,929.4 811.8,932.7 813.9,936.0 815.9,939.5 817.9,943.2 819.9,946.9 821.9,950.7 823.9,954.5 825.9,958.3 828.0,961.9 830.0,965.3 832.0,968.5 834.0,971.5 836.0,974.4 838.0,977.2 840.1,979.9 842.1,982.6 844.1,985.1 846.1,987.6 848.1,990.0 850.1,992.4 852.2,994.6 854.2,996.7 856.2,998.6 858.2,1000.5 860.2,1002.3 862.2,1004.0 864.3,1005.7 866.3,1007.4 868.3,1009.0 870.3,1010.5 872.3,1011.9 874.3,1013.3 876.3,1014.6 878.4,1015.8 880.4,1017.0 882.4,1018.0 884.4,1019.0 886.4,1020.0 888.4,1020.9 890.5,1021.8 892.5,1022.8 894.5,1023.7 896.5,1024.5 898.5,1025.4 900.5,1026.2 902.6,1027.0 904.6,1027.7 906.6,1028.4 908.6,1029.0 910.6,1029.6 912.6,1030.2 914.7,1030.7 916.7,1031.1 918.7,1031.5 920.7,1031.8" fill="none" stroke="#000" stroke-width="1.65" stroke-linejoin="round"/>
<polyline points="114.3,792.0 116.3,793.1 118.3,794.3 120.3,795.7 122.4,797.1 124.4,798.5 126.4,800.2 128.4,802.1 130.4,804.1 132.4,806.4 134.5,809.0 136.5,811.9 138.5,814.9 140.5,817.7 142.5,820.2 144.5,822.4 146.6,824.0 148.6,825.1 150.6,826.0 152.6,826.9 154.6,827.7 156.6,828.4 158.7,828.8 160.7,828.7 162.7,828.1 164.7,827.0 166.7,825.6 168.7,824.0 170.7,822.5 172.8,820.7 174.8,818.3 176.8,815.4 178.8,812.4 180.8,809.2 182.8,806.2 184.9,803.4 186.9,801.1 188.9,798.9 190.9,796.8 192.9,794.8 194.9,792.8 197.0,791.1 199.0,789.5 201.0,788.2 203.0,787.2 205.0,786.3 207.0,785.4 209.1,784.5 211.1,783.8 213.1,783.3 215.1,782.9 217.1,782.8 219.1,782.9 221.1,783.2 223.2,783.7 225.2,784.3 227.2,785.0 229.2,785.8 231.2,786.6 233.2,787.5 235.3,788.5 237.3,789.6 239.3,791.0 241.3,792.5 243.3,794.1 245.3,795.8 247.4,797.6 249.4,799.5 251.4,801.4 253.4,803.3 255.4,805.3 257.4,807.1 259.5,809.0 261.5,811.0 263.5,813.1 265.5,815.1 267.5,817.2 269.5,819.4 271.5,821.5 273.6,823.6 275.6,825.6 277.6,827.7 279.6,829.6 281.6,831.4 283.6,833.3 285.7,835.1 287.7,837.0 289.7,838.8 291.7,840.6 293.7,842.3 295.7,844.0 297.8,845.6 299.8,847.0 301.8,848.4 303.8,849.7 305.8,850.8 307.8,851.9 309.9,853.0 311.9,854.1 313.9,855.1 315.9,856.1 317.9,857.0 319.9,857.7 321.9,858.4 324.0,858.9 326.0,859.2 328.0,859.4 330.0,859.3 332.0,859.2 334.0,859.0 336.1,858.7 338.1,858.3 340.1,857.9 342.1,857.4 344.1,856.9 346.1,856.3 348.2,855.4 350.2,854.3 352.2,853.1 354.2,851.8 356.2,850.4 358.2,849.0 360.3,847.6 362.3,846.4 364.3,845.3 366.3,844.3 368.3,843.6 370.3,842.9 372.3,842.3 374.4,841.6 376.4,841.0 378.4,840.6 380.4,840.2 382.4,840.0 384.4,840.0 386.5,840.1 388.5,840.4 390.5,840.9 392.5,841.4 394.5,842.1 396.5,842.8 398.6,843.6 400.6,844.5 402.6,845.8 404.6,847.5 406.6,849.7 408.6,852.0 410.7,854.6 412.7,857.1 414.7,859.7 416.7,862.1 418.7,864.7 420.7,867.3 422.7,870.1 424.8,873.0 426.8,875.9 428.8,878.8 430.8,881.8 432.8,884.9 434.8,887.9 436.9,890.9 438.9,893.8 440.9,896.9 442.9,900.0 444.9,903.3 446.9,906.8 449.0,910.3 451.0,914.0 453.0,917.9 455.0,921.9 457.0,925.9 459.0,929.9 461.1,933.6 463.1,937.3 465.1,941.0 467.1,944.6 469.1,948.1 471.1,951.5 473.1,954.6 475.2,957.5 477.2,960.2 479.2,962.6 481.2,965.0 483.2,967.2 485.2,969.3 487.3,971.3 489.3,973.2 491.3,975.0 493.3,976.7 495.3,978.6 497.3,980.4 499.4,982.3 501.4,984.0 503.4,985.6 505.4,987.0 507.4,988.2 509.4,989.2 511.5,989.8 513.5,990.1 515.5,990.3 517.5,990.6 519.5,990.8 521.5,991.0 523.5,991.1 525.6,991.3 527.6,991.4 529.6,991.5 531.6,991.5 533.6,991.5 535.6,991.5 537.7,991.3 539.7,991.0 541.7,990.7 543.7,990.3 545.7,989.8 547.7,989.2 549.8,988.7 551.8,988.1 553.8,987.5 555.8,986.8 557.8,986.2 559.8,985.5 561.9,984.8 563.9,983.9 565.9,982.9 567.9,981.9 569.9,980.8 571.9,979.6 573.9,978.4 576.0,977.2 578.0,975.9 580.0,974.6 582.0,973.4 584.0,972.1 586.0,970.8 588.1,969.5 590.1,968.2 592.1,966.8 594.1,965.3 596.1,963.9 598.1,962.3 600.2,960.8 602.2,959.2 604.2,957.6 606.2,956.0 608.2,954.3 610.2,952.5 612.3,950.6 614.3,948.7 616.3,946.6 618.3,944.5 620.3,942.3 622.3,940.1 624.3,937.9 626.4,935.7 628.4,933.5 630.4,931.3 632.4,929.2 634.4,927.1 636.4,924.9 638.5,922.8 640.5,920.7 642.5,918.6 644.5,916.4 646.5,914.3 648.5,912.1 650.6,909.8 652.6,907.5 654.6,905.1 656.6,902.9 658.6,900.7 660.6,898.6 662.7,896.8 664.7,895.0 666.7,893.2 668.7,891.5 670.7,889.8 672.7,888.1 674.7,886.5 676.8,884.9 678.8,883.4 680.8,882.0 682.8,880.7 684.8,879.5 686.8,878.3 688.9,877.1 690.9,876.0 692.9,874.9 694.9,873.8 696.9,872.8 698.9,871.9 701.0,871.0 703.0,870.1 705.0,869.3 707.0,868.6 709.0,867.9 711.0,867.3 713.1,866.6 715.1,865.9 717.1,865.3 719.1,864.7 721.1,864.2 723.1,863.8 725.1,863.5 727.2,863.4 729.2,863.4 731.2,863.5 733.2,863.7 735.2,863.9 737.2,864.1 739.3,864.4 741.3,864.8 743.3,865.1 745.3,865.5 747.3,866.0 749.3,866.4 751.4,867.0 753.4,867.8 755.4,868.7 757.4,869.6 759.4,870.7 761.4,871.9 763.5,873.1 765.5,874.4 767.5,875.8 769.5,877.2 771.5,878.9 773.5,880.7 775.5,882.7 777.6,884.8 779.6,887.0 781.6,889.4 783.6,891.9 785.6,894.4 787.6,897.0 789.7,899.6 791.7,902.2 793.7,904.8 795.7,907.5 797.7,910.4 799.7,913.3 801.8,916.3 803.8,919.4 805.8,922.6 807.8,925.8 809.8,929.1 811.8,932.4 813.9,935.7 815.9,939.2 817.9,942.8 819.9,946.6 821.9,950.4 823.9,954.2 825.9,957.9 828.0,961.5 830.0,965.0 832.0,968.2 834.0,971.1 836.0,974.0 838.0,976.7 840.1,979.5 842.1,982.1 844.1,984.7 846.1,987.2 848.1,989.6 850.1,991.9 852.2,994.1 854.2,996.2 856.2,998.2 858.2,1000.0 860.2,1001.8 862.2,1003.5 864.3,1005.2 866.3,1006.9 868.3,1008.4 870.3,1009.9 872.3,1011.4 874.3,1012.8 876.3,1014.1 878.4,1015.3 880.4,1016.4 882.4,1017.4 884.4,1018.4 886.4,1019.4 888.4,1020.3 890.5,1021.2 892.5,1022.1 894.5,1023.0 896.5,1023.9 898.5,1024.7 900.5,1025.5 902.6,1026.3 904.6,1027.0 906.6,1027.7 908.6,1028.3 910.6,1028.9 912.6,1029.5 914.7,1030.0 916.7,1030.4 918.7,1030.8 920.7,1031.1" fill="none" stroke="#000" stroke-width="1.65" stroke-linejoin="round"/>
<polyline points="114.3,790.6 116.3,791.9 118.3,793.2 120.3,794.7 122.4,796.2 124.4,797.8 126.4,799.5 128.4,801.5 130.4,803.5 132.4,805.8 134.5,808.4 136.5,811.3 138.5,814.3 140.5,817.1 142.5,819.7 144.5,821.9 146.6,823.5 148.6,824.6 150.6,825.6 152.6,826.5 154.6,827.2 156.6,827.8 158.7,828.2 160.7,828.1 162.7,827.4 164.7,826.2 166.7,824.7 168.7,823.1 170.7,821.5 172.8,819.5 174.8,817.0 176.8,814.1 178.8,810.9 180.8,807.7 182.8,804.6 184.9,801.7 186.9,799.3 188.9,797.1 190.9,794.9 192.9,792.8 194.9,790.8 197.0,789.0 199.0,787.4 201.0,786.0 203.0,785.0 205.0,784.0 207.0,783.0 209.1,782.2 211.1,781.4 213.1,780.8 215.1,780.4 217.1,780.2 219.1,780.3 221.1,780.6 223.2,781.1 225.2,781.6 227.2,782.3 229.2,783.0 231.2,783.8 233.2,784.7 235.3,785.6 237.3,786.7 239.3,788.0 241.3,789.5 243.3,791.1 245.3,792.7 247.4,794.5 249.4,796.4 251.4,798.2 253.4,800.1 255.4,802.0 257.4,803.9 259.5,805.7 261.5,807.6 263.5,809.6 265.5,811.7 267.5,813.7 269.5,815.8 271.5,817.9 273.6,819.9 275.6,822.0 277.6,823.9 279.6,825.8 281.6,827.6 283.6,829.4 285.7,831.2 287.7,833.0 289.7,834.8 291.7,836.6 293.7,838.3 295.7,839.9 297.8,841.4 299.8,842.9 301.8,844.2 303.8,845.4 305.8,846.5 307.8,847.6 309.9,848.7 311.9,849.8 313.9,850.8 315.9,851.7 317.9,852.6 319.9,853.4 321.9,854.0 324.0,854.5 326.0,854.8 328.0,855.0 330.0,854.9 332.0,854.8 334.0,854.6 336.1,854.2 338.1,853.8 340.1,853.4 342.1,852.9 344.1,852.4 346.1,851.8 348.2,850.9 350.2,849.8 352.2,848.5 354.2,847.2 356.2,845.8 358.2,844.4 360.3,843.0 362.3,841.7 364.3,840.6 366.3,839.7 368.3,838.9 370.3,838.3 372.3,837.6 374.4,836.9 376.4,836.4 378.4,835.9 380.4,835.5 382.4,835.3 384.4,835.3 386.5,835.5 388.5,835.8 390.5,836.3 392.5,836.8 394.5,837.5 396.5,838.3 398.6,839.1 400.6,840.0 402.6,841.3 404.6,843.1 406.6,845.3 408.6,847.8 410.7,850.4 412.7,853.1 414.7,855.7 416.7,858.2 418.7,860.9 420.7,863.6 422.7,866.5 424.8,869.4 426.8,872.5 428.8,875.5 430.8,878.6 432.8,881.7 434.8,884.9 436.9,888.1 438.9,891.2 440.9,894.5 442.9,897.9 444.9,901.3 446.9,904.8 449.0,908.4 451.0,912.1 453.0,916.0 455.0,919.9 457.0,923.9 459.0,927.8 461.1,931.5 463.1,935.1 465.1,938.8 467.1,942.4 469.1,945.9 471.1,949.3 473.1,952.5 475.2,955.4 477.2,958.1 479.2,960.5 481.2,962.9 483.2,965.1 485.2,967.2 487.3,969.2 489.3,971.1 491.3,972.9 493.3,974.7 495.3,976.6 497.3,978.4 499.4,980.3 501.4,982.0 503.4,983.6 505.4,985.1 507.4,986.3 509.4,987.2 511.5,987.8 513.5,988.1 515.5,988.4 517.5,988.6 519.5,988.9 521.5,989.0 523.5,989.2 525.6,989.4 527.6,989.5 529.6,989.5 531.6,989.6 533.6,989.6 535.6,989.5 537.7,989.4 539.7,989.1 541.7,988.8 543.7,988.3 545.7,987.9 547.7,987.4 549.8,986.8 551.8,986.2 553.8,985.6 555.8,985.0 557.8,984.4 559.8,983.7 561.9,983.0 563.9,982.1 565.9,981.2 567.9,980.1 569.9,979.0 571.9,977.9 573.9,976.7 576.0,975.5 578.0,974.2 580.0,973.0 582.0,971.8 584.0,970.5 586.0,969.3 588.1,967.9 590.1,966.6 592.1,965.2 594.1,963.8 596.1,962.3 598.1,960.8 600.2,959.3 602.2,957.7 604.2,956.1 606.2,954.5 608.2,952.8 610.2,951.1 612.3,949.3 614.3,947.4 616.3,945.4 618.3,943.3 620.3,941.2 622.3,939.1 624.3,937.0 626.4,934.8 628.4,932.7 630.4,930.6 632.4,928.5 634.4,926.4 636.4,924.4 638.5,922.3 640.5,920.2 642.5,918.1 644.5,916.0 646.5,913.9 648.5,911.7 650.6,909.5 652.6,907.3 654.6,905.0 656.6,902.8 658.6,900.7 660.6,898.6 662.7,896.8 664.7,895.0 666.7,893.2 668.7,891.5 670.7,889.8 672.7,888.1 674.7,886.5 676.8,884.9 678.8,883.4 680.8,882.0 682.8,880.7 684.8,879.5 686.8,878.3 688.9,877.1 690.9,876.0 692.9,874.9 694.9,873.8 696.9,872.8 698.9,871.8 701.0,870.9 703.0,870.1 705.0,869.3 707.0,868.5 709.0,867.9 711.0,867.2 713.1,866.5 715.1,865.8 717.1,865.2 719.1,864.6 721.1,864.1 723.1,863.7 725.1,863.5 727.2,863.3 729.2,863.3 731.2,863.4 733.2,863.6 735.2,863.8 737.2,864.0 739.3,864.3 741.3,864.7 743.3,865.0 745.3,865.4 747.3,865.9 749.3,866.3 751.4,866.9 753.4,867.7 755.4,868.5 757.4,869.5 759.4,870.6 761.4,871.8 763.5,873.0 765.5,874.3 767.5,875.7 769.5,877.1 771.5,878.7 773.5,880.5 775.5,882.5 777.6,884.6 779.6,886.9 781.6,889.2 783.6,891.7 785.6,894.2 787.6,896.8 789.7,899.4 791.7,902.0 793.7,904.6 795.7,907.3 797.7,910.1 799.7,913.0 801.8,916.1 803.8,919.2 805.8,922.3 807.8,925.6 809.8,928.8 811.8,932.1 813.9,935.4 815.9,938.9 817.9,942.5 819.9,946.3 821.9,950.1 823.9,953.9 825.9,957.6 828.0,961.2 830.0,964.6 832.0,967.8 834.0,970.7 836.0,973.6 838.0,976.4 840.1,979.1 842.1,981.8 844.1,984.3 846.1,986.8 848.1,989.2 850.1,991.5 852.2,993.7 854.2,995.8 856.2,997.8 858.2,999.6 860.2,1001.4 862.2,1003.1 864.3,1004.8 866.3,1006.4 868.3,1008.0 870.3,1009.5 872.3,1010.9 874.3,1012.3 876.3,1013.6 878.4,1014.8 880.4,1015.9 882.4,1016.9 884.4,1017.9 886.4,1018.8 888.4,1019.8 890.5,1020.7 892.5,1021.6 894.5,1022.5 896.5,1023.3 898.5,1024.1 900.5,1024.9 902.6,1025.7 904.6,1026.4 906.6,1027.1 908.6,1027.7 910.6,1028.3 912.6,1028.8 914.7,1029.3 916.7,1029.7 918.7,1030.1 920.7,1030.4" fill="none" stroke="#000" stroke-width="1.65" stroke-linejoin="round"/>
<polyline points="114.3,789.7 116.3,791.0 118.3,792.4 120.3,794.0 122.4,795.6 124.4,797.3 126.4,799.1 128.4,801.0 130.4,803.1 132.4,805.3 134.5,808.0 136.5,810.9 138.5,813.9 140.5,816.7 142.5,819.4 144.5,821.6 146.6,823.2 148.6,824.2 150.6,825.2 152.6,826.1 154.6,826.9 156.6,827.4 158.7,827.8 160.7,827.6 162.7,826.9 164.7,825.7 166.7,824.1 168.7,822.4 170.7,820.8 172.8,818.8 174.8,816.2 176.8,813.2 178.8,809.9 180.8,806.6 182.8,803.4 184.9,800.5 186.9,798.0 188.9,795.8 190.9,793.5 192.9,791.4 194.9,789.3 197.0,787.5 199.0,785.9 201.0,784.5 203.0,783.4 205.0,782.4 207.0,781.4 209.1,780.5 211.1,779.7 213.1,779.1 215.1,778.7 217.1,778.5 219.1,778.6 221.1,778.8 223.2,779.2 225.2,779.8 227.2,780.4 229.2,781.1 231.2,781.9 233.2,782.7 235.3,783.6 237.3,784.7 239.3,785.9 241.3,787.4 243.3,788.9 245.3,790.6 247.4,792.3 249.4,794.2 251.4,796.0 253.4,797.9 255.4,799.7 257.4,801.5 259.5,803.4 261.5,805.3 263.5,807.2 265.5,809.2 267.5,811.3 269.5,813.3 271.5,815.3 273.6,817.4 275.6,819.4 277.6,821.3 279.6,823.2 281.6,824.9 283.6,826.7 285.7,828.5 287.7,830.3 289.7,832.0 291.7,833.8 293.7,835.4 295.7,837.0 297.8,838.6 299.8,840.0 301.8,841.3 303.8,842.5 305.8,843.6 307.8,844.6 309.9,845.7 311.9,846.8 313.9,847.8 315.9,848.7 317.9,849.6 319.9,850.3 321.9,851.0 324.0,851.4 326.0,851.8 328.0,851.9 330.0,851.9 332.0,851.7 334.0,851.5 336.1,851.1 338.1,850.7 340.1,850.3 342.1,849.8 344.1,849.3 346.1,848.6 348.2,847.7 350.2,846.6 352.2,845.3 354.2,844.0 356.2,842.6 358.2,841.1 360.3,839.8 362.3,838.5 364.3,837.3 366.3,836.4 368.3,835.7 370.3,835.0 372.3,834.3 374.4,833.7 376.4,833.1 378.4,832.6 380.4,832.3 382.4,832.1 384.4,832.1 386.5,832.2 388.5,832.6 390.5,833.0 392.5,833.6 394.5,834.3 396.5,835.1 398.6,835.9 400.6,836.9 402.6,838.2 404.6,840.1 406.6,842.3 408.6,844.9 410.7,847.5 412.7,850.3 414.7,852.9 416.7,855.5 418.7,858.2 420.7,861.1 422.7,864.0 424.8,867.0 426.8,870.1 428.8,873.2 430.8,876.3 432.8,879.5 434.8,882.8 436.9,886.1 438.9,889.4 440.9,892.7 442.9,896.2 444.9,899.7 446.9,903.2 449.0,906.8 451.0,910.5 453.0,914.4 455.0,918.2 457.0,922.1 459.0,925.9 461.1,929.6 463.1,933.2 465.1,936.9 467.1,940.5 469.1,944.0 471.1,947.4 473.1,950.6 475.2,953.6 477.2,956.2 479.2,958.7 481.2,961.1 483.2,963.3 485.2,965.4 487.3,967.4 489.3,969.3 491.3,971.1 493.3,972.9 495.3,974.8 497.3,976.7 499.4,978.5 501.4,980.3 503.4,981.9 505.4,983.3 507.4,984.5 509.4,985.5 511.5,986.1 513.5,986.4 515.5,986.7 517.5,986.9 519.5,987.1 521.5,987.3 523.5,987.5 525.6,987.6 527.6,987.8 529.6,987.8 531.6,987.9 533.6,987.9 535.6,987.8 537.7,987.7 539.7,987.4 541.7,987.1 543.7,986.7 545.7,986.2 547.7,985.7 549.8,985.2 551.8,984.6 553.8,984.0 555.8,983.4 557.8,982.8 559.8,982.2 561.9,981.4 563.9,980.6 565.9,979.6 567.9,978.6 569.9,977.5 571.9,976.4 573.9,975.2 576.0,974.0 578.0,972.8 580.0,971.6 582.0,970.3 584.0,969.1 586.0,967.8 588.1,966.5 590.1,965.2 592.1,963.8 594.1,962.4 596.1,961.0 598.1,959.5 600.2,958.0 602.2,956.4 604.2,954.8 606.2,953.2 608.2,951.6 610.2,949.9 612.3,948.1 614.3,946.2 616.3,944.3 618.3,942.3 620.3,940.3 622.3,938.2 624.3,936.1 626.4,934.0 628.4,932.0 630.4,929.9 632.4,927.9 634.4,925.9 636.4,923.8 638.5,921.8 640.5,919.7 642.5,917.7 644.5,915.6 646.5,913.5 648.5,911.4 650.6,909.3 652.6,907.1 654.6,904.9 656.6,902.7 658.6,900.6 660.6,898.6 662.7,896.8 664.7,895.0 666.7,893.2 668.7,891.5 670.7,889.8 672.7,888.1 674.7,886.5 676.8,884.9 678.8,883.4 680.8,882.0 682.8,880.7 684.8,879.5 686.8,878.3 688.9,877.1 690.9,875.9 692.9,874.8 694.9,873.8 696.9,872.8 698.9,871.8 701.0,870.9 703.0,870.0 705.0,869.2 707.0,868.5 709.0,867.8 711.0,867.1 713.1,866.5 715.1,865.8 717.1,865.2 719.1,864.6 721.1,864.1 723.1,863.7 725.1,863.4 727.2,863.3 729.2,863.3 731.2,863.3 733.2,863.5 735.2,863.7 737.2,864.0 739.3,864.3 741.3,864.6 743.3,865.0 745.3,865.3 747.3,865.8 749.3,866.2 751.4,866.8 753.4,867.6 755.4,868.4 757.4,869.4 759.4,870.5 761.4,871.7 763.5,872.9 765.5,874.2 767.5,875.5 769.5,877.0 771.5,878.6 773.5,880.4 775.5,882.3 777.6,884.5 779.6,886.7 781.6,889.1 783.6,891.5 785.6,894.0 787.6,896.6 789.7,899.2 791.7,901.8 793.7,904.4 795.7,907.1 797.7,909.9 799.7,912.8 801.8,915.9 803.8,918.9 805.8,922.1 807.8,925.3 809.8,928.6 811.8,931.8 813.9,935.1 815.9,938.6 817.9,942.3 819.9,946.0 821.9,949.8 823.9,953.6 825.9,957.3 828.0,960.9 830.0,964.3 832.0,967.5 834.0,970.4 836.0,973.3 838.0,976.1 840.1,978.8 842.1,981.4 844.1,984.0 846.1,986.5 848.1,988.9 850.1,991.1 852.2,993.3 854.2,995.4 856.2,997.4 858.2,999.2 860.2,1001.0 862.2,1002.7 864.3,1004.4 866.3,1006.0 868.3,1007.6 870.3,1009.1 872.3,1010.5 874.3,1011.9 876.3,1013.1 878.4,1014.3 880.4,1015.5 882.4,1016.5 884.4,1017.4 886.4,1018.4 888.4,1019.3 890.5,1020.2 892.5,1021.1 894.5,1022.0 896.5,1022.8 898.5,1023.6 900.5,1024.4 902.6,1025.2 904.6,1025.9 906.6,1026.5 908.6,1027.2 910.6,1027.7 912.6,1028.3 914.7,1028.7 916.7,1029.1 918.7,1029.5 920.7,1029.8" fill="none" stroke="#000" stroke-width="1.65" stroke-linejoin="round"/>
<polyline points="114.3,788.8 116.3,790.2 118.3,791.7 120.3,793.3 122.4,795.0 124.4,796.8 126.4,798.6 128.4,800.6 130.4,802.7 132.4,804.9 134.5,807.6 136.5,810.5 138.5,813.5 140.5,816.4 142.5,819.0 144.5,821.2 146.6,822.9 148.6,823.9 150.6,824.9 152.6,825.8 154.6,826.5 156.6,827.1 158.7,827.4 160.7,827.2 162.7,826.4 164.7,825.2 166.7,823.6 168.7,821.8 170.7,820.1 172.8,818.0 174.8,815.4 176.8,812.3 178.8,809.0 180.8,805.6 182.8,802.3 184.9,799.4 186.9,796.9 188.9,794.6 190.9,792.3 192.9,790.1 194.9,788.0 197.0,786.1 199.0,784.5 201.0,783.1 203.0,782.0 205.0,780.9 207.0,779.9 209.1,779.0 211.1,778.2 213.1,777.5 215.1,777.1 217.1,776.8 219.1,776.9 221.1,777.1 223.2,777.5 225.2,778.0 227.2,778.7 229.2,779.4 231.2,780.1 233.2,780.9 235.3,781.7 237.3,782.8 239.3,784.0 241.3,785.4 243.3,787.0 245.3,788.6 247.4,790.3 249.4,792.1 251.4,794.0 253.4,795.8 255.4,797.6 257.4,799.4 259.5,801.2 261.5,803.0 263.5,805.0 265.5,807.0 267.5,809.0 269.5,811.0 271.5,813.0 273.6,815.0 275.6,817.0 277.6,818.9 279.6,820.7 281.6,822.5 283.6,824.2 285.7,826.0 287.7,827.7 289.7,829.5 291.7,831.2 293.7,832.8 295.7,834.4 297.8,835.9 299.8,837.3 301.8,838.6 303.8,839.7 305.8,840.8 307.8,841.9 309.9,842.9 311.9,844.0 313.9,845.0 315.9,845.9 317.9,846.7 319.9,847.5 321.9,848.1 324.0,848.6 326.0,848.9 328.0,849.1 330.0,849.0 332.0,848.9 334.0,848.6 336.1,848.2 338.1,847.8 340.1,847.4 342.1,846.9 344.1,846.4 346.1,845.7 348.2,844.8 350.2,843.7 352.2,842.4 354.2,841.0 356.2,839.6 358.2,838.1 360.3,836.7 362.3,835.4 364.3,834.3 366.3,833.4 368.3,832.6 370.3,831.9 372.3,831.3 374.4,830.6 376.4,830.0 378.4,829.6 380.4,829.2 382.4,829.0 384.4,829.0 386.5,829.2 388.5,829.6 390.5,830.0 392.5,830.6 394.5,831.4 396.5,832.1 398.6,833.0 400.6,833.9 402.6,835.3 404.6,837.2 406.6,839.5 408.6,842.1 410.7,844.8 412.7,847.6 414.7,850.4 416.7,853.0 418.7,855.8 420.7,858.7 422.7,861.6 424.8,864.7 426.8,867.8 428.8,871.0 430.8,874.2 432.8,877.5 434.8,880.8 436.9,884.2 438.9,887.6 440.9,891.1 442.9,894.6 444.9,898.2 446.9,901.8 449.0,905.4 451.0,909.1 453.0,912.9 455.0,916.7 457.0,920.5 459.0,924.3 461.1,927.9 463.1,931.5 465.1,935.2 467.1,938.8 469.1,942.4 471.1,945.8 473.1,949.0 475.2,951.9 477.2,954.6 479.2,957.1 481.2,959.4 483.2,961.7 485.2,963.8 487.3,965.8 489.3,967.7 491.3,969.6 493.3,971.4 495.3,973.2 497.3,975.1 499.4,977.0 501.4,978.7 503.4,980.3 505.4,981.8 507.4,983.0 509.4,984.0 511.5,984.6 513.5,984.9 515.5,985.2 517.5,985.4 519.5,985.6 521.5,985.8 523.5,986.0 525.6,986.1 527.6,986.2 529.6,986.3 531.6,986.4 533.6,986.4 535.6,986.3 537.7,986.1 539.7,985.9 541.7,985.6 543.7,985.2 545.7,984.7 547.7,984.2 549.8,983.7 551.8,983.2 553.8,982.6 555.8,982.0 557.8,981.4 559.8,980.8 561.9,980.0 563.9,979.2 565.9,978.3 567.9,977.2 569.9,976.2 571.9,975.1 573.9,973.9 576.0,972.7 578.0,971.5 580.0,970.3 582.0,969.1 584.0,967.8 586.0,966.6 588.1,965.3 590.1,964.0 592.1,962.6 594.1,961.2 596.1,959.8 598.1,958.3 600.2,956.8 602.2,955.2 604.2,953.7 606.2,952.1 608.2,950.5 610.2,948.8 612.3,947.0 614.3,945.2 616.3,943.3 618.3,941.4 620.3,939.4 622.3,937.4 624.3,935.4 626.4,933.4 628.4,931.3 630.4,929.3 632.4,927.3 634.4,925.4 636.4,923.4 638.5,921.4 640.5,919.4 642.5,917.3 644.5,915.3 646.5,913.3 648.5,911.2 650.6,909.1 652.6,906.9 654.6,904.8 656.6,902.6 658.6,900.6 660.6,898.6 662.7,896.8 664.7,895.0 666.7,893.2 668.7,891.5 670.7,889.8 672.7,888.1 674.7,886.5 676.8,884.9 678.8,883.4 680.8,882.0 682.8,880.7 684.8,879.5 686.8,878.3 688.9,877.1 690.9,875.9 692.9,874.8 694.9,873.7 696.9,872.7 698.9,871.8 701.0,870.8 703.0,870.0 705.0,869.2 707.0,868.5 709.0,867.8 711.0,867.1 713.1,866.4 715.1,865.7 717.1,865.1 719.1,864.5 721.1,864.0 723.1,863.6 725.1,863.3 727.2,863.2 729.2,863.2 731.2,863.3 733.2,863.4 735.2,863.6 737.2,863.9 739.3,864.2 741.3,864.5 743.3,864.9 745.3,865.3 747.3,865.7 749.3,866.1 751.4,866.7 753.4,867.5 755.4,868.3 757.4,869.3 759.4,870.4 761.4,871.6 763.5,872.8 765.5,874.1 767.5,875.4 769.5,876.8 771.5,878.4 773.5,880.2 775.5,882.2 777.6,884.3 779.6,886.6 781.6,888.9 783.6,891.4 785.6,893.9 787.6,896.4 789.7,899.0 791.7,901.6 793.7,904.2 795.7,906.9 797.7,909.7 799.7,912.6 801.8,915.7 803.8,918.7 805.8,921.9 807.8,925.1 809.8,928.4 811.8,931.6 813.9,934.9 815.9,938.4 817.9,942.0 819.9,945.8 821.9,949.5 823.9,953.3 825.9,957.0 828.0,960.6 830.0,964.0 832.0,967.2 834.0,970.2 836.0,973.0 838.0,975.8 840.1,978.5 842.1,981.1 844.1,983.7 846.1,986.2 848.1,988.5 850.1,990.8 852.2,993.0 854.2,995.1 856.2,997.1 858.2,998.9 860.2,1000.7 862.2,1002.4 864.3,1004.1 866.3,1005.7 868.3,1007.2 870.3,1008.7 872.3,1010.1 874.3,1011.5 876.3,1012.8 878.4,1014.0 880.4,1015.1 882.4,1016.1 884.4,1017.0 886.4,1018.0 888.4,1018.9 890.5,1019.8 892.5,1020.7 894.5,1021.5 896.5,1022.4 898.5,1023.2 900.5,1024.0 902.6,1024.7 904.6,1025.4 906.6,1026.1 908.6,1026.7 910.6,1027.2 912.6,1027.8 914.7,1028.2 916.7,1028.6 918.7,1029.0 920.7,1029.2" fill="none" stroke="#000" stroke-width="1.65" stroke-linejoin="round"/>
<polyline points="114.3,787.9 116.3,789.4 118.3,791.0 120.3,792.7 122.4,794.4 124.4,796.3 126.4,798.2 128.4,800.2 130.4,802.3 132.4,804.5 134.5,807.2 136.5,810.1 138.5,813.1 140.5,816.0 142.5,818.7 144.5,820.9 146.6,822.6 148.6,823.6 150.6,824.6 152.6,825.5 154.6,826.2 156.6,826.7 158.7,827.0 160.7,826.8 162.7,826.0 164.7,824.7 166.7,823.0 168.7,821.2 170.7,819.4 172.8,817.3 174.8,814.6 176.8,811.4 178.8,808.0 180.8,804.6 182.8,801.3 184.9,798.3 186.9,795.7 188.9,793.4 190.9,791.0 192.9,788.8 194.9,786.7 197.0,784.8 199.0,783.1 201.0,781.6 203.0,780.5 205.0,779.4 207.0,778.4 209.1,777.4 211.1,776.6 213.1,775.9 215.1,775.4 217.1,775.2 219.1,775.2 221.1,775.5 223.2,775.8 225.2,776.3 227.2,776.9 229.2,777.6 231.2,778.3 233.2,779.0 235.3,779.8 237.3,780.9 239.3,782.1 241.3,783.5 243.3,785.0 245.3,786.6 247.4,788.3 249.4,790.1 251.4,791.9 253.4,793.7 255.4,795.5 257.4,797.3 259.5,799.0 261.5,800.8 263.5,802.7 265.5,804.7 267.5,806.7 269.5,808.7 271.5,810.6 273.6,812.6 275.6,814.6 277.6,816.4 279.6,818.2 281.6,820.0 283.6,821.7 285.7,823.4 287.7,825.1 289.7,826.9 291.7,828.5 293.7,830.2 295.7,831.7 297.8,833.2 299.8,834.6 301.8,835.9 303.8,837.0 305.8,838.0 307.8,839.1 309.9,840.1 311.9,841.1 313.9,842.1 315.9,843.1 317.9,843.9 319.9,844.7 321.9,845.3 324.0,845.8 326.0,846.1 328.0,846.2 330.0,846.2 332.0,846.0 334.0,845.7 336.1,845.4 338.1,845.0 340.1,844.5 342.1,844.0 344.1,843.5 346.1,842.8 348.2,841.9 350.2,840.7 352.2,839.4 354.2,838.0 356.2,836.6 358.2,835.1 360.3,833.7 362.3,832.4 364.3,831.3 366.3,830.3 368.3,829.6 370.3,828.9 372.3,828.2 374.4,827.6 376.4,827.0 378.4,826.5 380.4,826.2 382.4,826.0 384.4,826.0 386.5,826.2 388.5,826.6 390.5,827.1 392.5,827.7 394.5,828.4 396.5,829.2 398.6,830.1 400.6,831.0 402.6,832.4 404.6,834.4 406.6,836.7 408.6,839.4 410.7,842.2 412.7,845.0 414.7,847.8 416.7,850.5 418.7,853.3 420.7,856.3 422.7,859.3 424.8,862.4 426.8,865.6 428.8,868.8 430.8,872.1 432.8,875.4 434.8,878.9 436.9,882.4 438.9,885.9 440.9,889.5 442.9,893.2 444.9,896.8 446.9,900.5 449.0,904.1 451.0,907.9 453.0,911.6 455.0,915.4 457.0,919.2 459.0,922.8 461.1,926.4 463.1,930.0 465.1,933.7 467.1,937.3 469.1,940.9 471.1,944.3 473.1,947.5 475.2,950.4 477.2,953.1 479.2,955.6 481.2,958.0 483.2,960.3 485.2,962.4 487.3,964.4 489.3,966.3 491.3,968.2 493.3,970.0 495.3,971.9 497.3,973.8 499.4,975.6 501.4,977.4 503.4,979.0 505.4,980.4 507.4,981.7 509.4,982.6 511.5,983.3 513.5,983.6 515.5,983.8 517.5,984.1 519.5,984.3 521.5,984.5 523.5,984.7 525.6,984.8 527.6,984.9 529.6,985.0 531.6,985.0 533.6,985.1 535.6,985.0 537.7,984.8 539.7,984.6 541.7,984.3 543.7,983.9 545.7,983.4 547.7,983.0 549.8,982.4 551.8,981.9 553.8,981.3 555.8,980.7 557.8,980.2 559.8,979.5 561.9,978.8 563.9,978.0 565.9,977.0 567.9,976.1 569.9,975.0 571.9,973.9 573.9,972.7 576.0,971.6 578.0,970.4 580.0,969.2 582.0,967.9 584.0,966.7 586.0,965.5 588.1,964.2 590.1,962.9 592.1,961.5 594.1,960.1 596.1,958.7 598.1,957.2 600.2,955.7 602.2,954.2 604.2,952.7 606.2,951.1 608.2,949.5 610.2,947.8 612.3,946.1 614.3,944.3 616.3,942.5 618.3,940.6 620.3,938.6 622.3,936.7 624.3,934.7 626.4,932.8 628.4,930.8 630.4,928.8 632.4,926.9 634.4,924.9 636.4,923.0 638.5,921.0 640.5,919.0 642.5,917.0 644.5,915.0 646.5,913.0 648.5,911.0 650.6,908.9 652.6,906.8 654.6,904.7 656.6,902.6 658.6,900.6 660.6,898.6 662.7,896.8 664.7,895.0 666.7,893.2 668.7,891.5 670.7,889.7 672.7,888.1 674.7,886.4 676.8,884.9 678.8,883.4 680.8,882.0 682.8,880.7 684.8,879.4 686.8,878.2 688.9,877.1 690.9,875.9 692.9,874.8 694.9,873.7 696.9,872.7 698.9,871.7 701.0,870.8 703.0,869.9 705.0,869.1 707.0,868.4 709.0,867.7 711.0,867.1 713.1,866.4 715.1,865.7 717.1,865.1 719.1,864.5 721.1,864.0 723.1,863.6 725.1,863.3 727.2,863.1 729.2,863.1 731.2,863.2 733.2,863.4 735.2,863.6 737.2,863.8 739.3,864.1 741.3,864.4 743.3,864.8 745.3,865.2 747.3,865.6 749.3,866.1 751.4,866.7 753.4,867.4 755.4,868.3 757.4,869.2 759.4,870.3 761.4,871.5 763.5,872.7 765.5,874.0 767.5,875.3 769.5,876.7 771.5,878.3 773.5,880.1 775.5,882.1 777.6,884.2 779.6,886.4 781.6,888.8 783.6,891.2 785.6,893.7 787.6,896.3 789.7,898.9 791.7,901.5 793.7,904.1 795.7,906.7 797.7,909.6 799.7,912.5 801.8,915.5 803.8,918.6 805.8,921.7 807.8,924.9 809.8,928.2 811.8,931.4 813.9,934.7 815.9,938.2 817.9,941.8 819.9,945.5 821.9,949.3 823.9,953.1 825.9,956.8 828.0,960.4 830.0,963.8 832.0,967.0 834.0,969.9 836.0,972.7 838.0,975.5 840.1,978.2 842.1,980.9 844.1,983.4 846.1,985.9 848.1,988.3 850.1,990.6 852.2,992.7 854.2,994.8 856.2,996.8 858.2,998.6 860.2,1000.4 862.2,1002.1 864.3,1003.7 866.3,1005.4 868.3,1006.9 870.3,1008.4 872.3,1009.8 874.3,1011.2 876.3,1012.4 878.4,1013.6 880.4,1014.7 882.4,1015.7 884.4,1016.7 886.4,1017.6 888.4,1018.5 890.5,1019.4 892.5,1020.3 894.5,1021.2 896.5,1022.0 898.5,1022.8 900.5,1023.6 902.6,1024.3 904.6,1025.0 906.6,1025.6 908.6,1026.2 910.6,1026.8 912.6,1027.3 914.7,1027.8 916.7,1028.2 918.7,1028.5 920.7,1028.8" fill="none" stroke="#000" stroke-width="1.65" stroke-linejoin="round"/>
<polyline points="114.3,787.3 116.3,788.9 118.3,790.5 120.3,792.3 122.4,794.1 124.4,796.0 126.4,797.9 128.4,800.0 130.4,802.1 132.4,804.3 134.5,806.9 136.5,809.8 138.5,812.8 140.5,815.8 142.5,818.5 144.5,820.7 146.6,822.4 148.6,823.4 150.6,824.4 152.6,825.3 154.6,826.0 156.6,826.5 158.7,826.8 160.7,826.5 162.7,825.7 164.7,824.4 166.7,822.7 168.7,820.9 170.7,819.0 172.8,816.8 174.8,814.1 176.8,810.9 178.8,807.5 180.8,804.0 182.8,800.6 184.9,797.6 186.9,795.0 188.9,792.6 190.9,790.3 192.9,788.0 194.9,785.9 197.0,783.9 199.0,782.2 201.0,780.8 203.0,779.6 205.0,778.5 207.0,777.5 209.1,776.5 211.1,775.6 213.1,774.9 215.1,774.4 217.1,774.2 219.1,774.2 221.1,774.4 223.2,774.8 225.2,775.3 227.2,775.8 229.2,776.5 231.2,777.2 233.2,777.9 235.3,778.7 237.3,779.7 239.3,780.9 241.3,782.3 243.3,783.8 245.3,785.4 247.4,787.1 249.4,788.8 251.4,790.6 253.4,792.4 255.4,794.2 257.4,795.9 259.5,797.7 261.5,799.5 263.5,801.4 265.5,803.3 267.5,805.3 269.5,807.2 271.5,809.2 273.6,811.2 275.6,813.1 277.6,814.9 279.6,816.7 281.6,818.4 283.6,820.1 285.7,821.9 287.7,823.6 289.7,825.3 291.7,826.9 293.7,828.5 295.7,830.1 297.8,831.5 299.8,832.9 301.8,834.2 303.8,835.3 305.8,836.3 307.8,837.4 309.9,838.4 311.9,839.4 313.9,840.4 315.9,841.3 317.9,842.2 319.9,842.9 321.9,843.5 324.0,844.0 326.0,844.3 328.0,844.4 330.0,844.4 332.0,844.2 334.0,844.0 336.1,843.6 338.1,843.2 340.1,842.7 342.1,842.2 344.1,841.7 346.1,841.0 348.2,840.0 350.2,838.9 352.2,837.6 354.2,836.2 356.2,834.7 358.2,833.3 360.3,831.9 362.3,830.6 364.3,829.4 366.3,828.4 368.3,827.7 370.3,827.0 372.3,826.3 374.4,825.7 376.4,825.1 378.4,824.7 380.4,824.3 382.4,824.1 384.4,824.2 386.5,824.4 388.5,824.7 390.5,825.2 392.5,825.8 394.5,826.6 396.5,827.4 398.6,828.3 400.6,829.2 402.6,830.6 404.6,832.6 406.6,835.0 408.6,837.7 410.7,840.5 412.7,843.4 414.7,846.2 416.7,848.9 418.7,851.8 420.7,854.8 422.7,857.9 424.8,861.0 426.8,864.2 428.8,867.5 430.8,870.8 432.8,874.2 434.8,877.6 436.9,881.2 438.9,884.8 440.9,888.5 442.9,892.1 444.9,895.8 446.9,899.4 449.0,903.1 451.0,906.8 453.0,910.5 455.0,914.2 457.0,917.9 459.0,921.6 461.1,925.1 463.1,928.7 465.1,932.4 467.1,936.0 469.1,939.6 471.1,943.0 473.1,946.2 475.2,949.2 477.2,951.8 479.2,954.3 481.2,956.7 483.2,959.0 485.2,961.2 487.3,963.2 489.3,965.1 491.3,966.9 493.3,968.8 495.3,970.6 497.3,972.5 499.4,974.4 501.4,976.2 503.4,977.8 505.4,979.3 507.4,980.5 509.4,981.4 511.5,982.1 513.5,982.4 515.5,982.7 517.5,982.9 519.5,983.1 521.5,983.3 523.5,983.5 525.6,983.6 527.6,983.7 529.6,983.8 531.6,983.9 533.6,983.9 535.6,983.8 537.7,983.7 539.7,983.4 541.7,983.1 543.7,982.7 545.7,982.3 547.7,981.8 549.8,981.3 551.8,980.8 553.8,980.2 555.8,979.6 557.8,979.1 559.8,978.4 561.9,977.7 563.9,976.9 565.9,976.0 567.9,975.0 569.9,974.0 571.9,972.9 573.9,971.7 576.0,970.5 578.0,969.4 580.0,968.2 582.0,967.0 584.0,965.8 586.0,964.5 588.1,963.3 590.1,961.9 592.1,960.6 594.1,959.2 596.1,957.8 598.1,956.3 600.2,954.8 602.2,953.3 604.2,951.8 606.2,950.2 608.2,948.6 610.2,947.0 612.3,945.3 614.3,943.5 616.3,941.7 618.3,939.9 620.3,938.0 622.3,936.1 624.3,934.2 626.4,932.2 628.4,930.3 630.4,928.4 632.4,926.4 634.4,924.5 636.4,922.6 638.5,920.7 640.5,918.7 642.5,916.7 644.5,914.8 646.5,912.8 648.5,910.8 650.6,908.7 652.6,906.7 654.6,904.6 656.6,902.5 658.6,900.5 660.6,898.6 662.7,896.8 664.7,895.0 666.7,893.2 668.7,891.5 670.7,889.7 672.7,888.1 674.7,886.4 676.8,884.9 678.8,883.4 680.8,882.0 682.8,880.7 684.8,879.4 686.8,878.2 688.9,877.0 690.9,875.9 692.9,874.8 694.9,873.7 696.9,872.7 698.9,871.7 701.0,870.8 703.0,869.9 705.0,869.1 707.0,868.4 709.0,867.7 711.0,867.0 713.1,866.3 715.1,865.7 717.1,865.0 719.1,864.4 721.1,863.9 723.1,863.5 725.1,863.2 727.2,863.1 729.2,863.1 731.2,863.2 733.2,863.3 735.2,863.5 737.2,863.8 739.3,864.1 741.3,864.4 743.3,864.8 745.3,865.1 747.3,865.5 749.3,866.0 751.4,866.6 753.4,867.3 755.4,868.2 757.4,869.2 759.4,870.2 761.4,871.4 763.5,872.6 765.5,873.9 767.5,875.2 769.5,876.6 771.5,878.3 773.5,880.0 775.5,882.0 777.6,884.1 779.6,886.3 781.6,888.7 783.6,891.1 785.6,893.6 787.6,896.2 789.7,898.7 791.7,901.3 793.7,903.9 795.7,906.6 797.7,909.4 799.7,912.3 801.8,915.3 803.8,918.4 805.8,921.6 807.8,924.8 809.8,928.0 811.8,931.3 813.9,934.5 815.9,938.0 817.9,941.6 819.9,945.4 821.9,949.1 823.9,952.9 825.9,956.6 828.0,960.2 830.0,963.6 832.0,966.8 834.0,969.7 836.0,972.5 838.0,975.3 840.1,978.0 842.1,980.6 844.1,983.2 846.1,985.7 848.1,988.0 850.1,990.3 852.2,992.5 854.2,994.6 856.2,996.5 858.2,998.3 860.2,1000.1 862.2,1001.8 864.3,1003.5 866.3,1005.1 868.3,1006.6 870.3,1008.1 872.3,1009.5 874.3,1010.9 876.3,1012.1 878.4,1013.3 880.4,1014.4 882.4,1015.4 884.4,1016.4 886.4,1017.3 888.4,1018.2 890.5,1019.1 892.5,1020.0 894.5,1020.8 896.5,1021.6 898.5,1022.4 900.5,1023.2 902.6,1023.9 904.6,1024.6 906.6,1025.3 908.6,1025.9 910.6,1026.4 912.6,1026.9 914.7,1027.4 916.7,1027.8 918.7,1028.1 920.7,1028.3" fill="none" stroke="#000" stroke-width="1.65" stroke-linejoin="round"/>
<polyline points="114.3,786.9 116.3,788.5 118.3,790.2 120.3,792.0 122.4,793.8 124.4,795.8 126.4,797.7 128.4,799.8 130.4,801.9 132.4,804.1 134.5,806.7 136.5,809.6 138.5,812.7 140.5,815.6 142.5,818.3 144.5,820.6 146.6,822.2 148.6,823.3 150.6,824.3 152.6,825.1 154.6,825.9 156.6,826.4 158.7,826.6 160.7,826.3 162.7,825.5 164.7,824.1 166.7,822.5 168.7,820.6 170.7,818.7 172.8,816.5 174.8,813.7 176.8,810.5 178.8,807.0 180.8,803.5 182.8,800.1 184.9,797.1 186.9,794.5 188.9,792.1 190.9,789.7 192.9,787.4 194.9,785.3 197.0,783.3 199.0,781.5 201.0,780.1 203.0,778.9 205.0,777.8 207.0,776.8 209.1,775.8 211.1,774.9 213.1,774.2 215.1,773.7 217.1,773.4 219.1,773.5 221.1,773.6 223.2,774.0 225.2,774.5 227.2,775.0 229.2,775.7 231.2,776.4 233.2,777.1 235.3,777.8 237.3,778.8 239.3,780.0 241.3,781.4 243.3,782.9 245.3,784.5 247.4,786.2 249.4,787.9 251.4,789.7 253.4,791.5 255.4,793.2 257.4,794.9 259.5,796.7 261.5,798.5 263.5,800.3 265.5,802.2 267.5,804.2 269.5,806.2 271.5,808.1 273.6,810.1 275.6,812.0 277.6,813.8 279.6,815.6 281.6,817.3 283.6,819.0 285.7,820.7 287.7,822.4 289.7,824.1 291.7,825.7 293.7,827.3 295.7,828.9 297.8,830.3 299.8,831.7 301.8,832.9 303.8,834.0 305.8,835.1 307.8,836.1 309.9,837.1 311.9,838.1 313.9,839.1 315.9,840.0 317.9,840.9 319.9,841.6 321.9,842.2 324.0,842.7 326.0,843.0 328.0,843.1 330.0,843.1 332.0,842.9 334.0,842.6 336.1,842.3 338.1,841.8 340.1,841.4 342.1,840.9 344.1,840.3 346.1,839.6 348.2,838.7 350.2,837.5 352.2,836.2 354.2,834.8 356.2,833.3 358.2,831.9 360.3,830.5 362.3,829.2 364.3,828.0 366.3,827.0 368.3,826.3 370.3,825.6 372.3,824.9 374.4,824.3 376.4,823.7 378.4,823.3 380.4,822.9 382.4,822.7 384.4,822.8 386.5,823.0 388.5,823.3 390.5,823.8 392.5,824.5 394.5,825.2 396.5,826.0 398.6,826.9 400.6,827.9 402.6,829.3 404.6,831.3 406.6,833.7 408.6,836.4 410.7,839.3 412.7,842.2 414.7,845.0 416.7,847.8 418.7,850.7 420.7,853.7 422.7,856.8 424.8,860.0 426.8,863.2 428.8,866.5 430.8,869.8 432.8,873.2 434.8,876.7 436.9,880.3 438.9,883.9 440.9,887.6 442.9,891.2 444.9,894.9 446.9,898.5 449.0,902.2 451.0,905.8 453.0,909.5 455.0,913.2 457.0,916.8 459.0,920.4 461.1,924.0 463.1,927.6 465.1,931.2 467.1,934.8 469.1,938.4 471.1,941.8 473.1,945.1 475.2,948.0 477.2,950.7 479.2,953.2 481.2,955.6 483.2,957.9 485.2,960.0 487.3,962.1 489.3,964.0 491.3,965.8 493.3,967.7 495.3,969.6 497.3,971.5 499.4,973.3 501.4,975.1 503.4,976.7 505.4,978.2 507.4,979.4 509.4,980.4 511.5,981.1 513.5,981.4 515.5,981.6 517.5,981.9 519.5,982.1 521.5,982.3 523.5,982.5 525.6,982.6 527.6,982.7 529.6,982.8 531.6,982.8 533.6,982.8 535.6,982.8 537.7,982.6 539.7,982.4 541.7,982.1 543.7,981.7 545.7,981.3 547.7,980.8 549.8,980.3 551.8,979.8 553.8,979.2 555.8,978.7 557.8,978.1 559.8,977.5 561.9,976.8 563.9,975.9 565.9,975.0 567.9,974.1 569.9,973.0 571.9,971.9 573.9,970.8 576.0,969.7 578.0,968.5 580.0,967.3 582.0,966.1 584.0,964.9 586.0,963.7 588.1,962.4 590.1,961.1 592.1,959.8 594.1,958.4 596.1,957.0 598.1,955.5 600.2,954.0 602.2,952.5 604.2,951.0 606.2,949.4 608.2,947.8 610.2,946.2 612.3,944.5 614.3,942.8 616.3,941.0 618.3,939.2 620.3,937.4 622.3,935.5 624.3,933.6 626.4,931.8 628.4,929.9 630.4,928.0 632.4,926.1 634.4,924.2 636.4,922.3 638.5,920.4 640.5,918.4 642.5,916.5 644.5,914.5 646.5,912.6 648.5,910.6 650.6,908.6 652.6,906.5 654.6,904.5 656.6,902.5 658.6,900.5 660.6,898.6 662.7,896.8 664.7,895.0 666.7,893.2 668.7,891.5 670.7,889.7 672.7,888.1 674.7,886.4 676.8,884.9 678.8,883.4 680.8,882.0 682.8,880.7 684.8,879.4 686.8,878.2 688.9,877.0 690.9,875.9 692.9,874.8 694.9,873.7 696.9,872.7 698.9,871.7 701.0,870.8 703.0,869.9 705.0,869.1 707.0,868.4 709.0,867.7 711.0,867.0 713.1,866.3 715.1,865.6 717.1,865.0 719.1,864.4 721.1,863.9 723.1,863.5 725.1,863.2 727.2,863.1 729.2,863.1 731.2,863.1 733.2,863.3 735.2,863.5 737.2,863.7 739.3,864.0 741.3,864.3 743.3,864.7 745.3,865.1 747.3,865.5 749.3,865.9 751.4,866.5 753.4,867.3 755.4,868.1 757.4,869.1 759.4,870.2 761.4,871.3 763.5,872.5 765.5,873.8 767.5,875.2 769.5,876.6 771.5,878.2 773.5,880.0 775.5,881.9 777.6,884.0 779.6,886.2 781.6,888.6 783.6,891.0 785.6,893.5 787.6,896.1 789.7,898.6 791.7,901.2 793.7,903.8 795.7,906.5 797.7,909.3 799.7,912.2 801.8,915.2 803.8,918.3 805.8,921.4 807.8,924.6 809.8,927.8 811.8,931.1 813.9,934.4 815.9,937.8 817.9,941.5 819.9,945.2 821.9,949.0 823.9,952.7 825.9,956.4 828.0,960.0 830.0,963.4 832.0,966.6 834.0,969.5 836.0,972.3 838.0,975.1 840.1,977.8 842.1,980.4 844.1,983.0 846.1,985.5 848.1,987.8 850.1,990.1 852.2,992.3 854.2,994.3 856.2,996.3 858.2,998.1 860.2,999.9 862.2,1001.6 864.3,1003.2 866.3,1004.8 868.3,1006.4 870.3,1007.9 872.3,1009.3 874.3,1010.6 876.3,1011.9 878.4,1013.1 880.4,1014.2 882.4,1015.2 884.4,1016.1 886.4,1017.0 888.4,1017.9 890.5,1018.8 892.5,1019.7 894.5,1020.5 896.5,1021.3 898.5,1022.1 900.5,1022.9 902.6,1023.6 904.6,1024.3 906.6,1024.9 908.6,1025.5 910.6,1026.1 912.6,1026.6 914.7,1027.0 916.7,1027.4 918.7,1027.7 920.7,1028.0" fill="none" stroke="#000" stroke-width="1.65" stroke-linejoin="round"/></g>
<rect x="114.3" y="595.8" width="806.4" height="481.8" fill="none" stroke="#808080" stroke-width="1.3"/>
<line x1="105.3" y1="1077.6" x2="123.3" y2="1077.6" stroke="#606060" stroke-width="1.3"/>
<text x="92.5" y="1087.6" font-size="27.5" text-anchor="end">0.00</text>
<line x1="105.3" y1="997.3" x2="123.3" y2="997.3" stroke="#606060" stroke-width="1.3"/>
<text x="92.5" y="1007.3" font-size="27.5" text-anchor="end">0.05</text>
<line x1="105.3" y1="917.0" x2="123.3" y2="917.0" stroke="#606060" stroke-width="1.3"/>
<text x="92.5" y="927.0" font-size="27.5" text-anchor="end">0.10</text>
<line x1="105.3" y1="836.7" x2="123.3" y2="836.7" stroke="#606060" stroke-width="1.3"/>
<text x="92.5" y="846.7" font-size="27.5" text-anchor="end">0.15</text>
<line x1="105.3" y1="756.4" x2="123.3" y2="756.4" stroke="#606060" stroke-width="1.3"/>
<text x="92.5" y="766.4" font-size="27.5" text-anchor="end">0.20</text>
<line x1="105.3" y1="676.1" x2="123.3" y2="676.1" stroke="#606060" stroke-width="1.3"/>
<text x="92.5" y="686.1" font-size="27.5" text-anchor="end">0.25</text>
<line x1="105.3" y1="595.8" x2="123.3" y2="595.8" stroke="#606060" stroke-width="1.3"/>
<text x="92.5" y="605.8" font-size="27.5" text-anchor="end">0.30</text>
<line x1="114.3" y1="1068.6" x2="114.3" y2="1086.1" stroke="#606060" stroke-width="1.3"/>
<text x="114.3" y="1124.6" font-size="26.5" text-anchor="middle">300</text>
<line x1="215.1" y1="1068.6" x2="215.1" y2="1086.1" stroke="#606060" stroke-width="1.3"/>
<text x="215.1" y="1124.6" font-size="26.5" text-anchor="middle">350</text>
<line x1="315.9" y1="1068.6" x2="315.9" y2="1086.1" stroke="#606060" stroke-width="1.3"/>
<text x="315.9" y="1124.6" font-size="26.5" text-anchor="middle">400</text>
<line x1="416.7" y1="1068.6" x2="416.7" y2="1086.1" stroke="#606060" stroke-width="1.3"/>
<text x="416.7" y="1124.6" font-size="26.5" text-anchor="middle">450</text>
<line x1="517.5" y1="1068.6" x2="517.5" y2="1086.1" stroke="#606060" stroke-width="1.3"/>
<text x="517.5" y="1124.6" font-size="26.5" text-anchor="middle">500</text>
<line x1="618.3" y1="1068.6" x2="618.3" y2="1086.1" stroke="#606060" stroke-width="1.3"/>
<text x="618.3" y="1124.6" font-size="26.5" text-anchor="middle">550</text>
<line x1="719.1" y1="1068.6" x2="719.1" y2="1086.1" stroke="#606060" stroke-width="1.3"/>
<text x="719.1" y="1124.6" font-size="26.5" text-anchor="middle">600</text>
<line x1="819.9" y1="1068.6" x2="819.9" y2="1086.1" stroke="#606060" stroke-width="1.3"/>
<text x="819.9" y="1124.6" font-size="26.5" text-anchor="middle">650</text>
<line x1="920.7" y1="1068.6" x2="920.7" y2="1086.1" stroke="#606060" stroke-width="1.3"/>
<text x="920.7" y="1124.6" font-size="26.5" text-anchor="middle">700</text>
<text x="517.6" y="1168.6" font-size="31.7" font-weight="bold" text-anchor="middle">Wavelength (nm)</text>
<text transform="translate(32.4,973.5) rotate(-90)" font-size="31.5" font-weight="bold">Absorbance (cm<tspan dy="-11" font-size="19">-1</tspan><tspan dy="11">)</tspan></text>
<text x="603.5" y="662.8" font-size="22.4" font-weight="bold" font-style="italic" text-anchor="middle">increase of reaction time</text>
<text x="603" y="689.2" font-size="22.4" font-weight="bold" font-style="italic" text-anchor="middle" xml:space="preserve">from 0 to  60 minutes</text>
<rect x="804" y="638" width="76" height="86.8" fill="none" stroke="#000" stroke-width="1.6"/>
<text x="842" y="694.7" font-size="36" font-weight="bold" text-anchor="middle">B</text>
<line x1="364.4" y1="1051" x2="360.3" y2="733.3" stroke="#000" stroke-width="1.6"/><polygon points="357.1,734.3 363.5,734.3 360.3,724.3" fill="#000"/>
<line x1="587.1" y1="724.5" x2="587.1" y2="1024.5" stroke="#000" stroke-width="1.6"/><polygon points="583.9,1023.5 590.3000000000001,1023.5 587.1,1033.5" fill="#000"/>
<line x1="746.6" y1="1038.7" x2="746.6" y2="834.5" stroke="#000" stroke-width="1.6"/><polygon points="743.4,835.5 749.8000000000001,835.5 746.6,825.5" fill="#000"/>
</svg></body></html>
